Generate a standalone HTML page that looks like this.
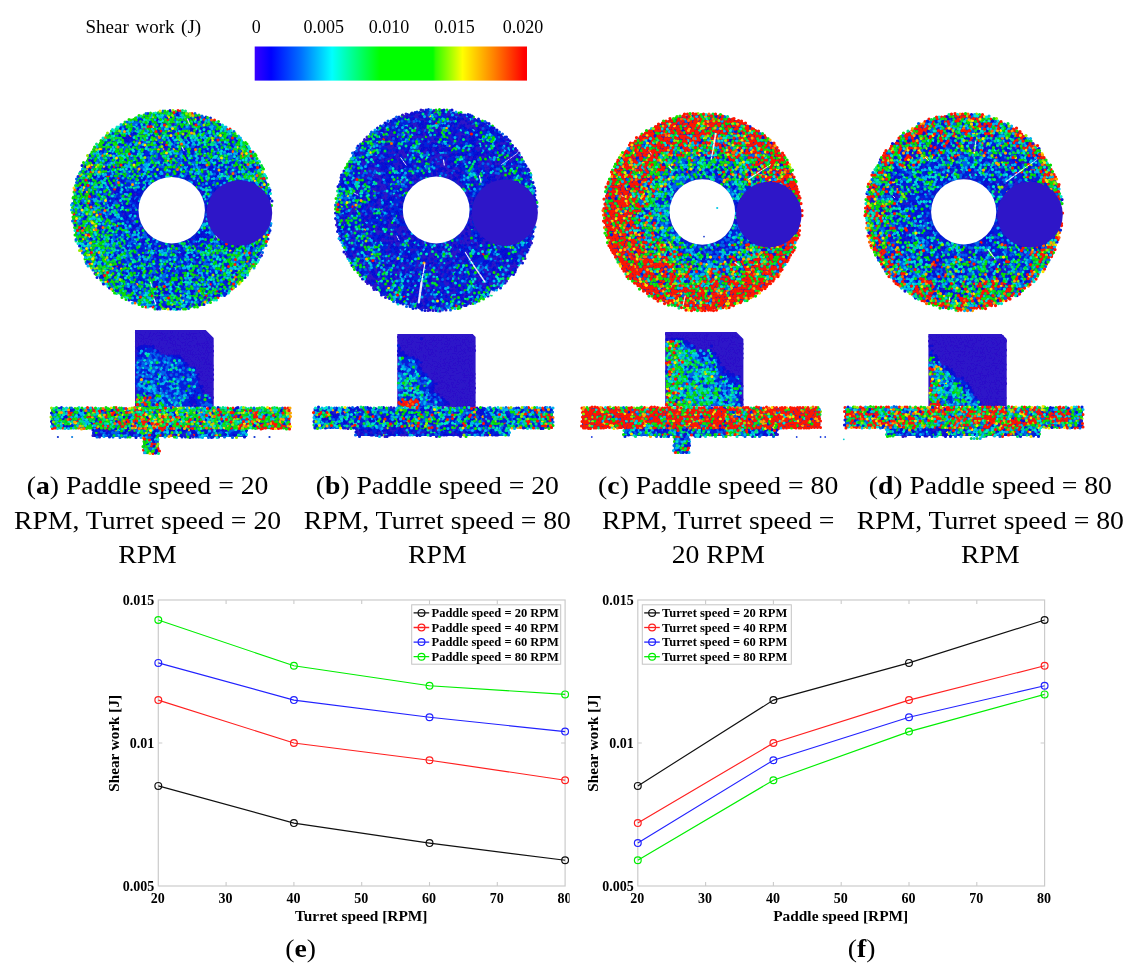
<!DOCTYPE html>
<html><head><meta charset="utf-8"><title>Shear work</title>
<style>html,body{margin:0;padding:0;background:#fff}svg{display:block}</style></head>
<body><svg width="1133" height="972" viewBox="0 0 1133 972">
<rect width="1133" height="972" fill="#fff"/>
<defs><filter id="bl" x="0" y="0" width="1133" height="480" filterUnits="userSpaceOnUse"><feGaussianBlur stdDeviation="0.55"/></filter><linearGradient id="cb" x1="0" x2="1" y1="0" y2="0">
<stop offset="0" stop-color="#3800ff"/><stop offset="0.06" stop-color="#0000ff"/><stop offset="0.17" stop-color="#0070ff"/><stop offset="0.284" stop-color="#00ffff"/>
<stop offset="0.36" stop-color="#00ff90"/><stop offset="0.46" stop-color="#00ff00"/><stop offset="0.655" stop-color="#00ff00"/><stop offset="0.665" stop-color="#30ff00"/><stop offset="0.763" stop-color="#ffff00"/>
<stop offset="0.88" stop-color="#ff8000"/><stop offset="0.99" stop-color="#ff0000"/></linearGradient></defs>
<rect x="254.7" y="46.5" width="272.3" height="34.1" fill="url(#cb)"/>
<g filter="url(#bl)"><circle cx="171.7" cy="210.2" r="99" fill="#0a28c8"/><g transform="scale(0.5)" fill="none" stroke-linecap="round" stroke-width="6"><path stroke="#ff1500" d="M356 221h0m5 1h0m23 5h0m24 12h0m-73 1h0m125 18h0m-138 4h0m-93 71h0m-47 10h0m32 8h0m3 2h0m19 4h0m286 0h0m-361 14h0m68 7h0m-52 29h0m-29 21h0m2 15h0m85 8h0m301 18h0m-356 59h0m55 4h0m-20 31h0m206 5h0m43 10h0m-29 4h0m-22 9h0m-109 1h0m-12 22h0m14 0h0"/><path stroke="#ff1c00" d="M399 235h0m-112 23h0m167 1h0m-98 8h0m-23 23h0m10 26h0m-162 19h0m342 39h0m-322 54h0m306 100h0m-65 12h0m18 24h0m-147 10h0m123 21h0"/><path stroke="#ff6600" d="M261 271h0m-50 4h0m255 28h0m-261 8h0m280 2h0m-123 16h0m-202 22h0m8 104h0m321 51h0m6 17h0m-225 83h0"/><path stroke="#fda800" d="M202 298h0m124 0h0m-9 1h0m30 0h0m-12 23h0m-162 18h0m0 44h0m-7 94h0m-3 23h0m47 18h0m15 18h0m17 0h0m32 32h0"/><path stroke="#fae500" d="M338 234h0m53 5h0m-139 9h0m55 5h0m31 10h0m87 18h0m50 14h0m-276 4h0m15 9h0m-30 21h0m-6 2h0m31 2h0m-16 1h0m317 28h0m-342 13h0m-20 1h0m40 83h0m-9 14h0m282 29h0m-283 8h0m6 18h0m12 19h0m15 17h0m270 0h0m-114 37h0"/><path stroke="#96eb00" d="M335 231h0m-29 3h0m-91 32h0m103 6h0m-5 7h0m46 0h0m-35 5h0m161 14h0m2 4h0m21 22h0m-322 19h0m-23 6h0m14 4h0m-11 28h0m23 66h0m-7 49h0m95 13h0m-73 2h0m296 18h0m-317 7h0m318 0h0m-312 1h0m133 3h0m-115 1h0m255 0h0m15 0h0m21 1h0m-276 8h0m246 9h0m-107 32h0m-32 10h0m16 8h0m-19 8h0"/><path stroke="#1ee400" d="M328 227h0m-40 3h0m60 14h0m5 10h0m27 8h0m-2 4h0m-69 11h0m119 0h0m-123 9h0m182 7h0m3 13h0m-148 19h0m-166 1h0m253 4h0m-232 4h0m15 8h0m-10 1h0m64 0h0m98 1h0m-111 3h0m-73 1h0m344 14h0m-376 22h0m-1 10h0m-2 21h0m33 5h0m68 0h0m-69 4h0m6 4h0m9 6h0m-32 1h0m59 6h0m-42 1h0m36 1h0m-60 3h0m92 14h0m-61 4h0m10 1h0m-39 12h0m59 20h0m176 0h0m-80 3h0m178 23h0m-145 9h0m-137 4h0m80 15h0m-54 12h0m182 2h0m-110 17h0m18 5h0m-8 4h0m93 0h0m-75 5h0m27 0h0m-36 17h0"/><path stroke="#15e200" d="M322 226h0m50 4h0m3 5h0m-20 4h0m-82 1h0m-8 13h0m176 0h0m-47 1h0m-161 8h0m28 0h0m178 5h0m-141 1h0m138 2h0m-150 2h0m-5 9h0m-80 5h0m2 3h0m30 0h0m42 0h0m36 0h0m166 0h0m-264 8h0m30 1h0m250 1h0m-138 4h0m119 0h0m-30 8h0m-24 4h0m-51 1h0m-192 1h0m-2 5h0m263 0h0m68 0h0m-298 2h0m296 2h0m-166 8h0m161 18h0m-40 4h0m-19 1h0m87 9h0m-339 4h0m206 4h0m-206 6h0m-12 9h0m-29 22h0m17 0h0m-14 22h0m25 4h0m-28 1h0m2 17h0m384 19h0m-332 10h0m-5 4h0m239 4h0m71 0h0m17 0h0m-8 14h0m-281 9h0m264 0h0m-323 4h0m52 1h0m-15 4h0m108 5h0m90 3h0m-57 1h0m122 12h0m-161 1h0m75 3h0m-156 2h0m101 3h0m-110 5h0m260 2h0m-241 2h0m-21 1h0m224 4h0m-22 14h0m-84 10h0m-96 3h0m161 11h0m-44 2h0m-2 7h0m8 3h0"/><path stroke="#0be000" d="M336 223h0m27 4h0m-85 4h0m7 4h0m-27 4h0m179 4h0m-101 5h0m-73 1h0m109 1h0m68 7h0m-147 1h0m123 4h0m-9 4h0m-177 1h0m168 1h0m-77 3h0m-50 1h0m-48 8h0m67 0h0m-88 1h0m245 0h0m-127 3h0m166 1h0m-269 1h0m256 3h0m-275 1h0m1 3h0m269 5h0m-278 6h0m232 3h0m88 1h0m-56 3h0m-185 1h0m97 0h0m125 0h0m-212 1h0m25 0h0m-49 3h0m72 0h0m44 4h0m95 0h0m-162 1h0m-102 4h0m37 0h0m-12 4h0m260 0h0m-319 2h0m-1 2h0m76 1h0m249 4h0m-109 1h0m-107 4h0m233 0h0m-54 4h0m-218 1h0m47 1h0m-104 8h0m82 1h0m-11 9h0m-80 21h0m-3 6h0m375 17h0m-378 22h0m17 0h0m-36 1h0m96 13h0m-87 4h0m55 4h0m44 6h0m282 0h0m-383 5h0m21 9h0m-10 7h0m354 1h0m13 4h0m-212 5h0m208 0h0m-328 1h0m-11 3h0m286 0h0m-255 1h0m123 1h0m-44 3h0m74 0h0m-163 1h0m-18 2h0m153 0h0m-172 2h0m114 0h0m-117 3h0m16 1h0m286 0h0m-47 1h0m52 0h0m-186 2h0m-82 2h0m285 0h0m-209 12h0m16 0h0m-53 1h0m-50 3h0m50 7h0m78 0h0m159 2h0m-241 1h0m137 0h0m-42 2h0m-39 3h0m25 0h0m-120 1h0m199 7h0m73 0h0m-232 5h0m233 0h0m-129 1h0m-22 5h0m80 4h0m-160 3h0m54 0h0m-80 1h0m191 3h0m-86 6h0m-76 5h0m193 0h0m-170 4h0m141 10h0m-9 8h0m-119 4h0m69 1h0"/><path stroke="#02de00" d="M293 230h0m47 0h0m38 6h0m-111 3h0m121 1h0m-7 1h0m-54 2h0m48 0h0m-64 2h0m-64 4h0m109 0h0m43 4h0m-176 9h0m141 0h0m-22 1h0m-107 5h0m10 2h0m108 0h0m-16 1h0m113 4h0m41 10h0m-185 5h0m148 3h0m-249 1h0m285 0h0m-11 3h0m-246 1h0m78 0h0m-36 1h0m99 0h0m-159 4h0m29 5h0m-34 3h0m43 0h0m228 0h0m31 0h0m-24 5h0m-104 1h0m-127 3h0m17 0h0m9 0h0m70 4h0m-98 1h0m234 0h0m-17 1h0m-210 3h0m121 0h0m91 0h0m-284 1h0m176 0h0m122 4h0m-34 4h0m-253 1h0m203 5h0m-23 3h0m105 0h0m36 0h0m-353 2h0m16 0h0m62 0h0m48 0h0m-113 3h0m48 0h0m5 0h0m15 0h0m212 0h0m-62 1h0m17 0h0m-201 3h0m199 4h0m-223 2h0m26 0h0m-54 3h0m32 1h0m340 3h0m-366 1h0m22 9h0m-13 5h0m8 4h0m-34 4h0m47 0h0m-26 1h0m-28 3h0m27 6h0m84 0h0m-108 1h0m83 7h0m2 4h0m-58 1h0m19 5h0m5 1h0m3 12h0m12 6h0m-21 9h0m16 0h0m-30 9h0m55 3h0m-39 1h0m-36 1h0m23 7h0m-23 1h0m44 0h0m14 1h0m40 3h0m-63 1h0m-23 3h0m-13 4h0m368 0h0m-325 5h0m203 0h0m-3 4h0m21 2h0m-11 2h0m-209 1h0m250 0h0m-184 4h0m200 1h0m-59 4h0m-110 6h0m-130 7h0m71 0h0m-51 2h0m131 0h0m134 0h0m-179 2h0m-58 1h0m131 0h0m79 4h0m84 0h0m-331 5h0m281 0h0m10 0h0m-74 6h0m-196 3h0m15 2h0m148 2h0m-124 1h0m105 0h0m-101 4h0m203 0h0m-53 1h0m47 0h0m-142 4h0m-91 1h0m61 3h0m74 0h0m21 0h0m-25 5h0m-122 4h0m10 1h0m135 0h0m42 8h0m-114 1h0m88 0h0m-90 4h0m120 0h0m20 0h0m-123 4h0m64 0h0m46 1h0m-116 1h0m-48 4h0m135 0h0m-97 3h0m115 2h0m-153 2h0m88 9h0m53 1h0m-13 5h0"/><path stroke="#00e138" d="M365 241h0m-115 3h0m6 5h0m106 0h0m37 9h0m-121 8h0m188 0h0m-253 5h0m120 0h0m119 0h0m-227 4h0m11 0h0m5 1h0m41 1h0m171 3h0m-40 4h0m-186 2h0m177 0h0m-3 2h0m40 0h0m-232 5h0m48 0h0m156 1h0m-173 4h0m66 1h0m73 7h0m-131 1h0m256 0h0m-322 1h0m236 4h0m59 1h0m-175 2h0m-95 1h0m125 0h0m15 1h0m4 4h0m124 0h0m-155 8h0m30 0h0m108 4h0m-209 1h0m15 0h0m-89 13h0m127 5h0m40 0h0m47 1h0m-232 3h0m99 0h0m221 0h0m14 0h0m42 0h0m-378 5h0m303 1h0m59 3h0m-348 1h0m21 0h0m236 4h0m-275 1h0m20 35h0m29 4h0m-25 1h0m33 4h0m-5 1h0m30 9h0m-56 9h0m21 7h0m-50 5h0m14 6h0m87 9h0m38 7h0m-64 2h0m12 8h0m296 0h0m-20 5h0m-261 4h0m46 0h0m91 6h0m133 3h0m-291 1h0m146 0h0m45 8h0m-3 4h0m64 2h0m-278 2h0m36 0h0m275 0h0m-265 2h0m224 0h0m-237 3h0m126 1h0m-139 4h0m-51 1h0m276 0h0m-14 3h0m11 1h0m41 1h0m-284 4h0m295 4h0m-186 6h0m175 3h0m9 0h0m-32 4h0m-12 1h0m-64 4h0m-65 6h0m-22 2h0m4 1h0m82 0h0m-118 1h0m-18 3h0m76 4h0m-24 5h0m57 0h0m93 1h0m-154 4h0m138 5h0m-55 5h0m35 4h0m7 3h0m-140 1h0m75 6h0m25 3h0m-53 8h0m-20 1h0"/><path stroke="#00e481" d="M365 221h0m6 1h0m-64 5h0m14 4h0m-3 4h0m-22 9h0m42 0h0m21 0h0m51 1h0m-102 5h0m-72 7h0m22 1h0m13 5h0m-29 3h0m70 4h0m68 1h0m-156 1h0m135 0h0m-139 4h0m140 1h0m-132 2h0m136 1h0m65 4h0m-6 1h0m-230 3h0m196 1h0m-176 1h0m125 0h0m-106 3h0m110 0h0m-62 5h0m208 0h0m-234 9h0m20 5h0m-93 5h0m266 0h0m-215 3h0m14 0h0m101 0h0m155 0h0m-58 2h0m75 2h0m-217 1h0m98 0h0m-73 1h0m-123 4h0m235 0h0m-177 8h0m260 0h0m-338 2h0m196 4h0m-138 3h0m204 4h0m58 9h0m17 1h0m-328 9h0m37 4h0m43 0h0m146 0h0m-7 1h0m-144 1h0m17 2h0m125 1h0m3 4h0m-185 4h0m-16 11h0m-56 9h0m52 0h0m207 0h0m-257 4h0m30 3h0m-17 2h0m101 3h0m-51 9h0m-26 10h0m25 17h0m199 0h0m-237 6h0m33 3h0m214 9h0m-259 1h0m70 1h0m185 3h0m-273 4h0m23 0h0m201 0h0m-167 2h0m317 2h0m-224 2h0m31 0h0m-118 4h0m151 0h0m149 3h0m-270 1h0m-44 6h0m135 0h0m-122 4h0m254 0h0m-42 8h0m49 5h0m-208 1h0m197 3h0m-263 5h0m101 4h0m56 0h0m-171 1h0m218 0h0m74 0h0m-269 4h0m-19 5h0m303 0h0m-3 3h0m-220 6h0m190 4h0m2 4h0m-167 1h0m56 12h0m-116 1h0m5 0h0m193 0h0m-154 4h0m29 13h0m-59 4h0m35 2h0m63 0h0m73 0h0m-19 4h0m-52 8h0"/><path stroke="#00e5cf" d="M311 226h0m14 5h0m29 3h0m48 5h0m-77 2h0m66 2h0m-70 1h0m-38 5h0m-49 5h0m4 0h0m31 0h0m179 0h0m-135 4h0m18 0h0m61 0h0m70 3h0m-103 1h0m83 0h0m-220 4h0m197 0h0m-191 6h0m186 3h0m-88 1h0m119 0h0m-143 3h0m-90 1h0m137 1h0m-107 3h0m120 0h0m47 0h0m41 0h0m-214 1h0m141 0h0m21 0h0m12 4h0m-34 4h0m121 0h0m-203 1h0m205 3h0m-277 1h0m230 0h0m-16 1h0m-240 3h0m24 0h0m276 0h0m-192 1h0m106 3h0m-201 1h0m233 0h0m-245 1h0m79 0h0m-13 3h0m19 1h0m151 0h0m-184 3h0m33 0h0m-54 1h0m199 0h0m-90 1h0m-137 3h0m286 0h0m32 2h0m-88 3h0m-207 1h0m202 0h0m-100 3h0m176 1h0m-241 5h0m47 0h0m-54 3h0m-7 1h0m239 0h0m33 1h0m-259 3h0m30 4h0m108 0h0m110 0h0m-312 1h0m11 0h0m238 0h0m85 1h0m-270 2h0m78 1h0m105 1h0m9 0h0m21 0h0m-299 3h0m329 0h0m-317 1h0m240 1h0m-31 3h0m104 0h0m-320 5h0m94 0h0m6 1h0m-74 7h0m85 0h0m-38 2h0m0 12h0m160 0h0m-206 5h0m206 5h0m-166 9h0m-71 12h0m69 1h0m10 0h0m-95 8h0m79 1h0m-35 12h0m-9 2h0m-20 3h0m237 5h0m-12 14h0m-121 1h0m-7 11h0m-46 2h0m175 4h0m24 0h0m-267 4h0m5 0h0m5 1h0m11 0h0m92 0h0m-94 3h0m264 0h0m-67 2h0m-174 4h0m50 0h0m42 0h0m-54 3h0m140 0h0m12 0h0m66 1h0m58 0h0m-193 1h0m93 0h0m-193 3h0m76 0h0m80 1h0m4 0h0m-54 3h0m160 0h0m11 0h0m-89 1h0m104 1h0m-330 3h0m301 0h0m-306 1h0m219 0h0m84 1h0m-217 2h0m172 0h0m-50 4h0m131 2h0m-326 4h0m194 1h0m-87 3h0m79 1h0m4 0h0m48 0h0m42 0h0m20 0h0m-227 4h0m88 0h0m97 4h0m-234 1h0m64 3h0m182 0h0m-222 2h0m-39 3h0m78 0h0m-22 1h0m7 8h0m105 4h0m99 0h0m-83 1h0m-176 1h0m170 0h0m-133 2h0m49 0h0m-76 6h0m125 1h0m16 0h0m58 4h0m-147 3h0m-21 1h0m68 1h0m-24 3h0m110 0h0m10 0h0m46 0h0m-83 1h0m-85 3h0m4 0h0m150 1h0m-188 4h0m50 4h0m-5 1h0m62 0h0m71 0h0m-148 5h0m57 0h0m-33 3h0m-14 1h0m73 1h0m-72 4h0m51 4h0m5 1h0"/><path stroke="#00b6ef" d="M362 230h0m-61 4h0m-36 9h0m-6 1h0m138 4h0m-155 1h0m31 0h0m31 9h0m32 0h0m114 0h0m-174 5h0m76 0h0m105 0h0m-164 3h0m10 1h0m99 0h0m-150 1h0m158 4h0m-7 3h0m-68 1h0m39 3h0m-89 2h0m198 0h0m-265 8h0m53 0h0m98 0h0m27 0h0m-11 1h0m-191 3h0m52 1h0m63 0h0m162 0h0m-55 4h0m40 1h0m-230 5h0m203 0h0m9 0h0m-245 3h0m40 0h0m131 0h0m105 0h0m5 0h0m-189 1h0m177 0h0m-206 3h0m-56 1h0m37 0h0m93 0h0m27 4h0m7 0h0m146 1h0m-242 3h0m125 0h0m10 1h0m-197 1h0m254 0h0m20 0h0m-221 3h0m198 0h0m-94 1h0m-148 3h0m43 0h0m19 0h0m109 0h0m78 0h0m47 1h0m7 1h0m-227 3h0m83 0h0m21 0h0m42 0h0m66 0h0m-204 4h0m73 0h0m25 0h0m12 0h0m4 0h0m15 0h0m-211 4h0m74 0h0m-115 1h0m16 0h0m230 1h0m62 0h0m36 0h0m-295 3h0m214 0h0m-120 2h0m-112 2h0m72 1h0m8 0h0m125 0h0m25 1h0m20 0h0m53 0h0m-299 4h0m72 0h0m129 1h0m58 0h0m-235 3h0m56 0h0m222 4h0m-223 4h0m-77 1h0m-24 4h0m5 0h0m64 0h0m-95 1h0m-10 1h0m65 4h0m-55 5h0m3 12h0m79 0h0m-59 1h0m6 0h0m67 0h0m19 3h0m-124 1h0m16 0h0m19 0h0m11 0h0m20 0h0m7 8h0m-11 1h0m-66 4h0m68 1h0m-75 4h0m41 1h0m28 7h0m-47 2h0m98 0h0m-50 4h0m25 0h0m-54 3h0m86 6h0m272 4h0m-133 1h0m-3 2h0m-236 1h0m54 1h0m-15 8h0m66 1h0m130 0h0m-147 3h0m155 1h0m-179 5h0m11 0h0m39 5h0m-29 2h0m151 0h0m-197 1h0m98 1h0m-34 3h0m-37 1h0m156 0h0m37 0h0m-205 4h0m284 0h0m-291 2h0m-37 2h0m76 0h0m6 0h0m151 0h0m88 0h0m-337 1h0m213 1h0m40 2h0m81 1h0m-4 1h0m-288 3h0m25 0h0m27 0h0m46 1h0m193 0h0m-73 1h0m-238 2h0m173 1h0m114 1h0m-258 4h0m213 1h0m-148 2h0m150 0h0m-237 2h0m223 0h0m51 0h0m-90 4h0m-146 1h0m188 0h0m8 2h0m-99 1h0m-137 1h0m11 0h0m267 0h0m-260 3h0m136 1h0m-94 1h0m239 0h0m-205 3h0m198 0h0m-209 1h0m48 0h0m46 0h0m2 3h0m111 0h0m-162 1h0m146 0h0m-125 1h0m149 3h0m-204 1h0m147 0h0m-11 1h0m-23 3h0m-141 1h0m213 0h0m-180 3h0m114 0h0m3 5h0m-30 1h0m27 7h0m-85 1h0m11 0h0m49 4h0m93 0h0m-56 1h0m-77 7h0m56 1h0m-122 4h0m177 1h0m-154 4h0m83 0h0m-58 4h0m102 0h0m-47 2h0m-76 4h0m-9 8h0m-15 1h0m139 0h0m-43 4h0m-69 1h0m9 4h0"/><path stroke="#0064ea" d="M390 227h0m-59 3h0m19 0h0m54 2h0m1 3h0m-125 1h0m48 0h0m-74 8h0m140 0h0m-123 1h0m6 0h0m74 3h0m-84 1h0m156 1h0m-112 3h0m17 0h0m103 0h0m-186 1h0m171 0h0m-139 3h0m153 0h0m-165 6h0m182 0h0m-22 3h0m-77 4h0m114 0h0m-147 6h0m16 0h0m103 1h0m-117 4h0m6 0h0m146 0h0m-180 4h0m-26 1h0m18 4h0m42 0h0m25 0h0m99 0h0m20 0h0m-115 3h0m35 0h0m-15 1h0m10 0h0m21 0h0m21 0h0m-146 1h0m163 2h0m-118 1h0m-24 4h0m135 0h0m46 0h0m-171 1h0m64 3h0m-67 1h0m141 0h0m-43 1h0m-215 3h0m126 0h0m73 0h0m26 0h0m46 1h0m-241 3h0m259 0h0m-275 2h0m57 0h0m6 0h0m192 0h0m-236 3h0m77 0h0m21 0h0m128 0h0m22 0h0m-115 1h0m142 0h0m-182 1h0m62 0h0m-113 2h0m120 0h0m-93 1h0m5 0h0m-78 1h0m141 0h0m-148 3h0m112 4h0m172 0h0m-178 1h0m35 0h0m-166 1h0m34 3h0m251 0h0m25 0h0m-51 2h0m-201 3h0m218 0h0m-208 1h0m195 3h0m64 0h0m-256 1h0m46 0h0m43 1h0m-91 2h0m103 2h0m125 0h0m-251 3h0m83 0h0m4 0h0m-26 1h0m104 0h0m47 0h0m-291 1h0m376 2h0m-233 2h0m83 0h0m109 0h0m5 0h0m-261 3h0m31 0h0m168 6h0m-253 3h0m48 0h0m16 1h0m-46 4h0m-42 5h0m54 3h0m4 1h0m22 0h0m301 0h0m-343 1h0m81 3h0m-43 1h0m12 0h0m-47 1h0m66 0h0m-78 3h0m87 0h0m145 0h0m-208 1h0m-42 3h0m66 1h0m-18 3h0m48 0h0m-95 1h0m16 0h0m52 0h0m-36 1h0m-9 4h0m22 1h0m60 4h0m-35 4h0m-80 4h0m46 0h0m-48 5h0m11 9h0m70 1h0m13 0h0m-68 8h0m27 5h0m6 0h0m68 0h0m-99 1h0m79 2h0m-31 1h0m44 0h0m3 1h0m261 0h0m-118 3h0m-217 1h0m221 3h0m-3 5h0m5 0h0m-271 1h0m74 0h0m7 3h0m-9 2h0m37 2h0m-112 2h0m292 3h0m-181 1h0m259 1h0m-112 3h0m-133 1h0m104 0h0m-170 3h0m11 0h0m51 0h0m-41 1h0m4 0h0m145 0h0m114 0h0m-98 1h0m-205 2h0m108 0h0m-39 2h0m36 0h0m212 0h0m-140 1h0m-179 2h0m26 0h0m25 0h0m32 1h0m67 0h0m167 0h0m-286 1h0m125 0h0m57 0h0m-149 3h0m58 0h0m213 0h0m-250 1h0m207 0h0m21 0h0m-293 3h0m47 1h0m47 0h0m130 0h0m11 1h0m63 2h0m-244 1h0m11 0h0m-46 1h0m109 0h0m10 0h0m-95 4h0m77 1h0m4 0h0m132 0h0m-284 2h0m98 1h0m130 0h0m63 1h0m-300 3h0m131 1h0m72 0h0m-84 4h0m36 0h0m172 0h0m-251 1h0m57 1h0m-120 6h0m43 0h0m172 0h0m36 1h0m-188 1h0m57 0h0m51 3h0m-53 1h0m26 0h0m20 0h0m95 0h0m-102 4h0m72 1h0m-142 3h0m52 1h0m67 0h0m36 1h0m-55 3h0m-81 1h0m36 0h0m81 3h0m35 0h0m-192 1h0m-30 4h0m64 0h0m31 1h0m32 0h0m42 3h0m-166 1h0m80 0h0m104 0h0m-143 4h0m180 0h0m-206 1h0m37 0h0m94 5h0m56 2h0m-140 1h0m-4 4h0m-4 1h0m139 0h0m-15 1h0m-81 3h0m105 0h0m-56 4h0m37 1h0m-30 4h0m17 0h0m-63 1h0m-49 4h0m72 0h0m29 3h0m-42 3h0m-22 3h0m40 0h0"/><path stroke="#0022de" d="M296 227h0m93 7h0m23 0h0m-69 1h0m-10 1h0m32 8h0m41 0h0m-48 9h0m10 0h0m-88 1h0m-13 3h0m146 0h0m-30 5h0m-34 1h0m-123 3h0m114 0h0m-68 2h0m47 0h0m-64 3h0m172 0h0m-63 1h0m-145 8h0m47 1h0m-56 3h0m46 0h0m90 0h0m26 0h0m-58 1h0m-92 4h0m23 1h0m159 0h0m48 0h0m-107 3h0m-82 1h0m20 0h0m157 0h0m-10 1h0m-62 2h0m-160 1h0m9 0h0m146 0h0m47 0h0m-24 1h0m-14 3h0m-171 1h0m92 1h0m73 0h0m53 0h0m-190 3h0m-6 1h0m65 4h0m5 0h0m26 0h0m26 1h0m7 3h0m37 0h0m-66 1h0m-30 3h0m93 0h0m13 0h0m29 0h0m-150 1h0m-66 4h0m58 0h0m197 0h0m-144 1h0m50 0h0m-43 3h0m93 0h0m-109 1h0m137 0h0m4 0h0m51 0h0m-283 3h0m219 1h0m41 0h0m-250 1h0m42 0h0m-6 3h0m107 0h0m74 0h0m9 0h0m-119 1h0m83 0h0m-251 3h0m134 0h0m130 0h0m-125 1h0m5 0h0m42 0h0m73 0h0m43 0h0m31 0h0m-275 1h0m159 0h0m-117 4h0m46 3h0m-116 1h0m-46 1h0m115 0h0m151 0h0m-222 3h0m99 1h0m93 0h0m16 1h0m-143 2h0m22 0h0m196 0h0m-244 1h0m214 0h0m-277 1h0m243 3h0m26 0h0m-189 1h0m28 0h0m140 0h0m83 0h0m-253 3h0m146 0h0m-193 1h0m41 0h0m39 0h0m-28 1h0m156 0h0m13 3h0m11 0h0m89 0h0m-93 1h0m-232 4h0m37 0h0m187 0h0m-189 9h0m-82 1h0m381 3h0m-259 1h0m-39 4h0m-41 1h0m31 0h0m191 0h0m-6 4h0m-230 1h0m86 4h0m-101 4h0m15 1h0m22 0h0m34 2h0m15 1h0m-42 1h0m46 0h0m-54 4h0m34 4h0m32 0h0m-57 1h0m50 0h0m11 0h0m-57 9h0m44 4h0m16 0h0m-35 5h0m-80 3h0m98 1h0m-111 3h0m47 2h0m-3 4h0m66 3h0m-21 1h0m162 0h0m-188 1h0m327 0h0m-330 3h0m197 0h0m-186 1h0m29 4h0m161 1h0m-159 3h0m167 1h0m14 0h0m-21 1h0m124 3h0m-344 1h0m47 0h0m152 0h0m-189 1h0m205 3h0m6 1h0m-242 3h0m245 0h0m30 1h0m-132 3h0m-26 1h0m-54 4h0m4 0h0m26 0h0m23 0h0m40 0h0m73 0h0m-5 1h0m87 0h0m-236 3h0m67 0h0m189 1h0m-16 1h0m-206 3h0m-51 1h0m118 0h0m-74 5h0m-76 2h0m293 0h0m-220 1h0m89 0h0m30 0h0m-172 2h0m116 0h0m24 2h0m-111 1h0m27 0h0m-79 1h0m318 0h0m-253 2h0m94 0h0m-178 1h0m142 0h0m183 0h0m-265 1h0m10 0h0m5 0h0m186 1h0m-231 2h0m73 0h0m94 0h0m-58 1h0m140 0h0m26 0h0m-208 1h0m60 3h0m-20 1h0m5 0h0m103 0h0m-151 4h0m124 0h0m-46 1h0m-87 3h0m165 0h0m-149 1h0m82 0h0m6 0h0m47 0h0m58 0h0m-175 4h0m124 0h0m-98 1h0m89 0h0m16 0h0m-195 2h0m83 0h0m-33 1h0m-1 4h0m15 0h0m150 0h0m-250 1h0m31 1h0m215 0h0m-108 2h0m5 1h0m-118 1h0m56 0h0m11 0h0m-12 3h0m161 0h0m-141 1h0m57 1h0m97 0h0m-214 2h0m229 0h0m-127 5h0m92 1h0m-168 4h0m-11 1h0m173 0h0m-102 3h0m35 0h0m90 0h0m-213 1h0m126 4h0m7 0h0m-37 1h0m-52 1h0m176 0h0m-54 2h0m37 0h0m-167 1h0m170 0h0m11 0h0m-178 4h0m93 1h0m-101 3h0m62 0h0m-57 1h0m5 0h0m78 0h0m32 1h0m-76 3h0m21 0h0m49 4h0m-77 4h0m37 2h0"/><path stroke="#070cd4" d="M354 225h0m-40 14h0m73 10h0m-146 8h0m12 1h0m130 1h0m49 2h0m-163 5h0m-7 2h0m-4 7h0m83 0h0m10 0h0m16 1h0m89 0h0m-209 1h0m130 0h0m30 2h0m66 0h0m-93 1h0m40 0h0m-165 1h0m206 4h0m-42 1h0m-92 4h0m91 3h0m46 0h0m-72 2h0m21 8h0m-10 1h0m-34 3h0m-71 5h0m-75 4h0m142 4h0m-178 6h0m249 0h0m48 0h0m6 3h0m-87 1h0m57 0h0m-296 1h0m234 0h0m35 0h0m-132 2h0m11 1h0m67 0h0m47 0h0m-187 1h0m264 3h0m-287 1h0m202 0h0m-178 3h0m216 2h0m-141 3h0m72 0h0m88 0h0m-177 1h0m58 0h0m-169 3h0m4 0h0m184 0h0m94 1h0m-225 1h0m136 0h0m51 0h0m-242 3h0m100 1h0m111 3h0m25 2h0m17 0h0m-216 3h0m177 0h0m6 0h0m-22 1h0m51 0h0m-273 3h0m33 0h0m198 0h0m25 1h0m-203 1h0m76 3h0m-57 2h0m-81 2h0m93 1h0m32 0h0m-46 1h0m29 0h0m-28 3h0m12 0h0m13 0h0m12 0h0m10 0h0m147 0h0m-173 1h0m10 0h0m150 0h0m122 0h0m-309 1h0m184 9h0m-8 3h0m-173 1h0m32 0h0m10 0h0m-3 3h0m147 0h0m125 1h0m-293 1h0m16 0h0m-42 2h0m-63 2h0m86 0h0m-68 3h0m73 1h0m11 0h0m-44 9h0m29 4h0m11 1h0m-34 4h0m46 0h0m-65 4h0m21 1h0m20 0h0m7 0h0m-4 4h0m-13 5h0m21 0h0m16 7h0m-4 2h0m-3 3h0m-43 1h0m40 4h0m150 0h0m-152 5h0m141 0h0m2 3h0m10 1h0m-249 1h0m231 3h0m11 1h0m-227 3h0m78 1h0m135 0h0m-93 1h0m-70 3h0m77 0h0m-32 1h0m7 0h0m118 1h0m-151 8h0m89 0h0m11 0h0m58 0h0m-78 1h0m144 0h0m28 2h0m-140 1h0m100 0h0m-181 1h0m103 0h0m22 3h0m-37 5h0m-131 1h0m78 0h0m-96 3h0m88 0h0m47 0h0m160 0h0m-248 1h0m27 0h0m145 0h0m-209 1h0m146 0h0m23 2h0m-20 1h0m-65 4h0m-32 2h0m110 0h0m-98 2h0m48 1h0m60 4h0m-110 2h0m42 0h0m-106 3h0m10 1h0m169 4h0m-90 4h0m155 0h0m-177 1h0m47 0h0m123 4h0m-213 1h0m-51 2h0m270 0h0m-166 1h0m53 0h0m-41 1h0m19 1h0m-95 2h0m62 0h0m-57 1h0m142 3h0m-109 2h0m106 0h0m-18 1h0m-60 3h0m115 0h0m-66 1h0m40 0h0m-190 3h0m146 1h0m15 0h0m-105 3h0m177 0h0m-131 1h0m-90 3h0m127 6h0m36 0h0m-104 1h0m52 0h0m2 3h0m6 0h0m-20 1h0m76 9h0m-7 3h0m-70 6h0m91 4h0m-9 1h0m-67 3h0m16 0h0m26 0h0m-59 5h0"/><path stroke="#2d12c9" d="M295 280h0m-25 1h0m175 3h0m-116 1h0m29 4h0m-26 10h0m71 13h0m-85 4h0m83 0h0m-180 33h0m5 34h0m45 6h0m-19 4h0m159 48h0m-209 12h0m68 7h0m161 18h0m-42 8h0m3 6h0m-99 9h0m62 0h0m-48 13h0m77 1h0m117 5h0m-107 3h0m-153 5h0m201 5h0m-127 4h0m33 5h0m52 9h0m-33 4h0m106 4h0m-137 5h0m-66 5h0m41 26h0m99 0h0m-24 13h0m-58 4h0"/><path stroke="#2d12c9" d="M346 248h0m-63 36h0m149 14h0m-21 18h0m93 0h0m-325 4h0m197 9h0m97 6h0m-62 8h0m57 0h0m-139 5h0m130 0h0m-75 12h0m26 2h0m-194 5h0m13 3h0m-13 13h0m188 0h0m-180 5h0m202 0h0m-242 6h0m52 8h0m4 4h0m-12 10h0m28 7h0m-9 5h0m28 5h0m-65 4h0m56 4h0m-10 9h0m27 7h0m-14 17h0m116 4h0m-103 2h0m135 3h0m54 8h0m19 0h0m-165 2h0m100 3h0m6 10h0m-70 3h0m162 2h0m-118 12h0m-174 22h0m156 1h0m-197 1h0m235 27h0m-7 25h0"/><path stroke="#070cd4" d="M340 221h0m15 9h0m41 6h0m0 3h0m-96 10h0m20 0h0m-42 1h0m124 7h0m-41 1h0m51 3h0m-16 1h0m-25 5h0m-132 4h0m59 5h0m-47 1h0m12 0h0m79 2h0m-92 1h0m-42 9h0m57 0h0m52 0h0m63 1h0m82 0h0m-173 3h0m40 1h0m69 1h0m-10 7h0m-100 1h0m167 0h0m-236 4h0m165 1h0m94 0h0m-81 3h0m-24 1h0m-97 4h0m142 4h0m-203 1h0m-30 1h0m256 4h0m-195 3h0m163 0h0m-238 4h0m349 0h0m-110 1h0m12 0h0m26 0h0m-236 1h0m297 0h0m-299 3h0m48 0h0m-79 1h0m104 0h0m36 0h0m48 0h0m76 4h0m-8 4h0m45 1h0m-157 5h0m-97 3h0m53 0h0m94 0h0m4 0h0m-172 2h0m105 0h0m-128 2h0m41 1h0m59 0h0m166 0h0m-252 1h0m17 0h0m32 0h0m60 3h0m-59 1h0m49 1h0m1 2h0m-16 1h0m109 0h0m131 0h0m-238 4h0m126 0h0m16 0h0m-177 2h0m154 3h0m29 0h0m-153 1h0m-88 3h0m-20 1h0m84 0h0m155 0h0m-226 4h0m98 0h0m-114 1h0m100 0h0m9 0h0m131 0h0m-189 3h0m51 0h0m-44 4h0m316 1h0m-323 1h0m2 8h0m56 0h0m-89 1h0m17 0h0m17 3h0m192 0h0m-170 1h0m15 0h0m-92 4h0m111 0h0m139 0h0m-1 4h0m-147 1h0m-22 3h0m6 6h0m16 0h0m-44 4h0m42 0h0m-93 1h0m105 12h0m-25 1h0m13 3h0m-18 5h0m165 0h0m-248 1h0m36 0h0m82 5h0m128 0h0m-169 3h0m43 2h0m111 3h0m-114 1h0m16 0h0m104 0h0m-201 3h0m98 0h0m105 0h0m-131 1h0m121 0h0m31 0h0m-203 1h0m69 2h0m126 1h0m-166 1h0m36 0h0m93 0h0m-159 3h0m153 1h0m67 0h0m-151 1h0m11 0h0m82 0h0m-138 3h0m42 1h0m88 0h0m20 0h0m47 0h0m8 3h0m62 0h0m-203 1h0m47 0h0m-33 4h0m-67 1h0m52 0h0m160 0h0m-1 4h0m-77 4h0m-24 2h0m16 2h0m17 0h0m-114 1h0m29 1h0m54 0h0m85 2h0m-11 1h0m-129 1h0m16 0h0m-23 3h0m92 1h0m-28 4h0m18 4h0m-21 1h0m-17 3h0m-10 1h0m-84 1h0m198 0h0m-216 4h0m57 1h0m161 0h0m-82 3h0m17 0h0m-110 1h0m48 1h0m-82 2h0m37 0h0m78 1h0m67 0h0m-64 4h0m57 0h0m-43 1h0m-173 4h0m285 0h0m-241 5h0m110 0h0m94 0h0m-138 3h0m140 0h0m-168 1h0m26 5h0m99 3h0m32 1h0m-98 1h0m56 0h0m-85 3h0m-62 1h0m71 1h0m-70 3h0m6 0h0m125 0h0m-53 1h0m104 0h0m-85 3h0m31 1h0m44 5h0m-111 3h0m67 1h0m-43 22h0m14 0h0"/><path stroke="#0022de" d="M421 236h0m-139 3h0m95 0h0m-99 1h0m23 4h0m139 5h0m-151 1h0m121 3h0m-160 1h0m67 0h0m23 3h0m48 0h0m29 0h0m-101 4h0m120 1h0m-32 1h0m-68 3h0m9 0h0m48 2h0m-128 3h0m41 0h0m109 0h0m-114 1h0m69 0h0m27 3h0m-120 1h0m193 1h0m-8 2h0m-202 1h0m171 0h0m-98 1h0m50 4h0m10 0h0m-141 1h0m186 2h0m-199 1h0m114 0h0m-55 5h0m36 1h0m-65 3h0m85 0h0m51 0h0m42 0h0m-104 1h0m77 0h0m-147 3h0m109 0h0m-120 1h0m198 0h0m-254 1h0m114 0h0m-55 2h0m27 1h0m140 0h0m-161 1h0m26 0h0m21 0h0m-139 3h0m161 2h0m17 0h0m110 2h0m-92 1h0m-124 4h0m75 0h0m-91 1h0m147 0h0m52 0h0m-66 4h0m-31 1h0m11 0h0m113 0h0m-158 4h0m-20 1h0m88 0h0m13 2h0m21 2h0m-58 3h0m160 0h0m-198 1h0m124 0h0m-108 1h0m151 0h0m-29 2h0m-161 1h0m16 0h0m40 0h0m84 0h0m-156 1h0m10 0h0m47 0h0m27 0h0m140 0h0m-128 3h0m10 0h0m37 0h0m-151 1h0m-46 1h0m125 0h0m68 0h0m-102 3h0m47 0h0m-63 1h0m36 0h0m22 0h0m46 0h0m31 0h0m-205 3h0m22 0h0m138 0h0m-15 1h0m84 0h0m-198 1h0m59 2h0m80 1h0m29 0h0m-259 1h0m89 0h0m182 0h0m5 0h0m-44 3h0m130 2h0m9 0h0m-121 4h0m26 0h0m-278 4h0m62 0h0m2 4h0m37 1h0m280 0h0m-334 4h0m72 0h0m144 0h0m107 0h0m-326 4h0m42 0h0m-56 4h0m47 1h0m-20 9h0m10 0h0m36 0h0m-15 1h0m19 3h0m145 1h0m-165 5h0m28 0h0m-24 3h0m16 0h0m-77 13h0m53 0h0m14 0h0m-50 1h0m204 4h0m-166 1h0m-76 3h0m54 1h0m35 0h0m15 0h0m-39 4h0m17 0h0m24 4h0m-43 1h0m25 1h0m-12 3h0m-5 1h0m-11 9h0m-27 3h0m35 1h0m37 0h0m265 0h0m-300 5h0m-6 4h0m154 1h0m139 2h0m-364 1h0m91 4h0m6 0h0m46 1h0m-50 4h0m67 0h0m64 0h0m14 0h0m-135 1h0m43 0h0m10 0h0m10 0h0m100 0h0m93 0h0m-252 3h0m27 0h0m160 0h0m-296 1h0m145 0h0m58 0h0m98 0h0m-176 1h0m-118 3h0m292 0h0m-187 1h0m45 0h0m17 0h0m73 0h0m42 0h0m-269 3h0m110 1h0m73 0h0m-84 1h0m4 0h0m84 0h0m-102 3h0m192 0h0m7 0h0m56 0h0m-325 4h0m256 0h0m51 0h0m-212 1h0m104 1h0m-75 3h0m24 0h0m21 0h0m59 0h0m-99 1h0m88 1h0m-189 2h0m143 0h0m64 0h0m15 0h0m-186 1h0m234 0h0m-191 4h0m38 0h0m41 0h0m42 0h0m20 0h0m-155 1h0m26 0h0m102 0h0m-147 3h0m130 0h0m-42 1h0m4 0h0m90 0h0m-215 1h0m156 0h0m-199 3h0m51 0h0m23 0h0m134 2h0m-127 2h0m25 0h0m32 0h0m161 0h0m-188 1h0m80 0h0m36 0h0m-62 1h0m12 3h0m-100 1h0m170 3h0m-104 1h0m5 0h0m53 0h0m-120 1h0m76 4h0m83 0h0m-22 1h0m55 2h0m-198 1h0m15 0h0m132 0h0m-213 1h0m140 0h0m-86 3h0m156 0h0m-15 1h0m35 1h0m-174 2h0m69 4h0m59 1h0m41 0h0m-118 1h0m15 0h0m129 0h0m-91 3h0m93 0h0m-165 1h0m79 1h0m-73 3h0m53 1h0m17 0h0m3 0h0m-131 4h0m47 0h0m170 0h0m-41 1h0m-102 4h0m38 0h0m99 0h0m-91 5h0m14 0h0m26 7h0m-139 1h0m51 1h0m61 3h0m31 0h0m-86 4h0m11 1h0m4 0h0m-12 6h0"/><path stroke="#0064ea" d="M326 222h0m34 4h0m-68 1h0m58 13h0m70 4h0m-115 4h0m97 1h0m3 3h0m-129 2h0m102 0h0m-54 3h0m31 0h0m16 0h0m5 0h0m-92 1h0m83 0h0m-77 3h0m37 1h0m141 1h0m-55 4h0m-179 5h0m224 0h0m1 3h0m-19 1h0m-70 3h0m-137 2h0m42 0h0m76 4h0m84 0h0m34 1h0m-215 2h0m-13 6h0m12 0h0m62 0h0m-10 1h0m158 2h0m-213 1h0m145 0h0m-70 4h0m146 0h0m-260 1h0m37 0h0m160 0h0m-46 1h0m144 0h0m-304 3h0m189 0h0m60 0h0m-138 1h0m26 0h0m20 0h0m68 0h0m-197 4h0m236 1h0m-169 2h0m16 0h0m150 0h0m-276 1h0m119 0h0m111 1h0m-55 3h0m-166 1h0m113 0h0m-113 3h0m193 1h0m31 0h0m58 0h0m-122 5h0m-124 1h0m113 0h0m85 2h0m38 0h0m-141 1h0m62 0h0m10 0h0m16 0h0m47 0h0m-181 1h0m5 0h0m78 0h0m-91 3h0m79 0h0m-147 2h0m307 0h0m-138 2h0m-42 1h0m-171 1h0m71 3h0m47 0h0m192 0h0m-99 1h0m30 0h0m27 0h0m-258 4h0m68 0h0m130 0h0m37 0h0m-139 4h0m167 1h0m78 0h0m-318 1h0m110 0h0m-33 3h0m-17 1h0m5 0h0m-106 3h0m113 0h0m162 0h0m-188 2h0m-57 2h0m223 0h0m-172 1h0m41 0h0m-5 1h0m-60 3h0m187 0h0m-223 2h0m-2 3h0m37 1h0m46 0h0m16 0h0m265 0h0m-115 9h0m-200 3h0m-44 6h0m103 0h0m-75 4h0m24 4h0m-84 1h0m9 4h0m113 0h0m-6 8h0m-34 1h0m-79 1h0m9 0h0m4 3h0m35 0h0m22 0h0m-49 4h0m46 1h0m198 0h0m-216 4h0m69 4h0m-39 1h0m3 1h0m-22 2h0m21 0h0m-84 1h0m16 1h0m94 1h0m13 2h0m-110 1h0m58 0h0m325 4h0m-126 1h0m-158 4h0m-10 9h0m41 1h0m-29 2h0m-71 1h0m19 0h0m322 0h0m-238 1h0m-27 4h0m24 0h0m-98 1h0m56 0h0m48 0h0m-118 2h0m53 2h0m-49 4h0m61 0h0m28 0h0m119 0h0m-219 1h0m90 2h0m-72 1h0m250 0h0m-146 1h0m20 0h0m109 0h0m11 0h0m-184 3h0m89 0h0m196 0h0m-104 1h0m89 1h0m-169 2h0m89 0h0m-126 2h0m47 0h0m73 0h0m-101 3h0m21 1h0m170 0h0m-129 1h0m-53 2h0m14 0h0m-61 1h0m-127 1h0m69 0h0m161 0h0m46 0h0m-107 4h0m-79 3h0m6 1h0m244 0h0m15 0h0m-217 1h0m50 0h0m105 0h0m-88 1h0m-170 2h0m110 0h0m36 0h0m-21 1h0m-25 1h0m86 0h0m16 0h0m11 0h0m74 0h0m-113 2h0m-83 1h0m187 0h0m-222 1h0m102 0h0m31 0h0m-132 3h0m240 0h0m-88 1h0m5 0h0m-63 1h0m67 0h0m-205 4h0m19 3h0m128 0h0m42 0h0m21 0h0m-114 1h0m-44 4h0m188 0h0m-229 1h0m15 0h0m93 0h0m22 0h0m-45 3h0m-89 1h0m29 4h0m79 0h0m-33 1h0m7 0h0m27 3h0m-66 1h0m57 0h0m35 0h0m42 0h0m-168 3h0m-22 1h0m57 0h0m54 0h0m121 4h0m31 1h0m-53 1h0m-177 2h0m41 1h0m-21 1h0m6 0h0m-14 3h0m20 0h0m106 0h0m-7 1h0m26 0h0m74 0h0m-83 1h0m-118 4h0m121 0h0m45 0h0m21 0h0m-171 1h0m7 2h0m73 2h0m27 0h0m-138 4h0m135 0h0m-131 1h0m-16 2h0m93 0h0m-5 1h0m38 6h0m7 3h0m-62 1h0m27 0h0m-30 2h0m-22 6h0m88 8h0"/><path stroke="#00b6ef" d="M305 230h0m-31 5h0m49 0h0m41 0h0m-5 1h0m-49 3h0m108 0h0m-6 2h0m-94 2h0m6 6h0m50 4h0m51 0h0m-134 1h0m52 0h0m78 0h0m31 0h0m-206 4h0m178 0h0m-128 3h0m11 0h0m-63 1h0m141 10h0m36 0h0m10 0h0m46 0h0m-69 3h0m-62 1h0m135 0h0m-6 1h0m-85 3h0m-52 1h0m46 0h0m-90 3h0m145 0h0m-72 1h0m88 0h0m-182 1h0m36 0h0m78 0h0m-44 2h0m-82 1h0m170 0h0m-57 1h0m76 3h0m-224 1h0m71 5h0m48 3h0m-67 1h0m171 1h0m-100 2h0m-162 1h0m115 0h0m52 0h0m-112 4h0m120 1h0m20 0h0m49 3h0m69 0h0m-105 1h0m10 0h0m32 1h0m37 0h0m-67 3h0m-119 1h0m135 0h0m89 0h0m-283 4h0m177 0h0m41 0h0m-275 1h0m21 0h0m218 0h0m-123 3h0m5 0h0m43 0h0m57 0h0m-53 1h0m-89 1h0m4 2h0m40 0h0m205 0h0m-48 1h0m-82 1h0m-205 3h0m223 0h0m-100 1h0m15 0h0m-79 3h0m115 0h0m60 1h0m89 0h0m-166 1h0m62 0h0m-60 3h0m67 0h0m111 0h0m-79 1h0m73 0h0m-285 1h0m151 0h0m-139 3h0m-26 1h0m49 3h0m142 1h0m40 0h0m58 1h0m-283 4h0m180 3h0m66 1h0m-150 1h0m114 0h0m102 3h0m10 0h0m-83 1h0m-165 3h0m125 2h0m136 0h0m-132 3h0m-224 1h0m239 0h0m-227 4h0m48 0h0m291 0h0m-279 5h0m164 3h0m-275 18h0m54 4h0m-5 3h0m-2 2h0m18 6h0m20 0h0m32 7h0m-25 2h0m-46 3h0m225 1h0m-258 4h0m68 0h0m-18 5h0m45 4h0m1 5h0m-61 1h0m45 0h0m183 8h0m-262 1h0m113 3h0m-4 1h0m10 0h0m-66 3h0m68 2h0m-90 3h0m213 0h0m-176 5h0m89 0h0m120 0h0m-74 3h0m-126 1h0m-22 1h0m87 4h0m-123 4h0m350 0h0m-358 4h0m156 1h0m-79 4h0m57 0h0m82 0h0m17 0h0m-80 1h0m6 0h0m5 0h0m162 0h0m-269 3h0m-25 1h0m172 0h0m120 0h0m-240 1h0m136 0h0m-166 2h0m64 0h0m89 1h0m-204 1h0m73 0h0m45 3h0m193 0h0m-188 1h0m-78 1h0m148 4h0m-168 3h0m279 2h0m-299 3h0m105 0h0m-59 1h0m48 0h0m65 3h0m32 0h0m47 0h0m15 0h0m21 0h0m11 0h0m47 0h0m-131 1h0m99 1h0m-80 3h0m-141 1h0m148 4h0m80 3h0m-26 1h0m-135 1h0m12 0h0m154 0h0m-64 3h0m-188 1h0m213 0h0m-78 1h0m11 0h0m-148 2h0m77 1h0m132 1h0m-164 4h0m149 0h0m-83 1h0m-132 3h0m125 0h0m92 0h0m7 0h0m-104 1h0m56 0h0m21 0h0m-153 4h0m10 1h0m-39 3h0m112 6h0m37 0h0m-108 4h0m75 0h0m23 4h0m-71 4h0m-31 1h0m63 0h0m25 8h0m31 0h0m-119 2h0m34 4h0m69 3h0"/><path stroke="#00e5cf" d="M315 231h0m-26 8h0m65 5h0m78 0h0m-63 1h0m76 5h0m-122 2h0m121 6h0m-219 1h0m183 0h0m-180 3h0m27 0h0m145 0h0m20 1h0m-131 3h0m-31 1h0m177 0h0m25 0h0m-163 3h0m104 0h0m-11 1h0m-62 1h0m-60 3h0m-62 1h0m88 0h0m88 0h0m11 0h0m-40 3h0m129 6h0m-196 4h0m197 0h0m-127 4h0m78 0h0m-142 4h0m-64 2h0m37 0h0m2 3h0m176 0h0m-51 1h0m-52 1h0m2 4h0m115 0h0m-230 4h0m19 0h0m146 0h0m38 1h0m39 0h0m-272 2h0m182 1h0m-167 1h0m281 0h0m-1 3h0m-175 5h0m-19 4h0m-4 9h0m-53 1h0m121 0h0m-132 1h0m104 0h0m132 0h0m-72 2h0m84 2h0m-311 8h0m145 0h0m53 0h0m166 0h0m-234 1h0m36 0h0m122 4h0m-153 5h0m160 0h0m-256 3h0m4 1h0m-26 1h0m60 3h0m-29 5h0m-54 4h0m83 0h0m281 0h0m-110 1h0m-214 4h0m340 3h0m-316 5h0m183 1h0m-167 8h0m-17 14h0m21 0h0m-90 1h0m11 8h0m14 4h0m51 2h0m39 2h0m-83 2h0m-28 3h0m84 0h0m-63 1h0m19 0h0m47 9h0m168 0h0m-215 1h0m19 4h0m42 0h0m144 3h0m-254 6h0m25 3h0m51 0h0m27 0h0m-63 1h0m344 0h0m-342 4h0m25 8h0m-24 11h0m87 0h0m-111 4h0m317 0h0m-149 5h0m138 3h0m-281 1h0m236 0h0m51 0h0m-279 5h0m104 0h0m110 0h0m36 0h0m-205 4h0m103 1h0m86 3h0m-157 5h0m61 0h0m10 0h0m90 0h0m9 0h0m57 1h0m11 0h0m-195 2h0m-56 2h0m239 0h0m-197 3h0m16 1h0m99 0h0m17 0h0m-223 3h0m42 0h0m173 1h0m6 0h0m-150 5h0m183 0h0m-273 4h0m235 4h0m21 0h0m-40 1h0m-38 1h0m-158 3h0m20 0h0m230 0h0m27 0h0m-120 1h0m-87 3h0m-37 2h0m64 0h0m140 0h0m-39 3h0m6 0h0m-51 5h0m-115 4h0m140 0h0m-94 2h0m117 4h0m-77 4h0m-33 3h0m66 13h0m-100 1h0m105 1h0m12 3h0m-103 1h0m139 0h0m-107 1h0m14 0h0m29 3h0m9 0h0m-9 8h0"/><path stroke="#00e481" d="M338 227h0m28 3h0m-84 2h0m104 2h0m-17 1h0m-70 4h0m-6 1h0m-6 4h0m96 0h0m34 0h0m-123 5h0m82 0h0m-39 4h0m-52 1h0m64 0h0m40 0h0m-115 3h0m-42 1h0m49 3h0m170 1h0m-203 5h0m82 0h0m125 1h0m-179 3h0m111 4h0m-178 5h0m187 0h0m15 0h0m-173 1h0m60 3h0m42 1h0m16 1h0m66 3h0m4 0h0m56 6h0m-57 4h0m-89 4h0m-56 4h0m219 0h0m-104 1h0m-179 3h0m234 0h0m-124 1h0m10 0h0m161 0h0m-211 4h0m168 6h0m-121 3h0m160 0h0m-181 1h0m67 0h0m-179 3h0m20 1h0m224 0h0m37 0h0m-287 8h0m-24 1h0m79 4h0m167 0h0m100 0h0m-64 1h0m-293 3h0m41 1h0m-10 1h0m335 3h0m-260 1h0m213 0h0m15 0h0m-330 3h0m254 0h0m64 1h0m-272 3h0m66 0h0m13 5h0m-85 5h0m21 1h0m-25 3h0m63 0h0m-42 10h0m-70 4h0m7 4h0m-1 6h0m93 0h0m-54 4h0m-34 13h0m54 5h0m-46 1h0m61 0h0m-6 2h0m-42 1h0m55 23h0m-7 3h0m-45 5h0m84 9h0m-101 2h0m17 7h0m19 0h0m11 1h0m29 5h0m53 0h0m-4 3h0m-97 1h0m11 5h0m236 8h0m-281 1h0m62 0h0m159 3h0m-132 1h0m267 0h0m-291 1h0m218 0h0m-268 2h0m229 1h0m42 1h0m-34 3h0m-83 1h0m11 0h0m-105 1h0m25 0h0m202 3h0m-167 1h0m74 4h0m-101 4h0m64 0h0m118 0h0m-254 1h0m311 0h0m-109 1h0m-59 2h0m43 5h0m72 8h0m-222 1h0m-23 5h0m-10 1h0m60 4h0m175 0h0m-216 3h0m90 0h0m117 5h0m-47 1h0m-22 8h0m15 1h0m-77 1h0m104 0h0m-106 2h0m25 2h0m141 0h0m-34 3h0m33 5h0m-98 1h0m-81 2h0m-47 2h0m92 3h0m20 0h0m5 2h0m40 4h0m-95 7h0m95 2h0"/><path stroke="#00e138" d="M351 223h0m-34 2h0m16 2h0m65 3h0m-57 9h0m-60 4h0m52 1h0m66 0h0m30 4h0m-89 2h0m-81 3h0m127 0h0m-60 13h0m102 2h0m-147 4h0m8 3h0m82 0h0m-98 2h0m56 2h0m-108 6h0m267 4h0m-221 6h0m-7 3h0m41 1h0m172 0h0m-189 3h0m32 1h0m12 3h0m-133 5h0m181 0h0m-66 1h0m130 1h0m-170 4h0m-29 4h0m3 4h0m150 0h0m58 0h0m48 0h0m-326 4h0m349 2h0m2 4h0m-292 9h0m265 0h0m-80 4h0m-149 1h0m223 0h0m-108 4h0m113 3h0m-331 6h0m365 18h0m-273 12h0m-49 2h0m-6 4h0m51 0h0m0 9h0m-17 4h0m-82 23h0m13 13h0m-14 9h0m65 5h0m4 0h0m63 0h0m-80 3h0m26 0h0m-78 9h0m59 6h0m62 0h0m136 0h0m-163 3h0m-19 5h0m135 0h0m5 0h0m-184 4h0m10 0h0m32 0h0m51 2h0m-70 3h0m214 1h0m11 4h0m-170 1h0m-3 4h0m60 3h0m83 0h0m57 0h0m48 0h0m-103 6h0m41 1h0m-63 3h0m-154 4h0m237 5h0m-177 1h0m100 3h0m-174 4h0m172 1h0m58 0h0m-63 10h0m99 7h0m-62 1h0m15 1h0m-133 5h0m-66 2h0m49 10h0m-53 1h0m154 3h0m-140 1h0m196 0h0m-10 1h0m-180 3h0m171 3h0m-183 1h0m155 1h0m-88 9h0m37 0h0m-20 8h0m26 1h0"/><path stroke="#02de00" d="M368 226h0m-25 1h0m-35 3h0m-16 5h0m19 0h0m-7 4h0m17 0h0m40 0h0m66 5h0m-135 1h0m74 4h0m-52 1h0m100 0h0m-50 3h0m-110 1h0m65 3h0m-57 1h0m37 0h0m11 0h0m124 0h0m-132 5h0m8 3h0m51 0h0m89 1h0m-136 1h0m-65 3h0m-30 1h0m229 0h0m19 0h0m6 0h0m-72 8h0m42 0h0m-27 1h0m50 3h0m-235 1h0m103 0h0m143 0h0m-19 3h0m-41 1h0m-228 5h0m32 0h0m99 0h0m88 0h0m-135 1h0m171 0h0m-65 3h0m-94 1h0m-49 3h0m-4 1h0m20 0h0m5 0h0m72 0h0m70 0h0m37 3h0m71 6h0m-84 1h0m-231 4h0m261 0h0m61 0h0m-302 3h0m-22 1h0m141 0h0m-68 1h0m-30 3h0m42 1h0m5 0h0m-44 5h0m-18 3h0m124 0h0m137 0h0m-290 4h0m338 0h0m-301 1h0m167 1h0m-227 3h0m182 0h0m-51 1h0m13 4h0m195 4h0m-337 4h0m235 0h0m-130 2h0m-45 3h0m177 0h0m111 0h0m-210 1h0m92 5h0m-160 3h0m-52 14h0m-24 4h0m99 0h0m-43 1h0m28 3h0m-82 1h0m-6 10h0m-7 3h0m41 1h0m4 3h0m-4 14h0m-20 1h0m16 18h0m86 0h0m-108 8h0m11 1h0m39 3h0m25 2h0m-70 3h0m9 4h0m-30 6h0m105 0h0m-90 4h0m257 6h0m-233 3h0m17 0h0m-21 1h0m54 2h0m265 1h0m10 0h0m-96 4h0m27 2h0m37 0h0m-207 2h0m104 0h0m-26 2h0m126 0h0m-295 3h0m-9 1h0m243 0h0m-148 3h0m165 2h0m43 0h0m30 0h0m-259 1h0m98 2h0m109 1h0m4 8h0m-254 1h0m217 1h0m35 3h0m-27 1h0m-216 4h0m115 0h0m131 0h0m-235 1h0m139 2h0m128 1h0m-47 1h0m-162 3h0m-27 1h0m176 0h0m5 0h0m-31 4h0m73 4h0m-218 1h0m109 0h0m-107 4h0m89 0h0m-8 6h0m6 0h0m134 0h0m-273 3h0m194 0h0m52 1h0m-210 3h0m114 2h0m80 4h0m-163 3h0m186 0h0m-231 4h0m140 1h0m27 0h0m-46 1h0m-129 3h0m126 1h0m50 0h0m17 1h0m-174 3h0m17 4h0m91 5h0m47 0h0m-63 9h0m-37 1h0m-20 1h0m-2 3h0m111 5h0m-18 4h0"/><path stroke="#0be000" d="M330 222h0m62 9h0m-45 4h0m-76 1h0m74 3h0m-39 4h0m37 1h0m36 1h0m4 3h0m51 2h0m-83 8h0m38 3h0m-20 1h0m-37 1h0m95 0h0m18 3h0m-153 5h0m104 0h0m-151 9h0m234 0h0m-211 4h0m-62 1h0m288 3h0m-243 2h0m46 0h0m70 3h0m93 2h0m-122 3h0m21 0h0m-172 1h0m67 0h0m97 3h0m139 1h0m-252 4h0m163 1h0m-216 4h0m55 3h0m242 1h0m-238 1h0m-18 3h0m187 0h0m-72 2h0m-92 2h0m-82 1h0m119 0h0m20 0h0m209 1h0m-97 3h0m-144 1h0m195 1h0m-137 4h0m26 0h0m-28 4h0m-123 4h0m161 0h0m-18 4h0m-15 2h0m129 8h0m-277 3h0m280 1h0m-268 4h0m22 1h0m-65 5h0m57 9h0m-54 3h0m372 4h0m-115 1h0m-219 1h0m-36 8h0m95 23h0m-104 5h0m52 13h0m23 10h0m182 8h0m-211 14h0m-39 3h0m56 9h0m130 10h0m-140 1h0m283 3h0m-49 5h0m-42 1h0m94 0h0m-284 3h0m-28 13h0m317 0h0m-89 2h0m-199 2h0m275 2h0m-244 1h0m-8 3h0m163 4h0m110 0h0m-89 2h0m-138 2h0m-78 1h0m288 0h0m-102 4h0m-116 5h0m-77 3h0m193 0h0m-15 2h0m77 7h0m-140 1h0m46 0h0m-127 5h0m37 0h0m212 0h0m-133 5h0m-35 9h0m-66 3h0m-12 5h0m176 1h0m-158 3h0m52 0h0m132 6h0m-76 3h0m-61 1h0m50 1h0m-8 7h0m-16 1h0"/><path stroke="#15e200" d="M301 226h0m-5 10h0m35 3h0m40 0h0m-109 1h0m156 8h0m19 6h0m-151 8h0m88 0h0m-91 4h0m187 1h0m-95 4h0m-20 4h0m101 5h0m-210 5h0m114 8h0m40 5h0m24 4h0m-240 2h0m139 3h0m94 18h0m-236 1h0m129 5h0m-108 2h0m146 1h0m132 4h0m38 9h0m-243 5h0m245 1h0m-346 12h0m-14 2h0m358 7h0m-333 1h0m348 0h0m-381 21h0m21 1h0m-21 22h0m15 24h0m53 3h0m-32 6h0m-14 4h0m-9 9h0m47 5h0m-14 8h0m-8 13h0m51 1h0m209 8h0m-23 5h0m-238 4h0m54 0h0m222 1h0m-158 13h0m-46 5h0m-52 5h0m81 9h0m12 0h0m-76 5h0m31 8h0m105 1h0m-78 9h0m99 8h0m66 1h0m-116 5h0m-68 7h0m128 6h0m-133 4h0m18 5h0m143 4h0m-26 9h0"/><path stroke="#1ee400" d="M377 230h0m-78 1h0m116 4h0m-63 33h0m53 2h0m-189 5h0m88 0h0m-72 1h0m186 1h0m-112 3h0m-77 9h0m74 0h0m-87 5h0m27 8h0m134 1h0m39 4h0m-7 4h0m-57 1h0m-82 22h0m-34 4h0m168 2h0m85 13h0m28 4h0m-82 10h0m-257 12h0m31 4h0m-64 42h0m26 18h0m4 17h0m262 19h0m28 13h0m-242 13h0m-37 18h0m323 9h0m-258 4h0m-30 1h0m194 5h0m-127 3h0m161 2h0m-236 4h0m266 0h0m-264 4h0m16 0h0m-29 5h0m197 0h0m37 1h0m-43 4h0m65 2h0m-146 11h0m10 0h0m109 9h0m-174 4h0"/><path stroke="#96eb00" d="M346 221h0m27 6h0m7 0h0m-35 4h0m36 0h0m27 19h0m-75 3h0m-94 9h0m149 5h0m-22 1h0m58 8h0m-100 17h0m-131 6h0m-18 12h0m46 0h0m69 4h0m-94 15h0m119 9h0m192 18h0m-329 45h0m-4 26h0m9 15h0m336 36h0m-360 22h0m16 9h0m12 5h0m27 0h0m7 14h0m-27 7h0m232 14h0m-186 9h0m238 9h0m-11 8h0"/><path stroke="#fae500" d="M320 222h0m25 35h0m-3 14h0m99 0h0m-151 19h0m43 16h0m160 1h0m-260 9h0m210 0h0m-175 14h0m-93 4h0m350 10h0m4 25h0m-318 32h0m-47 19h0m30 10h0m-41 7h0m32 9h0m7 6h0m336 21h0m-355 24h0m12 21h0m151 100h0"/><path stroke="#fda800" d="M386 231h0m-137 32h0m134 3h0m-104 20h0m205 21h0m-206 31h0m160 2h0m-240 4h0m67 25h0m-77 55h0m-16 46h0m9 16h0m17 19h0m25 73h0m187 26h0"/><path stroke="#ff6600" d="M423 240h0m-104 35h0m44 13h0m-127 6h0m155 5h0m105 30h0m-82 1h0m-59 9h0m111 8h0m48 4h0m-277 14h0m-87 15h0m32 34h0m28 7h0m-4 34h0m-14 4h0m-27 2h0m306 93h0m-73 28h0"/><path stroke="#ff1c00" d="M312 263h0m153 13h0m-223 54h0m-63 63h0m354 90h0m-34 23h0m-29 23h0m-13 4h0m-128 40h0"/><path stroke="#ff1500" d="M348 225h0m81 15h0m-100 10h0m63 0h0m-96 3h0m6 0h0m134 27h0m65 23h0m-242 5h0m243 4h0m13 23h0m13 22h0m-356 3h0m4 11h0m-17 84h0m-4 6h0m22 9h0m276 18h0m-270 17h0m288 14h0m-256 26h0m-6 6h0m258 17h0m-186 26h0m56 2h0"/></g><circle cx="171.7" cy="210.2" r="33.2" fill="#fff"/><circle cx="239.4" cy="213" r="32.8" fill="#2e16c8"/><circle cx="436.2" cy="210" r="99.7" fill="#0a28c8"/><g transform="scale(0.5)" fill="none" stroke-linecap="round" stroke-width="6"><path stroke="#ff1500" d="M768 278h0m-63 135h0m261 96h0m-177 77h0m20 7h0m103 18h0"/><path stroke="#ff1c00" d="M872 247h0"/><path stroke="#fda800" d="M893 256h0m-164 204h0"/><path stroke="#fae500" d="M860 232h0m-119 73h0m-46 87h0m82 184h0"/><path stroke="#96eb00" d="M899 291h0m-219 108h0m3 13h0m337 83h0m-276 13h0"/><path stroke="#1ee400" d="M887 260h0m-138 41h0m211 15h0m71 43h0m-349 33h0m74 122h0m181 34h0m-128 55h0"/><path stroke="#15e200" d="M884 265h0m-32 8h0m-34 6h0m-81 4h0m7 10h0m-40 40h0m-2 4h0m47 45h0m-69 36h0m55 58h0m82 15h0m-103 40h0m2 14h0m245 52h0m-36 10h0m21 0h0"/><path stroke="#0be000" d="M894 220h0m-24 5h0m16 16h0m79 1h0m-12 9h0m-208 17h0m22 1h0m128 6h0m-121 7h0m-42 2h0m176 12h0m-3 5h0m105 14h0m-216 41h0m243 5h0m-244 7h0m-111 4h0m18 15h0m5 0h0m-13 22h0m-20 4h0m22 1h0m17 5h0m-18 22h0m69 0h0m226 48h0m-222 41h0m151 1h0m-165 4h0m64 46h0m-40 13h0m127 1h0m6 2h0m-8 6h0m4 13h0m15 0h0"/><path stroke="#02de00" d="M879 219h0m-7 1h0m46 6h0m29 8h0m-68 5h0m106 13h0m-179 21h0m129 28h0m-104 1h0m165 3h0m7 5h0m-151 8h0m-68 1h0m177 0h0m-266 9h0m163 0h0m-167 8h0m128 6h0m-126 9h0m267 18h0m-23 9h0m-245 4h0m114 8h0m-109 45h0m1 7h0m-17 3h0m104 0h0m-98 36h0m357 0h0m-8 4h0m-280 10h0m221 5h0m15 0h0m-15 7h0m-222 1h0m23 4h0m-27 1h0m219 0h0m-268 13h0m212 9h0m-205 4h0m159 4h0m-99 2h0m-36 8h0m20 10h0m152 0h0m-117 3h0m155 1h0m-8 3h0m47 1h0m-125 1h0m-60 3h0m133 6h0m39 3h0m-172 1h0m4 13h0m166 0h0"/><path stroke="#00e138" d="M882 225h0m40 0h0m-118 7h0m7 6h0m-14 5h0m9 23h0m-62 7h0m52 0h0m-17 10h0m187 0h0m-219 5h0m274 0h0m-39 4h0m-252 5h0m114 9h0m-135 9h0m68 7h0m228 11h0m29 3h0m-190 5h0m-113 1h0m93 0h0m24 4h0m-152 1h0m265 0h0m100 0h0m-123 3h0m-136 13h0m-124 14h0m105 0h0m-79 1h0m45 13h0m-14 5h0m-19 4h0m-43 5h0m80 13h0m7 0h0m-11 9h0m45 5h0m-68 17h0m-6 9h0m99 19h0m86 4h0m-92 5h0m39 4h0m-93 1h0m252 3h0m20 9h0m-282 5h0m10 10h0m265 0h0m-18 3h0m-99 26h0m-68 1h0m-57 10h0m9 3h0m-5 10h0m206 1h0m-44 4h0m-124 9h0m-41 8h0"/><path stroke="#00e481" d="M876 225h0m-59 14h0m94 4h0m-38 12h0m-52 2h0m110 9h0m-62 4h0m113 5h0m-137 4h0m114 0h0m-65 3h0m-84 1h0m-74 3h0m201 6h0m35 0h0m-8 14h0m-107 3h0m123 5h0m-260 1h0m-18 3h0m109 0h0m22 5h0m-118 1h0m32 0h0m111 13h0m-65 4h0m-85 5h0m10 1h0m134 8h0m111 4h0m-215 5h0m292 1h0m24 3h0m-281 1h0m154 0h0m-225 3h0m3 5h0m-40 5h0m59 10h0m-19 12h0m49 14h0m180 42h0m-195 2h0m-31 20h0m225 21h0m-67 10h0m-164 3h0m93 2h0m19 5h0m-65 3h0m33 24h0m126 6h0m-71 6h0m-44 6h0m-29 13h0m201 4h0m-13 4h0m-32 9h0m-98 9h0m47 10h0"/><path stroke="#00e5cf" d="M892 224h0m-28 4h0m1 5h0m75 6h0m-127 12h0m53 1h0m-35 4h0m90 5h0m-64 3h0m-32 5h0m-16 1h0m-49 3h0m205 4h0m-201 6h0m125 0h0m88 1h0m-17 3h0m-121 1h0m92 4h0m56 0h0m-27 1h0m-219 2h0m276 0h0m9 3h0m-283 12h0m73 0h0m180 4h0m-142 1h0m70 3h0m-204 5h0m131 10h0m-97 12h0m35 0h0m152 2h0m-60 4h0m155 0h0m-329 5h0m326 0h0m29 2h0m-1 14h0m3 7h0m-362 4h0m-24 3h0m43 0h0m5 0h0m62 2h0m-51 2h0m-62 11h0m107 3h0m-67 19h0m-11 9h0m9 0h0m74 9h0m-62 18h0m58 1h0m-89 8h0m116 14h0m20 3h0m-78 1h0m295 0h0m-283 4h0m101 4h0m36 1h0m45 5h0m51 7h0m-301 10h0m39 4h0m153 6h0m149 3h0m-39 6h0m3 3h0m-152 1h0m-27 3h0m87 0h0m-135 1h0m93 9h0m76 4h0m-214 1h0m237 5h0m-135 8h0m115 1h0m-10 7h0m-67 1h0m-69 8h0m73 1h0m71 4h0m-142 1h0m13 4h0m116 9h0m-135 1h0m99 7h0m-19 7h0"/><path stroke="#00b6ef" d="M901 224h0m32 8h0m-48 5h0m11 5h0m-6 5h0m-6 1h0m-9 3h0m105 1h0m-187 1h0m95 3h0m-131 3h0m-7 1h0m197 0h0m-184 6h0m211 4h0m-161 9h0m175 3h0m-233 1h0m50 1h0m181 4h0m-114 3h0m136 1h0m-81 4h0m91 4h0m-52 1h0m44 0h0m-274 4h0m103 0h0m42 1h0m5 0h0m-148 4h0m15 0h0m73 0h0m213 0h0m-335 6h0m9 4h0m203 8h0m14 0h0m95 0h0m-161 5h0m184 0h0m-84 8h0m21 2h0m-190 2h0m173 1h0m-281 1h0m369 0h0m-356 4h0m228 1h0m-118 3h0m-106 3h0m63 1h0m161 0h0m-125 1h0m-93 8h0m94 0h0m130 0h0m-187 1h0m61 1h0m128 4h0m-141 9h0m14 4h0m-108 3h0m-24 4h0m33 1h0m-12 1h0m65 3h0m22 9h0m-36 10h0m-64 8h0m70 10h0m34 0h0m-56 9h0m-50 13h0m384 0h0m-365 6h0m38 14h0m-42 7h0m27 0h0m37 0h0m88 0h0m40 1h0m164 0h0m-217 3h0m160 0h0m27 1h0m-338 1h0m61 0h0m-6 3h0m276 0h0m-270 1h0m290 0h0m-299 4h0m62 0h0m11 0h0m36 0h0m73 1h0m62 0h0m9 3h0m-173 1h0m161 0h0m-251 3h0m73 1h0m35 1h0m-107 2h0m43 1h0m141 0h0m-115 2h0m-32 7h0m12 0h0m26 1h0m141 5h0m-235 2h0m249 3h0m-50 2h0m17 1h0m-142 1h0m192 3h0m-199 2h0m-18 3h0m171 0h0m-147 4h0m66 1h0m-48 4h0m10 0h0m30 0h0m33 1h0m32 3h0m-102 1h0m-45 5h0m25 0h0m222 4h0m-10 1h0m-190 4h0m134 0h0m-154 3h0m168 0h0m-128 5h0m167 0h0m-213 1h0m82 7h0m7 1h0m13 0h0m28 0h0m-5 1h0m-117 4h0m151 0h0m-150 4h0m155 4h0m-122 4h0m76 9h0"/><path stroke="#0064ea" d="M900 221h0m-31 9h0m-76 4h0m120 0h0m-81 3h0m30 0h0m83 1h0m-159 1h0m-10 3h0m58 0h0m6 1h0m61 0h0m6 0h0m49 4h0m-11 1h0m-178 3h0m40 0h0m55 4h0m21 1h0m-112 4h0m220 0h0m-141 1h0m-109 7h0m196 0h0m68 0h0m-229 2h0m208 1h0m15 3h0m-184 1h0m-13 3h0m33 1h0m-20 3h0m199 0h0m-157 1h0m28 4h0m23 0h0m-187 1h0m224 4h0m-207 1h0m98 0h0m-2 11h0m157 1h0m-100 1h0m-102 3h0m-82 2h0m15 0h0m41 0h0m149 2h0m-176 1h0m31 0h0m150 0h0m11 1h0m-92 3h0m36 0h0m5 6h0m-12 1h0m-131 4h0m302 2h0m-285 1h0m109 0h0m52 0h0m-130 1h0m28 5h0m42 0h0m55 2h0m-204 1h0m47 0h0m80 0h0m-81 4h0m-21 1h0m41 0h0m135 0h0m-103 1h0m243 0h0m-152 3h0m-188 1h0m41 0h0m209 1h0m-13 2h0m-224 1h0m336 3h0m-131 2h0m103 0h0m29 5h0m-361 3h0m94 0h0m-89 5h0m369 0h0m-9 4h0m-319 2h0m-53 2h0m82 0h0m183 0h0m-10 1h0m-184 4h0m-72 5h0m261 1h0m-243 3h0m89 1h0m-100 4h0m73 8h0m-48 1h0m77 0h0m-80 4h0m-28 4h0m16 2h0m99 0h0m-56 3h0m-16 1h0m37 0h0m8 4h0m11 0h0m-17 4h0m-7 1h0m-60 3h0m42 11h0m-55 4h0m64 1h0m35 7h0m-44 5h0m-57 1h0m18 3h0m25 0h0m-5 1h0m18 0h0m-43 8h0m354 0h0m-341 4h0m26 1h0m7 4h0m199 0h0m-234 1h0m98 0h0m-116 3h0m97 0h0m-16 1h0m28 0h0m83 0h0m-172 1h0m289 2h0m-151 2h0m90 4h0m-136 4h0m-53 1h0m28 4h0m105 0h0m104 0h0m-269 3h0m16 1h0m31 1h0m236 0h0m-279 4h0m5 0h0m212 0h0m36 0h0m-92 1h0m55 2h0m51 0h0m-83 1h0m-178 1h0m23 0h0m249 0h0m-227 3h0m188 0h0m-218 1h0m135 1h0m-50 3h0m10 1h0m22 0h0m113 0h0m-11 1h0m-251 4h0m26 0h0m225 2h0m52 3h0m-141 2h0m-73 1h0m103 1h0m62 0h0m-235 3h0m5 1h0m82 1h0m91 3h0m-151 1h0m99 0h0m-85 3h0m36 1h0m126 0h0m-95 1h0m-12 4h0m-71 5h0m243 2h0m-47 1h0m-133 4h0m61 0h0m-29 2h0m-56 2h0m10 0h0m88 2h0m79 0h0m15 0h0m-185 3h0m63 0h0m-14 4h0m106 2h0m-160 5h0m148 2h0m10 0h0m-50 2h0m10 8h0m-31 1h0m-13 4h0m21 0h0m-8 4h0"/><path stroke="#0022de" d="M845 225h0m44 3h0m-3 4h0m58 0h0m-120 2h0m67 0h0m11 0h0m-96 4h0m30 0h0m123 4h0m-104 1h0m60 3h0m48 0h0m10 0h0m-173 2h0m-17 2h0m192 3h0m-49 2h0m15 1h0m30 0h0m6 0h0m-70 3h0m20 0h0m7 1h0m-153 1h0m22 0h0m151 0h0m-176 3h0m137 0h0m-121 1h0m200 0h0m-232 4h0m203 1h0m4 1h0m-95 2h0m-101 1h0m95 0h0m125 0h0m17 0h0m-73 3h0m70 1h0m-255 1h0m46 0h0m9 0h0m21 0h0m22 0h0m11 0h0m30 0h0m103 0h0m-74 3h0m16 0h0m-11 1h0m26 0h0m-203 1h0m228 2h0m-167 1h0m9 0h0m172 0h0m-51 1h0m-82 3h0m-52 1h0m-17 4h0m25 0h0m152 0h0m-49 4h0m-104 1h0m97 0h0m42 0h0m-32 1h0m-21 2h0m-169 1h0m177 0h0m125 1h0m-114 1h0m21 0h0m-220 3h0m228 0h0m-115 1h0m30 3h0m42 0h0m-131 2h0m-55 3h0m20 0h0m78 0h0m193 0h0m-76 1h0m-50 3h0m103 1h0m21 0h0m-284 4h0m204 0h0m11 1h0m66 0h0m-80 3h0m56 0h0m-255 1h0m12 0h0m25 0h0m260 0h0m-151 1h0m-164 2h0m52 0h0m89 0h0m78 0h0m32 0h0m31 0h0m-261 1h0m89 1h0m16 0h0m31 0h0m-154 4h0m219 0h0m-186 3h0m146 0h0m42 0h0m-145 1h0m32 1h0m214 2h0m-343 1h0m27 0h0m6 0h0m50 0h0m152 0h0m57 0h0m-182 1h0m40 0h0m122 0h0m-270 3h0m234 0h0m-202 1h0m99 0h0m202 1h0m-64 2h0m9 1h0m-269 1h0m74 0h0m178 3h0m110 0h0m-245 1h0m125 0h0m25 0h0m-223 1h0m301 0h0m-365 4h0m57 0h0m-37 1h0m271 0h0m-185 2h0m176 0h0m-259 1h0m5 0h0m246 3h0m-243 2h0m97 0h0m126 0h0m-168 3h0m20 1h0m-42 1h0m203 0h0m10 0h0m-179 3h0m-87 1h0m19 0h0m4 3h0m229 0h0m10 1h0m-232 4h0m56 0h0m33 0h0m-78 2h0m59 2h0m-88 1h0m99 0h0m-97 5h0m94 1h0m-118 2h0m5 1h0m43 0h0m218 1h0m-257 3h0m99 0h0m3 1h0m-15 1h0m-49 4h0m71 3h0m-7 5h0m-98 5h0m95 0h0m-17 1h0m-2 2h0m-52 1h0m-46 1h0m129 0h0m-85 3h0m26 0h0m30 1h0m-5 1h0m32 0h0m3 2h0m-79 2h0m-18 4h0m81 5h0m-7 3h0m-101 1h0m16 0h0m29 3h0m-3 4h0m239 1h0m-270 1h0m58 0h0m2 4h0m69 0h0m-42 1h0m-87 3h0m64 0h0m196 0h0m-226 5h0m34 4h0m-68 1h0m135 1h0m235 0h0m-305 2h0m126 0h0m-135 1h0m98 0h0m5 0h0m77 1h0m-162 2h0m118 0h0m80 1h0m14 0h0m74 0h0m-151 1h0m73 0h0m63 0h0m-266 1h0m32 0h0m-77 3h0m115 0h0m42 0h0m45 0h0m33 0h0m68 0h0m10 0h0m-332 1h0m44 0h0m22 0h0m104 0h0m183 0h0m-213 3h0m84 0h0m111 0h0m-229 1h0m-71 4h0m31 0h0m37 0h0m72 0h0m95 0h0m-146 1h0m37 0h0m-39 3h0m56 1h0m36 0h0m99 0h0m-227 3h0m177 1h0m-258 1h0m133 0h0m38 0h0m77 0h0m-185 2h0m-16 1h0m131 1h0m62 0h0m16 0h0m-179 3h0m145 1h0m47 0h0m-180 4h0m90 0h0m20 0h0m-85 4h0m109 0h0m98 0h0m-280 2h0m25 0h0m129 0h0m-177 3h0m94 1h0m27 3h0m4 0h0m-66 1h0m97 0h0m32 0h0m89 0h0m-270 1h0m278 2h0m-109 1h0m15 0h0m-166 1h0m175 5h0m19 0h0m21 0h0m37 0h0m-81 3h0m61 5h0m9 0h0m-81 1h0m-145 4h0m32 0h0m40 0h0m49 0h0m31 0h0m41 0h0m-163 3h0m130 0h0m-64 1h0m38 0h0m-32 1h0m22 0h0m-56 3h0m155 1h0m12 0h0m-234 1h0m72 7h0m43 0h0m-38 1h0m136 0h0m-213 1h0m19 2h0m55 0h0m54 0h0m41 1h0m-82 3h0m42 2h0m-77 1h0m-24 4h0m119 0h0m-54 3h0m-63 1h0m17 0h0m139 0h0m-96 4h0m41 1h0m-33 3h0m43 0h0m-26 1h0m-62 1h0m18 2h0m-6 1h0m-6 1h0m62 0h0"/><path stroke="#070cd4" d="M815 229h0m121 0h0m-93 1h0m63 3h0m-10 1h0m4 3h0m9 0h0m16 1h0m-67 1h0m16 0h0m47 0h0m-139 3h0m11 0h0m124 0h0m15 0h0m22 1h0m-134 3h0m16 0h0m32 0h0m74 0h0m-99 1h0m135 0h0m-83 1h0m41 0h0m-138 2h0m89 1h0m41 0h0m32 1h0m-156 1h0m8 2h0m36 0h0m71 0h0m28 0h0m-121 1h0m83 0h0m22 0h0m-135 1h0m4 0h0m15 0h0m85 0h0m56 0h0m-17 3h0m-177 1h0m58 0h0m123 1h0m42 0h0m-132 3h0m129 0h0m-162 1h0m59 0h0m-44 2h0m29 1h0m132 0h0m-155 1h0m3 0h0m11 0h0m26 0h0m10 0h0m16 0h0m-144 3h0m177 0h0m21 2h0m-221 2h0m53 1h0m151 0h0m58 0h0m-131 1h0m4 0h0m10 0h0m22 0h0m16 0h0m26 0h0m67 0h0m-164 3h0m89 0h0m63 0h0m16 0h0m-226 1h0m213 0h0m-34 1h0m-77 2h0m-118 2h0m46 0h0m52 0h0m73 0h0m-227 3h0m160 0h0m69 0h0m6 0h0m-241 1h0m281 0h0m17 0h0m-193 1h0m147 0h0m-93 2h0m47 0h0m-52 1h0m152 0h0m-286 1h0m66 0h0m48 0h0m4 0h0m38 0h0m57 0h0m-64 1h0m-69 2h0m47 0h0m17 0h0m19 0h0m-134 1h0m108 0h0m10 0h0m63 0h0m26 0h0m27 0h0m-156 1h0m3 0h0m116 0h0m-169 2h0m140 0h0m-120 1h0m10 0h0m52 1h0m84 0h0m11 0h0m30 0h0m11 0h0m15 0h0m-70 3h0m5 0h0m5 0h0m-196 1h0m4 0h0m46 0h0m48 0h0m42 0h0m78 0h0m46 0h0m-321 1h0m238 0h0m68 0h0m-180 2h0m-61 1h0m56 0h0m104 0h0m11 0h0m-218 1h0m155 0h0m6 0h0m-139 3h0m-30 1h0m47 0h0m29 0h0m32 0h0m11 0h0m15 0h0m89 0h0m-10 1h0m31 0h0m-216 3h0m73 0h0m77 0h0m94 0h0m-181 1h0m139 0h0m-99 1h0m173 0h0m-257 2h0m172 0h0m-136 1h0m5 0h0m223 0h0m-250 1h0m31 0h0m136 0h0m6 0h0m93 0h0m-310 3h0m47 0h0m121 0h0m9 0h0m79 0h0m-197 1h0m21 0h0m109 0h0m61 0h0m-216 3h0m31 0h0m101 0h0m-16 1h0m10 0h0m20 0h0m15 0h0m68 0h0m10 0h0m6 0h0m-220 1h0m79 0h0m84 0h0m77 0h0m17 0h0m-15 2h0m-321 1h0m147 0h0m24 0h0m78 0h0m12 0h0m-293 1h0m182 0h0m7 0h0m4 0h0m41 0h0m72 0h0m43 0h0m-60 3h0m47 0h0m-219 1h0m36 0h0m74 0h0m-15 1h0m140 0h0m-357 3h0m84 0h0m11 0h0m9 0h0m15 0h0m-71 1h0m52 0h0m9 0h0m31 0h0m27 0h0m5 0h0m52 0h0m84 0h0m25 1h0m-253 2h0m54 0h0m140 0h0m26 0h0m63 0h0m-349 1h0m141 0h0m60 0h0m11 1h0m-127 2h0m47 0h0m-135 1h0m58 0h0m4 0h0m67 0h0m111 0h0m45 0h0m-243 1h0m98 0h0m214 0h0m-320 3h0m47 0h0m-74 1h0m22 0h0m197 1h0m146 0h0m-341 3h0m-42 1h0m5 0h0m17 0h0m36 0h0m306 0h0m-293 3h0m-69 1h0m246 0h0m-187 1h0m14 0h0m16 0h0m176 0h0m-162 3h0m30 1h0m-39 3h0m-66 1h0m80 3h0m144 0h0m5 1h0m-144 1h0m-90 3h0m20 0h0m27 1h0m-13 4h0m14 0h0m6 0h0m186 2h0m-169 2h0m-25 1h0m14 0h0m17 0h0m157 0h0m4 0h0m-212 1h0m71 0h0m-54 2h0m-10 1h0m30 0h0m5 0h0m163 1h0m-166 3h0m-19 2h0m12 4h0m37 0h0m-66 3h0m48 1h0m-62 1h0m70 3h0m-87 4h0m6 0h0m30 0h0m53 0h0m-99 1h0m245 1h0m-216 3h0m26 0h0m6 0h0m24 1h0m-89 3h0m-12 1h0m5 0h0m59 0h0m35 0h0m2 4h0m21 2h0m-75 3h0m-52 1h0m17 0h0m97 0h0m17 0h0m-76 3h0m209 1h0m-194 1h0m-17 2h0m46 0h0m-98 1h0m46 0h0m74 0h0m-115 1h0m14 0h0m8 0h0m53 3h0m177 0h0m-171 1h0m-87 4h0m391 0h0m-328 1h0m36 0h0m41 0h0m133 3h0m-181 1h0m-83 1h0m66 0h0m49 3h0m27 0h0m110 0h0m-178 1h0m-54 3h0m41 0h0m38 0h0m15 0h0m155 0h0m6 0h0m6 0h0m-203 1h0m14 0h0m11 0h0m43 0h0m139 0h0m-239 1h0m27 0h0m180 2h0m26 0h0m-136 1h0m15 0h0m115 0h0m99 0h0m-308 1h0m47 0h0m-8 2h0m-93 2h0m73 0h0m5 0h0m129 0h0m73 0h0m-43 4h0m10 0h0m51 0h0m-296 1h0m38 0h0m249 0h0m-197 3h0m73 0h0m59 0h0m45 0h0m-264 1h0m26 0h0m58 0h0m51 0h0m10 0h0m43 0h0m-159 3h0m167 0h0m77 0h0m37 0h0m-313 1h0m59 0h0m196 1h0m89 0h0m-269 3h0m80 0h0m24 0h0m49 0h0m45 1h0m27 0h0m4 0h0m-269 1h0m61 0h0m254 0h0m-313 2h0m83 1h0m104 0h0m31 0h0m-156 1h0m51 0h0m69 0h0m10 0h0m85 0h0m-26 2h0m-281 1h0m13 0h0m221 0h0m12 0h0m9 0h0m69 1h0m-245 1h0m208 0h0m42 0h0m-211 3h0m72 0h0m36 0h0m18 0h0m87 0h0m-182 1h0m64 0h0m93 0h0m5 0h0m-295 3h0m78 0h0m22 0h0m21 0h0m88 0h0m5 0h0m-146 1h0m58 0h0m52 0h0m73 1h0m5 0h0m34 2h0m-262 1h0m110 0h0m6 0h0m73 0h0m58 0h0m4 0h0m47 0h0m-218 1h0m155 0h0m53 0h0m-262 3h0m171 0h0m5 0h0m51 0h0m-269 1h0m118 0h0m6 0h0m-92 1h0m37 2h0m135 0h0m-88 1h0m104 0h0m-183 1h0m105 0h0m17 3h0m38 0h0m58 0h0m3 0h0m-201 1h0m6 0h0m9 0h0m41 0h0m152 0h0m35 0h0m-168 3h0m27 0h0m-168 1h0m21 0h0m157 0h0m41 0h0m6 1h0m9 0h0m62 0h0m-136 3h0m29 0h0m110 0h0m-297 1h0m63 0h0m140 0h0m27 0h0m11 0h0m-200 3h0m40 0h0m173 0h0m-182 1h0m66 0h0m-84 1h0m47 0h0m54 0h0m119 0h0m15 0h0m-189 3h0m36 0h0m41 0h0m88 0h0m-264 1h0m52 0h0m42 0h0m150 0h0m16 0h0m-241 3h0m36 0h0m51 0h0m64 0h0m4 0h0m78 0h0m-165 1h0m50 0h0m100 0h0m-193 1h0m105 0h0m41 0h0m-39 3h0m25 0h0m74 0h0m-131 1h0m-19 1h0m26 0h0m-26 2h0m11 1h0m141 0h0m-62 1h0m-2 2h0m-100 1h0m53 0h0m52 0h0m9 0h0m37 0h0m21 2h0m-112 2h0m16 0h0m-68 1h0m42 0h0m15 0h0m26 0h0m15 0h0m37 0h0m-119 1h0m114 0h0m-81 3h0m-108 1h0m20 0h0m104 0h0m46 0h0m21 0h0m-1 3h0m-116 1h0m43 0h0m94 0h0m-53 1h0m-81 3h0m36 0h0m85 0h0m-125 1h0m-25 3h0m12 1h0m45 0h0m-61 1h0m48 3h0m57 0h0m-108 1h0m27 0h0m19 0h0m48 0h0m35 1h0m-79 3h0m16 0h0m9 1h0m42 0h0m-61 3h0m-16 1h0m7 1h0m2 2h0m8 5h0"/><path stroke="#2d12c9" d="M868 221h0m-13 2h0m55 5h0m-27 1h0m31 0h0m-109 1h0m4 3h0m45 0h0m64 0h0m-88 1h0m5 0h0m96 3h0m-28 2h0m-78 3h0m26 1h0m14 0h0m58 0h0m5 0h0m-115 1h0m113 2h0m-95 1h0m101 0h0m-12 1h0m48 2h0m-181 2h0m42 0h0m78 0h0m36 0h0m5 0h0m-113 1h0m1 2h0m32 1h0m93 0h0m-82 1h0m35 0h0m36 0h0m-104 2h0m118 1h0m5 0h0m-114 1h0m-97 3h0m12 0h0m103 0h0m47 1h0m-108 1h0m129 0h0m-40 3h0m-120 1h0m6 0h0m126 0h0m47 0h0m-122 3h0m4 0h0m93 0h0m-136 1h0m152 0h0m-87 1h0m-87 3h0m79 0h0m9 0h0m68 1h0m-18 3h0m41 0h0m5 1h0m-39 3h0m74 0h0m-241 1h0m199 0h0m-100 1h0m59 1h0m-34 2h0m114 0h0m-214 1h0m-5 1h0m11 0h0m-39 3h0m-27 1h0m58 0h0m5 0h0m57 0h0m28 0h0m13 0h0m132 0h0m-55 3h0m30 1h0m47 0h0m-249 1h0m20 0h0m125 0h0m10 0h0m36 0h0m28 0h0m-216 3h0m15 0h0m219 0h0m-302 1h0m47 0h0m146 0h0m125 0h0m-313 1h0m58 0h0m95 2h0m93 0h0m-175 1h0m92 0h0m-16 1h0m-80 2h0m141 0h0m-188 1h0m64 0h0m3 0h0m63 0h0m21 0h0m69 0h0m56 0h0m-269 1h0m31 0h0m82 0h0m78 0h0m27 0h0m56 0h0m17 0h0m-295 3h0m16 0h0m15 0h0m68 0h0m156 0h0m-208 1h0m83 0h0m114 1h0m22 0h0m-289 3h0m82 0h0m168 0h0m15 0h0m-260 1h0m30 0h0m111 0h0m93 0h0m-175 3h0m6 0h0m83 0h0m83 0h0m-249 1h0m37 0h0m83 0h0m42 0h0m16 0h0m4 0h0m98 0h0m-293 4h0m316 0h0m11 0h0m-191 1h0m-32 1h0m208 0h0m-267 2h0m5 0h0m227 0h0m-67 1h0m5 0h0m-40 1h0m-129 2h0m246 0h0m-182 1h0m89 0h0m20 0h0m57 2h0m-50 2h0m-187 2h0m84 0h0m-65 3h0m72 0h0m56 0h0m26 0h0m75 0h0m9 0h0m-259 1h0m6 0h0m155 0h0m110 0h0m13 0h0m-145 1h0m-120 2h0m75 0h0m-145 1h0m63 0h0m147 0h0m76 0h0m42 0h0m-109 1h0m11 0h0m84 0h0m-191 3h0m110 0h0m25 0h0m-234 1h0m89 0h0m20 0h0m239 0h0m-271 3h0m129 0h0m-182 1h0m72 0h0m179 0h0m-223 5h0m6 0h0m51 0h0m136 0h0m-231 4h0m47 0h0m21 0h0m31 0h0m-76 4h0m15 0h0m10 1h0m42 0h0m-2 3h0m-39 5h0m-58 1h0m32 0h0m38 3h0m-11 1h0m22 0h0m-25 1h0m-4 3h0m31 1h0m-52 1h0m27 0h0m172 0h0m-215 2h0m30 1h0m43 5h0m-54 3h0m42 1h0m-93 1h0m40 0h0m23 0h0m182 0h0m-202 3h0m33 0h0m-38 1h0m21 0h0m-47 1h0m25 2h0m-27 1h0m61 1h0m-45 9h0m54 2h0m-93 1h0m14 0h0m32 0h0m214 0h0m-204 2h0m202 7h0m-212 1h0m47 0h0m162 0h0m2 3h0m-8 5h0m-260 1h0m121 0h0m-56 3h0m15 1h0m52 1h0m5 0h0m126 0h0m-137 3h0m-90 1h0m33 0h0m10 0h0m60 0h0m116 0h0m11 0h0m10 0h0m-195 4h0m4 0h0m5 1h0m47 0h0m115 0h0m6 0h0m-232 3h0m57 1h0m165 0h0m17 0h0m124 0h0m-290 1h0m43 0h0m130 2h0m-203 1h0m64 0h0m136 0h0m-153 1h0m131 0h0m-113 3h0m5 0h0m116 0h0m-162 1h0m25 0h0m143 0h0m-109 1h0m-119 2h0m236 0h0m-240 1h0m62 0h0m10 0h0m157 0h0m-151 1h0m4 0h0m140 0h0m21 0h0m116 0h0m-127 3h0m5 0h0m9 0h0m-130 1h0m28 0h0m61 0h0m15 0h0m32 0h0m109 0h0m-266 1h0m182 0h0m-91 2h0m17 1h0m52 0h0m-161 1h0m77 0h0m42 0h0m-195 4h0m112 4h0m-53 1h0m84 0h0m26 0h0m27 0h0m45 0h0m-257 3h0m9 0h0m85 0h0m120 0h0m-95 1h0m37 0h0m12 0h0m20 0h0m40 0h0m111 0h0m-82 3h0m-269 1h0m212 0h0m130 0h0m11 0h0m-137 3h0m-213 2h0m118 0h0m52 0h0m116 0h0m-188 1h0m136 0h0m-176 2h0m157 0h0m11 0h0m-73 1h0m10 0h0m10 0h0m124 0h0m58 0h0m-276 1h0m152 0h0m-92 3h0m32 0h0m77 0h0m68 0h0m-15 1h0m-112 3h0m16 0h0m87 0h0m-269 1h0m97 0h0m110 0h0m90 0h0m-293 1h0m10 0h0m137 0h0m41 0h0m42 0h0m-107 3h0m35 0h0m110 0h0m-172 1h0m47 0h0m146 0h0m20 0h0m-228 1h0m5 0h0m214 0h0m5 0h0m-44 2h0m51 0h0m-244 1h0m69 1h0m161 0h0m-285 3h0m120 0h0m41 0h0m6 0h0m120 0h0m-209 1h0m46 0h0m12 0h0m-42 1h0m78 0h0m-168 2h0m25 1h0m32 0h0m41 0h0m177 0h0m-37 1h0m5 0h0m-185 3h0m68 1h0m-125 1h0m235 0h0m25 0h0m-230 2h0m133 0h0m58 0h0m-224 1h0m7 0h0m46 0h0m218 0h0m-109 1h0m36 0h0m53 0h0m-247 3h0m5 0h0m46 0h0m101 0h0m20 1h0m67 0h0m-21 1h0m-227 4h0m109 0h0m27 0h0m11 0h0m-98 3h0m37 0h0m89 0h0m-172 1h0m94 0h0m62 0h0m5 0h0m67 0h0m27 1h0m-237 2h0m157 0h0m-161 1h0m27 0h0m118 0h0m73 0h0m-44 4h0m-176 1h0m83 1h0m72 0h0m-154 2h0m161 0h0m16 0h0m-72 2h0m-19 3h0m21 0h0m129 0h0m-72 1h0m-90 3h0m68 0h0m8 1h0m-37 5h0m4 1h0m-17 4h0m15 0h0m26 0h0m-44 3h0m103 0h0m-7 5h0m-12 4h0m-44 1h0m-39 3h0m12 1h0m-17 1h0m25 4h0"/><path stroke="#2d12c9" d="M842 220h0m4 1h0m52 3h0m-74 2h0m-12 2h0m40 0h0m20 0h0m26 0h0m-66 1h0m6 0h0m56 1h0m32 0h0m-108 2h0m111 2h0m-87 5h0m6 0h0m102 0h0m-12 3h0m6 1h0m-117 4h0m71 0h0m-118 1h0m39 3h0m119 0h0m-20 1h0m15 0h0m-81 3h0m84 0h0m-166 2h0m65 2h0m36 2h0m9 0h0m-96 3h0m122 0h0m-73 1h0m-6 1h0m20 0h0m-33 3h0m35 0h0m69 0h0m5 0h0m5 0h0m-194 5h0m98 0h0m15 0h0m11 0h0m19 0h0m22 0h0m21 0h0m83 0h0m-233 1h0m9 0h0m48 0h0m76 3h0m13 0h0m-187 1h0m6 0h0m26 0h0m21 0h0m230 0h0m-170 3h0m63 0h0m-37 1h0m6 0h0m-147 1h0m136 0h0m148 2h0m-150 1h0m141 0h0m3 0h0m-36 1h0m-169 4h0m219 0h0m-254 1h0m4 0h0m23 3h0m109 0h0m58 0h0m-6 1h0m16 0h0m27 0h0m-279 3h0m136 0h0m14 0h0m26 0h0m-92 1h0m229 0h0m-231 3h0m50 0h0m-30 1h0m52 0h0m-93 1h0m29 0h0m96 0h0m76 0h0m-173 3h0m30 0h0m173 0h0m-198 1h0m73 0h0m144 0h0m-270 1h0m135 0h0m101 0h0m38 2h0m-161 1h0m115 0h0m-187 1h0m108 0h0m48 0h0m61 0h0m-75 3h0m82 0h0m-160 1h0m31 0h0m125 0h0m-246 1h0m112 0h0m93 0h0m62 0h0m-274 2h0m255 0h0m-177 1h0m-45 1h0m61 0h0m27 0h0m35 0h0m11 0h0m27 0h0m20 0h0m20 0h0m-109 1h0m-148 2h0m162 0h0m-178 1h0m74 0h0m171 0h0m11 0h0m15 0h0m-172 1h0m58 0h0m148 2h0m-240 1h0m90 0h0m76 0h0m16 0h0m-89 1h0m6 0h0m78 0h0m-230 4h0m156 0h0m-141 1h0m40 0h0m32 0h0m145 0h0m-209 2h0m-27 1h0m42 0h0m6 0h0m119 0h0m145 0h0m11 0h0m-333 1h0m32 0h0m10 0h0m87 0h0m32 0h0m73 0h0m-65 3h0m-171 1h0m149 0h0m137 0h0m-147 1h0m47 0h0m78 0h0m27 0h0m-262 3h0m9 0h0m53 0h0m51 0h0m37 1h0m15 0h0m57 0h0m26 0h0m42 0h0m-309 3h0m260 0h0m-281 1h0m57 0h0m281 0h0m-323 1h0m32 0h0m67 0h0m22 0h0m-9 3h0m110 0h0m-187 1h0m234 0h0m26 0h0m-191 3h0m-72 1h0m-5 1h0m2 3h0m20 0h0m141 0h0m6 0h0m52 0h0m-180 4h0m-31 1h0m162 0h0m15 0h0m-215 5h0m41 0h0m-17 1h0m8 2h0m177 0h0m-217 1h0m36 0h0m316 0h0m-138 4h0m-165 1h0m23 4h0m148 4h0m5 8h0m-187 2h0m5 0h0m-15 9h0m-54 4h0m5 1h0m83 0h0m-77 3h0m7 0h0m50 0h0m-19 1h0m-40 3h0m102 7h0m-65 2h0m68 0h0m-42 1h0m176 0h0m-156 1h0m-96 3h0m-14 1h0m11 3h0m93 1h0m-2 4h0m167 0h0m-207 1h0m45 0h0m7 0h0m-19 4h0m9 0h0m22 0h0m2 3h0m-11 1h0m17 0h0m-7 4h0m-93 1h0m4 0h0m4 0h0m12 0h0m52 0h0m160 0h0m-248 1h0m93 0h0m10 0h0m140 0h0m-149 3h0m12 0h0m130 0h0m-124 1h0m-98 3h0m32 0h0m41 0h0m5 1h0m147 0h0m-251 1h0m142 0h0m140 0h0m97 0h0m-224 3h0m104 0h0m-26 2h0m-144 2h0m204 0h0m-182 1h0m177 0h0m-214 1h0m167 0h0m-138 3h0m71 0h0m44 0h0m15 0h0m15 1h0m40 0h0m-175 1h0m172 0h0m-259 2h0m126 0h0m-130 1h0m24 0h0m54 0h0m-41 1h0m197 0h0m30 0h0m-97 3h0m75 0h0m9 0h0m43 0h0m-220 1h0m132 0h0m21 0h0m-124 3h0m16 0h0m21 0h0m157 0h0m52 0h0m-167 1h0m20 0h0m63 0h0m-194 1h0m52 0h0m220 0h0m-139 3h0m6 0h0m109 0h0m-261 1h0m137 0h0m62 0h0m-224 1h0m40 2h0m-63 1h0m146 0h0m9 0h0m43 0h0m25 0h0m-228 1h0m78 0h0m256 0h0m-195 2h0m-106 1h0m21 0h0m46 0h0m52 0h0m37 0h0m98 0h0m-285 1h0m140 1h0m-149 3h0m79 0h0m93 0h0m117 0h0m-100 1h0m114 0h0m-209 3h0m248 0h0m-141 1h0m17 0h0m-176 1h0m118 0h0m-70 2h0m47 0h0m-83 1h0m15 0h0m11 0h0m115 0h0m-89 1h0m47 0h0m19 0h0m156 0h0m-194 3h0m58 0h0m93 1h0m-250 1h0m81 2h0m146 0h0m-229 1h0m77 0h0m33 0h0m35 0h0m-46 1h0m5 0h0m52 0h0m89 0h0m15 0h0m32 0h0m-273 3h0m10 0h0m115 0h0m9 0h0m56 0h0m12 0h0m-182 1h0m27 0h0m171 0h0m22 3h0m16 0h0m-83 1h0m48 0h0m-220 1h0m36 0h0m22 0h0m68 0h0m16 0h0m-71 3h0m100 0h0m67 0h0m-120 1h0m15 0h0m-58 1h0m-107 2h0m94 0h0m69 0h0m73 0h0m-120 1h0m115 0h0m19 0h0m-51 1h0m-184 3h0m15 0h0m10 0h0m37 1h0m68 0h0m144 0h0m-253 1h0m114 0h0m85 2h0m-5 1h0m52 0h0m10 0h0m-124 1h0m-138 3h0m10 0h0m171 0h0m68 0h0m10 0h0m-149 1h0m67 0h0m20 0h0m36 0h0m-15 1h0m11 0h0m-237 2h0m36 1h0m63 0h0m36 0h0m-114 1h0m-12 3h0m20 0h0m72 0h0m10 0h0m125 0h0m15 0h0m-134 1h0m10 0h0m37 0h0m61 0h0m-159 1h0m75 4h0m-70 3h0m93 1h0m-5 1h0m41 0h0m-169 2h0m155 0h0m-83 1h0m95 0h0m-128 4h0m100 0h0m14 0h0m-98 1h0m78 0h0m-136 1h0m79 0h0m-9 2h0m32 1h0m-47 1h0m6 0h0m26 0h0m35 0h0m29 4h0m16 0h0m-114 1h0m-7 2h0m31 1h0m40 0h0m-55 5h0m59 8h0m-36 1h0m24 1h0"/><path stroke="#070cd4" d="M888 220h0m16 0h0m-20 1h0m-34 3h0m-20 1h0m9 0h0m25 0h0m22 0h0m-64 3h0m5 0h0m94 1h0m-81 4h0m99 0h0m-94 1h0m-31 1h0m13 2h0m89 0h0m-127 1h0m11 0h0m22 0h0m30 0h0m-7 5h0m-75 3h0m76 0h0m59 0h0m-53 1h0m6 0h0m110 0h0m-57 1h0m-139 3h0m67 0h0m7 0h0m55 0h0m64 0h0m-142 1h0m99 0h0m-72 1h0m133 2h0m-228 1h0m87 0h0m146 0h0m-208 1h0m14 3h0m82 0h0m83 0h0m22 0h0m13 0h0m-228 1h0m21 0h0m115 0h0m72 0h0m-62 1h0m-48 2h0m62 0h0m31 0h0m-114 1h0m51 0h0m15 0h0m-134 1h0m176 0h0m35 0h0m-193 2h0m208 2h0m-125 1h0m-127 2h0m63 0h0m113 0h0m22 0h0m-157 1h0m165 0h0m-170 1h0m145 0h0m-17 3h0m-90 1h0m-50 1h0m75 2h0m83 1h0m14 0h0m47 1h0m-11 2h0m-220 1h0m32 0h0m36 0h0m36 0h0m100 0h0m-94 1h0m72 0h0m73 0h0m-244 1h0m73 0h0m-54 2h0m51 0h0m20 0h0m27 0h0m21 0h0m10 0h0m4 0h0m101 0h0m-22 1h0m-188 1h0m31 0h0m59 0h0m-44 2h0m-53 1h0m126 0h0m-179 1h0m64 0h0m123 0h0m48 0h0m41 0h0m-186 1h0m51 0h0m-122 2h0m116 0h0m-156 1h0m60 0h0m63 0h0m166 0h0m-314 4h0m5 0h0m147 0h0m125 0h0m-224 1h0m162 0h0m24 0h0m5 0h0m22 0h0m-223 1h0m153 2h0m11 0h0m15 0h0m-67 1h0m56 0h0m5 0h0m-124 1h0m99 0h0m82 0h0m18 2h0m-258 1h0m107 0h0m156 0h0m32 0h0m-249 1h0m187 0h0m-67 3h0m122 0h0m-271 1h0m-30 1h0m62 0h0m77 0h0m84 0h0m18 2h0m-63 1h0m36 0h0m72 0h0m16 0h0m-249 1h0m20 0h0m49 0h0m45 0h0m-139 1h0m-57 2h0m7 0h0m30 0h0m21 0h0m6 0h0m10 0h0m6 0h0m118 0h0m89 0h0m32 0h0m-265 1h0m67 0h0m15 0h0m84 0h0m-51 1h0m40 0h0m105 0h0m-298 3h0m30 0h0m68 0h0m-48 1h0m5 0h0m37 0h0m37 0h0m103 0h0m-124 1h0m77 0h0m-189 2h0m21 1h0m35 0h0m116 0h0m99 0h0m47 0h0m-266 1h0m25 0h0m-75 3h0m84 0h0m156 0h0m-41 2h0m103 0h0m-242 2h0m83 0h0m100 0h0m46 0h0m-291 1h0m126 0h0m31 0h0m-17 1h0m68 0h0m138 2h0m-189 1h0m65 0h0m36 0h0m56 0h0m22 0h0m-338 1h0m108 0h0m26 0h0m-9 1h0m217 0h0m-133 2h0m42 0h0m26 0h0m74 0h0m-281 1h0m21 0h0m218 0h0m-42 1h0m26 0h0m-90 2h0m-230 1h0m63 0h0m30 0h0m131 0h0m-177 1h0m256 0h0m4 0h0m10 0h0m-221 3h0m178 0h0m-272 1h0m241 0h0m10 0h0m9 0h0m28 0h0m-208 1h0m213 0h0m57 0h0m-210 3h0m233 1h0m-246 1h0m137 0h0m-132 2h0m-141 1h0m16 0h0m55 0h0m199 0h0m21 0h0m-165 1h0m-25 2h0m292 0h0m-333 1h0m208 0h0m-250 1h0m62 0h0m43 0h0m-66 3h0m67 1h0m6 1h0m-65 3h0m63 0h0m-42 1h0m192 1h0m116 2h0m-352 2h0m41 0h0m177 0h0m-148 2h0m15 1h0m-89 1h0m10 0h0m57 0h0m288 0h0m-325 4h0m5 1h0m27 0h0m296 0h0m-353 4h0m-9 1h0m70 2h0m-10 1h0m-37 1h0m67 0h0m-75 3h0m74 0h0m143 0h0m-190 1h0m-34 4h0m56 0h0m-38 3h0m-47 1h0m31 0h0m222 0h0m-259 1h0m69 0h0m19 0h0m6 0h0m26 0h0m-132 3h0m20 0h0m37 0h0m10 0h0m-63 1h0m104 0h0m-14 1h0m32 3h0m-62 1h0m11 0h0m13 3h0m37 0h0m-69 1h0m5 0h0m17 0h0m25 0h0m-49 4h0m10 1h0m13 3h0m-31 1h0m36 0h0m11 0h0m11 0h0m35 0h0m-125 5h0m76 0h0m12 0h0m-6 1h0m30 0h0m-105 2h0m67 0h0m-53 1h0m28 1h0m208 0h0m3 0h0m-256 3h0m16 0h0m40 0h0m-64 4h0m125 1h0m-108 1h0m92 0h0m30 0h0m-105 3h0m63 0h0m41 0h0m114 0h0m21 1h0m-242 3h0m98 1h0m115 0h0m-161 1h0m4 0h0m27 0h0m162 0h0m-237 2h0m-35 1h0m118 1h0m256 0h0m-301 3h0m48 0h0m26 0h0m-136 1h0m104 0h0m110 0h0m-89 1h0m-90 3h0m-16 1h0m6 0h0m19 0h0m38 0h0m181 0h0m-224 1h0m105 0h0m-14 2h0m31 0h0m94 0h0m105 0h0m-235 1h0m-37 1h0m125 0h0m10 0h0m27 0h0m82 0h0m-325 3h0m120 0h0m54 0h0m47 0h0m62 0h0m56 0h0m16 0h0m-344 1h0m79 0h0m118 0h0m69 0h0m-141 1h0m-121 2h0m73 0h0m62 0h0m77 0h0m5 0h0m-223 1h0m103 0h0m52 0h0m146 0h0m-250 1h0m33 0h0m192 0h0m16 0h0m-102 2h0m-208 1h0m4 0h0m83 0h0m31 0h0m69 0h0m58 0h0m68 0h0m5 0h0m4 0h0m-328 1h0m21 0h0m33 0h0m36 0h0m50 0h0m11 0h0m215 0h0m-357 3h0m125 0h0m-58 1h0m48 0h0m118 0h0m74 0h0m-21 1h0m30 0h0m10 0h0m7 0h0m-175 2h0m-157 1h0m26 0h0m95 0h0m102 0h0m43 0h0m85 0h0m-178 1h0m83 0h0m52 0h0m6 0h0m-76 3h0m-172 1h0m46 0h0m7 0h0m135 0h0m76 0h0m-164 1h0m133 0h0m-272 3h0m57 0h0m27 0h0m21 0h0m20 0h0m63 0h0m71 0h0m42 0h0m-149 1h0m156 0h0m-239 3h0m127 0h0m99 0h0m-210 1h0m95 0h0m66 0h0m53 0h0m-56 1h0m-243 3h0m145 0h0m31 0h0m79 0h0m-276 1h0m73 0h0m4 0h0m11 0h0m176 0h0m-72 1h0m26 0h0m-206 3h0m42 0h0m135 0h0m-67 1h0m163 0h0m16 3h0m-290 1h0m30 0h0m12 0h0m51 0h0m15 0h0m59 0h0m30 0h0m6 0h0m21 1h0m-123 3h0m15 0h0m166 0h0m33 0h0m-282 1h0m59 0h0m155 0h0m-129 3h0m11 0h0m54 0h0m72 0h0m15 0h0m32 0h0m-270 1h0m29 0h0m31 0h0m68 0h0m152 0h0m-67 1h0m-211 2h0m36 0h0m129 0h0m27 0h0m-48 1h0m-140 1h0m94 0h0m7 3h0m27 0h0m-93 1h0m25 0h0m114 0h0m12 0h0m15 0h0m10 1h0m-28 2h0m-79 1h0m27 0h0m-147 1h0m12 0h0m72 0h0m133 2h0m-214 1h0m68 0h0m4 0h0m23 0h0m103 0h0m-160 1h0m178 4h0m-134 1h0m82 0h0m-64 3h0m46 1h0m-133 3h0m37 0h0m177 0h0m-202 1h0m3 0h0m63 1h0m16 0h0m51 0h0m-80 3h0m42 0h0m-83 1h0m31 0h0m155 0h0m-135 1h0m21 0h0m-43 3h0m109 0h0m9 0h0m23 0h0m-184 1h0m63 0h0m150 2h0m-84 1h0m41 0h0m17 0h0m-126 1h0m98 0h0m3 4h0m-89 1h0m16 0h0m26 0h0m64 0h0m-51 3h0m38 0h0m-111 2h0m22 0h0m40 0h0m-79 2h0m61 0h0m-21 1h0m32 0h0m-37 1h0m96 3h0m-57 1h0m-36 1h0m11 8h0m22 0h0"/><path stroke="#0022de" d="M857 219h0m-5 1h0m-18 4h0m73 2h0m23 4h0m10 0h0m-65 3h0m-77 1h0m83 0h0m42 0h0m-127 4h0m161 0h0m-20 1h0m-65 3h0m77 0h0m-162 1h0m22 0h0m-3 3h0m9 0h0m-41 1h0m11 0h0m26 0h0m52 1h0m19 2h0m10 1h0m-131 1h0m150 0h0m-148 3h0m26 2h0m115 0h0m-65 3h0m78 1h0m-117 3h0m171 0h0m-103 1h0m77 0h0m21 0h0m-137 4h0m105 0h0m15 0h0m-193 1h0m140 0h0m95 0h0m-77 3h0m-9 1h0m108 0h0m-257 5h0m83 0h0m115 0h0m-58 1h0m-96 2h0m22 0h0m61 0h0m115 0h0m-98 1h0m-110 1h0m-2 2h0m-57 1h0m120 0h0m29 0h0m21 1h0m17 0h0m-105 1h0m115 0h0m-196 2h0m121 0h0m-125 2h0m250 0h0m-227 3h0m16 0h0m208 0h0m25 0h0m-239 1h0m11 1h0m17 2h0m203 0h0m-211 1h0m201 1h0m33 0h0m-243 4h0m57 0h0m99 0h0m16 0h0m-7 3h0m40 0h0m-250 1h0m21 0h0m37 0h0m240 0h0m-245 1h0m-24 2h0m47 2h0m15 0h0m9 3h0m71 0h0m7 0h0m-99 2h0m82 0h0m-116 3h0m16 0h0m4 0h0m38 1h0m-88 1h0m174 0h0m-69 2h0m181 0h0m12 1h0m-199 1h0m21 0h0m184 0h0m-208 3h0m115 0h0m48 0h0m51 0h0m-275 1h0m99 0h0m61 0h0m28 0h0m-36 3h0m115 0h0m-77 1h0m83 0h0m-98 1h0m-102 3h0m100 0h0m-179 1h0m41 0h0m194 0h0m47 0h0m-214 1h0m134 2h0m-270 1h0m128 1h0m48 0h0m155 0h0m-175 2h0m-68 5h0m-109 1h0m60 0h0m34 0h0m169 0h0m109 0h0m-353 1h0m267 0h0m41 0h0m-217 3h0m181 1h0m-292 3h0m369 0h0m-259 1h0m140 0h0m-212 4h0m54 0h0m154 0h0m-149 6h0m178 0h0m-237 4h0m73 0h0m-112 4h0m49 4h0m36 4h0m14 1h0m31 0h0m-67 1h0m-57 7h0m110 0h0m-100 1h0m-17 4h0m108 0h0m6 0h0m-47 1h0m-2 4h0m-43 1h0m-22 4h0m21 0h0m30 1h0m32 0h0m34 3h0m-5 1h0m-8 3h0m3 1h0m15 4h0m-123 4h0m11 1h0m21 0h0m14 4h0m-14 3h0m41 1h0m5 0h0m-10 1h0m14 3h0m187 0h0m-246 1h0m5 0h0m33 0h0m197 0h0m-227 4h0m93 0h0m6 0h0m-113 1h0m19 0h0m26 0h0m17 0h0m6 3h0m-19 2h0m45 0h0m156 7h0m-212 2h0m219 0h0m-190 4h0m31 0h0m152 0h0m111 3h0m-302 1h0m-53 1h0m365 0h0m-357 3h0m63 0h0m145 0h0m7 1h0m-243 3h0m10 0h0m358 0h0m-321 2h0m108 0h0m-32 3h0m30 0h0m83 1h0m-17 3h0m-130 1h0m201 0h0m79 0h0m10 0h0m-343 1h0m323 0h0m-330 3h0m98 0h0m6 0h0m42 0h0m76 0h0m119 0h0m-278 1h0m30 0h0m17 0h0m10 0h0m118 0h0m58 1h0m-221 3h0m125 0h0m108 0h0m-161 1h0m-70 3h0m69 0h0m97 0h0m32 0h0m-219 1h0m-45 1h0m-19 3h0m20 0h0m69 1h0m41 0h0m-3 3h0m4 0h0m101 0h0m-131 1h0m219 0h0m-253 4h0m58 0h0m134 0h0m58 0h0m-120 1h0m5 0h0m-199 3h0m186 0h0m62 0h0m27 0h0m-125 1h0m16 0h0m151 0h0m-63 1h0m-43 2h0m41 0h0m-193 1h0m67 0h0m173 0h0m-205 1h0m-48 3h0m124 0h0m78 0h0m42 0h0m10 0h0m-259 1h0m69 0h0m9 0h0m115 0h0m74 3h0m-162 1h0m11 1h0m59 0h0m-86 3h0m113 0h0m32 0h0m47 0h0m-188 1h0m-60 3h0m79 1h0m-131 1h0m217 3h0m-182 1h0m130 0h0m42 0h0m-44 3h0m41 1h0m-156 1h0m57 0h0m151 0h0m-154 3h0m5 1h0m86 4h0m2 4h0m-176 1h0m46 0h0m89 1h0m-66 3h0m116 0h0m-172 1h0m11 0h0m41 0h0m74 0h0m88 0h0m-180 3h0m139 0h0m-171 1h0m63 0h0m51 1h0m72 2h0m36 0h0m-173 1h0m33 0h0m71 1h0m-23 3h0m-120 1h0m146 0h0m-149 4h0m43 0h0m21 1h0m26 0h0m29 4h0m-6 1h0m-102 2h0m121 1h0m19 0h0m-84 4h0m-41 2h0m115 2h0m-103 2h0m129 0h0m-13 5h0m-78 7h0"/><path stroke="#0064ea" d="M860 225h0m-2 5h0m14 2h0m-68 10h0m77 0h0m10 0h0m-73 1h0m10 0h0m142 0h0m-179 3h0m88 1h0m-103 6h0m10 2h0m180 2h0m-168 3h0m11 1h0m87 0h0m-153 3h0m6 0h0m140 0h0m88 0h0m22 0h0m-161 1h0m-84 1h0m43 3h0m7 0h0m14 0h0m66 5h0m-97 3h0m181 0h0m13 1h0m-155 4h0m11 0h0m-52 2h0m148 3h0m-183 1h0m16 1h0m30 2h0m72 0h0m27 0h0m-135 2h0m246 2h0m-292 1h0m120 0h0m-90 4h0m15 0h0m-32 1h0m94 0h0m-108 1h0m142 3h0m-150 1h0m312 0h0m-151 1h0m74 2h0m-87 1h0m-5 1h0m-133 3h0m108 1h0m59 0h0m-122 1h0m222 2h0m-25 1h0m-29 4h0m84 0h0m35 0h0m-227 1h0m217 0h0m-71 3h0m10 1h0m-146 4h0m155 0h0m-264 1h0m133 0h0m43 0h0m144 0h0m-333 1h0m72 3h0m41 1h0m20 0h0m105 0h0m48 0h0m4 0h0m-258 4h0m193 0h0m10 0h0m-7 3h0m-203 1h0m31 0h0m228 0h0m-109 1h0m67 0h0m47 0h0m-189 3h0m-82 1h0m303 4h0m10 0h0m-302 1h0m105 0h0m90 0h0m-190 2h0m195 2h0m-127 4h0m151 0h0m-255 1h0m32 0h0m31 0h0m56 0h0m-28 3h0m168 1h0m-160 3h0m7 1h0m148 5h0m-233 3h0m62 1h0m-55 4h0m16 0h0m317 0h0m-285 1h0m166 0h0m-256 3h0m108 1h0m-49 4h0m-62 1h0m4 0h0m42 8h0m-47 1h0m20 4h0m13 0h0m-50 1h0m111 2h0m292 1h0m-332 4h0m199 1h0m-215 4h0m-33 1h0m-12 5h0m51 0h0m-58 3h0m45 0h0m74 9h0m-115 1h0m92 4h0m26 0h0m-76 5h0m350 4h0m-391 13h0m129 1h0m144 3h0m-220 1h0m-45 1h0m377 4h0m-150 3h0m37 1h0m-89 9h0m173 0h0m-341 4h0m245 1h0m-184 8h0m80 1h0m139 0h0m76 3h0m-12 5h0m-292 1h0m43 0h0m102 0h0m150 0h0m-202 1h0m-55 3h0m15 0h0m240 1h0m-224 3h0m-54 1h0m160 0h0m119 4h0m-312 1h0m93 0h0m92 4h0m-118 3h0m88 1h0m59 0h0m24 0h0m-186 1h0m120 0h0m109 0h0m-278 3h0m9 0h0m194 0h0m-214 1h0m239 1h0m-118 3h0m-14 1h0m122 3h0m30 0h0m-165 1h0m204 3h0m-122 5h0m79 0h0m-126 1h0m36 1h0m-86 2h0m131 2h0m42 0h0m36 0h0m-154 4h0m-53 3h0m45 1h0m115 1h0m-178 3h0m176 1h0m-16 1h0m-1 3h0m20 0h0m-105 1h0m70 3h0m-137 5h0m80 5h0m-83 9h0m83 1h0m-14 6h0m-43 3h0m11 0h0m72 0h0m-22 4h0m11 3h0m16 0h0"/><path stroke="#00b6ef" d="M862 220h0m50 4h0m-7 6h0m-56 3h0m11 10h0m37 9h0m-92 3h0m130 10h0m-74 5h0m92 0h0m18 4h0m-61 1h0m-19 12h0m-137 4h0m77 1h0m-83 1h0m166 0h0m-91 2h0m95 1h0m20 2h0m-216 2h0m104 2h0m180 4h0m-17 9h0m-283 3h0m115 1h0m167 0h0m-279 5h0m333 0h0m-33 4h0m-253 3h0m-25 2h0m-8 3h0m145 0h0m-172 2h0m315 3h0m-313 1h0m137 0h0m-24 4h0m136 1h0m115 3h0m-119 1h0m-158 3h0m11 9h0m-84 1h0m-21 1h0m26 0h0m10 7h0m222 6h0m-19 3h0m137 1h0m-384 13h0m24 6h0m58 4h0m-67 16h0m59 1h0m13 4h0m-94 9h0m59 23h0m89 9h0m-128 4h0m27 2h0m-45 4h0m65 4h0m72 0h0m-131 4h0m359 0h0m2 5h0m-235 1h0m82 3h0m98 0h0m-284 4h0m-14 1h0m338 0h0m-82 4h0m-201 1h0m140 0h0m6 3h0m53 0h0m-230 1h0m278 1h0m-246 7h0m83 2h0m151 0h0m-272 2h0m-11 1h0m338 0h0m-95 4h0m-99 1h0m-136 1h0m35 3h0m275 2h0m-274 3h0m20 0h0m209 0h0m-166 1h0m62 0h0m-100 3h0m155 0h0m89 1h0m-92 5h0m-60 3h0m-58 1h0m204 0h0m-185 3h0m24 6h0m-7 3h0m-44 1h0m22 0h0m109 0h0m63 0h0m-92 13h0m-5 2h0m47 7h0m-16 1h0m54 4h0m-6 4h0m-126 1h0m111 0h0m-72 5h0m-71 7h0m138 0h0m-123 2h0m75 3h0m-35 4h0m43 2h0"/><path stroke="#00e5cf" d="M871 251h0m-97 5h0m39 5h0m167 8h0m9 9h0m-160 17h0m-30 1h0m180 2h0m-245 12h0m108 1h0m2 3h0m-101 5h0m177 0h0m-184 5h0m203 1h0m-222 3h0m69 9h0m237 1h0m-330 3h0m111 0h0m55 2h0m168 0h0m-45 2h0m-223 2h0m190 3h0m-144 5h0m131 0h0m18 3h0m-140 2h0m238 8h0m-335 4h0m-17 5h0m-12 1h0m373 3h0m-287 1h0m-52 10h0m-43 57h0m19 9h0m16 0h0m53 0h0m3 5h0m-53 9h0m-23 6h0m175 13h0m93 0h0m-204 8h0m207 4h0m-241 2h0m233 2h0m-104 1h0m-110 8h0m272 5h0m-276 5h0m17 5h0m171 0h0m29 5h0m37 17h0m-265 1h0m124 0h0m144 3h0m-46 1h0m-187 4h0m42 0h0m193 0h0m-52 1h0m-35 3h0m-121 5h0m198 0h0m15 0h0m-199 4h0m134 0h0m-42 9h0m-104 1h0m24 4h0m151 0h0m-175 4h0m74 9h0m52 2h0m-24 3h0m10 1h0"/><path stroke="#00e481" d="M846 228h0m42 11h0m64 7h0m-91 6h0m-36 9h0m40 0h0m-114 9h0m-4 8h0m180 1h0m48 1h0m-233 3h0m26 1h0m110 0h0m-75 4h0m138 3h0m-129 1h0m-58 8h0m-16 1h0m18 4h0m-23 15h0m216 3h0m-3 5h0m-13 5h0m-146 9h0m39 4h0m224 0h0m-361 12h0m63 9h0m-38 1h0m24 6h0m313 0h0m-368 4h0m48 0h0m-8 4h0m341 5h0m-365 17h0m55 22h0m-55 24h0m13 4h0m71 14h0m-79 18h0m19 4h0m175 9h0m-33 4h0m161 1h0m-184 3h0m57 0h0m42 0h0m-54 5h0m15 0h0m-20 9h0m-171 5h0m76 5h0m-14 17h0m-16 1h0m249 8h0m-5 1h0m-245 17h0m28 5h0m199 10h0m-77 12h0"/><path stroke="#00e138" d="M879 229h0m-11 9h0m-73 10h0m61 4h0m0 3h0m-96 1h0m100 4h0m-44 4h0m83 2h0m-126 2h0m114 1h0m-132 4h0m155 9h0m-112 5h0m36 0h0m-7 4h0m-102 4h0m259 1h0m-72 2h0m-142 4h0m67 0h0m162 9h0m16 0h0m-93 3h0m-7 5h0m119 0h0m10 0h0m-345 4h0m4 1h0m208 0h0m-58 3h0m91 6h0m-108 3h0m105 1h0m68 0h0m-71 4h0m64 1h0m27 4h0m-66 5h0m-12 3h0m92 4h0m-222 7h0m123 5h0m-210 3h0m322 0h0m-129 5h0m-125 1h0m-119 8h0m10 0h0m-17 4h0m54 13h0m-47 1h0m391 0h0m-315 21h0m-51 10h0m4 0h0m8 4h0m-17 1h0m9 4h0m60 14h0m-62 7h0m24 1h0m-20 9h0m10 1h0m82 12h0m89 1h0m-158 4h0m6 6h0m17 8h0m112 1h0m100 7h0m74 1h0m-331 5h0m6 12h0m7 0h0m275 0h0m-221 6h0m154 4h0m89 1h0m-259 3h0m88 1h0m21 9h0m-23 4h0m88 1h0m-75 3h0m5 1h0m108 12h0m-219 1h0m118 4h0m72 2h0m-169 3h0m183 5h0m-28 4h0m-49 5h0m-56 9h0m88 1h0"/><path stroke="#02de00" d="M877 244h0m-101 15h0m53 2h0m-40 4h0m173 0h0m5 8h0m11 2h0m9 0h0m-106 4h0m105 0h0m-261 8h0m201 14h0m45 17h0m-277 15h0m338 9h0m-252 3h0m239 2h0m-300 13h0m-23 5h0m34 4h0m7 13h0m-40 1h0m116 3h0m-101 15h0m13 2h0m-6 10h0m-48 5h0m3 5h0m44 4h0m0 26h0m30 0h0m-63 1h0m7 18h0m251 4h0m35 15h0m-246 8h0m286 8h0m-130 1h0m86 4h0m-253 18h0m225 6h0m50 13h0m-276 1h0m47 7h0m4 11h0m83 3h0m65 0h0m-2 24h0m-133 4h0m168 0h0m-36 18h0"/><path stroke="#0be000" d="M895 238h0m-3 23h0m-3 12h0m-56 10h0m-87 21h0m82 12h0m169 3h0m-280 17h0m304 5h0m-10 9h0m-286 10h0m-53 37h0m11 44h0m44 31h0m3 22h0m212 18h0m-205 5h0m128 23h0m151 17h0m-143 13h0m102 5h0m-175 5h0m158 5h0m0 17h0m-96 13h0"/><path stroke="#15e200" d="M821 273h0m-95 41h0m113 9h0m-148 23h0m-13 78h0m18 22h0m55 48h0m-62 1h0m28 23h0m216 13h0m18 14h0m37 0h0"/><path stroke="#1ee400" d="M738 273h0m245 10h0m-224 1h0m-17 3h0m46 72h0m-80 23h0m30 17h0m288 96h0m-189 22h0m-130 17h0m68 28h0"/><path stroke="#96eb00" d="M732 482h0m64 35h0"/><path stroke="#fae500" d="M694 405h0m181 197h0"/><path stroke="#fda800" d="M722 401h0m-10 9h0m21 108h0m115 8h0"/><path stroke="#ff6600" d="M783 287h0"/><path stroke="#ff1500" d="M943 268h0m-229 91h0m-38 50h0m-1 10h0m71 102h0m49 69h0"/></g><circle cx="436.2" cy="210" r="33.4" fill="#fff"/><circle cx="504.8" cy="212.6" r="33.1" fill="#2e16c8"/><circle cx="702.3" cy="212" r="98" fill="#0a28c8"/><g transform="scale(0.5)" fill="none" stroke-linecap="round" stroke-width="6.5"><path stroke="#ff1500" d="M1375 228h0m62 4h0m-48 1h0m11 0h0m16 1h0m-76 3h0m128 0h0m-93 1h0m27 0h0m33 0h0m23 0h0m7 0h0m-133 4h0m12 0h0m12 0h0m26 0h0m68 0h0m33 0h0m-145 1h0m21 0h0m35 0h0m7 0h0m32 0h0m33 0h0m6 0h0m-142 3h0m22 0h0m77 0h0m-56 1h0m8 0h0m10 0h0m57 0h0m32 0h0m6 0h0m-120 4h0m32 0h0m28 0h0m12 0h0m29 0h0m11 0h0m-101 1h0m45 0h0m27 0h0m7 1h0m17 0h0m-143 3h0m45 0h0m37 0h0m-99 1h0m162 0h0m32 1h0m-196 3h0m44 0h0m17 0h0m55 0h0m29 0h0m55 0h0m-213 1h0m18 0h0m77 0h0m52 0h0m72 0h0m-157 1h0m21 2h0m-46 1h0m40 0h0m67 0h0m4 0h0m23 0h0m-129 1h0m63 0h0m11 0h0m62 0h0m-175 1h0m193 2h0m-100 1h0m5 0h0m30 0h0m88 0h0m12 0h0m-247 1h0m16 0h0m7 0h0m10 0h0m46 0h0m5 0h0m22 0h0m117 0h0m17 0h0m-249 3h0m7 0h0m206 0h0m45 0h0m-241 1h0m89 0h0m141 0h0m-235 1h0m56 0h0m167 0h0m-170 3h0m56 0h0m61 0h0m-174 1h0m23 0h0m18 0h0m66 0h0m118 0h0m-179 1h0m162 0h0m-155 3h0m-73 1h0m6 0h0m84 0h0m22 0h0m103 0h0m38 0h0m6 0h0m-219 1h0m38 0h0m25 0h0m82 0h0m-187 3h0m18 0h0m28 0h0m15 0h0m186 0h0m40 0h0m-265 1h0m84 0h0m86 0h0m83 0h0m-107 1h0m95 0h0m9 3h0m11 0h0m12 0h0m-282 1h0m142 0h0m83 0h0m-212 1h0m7 2h0m40 1h0m91 0h0m127 0h0m-245 1h0m22 0h0m44 0h0m141 0h0m-238 3h0m11 0h0m34 0h0m-69 1h0m112 0h0m123 0h0m-206 1h0m173 0h0m62 0h0m5 0h0m46 0h0m-299 4h0m22 0h0m123 0h0m-163 1h0m111 0h0m209 0h0m-299 3h0m-17 1h0m10 0h0m17 0h0m23 0h0m4 0h0m130 0h0m67 0h0m7 0h0m-254 1h0m308 0h0m-315 3h0m15 0h0m298 0h0m-35 1h0m-257 1h0m62 0h0m52 0h0m176 2h0m-325 1h0m34 0h0m21 0h0m223 0h0m11 0h0m-3 1h0m-285 3h0m12 1h0m270 0h0m55 0h0m-291 1h0m39 0h0m29 0h0m144 0h0m12 0h0m23 0h0m-289 4h0m88 0h0m-48 1h0m44 0h0m-87 3h0m18 0h0m290 0h0m6 0h0m17 0h0m-68 1h0m22 0h0m-279 1h0m84 0h0m135 0h0m99 0h0m-328 4h0m142 0h0m72 0h0m-208 1h0m23 0h0m291 0h0m-91 3h0m-23 1h0m39 0h0m94 0h0m-323 1h0m43 0h0m259 0h0m26 0h0m-321 3h0m45 0h0m241 0h0m11 0h0m22 1h0m-299 4h0m5 0h0m45 0h0m164 0h0m84 0h0m-348 1h0m22 0h0m-16 1h0m30 2h0m291 1h0m-336 1h0m23 0h0m61 0h0m236 0h0m10 0h0m-274 1h0m-30 2h0m17 0h0m308 1h0m4 0h0m-324 1h0m34 0h0m298 0h0m5 0h0m-362 4h0m6 0h0m38 0h0m315 0h0m11 0h0m-381 1h0m21 0h0m11 3h0m345 0h0m-352 1h0m348 0h0m-359 1h0m352 0h0m-360 3h0m6 1h0m26 0h0m342 0h0m-367 4h0m11 1h0m6 0h0m-26 1h0m37 0h0m337 0h0m-373 3h0m381 0h0m-374 1h0m22 0h0m28 0h0m326 3h0m-384 1h0m39 0h0m-47 1h0m18 0h0m18 0h0m4 0h0m17 0h0m330 0h0m-355 4h0m16 0h0m12 0h0m-48 4h0m49 0h0m333 1h0m-346 4h0m-16 1h0m-14 4h0m-18 1h0m25 0h0m27 1h0m7 3h0m12 0h0m325 0h0m-387 1h0m11 0h0m29 1h0m-47 2h0m39 0h0m-17 1h0m33 0h0m-44 1h0m17 0h0m-15 4h0m6 0h0m10 1h0m30 0h0m-33 4h0m-16 1h0m20 3h0m39 0h0m-62 1h0m10 0h0m-20 1h0m26 0h0m12 0h0m7 0h0m10 0h0m-19 3h0m-11 1h0m21 0h0m9 4h0m44 1h0m293 0h0m-323 4h0m-56 1h0m12 0h0m28 1h0m-2 2h0m-6 2h0m347 0h0m-383 4h0m11 1h0m59 0h0m-69 4h0m381 0h0m-369 1h0m3 3h0m17 1h0m32 0h0m24 0h0m-69 1h0m40 0h0m319 0h0m-361 3h0m24 0h0m5 1h0m329 0h0m-10 1h0m5 0h0m-333 4h0m-17 1h0m42 2h0m-27 1h0m15 0h0m198 2h0m-234 2h0m40 1h0m4 0h0m243 0h0m-269 1h0m15 0h0m263 0h0m25 0h0m-261 3h0m-45 1h0m83 0h0m213 0h0m-309 1h0m41 0h0m314 0h0m-358 3h0m12 0h0m41 0h0m268 0h0m-264 1h0m242 0h0m32 0h0m24 0h0m-26 4h0m5 0h0m-263 1h0m57 0h0m178 0h0m19 0h0m-174 1h0m122 0h0m27 0h0m41 0h0m-333 3h0m88 0h0m-84 1h0m30 0h0m269 0h0m-287 1h0m185 0h0m123 0h0m16 0h0m-316 3h0m281 0h0m15 0h0m-318 1h0m5 0h0m45 0h0m219 0h0m-208 1h0m24 0h0m-50 2h0m-22 1h0m231 0h0m32 0h0m41 0h0m-314 1h0m229 0h0m72 0h0m24 0h0m-121 3h0m111 0h0m-301 1h0m17 0h0m88 0h0m125 0h0m77 0h0m-297 1h0m107 0h0m145 0h0m-221 3h0m-50 1h0m5 0h0m40 0h0m224 0h0m-257 1h0m245 0h0m-260 3h0m12 0h0m11 0h0m251 0h0m34 0h0m-269 1h0m7 0h0m133 0h0m107 0h0m12 0h0m-113 1h0m134 0h0m-266 3h0m263 0h0m-296 1h0m16 0h0m12 0h0m84 0h0m96 0h0m-219 1h0m21 0h0m254 0h0m-260 3h0m27 0h0m77 0h0m153 0h0m11 0h0m-275 1h0m27 0h0m17 0h0m35 0h0m84 0h0m71 0h0m-232 4h0m6 0h0m19 0h0m132 0h0m22 0h0m6 0h0m57 0h0m-181 1h0m85 0h0m86 0h0m49 0h0m-90 1h0m-42 3h0m46 0h0m-18 1h0m107 0h0m-272 3h0m45 0h0m190 0h0m-150 1h0m27 0h0m67 0h0m40 0h0m28 0h0m-72 1h0m11 0h0m35 3h0m5 0h0m-101 1h0m131 0h0m9 0h0m-246 1h0m24 0h0m5 0h0m212 0h0m-136 3h0m73 0h0m-192 1h0m7 0h0m139 0h0m57 0h0m22 0h0m5 0h0m-89 1h0m111 0h0m-242 3h0m16 0h0m135 0h0m4 0h0m-145 1h0m39 0h0m6 0h0m23 0h0m4 0h0m131 0h0m26 0h0m-69 3h0m-96 1h0m63 0h0m-134 1h0m5 0h0m191 0h0m-40 1h0m-99 3h0m97 0h0m15 0h0m-123 1h0m85 0h0m72 0h0m7 0h0m-187 1h0m27 2h0m39 0h0m-56 1h0m112 0h0m32 0h0m6 0h0m-167 1h0m11 0h0m33 0h0m17 0h0m46 0h0m45 0h0m33 0h0m11 0h0m-183 3h0m8 0h0m150 0h0m-173 1h0m67 0h0m9 0h0m23 0h0m19 0h0m38 0h0m22 0h0m-174 1h0m117 0h0m7 0h0m11 0h0m23 0h0m27 0h0m-114 3h0m-67 2h0m56 0h0m34 0h0m60 0h0m-120 3h0m22 0h0m61 1h0m-5 1h0m-69 3h0m50 0h0m38 0h0m24 1h0m-16 1h0m-37 3h0m5 0h0m10 0h0m29 0h0m-62 1h0m5 0h0m6 0h0m10 4h0m5 0h0m11 0h0m-50 1h0m21 0h0m6 0h0"/><path stroke="#ff1c00" d="M1411 242h0m72 19h0m-48 5h0m-140 11h0m135 8h0m6 1h0m21 20h0m57 9h0m41 5h0m13 9h0m-71 6h0m-175 5h0m20 3h0m-117 6h0m44 15h0m61 8h0m-26 7h0m-15 14h0m-18 5h0m-41 4h0m91 25h0m-106 29h0m3 4h0m24 4h0m330 21h0m-212 9h0m201 0h0m9 6h0m-333 4h0m31 4h0m10 0h0m-29 16h0m173 19h0m65 4h0m-111 5h0m101 0h0m-174 1h0m38 5h0m149 3h0m-54 6h0m-123 19h0m123 19h0"/><path stroke="#ff6600" d="M1330 266h0m2 5h0m78 1h0m-122 8h0m259 16h0m-248 5h0m166 4h0m-36 11h0m150 24h0m-265 3h0m204 5h0m-246 11h0m223 0h0m66 0h0m-276 5h0m31 15h0m-103 33h0m-7 9h0m3 34h0m98 16h0m-28 8h0m-17 10h0m-7 6h0m37 18h0m-7 7h0m240 7h0m-160 6h0m171 4h0m-2 7h0m-115 3h0m120 6h0m-246 9h0m111 1h0m-39 8h0m160 6h0m-70 4h0m-20 6h0m-86 5h0m38 8h0m40 1h0m-94 1h0m41 4h0"/><path stroke="#fda800" d="M1411 233h0m5 10h0m0 8h0m-90 1h0m51 9h0m-39 10h0m166 5h0m-68 1h0m-55 9h0m111 0h0m5 0h0m-80 4h0m-80 10h0m91 0h0m78 0h0m6 10h0m-249 14h0m-3 6h0m4 0h0m73 0h0m138 4h0m66 6h0m-19 10h0m-272 3h0m47 0h0m284 0h0m-25 5h0m-108 5h0m-211 5h0m48 24h0m-48 26h0m14 4h0m-3 33h0m236 29h0m104 5h0m-267 5h0m157 11h0m45 0h0m-7 8h0m-209 6h0m75 14h0m-14 15h0m190 1h0m-86 14h0m62 0h0m-26 3h0m-166 6h0m121 4h0m39 19h0m-84 2h0m35 19h0"/><path stroke="#fae500" d="M1397 247h0m103 15h0m-11 10h0m-81 4h0m19 6h0m-132 4h0m180 9h0m-21 5h0m-69 4h0m-118 1h0m107 1h0m-47 4h0m72 0h0m-113 16h0m58 3h0m212 0h0m23 0h0m-24 9h0m-277 7h0m262 15h0m-253 27h0m-25 6h0m21 3h0m-40 30h0m16 50h0m81 13h0m215 5h0m-287 4h0m-27 2h0m-6 8h0m39 10h0m57 6h0m119 0h0m63 4h0m-100 1h0m-66 9h0m69 5h0m51 0h0m-143 4h0m33 1h0m110 6h0m64 2h0m-251 1h0m1 6h0m81 24h0m-6 10h0m-16 8h0"/><path stroke="#96eb00" d="M1438 241h0m50 12h0m-25 15h0m-47 3h0m-67 10h0m72 1h0m-60 19h0m120 5h0m-236 18h0m78 0h0m257 11h0m-76 8h0m-275 2h0m335 0h0m-3 3h0m-308 2h0m-20 3h0m86 1h0m-29 9h0m-35 14h0m8 5h0m33 11h0m-30 14h0m11 20h0m-44 33h0m-15 20h0m9 4h0m111 1h0m-19 4h0m186 6h0m14 13h0m-271 5h0m279 1h0m-178 9h0m9 4h0m83 0h0m-178 2h0m100 19h0m-48 5h0m71 13h0m10 1h0m-70 5h0m9 4h0m119 10h0m-73 11h0m-14 15h0m70 4h0"/><path stroke="#1ee400" d="M1354 233h0m73 0h0m-80 4h0m33 1h0m72 0h0m55 24h0m-58 9h0m-136 6h0m-37 4h0m4 5h0m106 9h0m106 1h0m-229 10h0m104 0h0m80 0h0m-194 5h0m281 0h0m11 0h0m-306 4h0m242 0h0m-71 5h0m-9 1h0m-56 3h0m32 5h0m45 1h0m22 0h0m-137 4h0m278 6h0m-301 4h0m18 1h0m9 3h0m-21 5h0m269 2h0m-210 2h0m170 7h0m11 0h0m-169 3h0m-107 2h0m64 4h0m-15 16h0m0 17h0m-20 10h0m2 7h0m-42 32h0m-31 4h0m89 2h0m-91 5h0m37 0h0m99 14h0m79 18h0m66 2h0m-137 4h0m-72 10h0m61 9h0m119 1h0m78 0h0m3 4h0m-63 1h0m-112 9h0m-108 5h0m84 0h0m9 4h0m51 4h0m99 6h0m-101 1h0m-70 3h0m184 1h0m-117 1h0m-30 3h0m2 5h0m118 2h0m2 14h0m-115 4h0m17 0h0m-89 1h0m152 18h0"/><path stroke="#15e200" d="M1441 229h0m-79 28h0m59 5h0m-11 1h0m-58 3h0m184 11h0m-9 3h0m-131 16h0m71 3h0m-201 1h0m-21 5h0m14 5h0m73 1h0m-14 4h0m46 0h0m137 4h0m-112 2h0m-32 3h0m22 0h0m68 1h0m61 0h0m-269 1h0m274 7h0m-253 6h0m-15 5h0m30 1h0m52 3h0m213 1h0m-298 10h0m82 5h0m-14 13h0m175 10h0m-224 26h0m-28 17h0m39 11h0m29 1h0m-65 3h0m56 11h0m-38 19h0m68 9h0m64 6h0m-88 4h0m34 0h0m169 1h0m32 9h0m-282 14h0m102 1h0m-16 5h0m140 0h0m-91 4h0m14 5h0m75 4h0m70 6h0m-228 6h0m167 4h0m-227 4h0m94 0h0m62 9h0m-111 1h0m212 0h0m-140 1h0m-18 5h0m54 19h0m84 9h0"/><path stroke="#0be000" d="M1361 252h0m-40 1h0m69 3h0m-77 10h0m200 1h0m-164 4h0m-64 14h0m38 0h0m160 5h0m46 10h0m-140 1h0m-38 3h0m26 5h0m10 2h0m108 9h0m74 4h0m-268 1h0m233 4h0m-216 5h0m192 0h0m-131 1h0m149 3h0m53 5h0m-313 1h0m258 0h0m-40 1h0m-215 4h0m297 1h0m-189 4h0m120 4h0m93 5h0m-371 25h0m50 0h0m-24 29h0m61 43h0m8 4h0m-103 7h0m272 8h0m-212 1h0m71 4h0m-129 1h0m17 0h0m128 1h0m22 7h0m-66 1h0m244 4h0m-242 1h0m238 5h0m23 0h0m-288 5h0m-7 1h0m204 4h0m60 5h0m-84 1h0m31 3h0m-125 6h0m40 4h0m-59 4h0m21 7h0m-74 8h0m202 0h0m-170 5h0m-65 5h0m86 14h0m40 0h0m-112 2h0m144 3h0m21 1h0m-49 18h0m38 10h0m-65 5h0"/><path stroke="#02de00" d="M1352 236h0m96 1h0m-99 5h0m109 4h0m-5 1h0m-43 4h0m36 6h0m-3 13h0m22 15h0m64 5h0m-181 1h0m124 1h0m-53 3h0m-61 20h0m-16 1h0m35 4h0m187 5h0m-333 3h0m169 0h0m-11 1h0m-54 4h0m123 2h0m6 0h0m91 0h0m-177 4h0m-12 1h0m-35 4h0m65 1h0m9 3h0m-146 10h0m52 1h0m278 1h0m-332 2h0m217 1h0m11 0h0m-250 1h0m38 18h0m51 1h0m-6 1h0m274 8h0m-290 10h0m32 1h0m-63 13h0m-1 9h0m-22 21h0m70 14h0m-97 6h0m111 0h0m33 20h0m116 3h0m-132 6h0m149 13h0m-95 1h0m148 5h0m-170 1h0m-12 5h0m8 4h0m-17 1h0m191 0h0m-273 3h0m119 0h0m-45 1h0m107 0h0m40 3h0m36 2h0m-21 3h0m-3 6h0m-95 20h0m-35 4h0m58 4h0m-46 10h0m-61 10h0m179 1h0m-109 4h0m75 4h0m-39 1h0m-31 4h0m-57 6h0"/><path stroke="#00e138" d="M1469 247h0m-24 4h0m18 7h0m26 3h0m-30 5h0m-35 1h0m-21 8h0m-34 12h0m120 3h0m-118 21h0m118 0h0m-2 5h0m-127 3h0m63 0h0m27 0h0m-25 5h0m28 0h0m-196 1h0m162 0h0m-86 3h0m83 2h0m22 0h0m-213 10h0m129 10h0m22 0h0m-25 4h0m51 0h0m107 0h0m13 5h0m56 0h0m-231 4h0m18 6h0m94 4h0m24 5h0m-272 5h0m271 10h0m-175 9h0m-93 4h0m17 1h0m80 0h0m1 4h0m1 10h0m21 0h0m-94 1h0m62 1h0m4 8h0m-31 4h0m-5 2h0m58 5h0m-100 9h0m75 3h0m56 20h0m118 1h0m-142 4h0m147 1h0m-135 9h0m-74 1h0m39 0h0m15 3h0m44 1h0m193 4h0m-268 10h0m51 1h0m6 5h0m-70 9h0m-47 1h0m79 0h0m183 5h0m-149 4h0m-36 6h0m72 0h0m163 10h0m-149 3h0m-79 1h0m19 10h0m100 0h0m-76 4h0m86 6h0m52 0h0m-3 3h0m-83 5h0m-24 7h0m97 4h0m-127 8h0m-17 10h0m51 11h0"/><path stroke="#00e481" d="M1335 248h0m149 4h0m-85 9h0m32 6h0m53 4h0m-16 1h0m-5 4h0m-147 4h0m179 0h0m28 0h0m-99 5h0m-71 5h0m30 1h0m78 0h0m54 4h0m-167 5h0m8 0h0m34 5h0m40 0h0m-101 1h0m21 4h0m101 0h0m-44 5h0m-69 5h0m202 0h0m-4 5h0m-200 1h0m-94 2h0m240 1h0m-28 1h0m-93 1h0m25 4h0m172 0h0m-269 3h0m138 0h0m63 0h0m-37 5h0m56 2h0m-226 4h0m-18 1h0m205 3h0m-99 5h0m107 0h0m29 0h0m-80 1h0m45 0h0m43 5h0m-153 1h0m-142 3h0m231 1h0m39 0h0m13 3h0m-16 1h0m-205 5h0m19 5h0m-3 4h0m180 1h0m-135 1h0m123 8h0m-161 1h0m-92 3h0m4 11h0m37 4h0m56 1h0m162 18h0m-150 1h0m11 0h0m-76 5h0m59 5h0m-15 5h0m42 4h0m-77 1h0m13 5h0m218 19h0m-199 4h0m204 7h0m-91 4h0m74 5h0m62 0h0m-41 3h0m39 0h0m-74 1h0m-138 1h0m116 0h0m36 0h0m-113 8h0m140 0h0m-175 2h0m65 2h0m91 2h0m-197 9h0m171 4h0m57 0h0m-223 6h0m16 0h0m20 4h0m-85 6h0m284 9h0m-240 1h0m54 5h0m116 8h0m-86 6h0m16 0h0m41 0h0m-105 6h0m59 33h0"/><path stroke="#00e5cf" d="M1414 237h0m-10 14h0m-80 7h0m11 0h0m126 3h0m43 4h0m-180 2h0m-32 14h0m84 0h0m68 1h0m-115 4h0m2 4h0m91 0h0m-129 1h0m78 0h0m-80 4h0m44 11h0m97 3h0m41 0h0m-45 1h0m-119 9h0m96 1h0m-162 1h0m87 3h0m32 0h0m135 1h0m-95 1h0m-36 3h0m40 1h0m-171 4h0m62 0h0m16 0h0m101 0h0m21 0h0m31 5h0m-112 1h0m57 9h0m60 0h0m-114 6h0m-35 3h0m33 0h0m68 0h0m-116 5h0m164 1h0m-161 3h0m16 1h0m140 0h0m7 1h0m-222 3h0m56 2h0m151 8h0m-113 2h0m-79 3h0m12 6h0m197 0h0m-182 4h0m-7 11h0m15 3h0m36 14h0m-54 11h0m13 5h0m16 9h0m157 0h0m-185 1h0m41 9h0m-64 1h0m93 14h0m4 4h0m-56 1h0m-5 1h0m72 8h0m90 0h0m123 1h0m-102 8h0m-138 7h0m57 0h0m68 0h0m-8 3h0m-129 1h0m170 5h0m23 0h0m-177 4h0m177 5h0m-47 5h0m-86 1h0m43 4h0m50 1h0m-47 4h0m-63 1h0m40 0h0m-137 13h0m236 1h0m-143 5h0m-4 4h0m-8 5h0m19 5h0m-57 5h0m115 5h0m-21 24h0m29 10h0"/><path stroke="#00b6ef" d="M1393 233h0m51 9h0m-105 21h0m37 9h0m30 0h0m49 0h0m-35 4h0m-35 9h0m101 1h0m-98 4h0m124 1h0m-76 4h0m-95 1h0m10 0h0m-95 1h0m228 13h0m-161 6h0m49 13h0m55 0h0m54 5h0m10 0h0m-117 1h0m72 0h0m8 5h0m-30 5h0m12 0h0m-37 4h0m-37 4h0m6 0h0m-44 2h0m19 2h0m208 2h0m-306 4h0m281 0h0m-196 1h0m9 0h0m-2 5h0m168 0h0m-184 9h0m168 1h0m-159 3h0m-20 5h0m162 1h0m-132 3h0m-27 2h0m12 0h0m-11 14h0m-49 10h0m62 0h0m-5 1h0m-16 4h0m10 6h0m8 22h0m8 5h0m151 10h0m-10 1h0m-117 5h0m127 5h0m-132 4h0m-20 4h0m24 0h0m235 1h0m-160 3h0m78 2h0m29 9h0m-155 5h0m58 0h0m21 0h0m55 0h0m-165 4h0m34 0h0m61 1h0m7 0h0m38 0h0m-148 4h0m141 0h0m77 10h0m-142 5h0m83 0h0m-59 6h0m113 0h0m-87 4h0m-128 1h0m87 3h0m5 0h0m117 0h0m-164 6h0m21 0h0m-26 1h0m98 0h0m56 4h0m-143 4h0m4 0h0m22 1h0m-11 9h0m49 5h0m23 0h0m-144 24h0m6 1h0"/><path stroke="#0064ea" d="M1372 243h0m-14 3h0m77 11h0m32 4h0m-124 19h0m-54 5h0m154 1h0m-47 1h0m-110 5h0m178 4h0m73 0h0m-278 5h0m180 0h0m-56 1h0m-36 2h0m10 1h0m169 0h0m-26 5h0m6 1h0m32 0h0m-163 4h0m68 4h0m45 0h0m-72 1h0m-73 1h0m41 5h0m116 4h0m34 9h0m-56 1h0m-187 3h0m78 0h0m17 1h0m5 0h0m79 1h0m-109 3h0m23 0h0m-107 2h0m153 3h0m67 0h0m-12 1h0m-119 4h0m73 0h0m-78 1h0m167 0h0m17 0h0m-209 4h0m16 0h0m5 0h0m-69 6h0m61 0h0m13 3h0m112 2h0m-176 5h0m37 3h0m-22 1h0m168 0h0m11 0h0m-257 9h0m94 9h0m147 1h0m-138 6h0m0 8h0m-92 7h0m-32 4h0m95 9h0m-40 6h0m69 4h0m-17 1h0m-41 4h0m51 0h0m-40 9h0m7 6h0m188 4h0m-187 5h0m10 0h0m141 1h0m12 0h0m-178 3h0m186 0h0m-147 1h0m139 4h0m4 1h0m105 3h0m-197 1h0m-18 1h0m8 0h0m122 1h0m-4 3h0m-50 1h0m-130 4h0m174 0h0m-216 4h0m281 0h0m-170 1h0m39 0h0m-21 1h0m-137 3h0m184 0h0m38 0h0m-97 7h0m69 2h0m-15 2h0m-19 1h0m-13 4h0m23 0h0m131 5h0m-194 3h0m91 1h0m-114 6h0m60 8h0m46 0h0m-160 5h0m180 1h0m-173 4h0m155 5h0m-89 1h0m86 3h0m82 5h0m-70 6h0m4 9h0m-134 1h0m43 4h0m31 16h0"/><path stroke="#0022de" d="M1367 261h0m113 5h0m-170 5h0m94 9h0m-106 1h0m158 9h0m-94 5h0m75 9h0m-34 1h0m1 6h0m-129 4h0m180 4h0m-22 11h0m-75 4h0m110 1h0m-131 3h0m94 7h0m90 0h0m-99 3h0m23 1h0m-10 4h0m18 1h0m23 0h0m-100 4h0m108 0h0m-26 4h0m-179 1h0m95 0h0m-61 1h0m123 0h0m-100 10h0m128 0h0m35 0h0m-206 13h0m-74 9h0m114 2h0m-14 4h0m21 0h0m-27 1h0m11 0h0m3 3h0m-7 2h0m-16 9h0m168 0h0m-176 5h0m-3 4h0m33 11h0m-37 3h0m18 0h0m6 1h0m5 9h0m-61 1h0m91 14h0m120 0h0m-130 1h0m-115 3h0m114 6h0m126 4h0m-21 2h0m-4 3h0m-58 4h0m13 6h0m56 0h0m-5 1h0m21 0h0m12 0h0m90 0h0m-260 3h0m83 0h0m68 0h0m-163 1h0m72 0h0m63 0h0m-33 1h0m58 5h0m-15 3h0m23 1h0m23 0h0m61 0h0m-123 1h0m47 3h0m-83 1h0m-13 4h0m50 0h0m-7 1h0m57 0h0m-67 18h0m72 1h0m-27 9h0m-169 1h0m50 1h0m92 2h0m-110 12h0m103 25h0"/><path stroke="#070cd4" d="M1526 275h0m-124 10h0m141 1h0m-65 14h0m-65 14h0m-86 15h0m236 1h0m-44 4h0m-66 1h0m-37 4h0m-28 1h0m44 0h0m75 0h0m-155 4h0m68 0h0m-18 1h0m96 0h0m-82 4h0m-20 4h0m44 0h0m1 10h0m68 0h0m32 2h0m-284 9h0m210 5h0m-234 19h0m240 8h0m1 7h0m-183 8h0m-6 10h0m187 15h0m-159 23h0m-28 1h0m205 5h0m-160 5h0m34 0h0m110 0h0m26 5h0m-72 10h0m26 0h0m-142 4h0m108 0h0m15 0h0m96 0h0m-194 5h0m56 0h0m-122 1h0m64 4h0m237 4h0m-114 5h0m-67 1h0m76 5h0m-38 4h0m-75 5h0m40 0h0m78 19h0"/><path stroke="#2d12c9" d="M1445 310h0m-20 180h0m18 8h0m-36 10h0m42 36h0m-124 34h0"/><path stroke="#2d12c9" d="M1556 349h0m-257 9h0m218 2h0m-239 14h0m4 82h0m170 33h0m-72 38h0m8 5h0"/><path stroke="#070cd4" d="M1462 280h0m-18 11h0m-25 24h0m5 19h0m-53 4h0m73 1h0m68 0h0m-133 4h0m54 5h0m23 1h0m44 0h0m33 1h0m-199 4h0m54 4h0m-93 14h0m175 1h0m-133 4h0m-11 2h0m10 14h0m2 4h0m0 40h0m131 4h0m-129 9h0m125 9h0m-188 6h0m178 9h0m-106 11h0m85 0h0m16 0h0m26 3h0m-37 5h0m50 2h0m36 4h0m-121 6h0m97 0h0m-71 3h0m-19 5h0m40 0h0m-44 5h0m46 0h0m3 6h0m-51 1h0m-34 38h0"/><path stroke="#0022de" d="M1432 232h0m68 21h0m-29 10h0m19 37h0m-143 14h0m49 1h0m29 0h0m22 0h0m-74 10h0m39 0h0m24 0h0m31 4h0m-121 5h0m45 1h0m50 0h0m-31 3h0m-153 5h0m219 0h0m-114 1h0m95 1h0m-85 3h0m-24 1h0m60 4h0m55 0h0m-70 4h0m119 0h0m-78 2h0m-90 8h0m116 1h0m-8 4h0m40 1h0m-138 4h0m141 1h0m-20 6h0m-6 7h0m-148 7h0m149 5h0m-184 13h0m-8 15h0m26 14h0m171 14h0m-7 1h0m-183 1h0m36 3h0m-10 1h0m33 0h0m134 0h0m-221 4h0m213 0h0m-151 1h0m135 0h0m9 0h0m-193 5h0m177 6h0m44 0h0m-3 3h0m-117 1h0m84 0h0m17 0h0m-120 4h0m-16 1h0m-29 1h0m232 3h0m-163 1h0m30 1h0m-50 2h0m107 1h0m5 0h0m-55 1h0m-47 3h0m60 1h0m-65 1h0m57 5h0m-56 8h0m73 0h0m46 0h0m-223 1h0m122 0h0m31 4h0m24 6h0m56 0h0m-159 5h0m108 3h0m-114 5h0m57 0h0m17 0h0m44 1h0m34 1h0m-164 3h0m63 15h0m-48 5h0"/><path stroke="#0064ea" d="M1449 233h0m71 34h0m-59 5h0m14 4h0m-41 6h0m-95 10h0m71 7h0m90 0h0m-117 12h0m108 3h0m-201 1h0m101 0h0m129 0h0m-168 1h0m13 3h0m6 0h0m23 0h0m83 1h0m-200 1h0m77 0h0m-2 3h0m38 0h0m-72 1h0m49 0h0m96 0h0m-109 4h0m41 0h0m65 1h0m-101 8h0m34 1h0m-35 4h0m-24 1h0m-10 1h0m90 0h0m-94 3h0m19 0h0m143 1h0m-88 1h0m-87 3h0m23 1h0m54 1h0m-129 4h0m190 0h0m-77 4h0m96 1h0m-118 9h0m6 0h0m6 0h0m-9 4h0m-128 1h0m252 0h0m-11 1h0m-121 4h0m122 1h0m23 0h0m-25 3h0m3 5h0m-185 10h0m6 0h0m-4 5h0m51 10h0m-7 4h0m-21 6h0m22 1h0m-40 12h0m40 6h0m-27 1h0m35 4h0m141 0h0m-4 5h0m8 0h0m-139 4h0m13 9h0m122 1h0m-148 5h0m5 1h0m8 3h0m117 0h0m-4 1h0m-176 4h0m168 0h0m49 0h0m-199 4h0m147 2h0m5 1h0m67 0h0m-125 3h0m10 0h0m17 0h0m45 1h0m-7 3h0m-91 1h0m44 0h0m-30 4h0m134 0h0m-78 1h0m-16 1h0m5 0h0m-98 4h0m104 4h0m4 0h0m-134 2h0m100 3h0m44 1h0m-87 4h0m89 0h0m-73 1h0m67 0h0m17 9h0m-50 1h0m80 4h0m-80 4h0m-50 2h0m200 0h0m-164 5h0m-4 4h0m-12 4h0m13 35h0m33 8h0"/><path stroke="#00b6ef" d="M1449 262h0m-10 10h0m-48 5h0m25 4h0m57 1h0m-21 3h0m80 0h0m-137 5h0m8 5h0m27 0h0m-50 1h0m-15 4h0m110 5h0m-61 1h0m7 4h0m-99 1h0m195 0h0m-85 9h0m8 1h0m-100 4h0m29 9h0m-84 1h0m121 4h0m16 1h0m-77 3h0m136 1h0m67 1h0m-205 3h0m32 6h0m50 0h0m78 0h0m-119 4h0m-87 5h0m183 1h0m91 1h0m-279 3h0m11 1h0m153 10h0m-179 8h0m60 0h0m-11 1h0m140 0h0m-123 9h0m129 0h0m-161 1h0m6 13h0m23 1h0m-47 5h0m26 4h0m-10 5h0m-28 1h0m50 0h0m141 0h0m-137 3h0m-61 3h0m43 8h0m16 5h0m-18 10h0m15 5h0m15 0h0m-19 3h0m135 1h0m-114 6h0m112 0h0m-167 3h0m24 0h0m155 0h0m-180 5h0m186 6h0m-86 5h0m32 5h0m50 0h0m-215 4h0m94 0h0m33 0h0m-11 1h0m6 0h0m-71 3h0m185 0h0m-49 1h0m-1 9h0m52 0h0m-192 1h0m91 0h0m-29 1h0m27 8h0m24 0h0m-52 1h0m43 4h0m16 0h0m146 1h0m-30 3h0m-124 1h0m5 0h0m7 0h0m29 4h0m-147 6h0m145 0h0m-167 1h0m101 0h0m14 5h0m-65 3h0m102 0h0m-36 19h0m-47 5h0m6 0h0m-17 20h0m74 11h0m-38 3h0"/><path stroke="#00e5cf" d="M1412 229h0m-73 23h0m-36 5h0m178 1h0m-127 13h0m28 1h0m90 0h0m-25 4h0m5 0h0m-151 1h0m137 5h0m-131 3h0m-7 7h0m187 4h0m15 0h0m-85 15h0m-33 4h0m148 1h0m-59 4h0m20 4h0m-96 1h0m78 0h0m-195 1h0m-10 3h0m218 0h0m35 2h0m-126 4h0m86 5h0m12 0h0m-255 13h0m29 0h0m279 0h0m-207 1h0m242 5h0m-81 5h0m-182 4h0m163 0h0m79 0h0m-107 1h0m-165 4h0m50 0h0m-9 5h0m12 1h0m127 3h0m-156 5h0m6 1h0m-52 4h0m209 5h0m-182 5h0m34 10h0m-31 5h0m32 5h0m-42 4h0m30 5h0m-30 4h0m12 1h0m16 1h0m-33 10h0m-9 4h0m-5 10h0m5 0h0m-20 3h0m39 1h0m31 4h0m6 2h0m137 4h0m-49 15h0m-113 3h0m-13 1h0m55 4h0m161 1h0m11 1h0m-11 9h0m-117 1h0m86 4h0m-121 4h0m31 1h0m15 19h0m52 0h0m63 5h0m-46 6h0m-78 3h0m23 1h0m48 3h0m-78 1h0m45 0h0m-69 1h0m113 0h0m5 0h0m-182 3h0m96 2h0m30 3h0m-9 6h0m-28 1h0m24 0h0m32 0h0m-137 13h0m94 15h0"/><path stroke="#00e481" d="M1455 233h0m-70 4h0m-16 1h0m1 13h0m128 15h0m-155 5h0m174 10h0m-63 14h0m15 1h0m-53 4h0m100 0h0m-67 1h0m-41 4h0m-15 4h0m72 5h0m-135 1h0m175 5h0m-96 6h0m-133 3h0m132 6h0m156 0h0m-265 3h0m49 2h0m60 5h0m33 0h0m87 3h0m-70 5h0m-38 1h0m-141 1h0m40 7h0m-97 1h0m269 1h0m-14 5h0m-260 3h0m262 5h0m-178 15h0m18 0h0m12 14h0m4 5h0m-19 6h0m-4 13h0m-17 1h0m34 1h0m6 8h0m-121 6h0m82 4h0m170 6h0m-171 5h0m18 0h0m167 8h0m-178 1h0m40 0h0m-76 5h0m78 1h0m-35 7h0m-20 8h0m48 4h0m245 4h0m-242 1h0m106 0h0m-130 5h0m260 4h0m-260 5h0m99 0h0m92 0h0m-5 3h0m-184 1h0m213 1h0m-6 1h0m-92 4h0m100 0h0m-25 3h0m-56 1h0m-80 4h0m26 5h0m13 5h0m-46 1h0m49 5h0m105 0h0m-5 9h0m29 0h0m-160 5h0m35 5h0m41 11h0m-103 7h0m14 1h0m-4 15h0m124 0h0m-139 4h0m10 5h0m-3 6h0"/><path stroke="#00e138" d="M1426 228h0m-22 5h0m-10 18h0m131 16h0m-178 8h0m111 0h0m57 2h0m-105 14h0m-143 5h0m47 0h0m110 1h0m-109 3h0m-44 10h0m99 4h0m33 2h0m108 3h0m21 5h0m-245 5h0m29 0h0m94 1h0m-67 9h0m-10 1h0m-26 4h0m182 4h0m-124 1h0m62 0h0m-130 1h0m117 3h0m105 0h0m-187 7h0m178 8h0m-30 4h0m-204 26h0m50 1h0m-20 12h0m18 1h0m-1 20h0m1 8h0m-78 20h0m44 9h0m7 1h0m-54 24h0m271 6h0m54 5h0m-255 3h0m83 0h0m19 1h0m-11 4h0m52 1h0m-222 4h0m107 0h0m-31 4h0m79 0h0m160 5h0m-19 1h0m36 4h0m-285 1h0m158 0h0m34 0h0m4 0h0m-115 5h0m69 9h0m28 1h0m69 6h0m-220 14h0m27 0h0m129 0h0m48 13h0m-138 6h0m81 4h0m-157 1h0m115 5h0"/><path stroke="#02de00" d="M1293 261h0m124 1h0m-69 1h0m38 3h0m-69 1h0m93 13h0m-49 2h0m-54 13h0m102 0h0m117 0h0m-94 5h0m-149 1h0m111 0h0m48 5h0m106 0h0m-237 3h0m131 5h0m95 0h0m-241 1h0m173 1h0m85 0h0m-266 3h0m39 0h0m-15 5h0m157 1h0m-171 4h0m12 0h0m161 1h0m105 3h0m-146 1h0m57 0h0m-147 1h0m12 0h0m-41 4h0m153 5h0m-131 4h0m211 0h0m-312 2h0m-13 8h0m18 0h0m217 5h0m122 0h0m-133 6h0m52 0h0m-229 9h0m23 4h0m-7 5h0m48 6h0m-31 5h0m-76 3h0m375 0h0m-380 1h0m59 14h0m-6 29h0m17 1h0m-2 10h0m49 14h0m-13 6h0m-10 3h0m-66 1h0m73 0h0m-15 5h0m22 0h0m110 5h0m154 5h0m-188 3h0m151 0h0m-64 6h0m84 0h0m-204 6h0m100 0h0m57 0h0m8 3h0m-134 1h0m-40 1h0m193 4h0m-294 4h0m7 0h0m162 0h0m84 1h0m-22 1h0m-205 3h0m23 9h0m167 10h0m-66 10h0m28 0h0m-129 1h0m198 4h0m-193 6h0m77 0h0m-51 5h0m69 4h0m-28 9h0m95 0h0m-159 5h0"/><path stroke="#0be000" d="M1402 229h0m16 7h0m13 2h0m-26 5h0m52 14h0m30 1h0m-9 4h0m-146 1h0m-23 19h0m169 8h0m-200 5h0m168 2h0m93 4h0m-101 9h0m132 5h0m-142 4h0m56 1h0m40 0h0m50 0h0m-225 1h0m-42 4h0m246 0h0m-150 8h0m35 5h0m13 0h0m-135 11h0m73 0h0m123 1h0m-66 3h0m-54 1h0m100 0h0m-261 13h0m83 1h0m-2 5h0m-80 6h0m41 24h0m25 5h0m-29 3h0m-58 11h0m54 15h0m11 8h0m-32 6h0m54 5h0m-38 37h0m273 1h0m-199 5h0m41 10h0m181 5h0m-244 4h0m16 4h0m63 15h0m132 5h0m-169 10h0m164 2h0m-199 3h0m17 1h0m116 1h0m-142 2h0m218 0h0m-82 5h0m-26 10h0m-35 1h0m-47 4h0"/><path stroke="#15e200" d="M1380 227h0m-53 15h0m164 35h0m42 4h0m-67 1h0m-109 3h0m0 11h0m-56 1h0m245 4h0m-167 5h0m115 4h0m-42 4h0m95 2h0m-117 8h0m12 0h0m60 0h0m-45 1h0m82 4h0m31 4h0m-152 1h0m85 0h0m-236 1h0m280 0h0m-230 10h0m-14 3h0m164 10h0m-112 10h0m-81 4h0m-60 6h0m373 5h0m-255 4h0m-94 10h0m76 0h0m-52 6h0m28 9h0m5 0h0m-34 9h0m40 11h0m-92 4h0m44 1h0m-26 10h0m109 13h0m-96 21h0m-1 8h0m19 0h0m24 6h0m72 0h0m11 0h0m-80 5h0m14 3h0m6 0h0m-65 6h0m68 1h0m69 24h0m-20 4h0m105 4h0m27 10h0m-124 1h0m17 0h0m-59 4h0m161 6h0m-32 4h0m-143 4h0m208 11h0m-105 5h0m-50 10h0m108 10h0"/><path stroke="#1ee400" d="M1360 232h0m47 6h0m-4 9h0m29 5h0m-6 5h0m-58 8h0m123 2h0m-207 1h0m137 4h0m58 9h0m-207 5h0m132 4h0m130 9h0m-130 2h0m-80 5h0m234 0h0m-97 4h0m61 0h0m-187 4h0m144 16h0m-250 3h0m308 0h0m-174 2h0m-114 3h0m200 11h0m-135 9h0m146 1h0m-200 39h0m-25 14h0m-16 5h0m-2 15h0m122 24h0m-101 8h0m30 7h0m325 0h0m-311 14h0m-24 1h0m212 3h0m42 5h0m11 0h0m-203 9h0m-56 1h0m217 5h0m-97 15h0m99 19h0m6 1h0m-42 4h0m-11 1h0m87 4h0m-55 3h0m-164 5h0m-33 2h0m16 0h0m190 0h0m5 3h0m-166 6h0m16 0h0m148 13h0m-150 2h0m46 14h0m-39 9h0m44 6h0"/><path stroke="#96eb00" d="M1396 227h0m-15 6h0m46 9h0m38 5h0m-58 9h0m-100 1h0m95 0h0m39 0h0m36 14h0m-65 4h0m-57 6h0m96 0h0m-137 4h0m144 2h0m-115 4h0m35 0h0m141 6h0m9 14h0m31 3h0m-299 5h0m34 1h0m187 6h0m-99 3h0m168 0h0m-25 4h0m-53 5h0m45 0h0m-213 1h0m96 0h0m92 4h0m45 1h0m-57 9h0m-149 15h0m-29 5h0m-18 1h0m-50 8h0m62 1h0m-64 4h0m58 16h0m-29 28h0m29 1h0m35 23h0m-3 1h0m-60 14h0m325 1h0m-239 4h0m196 19h0m-50 1h0m-168 9h0m-53 5h0m2 4h0m292 1h0m-238 6h0m200 3h0m-188 6h0m121 4h0m-43 5h0m-116 5h0m12 0h0m44 0h0m136 1h0m-67 18h0m59 4h0m-135 1h0m-5 1h0m115 3h0m-62 11h0m11 0h0m-74 9h0m85 1h0m-101 9h0m80 10h0m22 0h0"/><path stroke="#fae500" d="M1340 248h0m9 4h0m-55 18h0m190 10h0m-220 10h0m202 0h0m-67 11h0m85 0h0m19 3h0m28 0h0m-75 5h0m-214 1h0m56 1h0m22 9h0m167 4h0m-105 14h0m-132 7h0m22 8h0m260 0h0m32 0h0m-226 5h0m161 5h0m-176 9h0m-71 21h0m0 9h0m-4 34h0m-16 1h0m-8 5h0m47 24h0m8 3h0m50 21h0m173 10h0m-184 8h0m103 6h0m-180 18h0m254 2h0m-239 13h0m259 1h0m-83 6h0m-143 14h0m4 3h0m33 11h0m116 4h0m77 0h0m-60 10h0m-111 5h0m7 0h0m35 4h0m12 0h0m73 1h0m-22 1h0m5 0h0m-83 8h0m2 5h0"/><path stroke="#fda800" d="M1408 247h0m67 1h0m-45 8h0m-51 2h0m161 22h0m10 11h0m-207 19h0m108 20h0m-205 3h0m26 0h0m-6 5h0m304 6h0m-104 5h0m-242 4h0m122 1h0m103 6h0m-156 17h0m-39 30h0m-21 14h0m25 11h0m45 4h0m-13 14h0m-50 1h0m-14 4h0m83 1h0m-78 9h0m10 4h0m43 21h0m59 4h0m-93 5h0m42 4h0m28 10h0m167 5h0m10 0h0m-257 10h0m30 5h0m25 6h0m209 0h0m-5 5h0m-34 4h0m-151 10h0m194 19h0m-70 4h0m38 15h0m16 0h0m-36 6h0m-98 4h0"/><path stroke="#ff6600" d="M1418 228h0m-55 10h0m33 0h0m30 0h0m-49 3h0m65 35h0m-55 1h0m153 13h0m-277 6h0m12 4h0m197 1h0m-4 4h0m-130 4h0m129 2h0m-220 3h0m132 2h0m-63 4h0m-16 13h0m-28 7h0m300 0h0m-334 9h0m267 0h0m-50 9h0m-191 1h0m5 23h0m-29 11h0m-33 37h0m86 15h0m-43 5h0m23 19h0m37 27h0m186 2h0m-236 15h0m28 0h0m-8 5h0m40 6h0m-17 3h0m99 0h0m-71 11h0m-57 1h0m233 0h0m2 9h0m42 5h0m-229 20h0m109 5h0m-30 42h0"/><path stroke="#ff1c00" d="M1407 228h0m15 14h0m-90 9h0m14 6h0m18 9h0m94 29h0m94 9h0m-134 2h0m-52 5h0m132 4h0m-246 10h0m41 5h0m-42 4h0m243 15h0m90 0h0m-355 4h0m65 55h0m-21 3h0m-32 50h0m66 18h0m-15 6h0m205 4h0m79 0h0m-253 10h0m26 4h0m115 26h0m-149 4h0m214 0h0m-91 11h0m-164 3h0m87 5h0m19 5h0m46 2h0m-16 4h0m-124 5h0m96 5h0m-70 4h0m203 0h0m-48 5h0m-164 5h0m180 4h0m-67 10h0m25 5h0m-3 6h0m-75 3h0"/><path stroke="#ff1500" d="M1386 227h0m-17 1h0m23 0h0m39 0h0m-65 4h0m57 0h0m22 0h0m-67 1h0m-8 1h0m-13 4h0m34 0h0m52 0h0m34 3h0m-111 1h0m23 1h0m67 0h0m6 0h0m-137 3h0m37 0h0m129 0h0m-66 1h0m15 0h0m-123 1h0m30 0h0m22 0h0m16 0h0m27 0h0m7 0h0m17 0h0m-93 3h0m40 0h0m-27 1h0m33 0h0m106 0h0m-184 1h0m5 0h0m144 0h0m-141 3h0m21 0h0m12 0h0m34 0h0m10 0h0m96 0h0m4 0h0m-126 1h0m134 0h0m-146 1h0m62 0h0m33 0h0m17 0h0m-150 3h0m63 0h0m4 0h0m108 0h0m-192 1h0m25 0h0m15 0h0m63 0h0m32 0h0m-6 1h0m-86 2h0m50 0h0m-105 1h0m6 0h0m95 0h0m26 0h0m69 0h0m-181 1h0m51 0h0m51 0h0m44 0h0m57 0h0m-222 3h0m39 0h0m175 0h0m-181 1h0m50 1h0m63 0h0m79 0h0m-161 3h0m12 0h0m12 0h0m-56 1h0m77 0h0m28 0h0m44 0h0m12 0h0m-173 1h0m16 0h0m7 0h0m5 0h0m21 0h0m12 0h0m62 0h0m68 0h0m-167 3h0m68 0h0m-17 1h0m-111 1h0m96 0h0m5 0h0m129 0h0m10 0h0m-97 3h0m89 0h0m-185 1h0m73 0h0m16 0h0m12 0h0m51 0h0m67 0h0m11 0h0m-202 1h0m134 0h0m30 0h0m16 0h0m-211 3h0m11 0h0m34 0h0m73 0h0m7 0h0m55 0h0m23 0h0m-118 1h0m101 0h0m-230 1h0m38 0h0m15 2h0m-7 1h0m19 0h0m10 0h0m45 0h0m50 0h0m-146 1h0m35 0h0m38 0h0m6 0h0m106 0h0m29 0h0m14 3h0m-252 1h0m50 0h0m57 0h0m-90 1h0m21 0h0m34 0h0m118 0h0m33 0h0m63 0h0m-304 1h0m191 0h0m-143 2h0m207 0h0m27 0h0m-278 1h0m33 0h0m5 0h0m18 0h0m-7 1h0m36 0h0m53 0h0m31 0h0m66 0h0m6 0h0m45 0h0m-268 4h0m6 0h0m23 0h0m10 0h0m41 0h0m123 0h0m74 0h0m-260 1h0m265 0h0m5 0h0m-104 3h0m16 0h0m-162 1h0m213 0h0m18 0h0m-260 1h0m-1 3h0m16 0h0m163 0h0m57 0h0m-282 1h0m17 0h0m50 0h0m164 0h0m66 0h0m12 0h0m21 0h0m-17 1h0m-6 3h0m-270 1h0m22 0h0m252 0h0m28 0h0m-321 4h0m50 0h0m209 0h0m31 1h0m-254 4h0m-34 1h0m5 0h0m269 0h0m12 0h0m-225 4h0m-86 1h0m44 0h0m7 0h0m10 0h0m284 3h0m-353 1h0m72 0h0m220 1h0m15 0h0m12 0h0m17 0h0m-317 4h0m47 0h0m-30 1h0m4 3h0m22 0h0m241 0h0m44 0h0m-325 1h0m270 0h0m73 0h0m-275 1h0m224 0h0m-4 3h0m33 0h0m-274 1h0m11 0h0m-15 1h0m270 2h0m-330 2h0m23 0h0m314 0h0m17 0h0m5 0h0m-371 3h0m10 0h0m72 0h0m219 0h0m-252 1h0m6 0h0m228 0h0m91 0h0m-314 1h0m-37 3h0m24 0h0m312 0h0m11 0h0m-340 1h0m26 4h0m16 0h0m-41 1h0m11 0h0m18 0h0m318 0h0m-349 4h0m62 0h0m-78 1h0m10 0h0m16 1h0m25 0h0m5 0h0m312 0h0m-348 3h0m346 0h0m-335 2h0m-47 3h0m15 0h0m78 0h0m-50 2h0m31 4h0m-52 4h0m10 1h0m13 3h0m-33 1h0m13 0h0m5 0h0m6 0h0m-39 1h0m66 0h0m-25 3h0m-22 1h0m17 0h0m39 0h0m-61 1h0m54 0h0m-64 3h0m28 2h0m-19 4h0m50 0h0m-48 4h0m35 1h0m40 0h0m-47 1h0m-42 2h0m39 1h0m354 0h0m-360 1h0m50 3h0m-80 1h0m12 0h0m16 0h0m17 1h0m-48 4h0m-1 4h0m10 0h0m40 0h0m5 0h0m44 1h0m-96 4h0m4 0h0m18 0h0m-13 2h0m46 0h0m2 3h0m-34 1h0m18 1h0m-30 2h0m5 1h0m35 5h0m-4 1h0m22 0h0m23 0h0m291 0h0m-350 3h0m4 0h0m-16 1h0m-7 4h0m-12 1h0m6 0h0m67 0h0m-45 1h0m341 0h0m6 0h0m-362 3h0m22 0h0m-26 1h0m43 0h0m-20 4h0m18 0h0m6 0h0m16 0h0m291 0h0m-358 1h0m365 0h0m-343 1h0m74 0h0m-87 3h0m6 0h0m10 0h0m56 0h0m264 0h0m-241 1h0m169 0h0m66 0h0m-341 1h0m4 0h0m65 2h0m-61 1h0m12 0h0m346 0h0m-363 1h0m352 0h0m5 0h0m-3 3h0m-313 1h0m-39 1h0m6 0h0m50 0h0m-24 3h0m22 0h0m-51 2h0m22 0h0m-19 3h0m29 0h0m4 0h0m79 0h0m21 0h0m152 0h0m-270 1h0m298 1h0m39 0h0m-270 3h0m38 0h0m111 0h0m84 0h0m-313 1h0m33 0h0m202 0h0m-134 1h0m-64 3h0m201 0h0m50 0h0m17 0h0m28 0h0m-269 1h0m39 0h0m180 0h0m55 0h0m7 1h0m-305 3h0m17 0h0m12 0h0m4 0h0m270 0h0m-281 1h0m207 0h0m5 1h0m-259 2h0m44 1h0m23 0h0m6 0h0m4 0h0m7 0h0m206 0h0m-285 1h0m57 0h0m27 0h0m11 0h0m124 0h0m-167 3h0m23 0h0m185 0h0m50 0h0m-241 1h0m23 0h0m201 0h0m-278 1h0m9 0h0m13 0h0m22 0h0m28 0h0m152 0h0m60 0h0m10 3h0m-180 1h0m117 0h0m28 0h0m23 0h0m-298 1h0m13 0h0m17 0h0m44 0h0m124 0h0m15 0h0m30 0h0m-245 3h0m22 0h0m51 0h0m28 0h0m190 0h0m-146 1h0m113 0h0m-174 1h0m-30 3h0m191 0h0m39 0h0m9 0h0m-196 1h0m209 0h0m-276 1h0m51 0h0m174 0h0m-243 3h0m33 0h0m38 0h0m-77 1h0m56 0h0m32 0h0m7 0h0m24 0h0m183 0h0m-64 3h0m-231 1h0m8 0h0m17 0h0m71 0h0m152 0h0m-237 1h0m30 0h0m44 0h0m101 0h0m51 0h0m21 0h0m6 0h0m-39 1h0m14 2h0m-156 1h0m196 0h0m6 0h0m-219 1h0m95 0h0m11 0h0m33 0h0m-197 3h0m206 0h0m50 0h0m-251 1h0m67 0h0m128 0h0m-190 1h0m151 0h0m29 0h0m32 0h0m28 0h0m-243 3h0m84 0h0m-12 1h0m86 0h0m62 0h0m-197 1h0m5 0h0m89 0h0m123 0h0m11 0h0m-242 3h0m10 0h0m118 0h0m12 0h0m55 0h0m6 0h0m6 0h0m-90 1h0m74 0h0m43 0h0m-190 1h0m141 0h0m53 2h0m-219 1h0m18 0h0m55 0h0m6 0h0m22 0h0m-118 1h0m28 0h0m30 0h0m5 0h0m10 0h0m28 0h0m84 0h0m5 0h0m6 0h0m12 0h0m6 0h0m5 0h0m-196 1h0m44 0h0m17 0h0m32 3h0m4 0h0m63 0h0m44 0h0m-219 1h0m39 0h0m12 0h0m41 0h0m10 0h0m34 0h0m77 0h0m-21 1h0m-128 2h0m91 0h0m-51 1h0m7 0h0m27 0h0m68 0h0m-73 1h0m17 0h0m23 0h0m-77 3h0m-38 1h0m100 0h0m-135 1h0m50 0h0m29 0h0m45 0h0m-115 3h0m106 0h0m-94 1h0m5 0h0m117 0h0m11 0h0m-60 1h0m31 0h0m7 0h0m33 0h0m-119 3h0m17 0h0m100 0h0m-145 1h0m51 0h0m59 0h0m-117 1h0m134 0h0m-75 3h0m22 0h0m16 0h0m36 0h0m-91 1h0m5 0h0m19 0h0m21 0h0m8 4h0m22 0h0m-60 1h0m3 3h0m-17 1h0m55 1h0"/></g><circle cx="702.3" cy="212" r="32.8" fill="#fff"/><circle cx="768.8" cy="214.6" r="32.8" fill="#2e16c8"/><circle cx="963.7" cy="211.8" r="97.6" fill="#0a28c8"/><g transform="scale(0.5)" fill="none" stroke-linecap="round" stroke-width="6.5"><path stroke="#ff1500" d="M1910 227h0m6 5h0m-26 1h0m39 0h0m33 0h0m-79 1h0m-8 3h0m79 0h0m-96 1h0m123 0h0m-38 1h0m-27 3h0m40 0h0m-106 1h0m16 0h0m23 1h0m109 3h0m-134 1h0m95 0h0m24 0h0m-128 4h0m112 0h0m-99 1h0m90 0h0m5 0h0m16 0h0m10 0h0m7 0h0m-160 3h0m-5 1h0m62 0h0m-52 1h0m7 0h0m54 0h0m125 0h0m-183 4h0m7 0h0m178 0h0m-175 5h0m54 0h0m-94 1h0m225 0h0m4 0h0m-221 3h0m85 0h0m-97 1h0m6 0h0m231 1h0m-201 3h0m13 0h0m84 0h0m15 5h0m-17 1h0m88 0h0m-215 3h0m22 0h0m192 0h0m-232 1h0m118 0h0m102 0h0m-197 1h0m-18 4h0m-18 1h0m275 0h0m-3 3h0m-230 1h0m-44 1h0m19 3h0m79 0h0m84 0h0m-103 1h0m-62 4h0m173 0h0m94 0h0m-198 5h0m-100 1h0m5 0h0m6 0h0m125 4h0m-123 1h0m-16 8h0m269 0h0m-253 1h0m5 0h0m228 4h0m79 1h0m10 9h0m-336 1h0m324 0h0m-27 1h0m-31 4h0m66 0h0m10 4h0m-53 5h0m56 0h0m-25 4h0m31 15h0m-369 6h0m5 4h0m358 0h0m-370 10h0m376 0h0m2 6h0m-384 13h0m29 0h0m-33 4h0m8 0h0m8 5h0m22 2h0m-37 5h0m10 4h0m21 0h0m55 0h0m-69 5h0m-15 9h0m389 5h0m-370 1h0m-12 8h0m17 10h0m-16 1h0m-6 1h0m22 7h0m358 0h0m-154 6h0m-211 5h0m260 1h0m-195 3h0m258 1h0m-326 4h0m341 0h0m-336 1h0m16 0h0m-5 1h0m7 3h0m303 0h0m-314 1h0m39 0h0m305 3h0m-340 2h0m39 0h0m284 0h0m16 3h0m-342 1h0m325 0h0m11 1h0m-311 4h0m33 0h0m120 4h0m78 0h0m-149 1h0m-71 4h0m296 0h0m-313 1h0m5 0h0m30 0h0m-19 9h0m-5 10h0m285 1h0m-13 3h0m-274 1h0m19 4h0m185 0h0m-146 1h0m225 0h0m-8 4h0m-259 1h0m123 1h0m82 2h0m40 0h0m-192 1h0m91 0h0m-84 1h0m59 4h0m38 0h0m23 1h0m21 0h0m-143 3h0m41 0h0m66 1h0m18 0h0m-153 1h0m11 0h0m170 0h0m-165 3h0m168 1h0m-152 1h0m-25 4h0m186 0h0m-204 1h0m122 4h0m67 0h0m-152 1h0m59 3h0m5 0h0m6 0h0m28 0h0m-89 1h0m10 0h0m118 0h0m-99 3h0m-55 1h0m79 0h0m61 0h0m28 0h0m-163 1h0m15 4h0m111 0h0m-96 4h0m11 0h0m88 0h0m5 1h0m-25 1h0m-16 3h0m6 1h0m13 0h0m10 1h0"/><path stroke="#ff1c00" d="M1948 256h0m128 60h0m2 19h0m-34 10h0m53 24h0m-358 29h0m42 15h0m336 47h0m-278 45h0m222 3h0m-285 6h0m109 20h0m109 4h0m-104 14h0m144 2h0m-61 9h0m0 19h0m40 0h0m-46 19h0m-14 15h0"/><path stroke="#ff6600" d="M1936 228h0m-15 10h0m24 15h0m-113 13h0m173 10h0m-40 11h0m103 3h0m-66 2h0m-192 8h0m107 10h0m75 4h0m93 15h0m-187 6h0m169 5h0m41 18h0m-1 10h0m-356 35h0m18 9h0m7 34h0m343 19h0m-360 25h0m84 1h0m-71 3h0m12 20h0m128 10h0m-50 9h0m-81 14h0m110 1h0m80 1h0m-121 13h0m193 16h0m-171 3h0m-19 16h0m19 4h0m44 20h0"/><path stroke="#fda800" d="M1920 228h0m-79 20h0m183 14h0m-209 33h0m26 10h0m6 11h0m-46 5h0m93 29h0m-119 23h0m19 5h0m308 0h0m-323 25h0m-21 28h0m-19 25h0m367 33h0m-314 10h0m301 11h0m-20 4h0m-149 29h0m-135 1h0m268 28h0m-115 16h0m-62 18h0m65 15h0"/><path stroke="#fae500" d="M1969 233h0m-10 25h0m43 3h0m-55 6h0m94 4h0m11 29h0m-103 5h0m-85 9h0m167 1h0m-255 6h0m-35 42h0m46 1h0m-43 16h0m271 2h0m-265 25h0m-11 69h0m356 14h0m16 0h0m-46 9h0m20 5h0m-85 25h0m69 15h0m-256 4h0m245 6h0m-68 8h0m12 10h0m-54 15h0m-60 5h0m118 9h0m-94 1h0m3 5h0m16 0h0"/><path stroke="#96eb00" d="M1953 228h0m-18 4h0m58 5h0m-52 5h0m-12 11h0m-70 4h0m123 9h0m-28 2h0m-69 3h0m167 0h0m-140 2h0m42 3h0m-168 21h0m66 0h0m72 3h0m-100 6h0m2 10h0m14 4h0m66 1h0m99 4h0m58 4h0m-305 7h0m340 24h0m-332 47h0m7 1h0m-37 23h0m1 16h0m58 37h0m313 1h0m-8 5h0m-357 5h0m196 20h0m-136 23h0m98 5h0m29 15h0m-88 8h0m34 20h0m125 6h0m-9 5h0m-63 13h0m6 0h0"/><path stroke="#1ee400" d="M1892 238h0m-22 9h0m41 6h0m44 4h0m-127 5h0m-21 4h0m44 6h0m180 0h0m-106 23h0m107 10h0m-243 4h0m173 2h0m-176 3h0m31 17h0m75 22h0m156 1h0m-203 5h0m261 4h0m-248 2h0m251 15h0m-112 4h0m-258 53h0m14 4h0m17 10h0m-15 5h0m-7 4h0m48 19h0m22 5h0m-55 6h0m69 0h0m202 4h0m-268 20h0m323 4h0m-310 2h0m22 15h0m264 2h0m-254 7h0m180 28h0m-46 1h0m18 9h0m-10 5h0m-2 5h0m-54 15h0m12 8h0"/><path stroke="#15e200" d="M1886 237h0m86 7h0m-41 4h0m103 14h0m-35 4h0m-65 15h0m-75 5h0m152 1h0m33 19h0m12 0h0m36 14h0m-38 14h0m-88 12h0m-203 8h0m16 1h0m320 8h0m-363 10h0m22 1h0m6 9h0m12 35h0m26 14h0m-50 28h0m96 1h0m-104 5h0m184 28h0m123 1h0m-225 5h0m-75 10h0m325 10h0m12 8h0m-265 14h0m144 0h0m-106 1h0m33 0h0m-120 4h0m78 10h0m175 0h0m-118 10h0m-106 1h0m131 5h0m-36 4h0m137 5h0m-76 5h0m30 4h0m-103 6h0m-10 10h0m73 0h0"/><path stroke="#0be000" d="M1977 238h0m-60 13h0m-48 6h0m-35 6h0m184 9h0m-119 5h0m-88 5h0m-9 4h0m30 4h0m16 7h0m27 8h0m68 1h0m-94 5h0m196 8h0m-36 6h0m6 0h0m22 10h0m68 8h0m-20 5h0m-203 5h0m-135 1h0m12 0h0m227 4h0m-217 6h0m-6 1h0m340 2h0m-17 3h0m-318 3h0m51 10h0m-66 10h0m2 13h0m-11 1h0m16 1h0m72 3h0m-79 2h0m-22 10h0m30 23h0m-17 10h0m368 14h0m-311 5h0m-31 5h0m1 4h0m-23 2h0m359 19h0m-310 3h0m243 5h0m-69 15h0m106 0h0m-5 2h0m-215 3h0m-1 9h0m-62 2h0m215 3h0m6 0h0m-39 30h0m-114 6h0m79 0h0m-44 15h0m69 9h0m-99 3h0m98 6h0"/><path stroke="#02de00" d="M1900 233h0m-6 18h0m57 2h0m58 3h0m-2 5h0m-27 1h0m-64 4h0m82 11h0m-133 1h0m56 9h0m0 8h0m16 1h0m12 0h0m55 0h0m39 1h0m-155 4h0m40 0h0m72 5h0m-14 8h0m-86 5h0m51 2h0m-130 4h0m153 5h0m127 0h0m-55 9h0m-292 2h0m110 3h0m-51 11h0m-36 4h0m300 4h0m-256 1h0m261 0h0m-297 8h0m85 2h0m-35 10h0m-50 19h0m-19 15h0m5 27h0m73 20h0m-97 6h0m128 8h0m115 6h0m-162 1h0m-81 3h0m135 1h0m114 4h0m-79 1h0m108 0h0m-211 4h0m242 1h0m-228 4h0m262 0h0m-207 9h0m209 1h0m-243 1h0m137 0h0m80 3h0m-208 1h0m-61 1h0m16 0h0m-52 3h0m8 5h0m139 0h0m101 1h0m6 1h0m49 4h0m-200 3h0m28 0h0m140 1h0m-69 4h0m41 5h0m-153 5h0m45 1h0m129 1h0m-135 8h0m52 5h0m113 1h0m-154 5h0m-10 4h0m28 1h0m70 4h0m18 0h0m-82 5h0m80 0h0m-110 4h0m40 1h0m52 6h0m4 4h0m-94 15h0"/><path stroke="#00e138" d="M1959 229h0m13 8h0m-90 2h0m42 3h0m-42 4h0m24 6h0m100 0h0m-20 1h0m-97 9h0m126 4h0m-95 2h0m30 3h0m23 0h0m-129 2h0m32 3h0m44 0h0m50 0h0m86 5h0m-55 1h0m-38 8h0m-157 1h0m190 9h0m-203 1h0m168 3h0m31 2h0m-53 4h0m112 1h0m-176 5h0m-42 5h0m96 0h0m-131 3h0m200 2h0m-109 3h0m-106 2h0m-21 3h0m79 11h0m161 4h0m-209 14h0m312 10h0m-292 1h0m-28 8h0m334 5h0m-353 1h0m37 6h0m-46 27h0m17 1h0m7 9h0m0 20h0m43 1h0m-50 9h0m6 0h0m10 0h0m209 30h0m12 4h0m-54 1h0m-198 2h0m317 1h0m-298 6h0m185 10h0m51 5h0m-80 4h0m-117 9h0m264 2h0m-111 2h0m75 15h0m30 0h0m-189 6h0m71 4h0m21 0h0m-66 1h0m112 1h0m-60 2h0m12 2h0m-136 3h0m145 11h0m12 1h0m-150 4h0m139 0h0m-76 9h0m-27 6h0m109 4h0m-74 5h0m56 0h0"/><path stroke="#00e481" d="M1906 243h0m-31 5h0m8 4h0m122 5h0m-134 5h0m47 1h0m41 3h0m-134 1h0m79 0h0m107 0h0m-134 4h0m23 0h0m92 6h0m-40 5h0m-64 5h0m63 4h0m22 0h0m98 4h0m-50 2h0m-192 3h0m54 20h0m-94 1h0m73 0h0m60 0h0m129 0h0m-98 4h0m33 1h0m-101 4h0m100 0h0m15 4h0m21 1h0m51 0h0m-322 4h0m41 7h0m14 3h0m164 0h0m-133 6h0m245 5h0m-328 4h0m20 6h0m227 8h0m-231 4h0m352 21h0m-328 14h0m-8 15h0m-31 4h0m40 11h0m42 5h0m-47 24h0m47 5h0m195 9h0m-203 5h0m6 0h0m168 0h0m-84 11h0m115 3h0m-218 1h0m235 8h0m37 5h0m-42 1h0m29 0h0m-300 5h0m85 1h0m106 8h0m-38 1h0m83 0h0m-70 3h0m7 6h0m-146 6h0m174 3h0m-71 1h0m-26 5h0m6 0h0m-47 4h0m32 1h0m8 4h0m136 0h0m-101 10h0m-95 1h0m38 0h0m151 9h0m-117 9h0m31 5h0m-11 1h0m88 0h0"/><path stroke="#00e5cf" d="M1973 234h0m-5 8h0m-109 6h0m95 0h0m-34 10h0m-57 10h0m83 3h0m-54 6h0m129 1h0m-164 3h0m10 0h0m141 1h0m31 3h0m-198 1h0m139 4h0m-14 6h0m51 0h0m-134 4h0m107 0h0m57 1h0m-169 9h0m123 0h0m-202 1h0m3 4h0m248 0h0m-102 1h0m-154 5h0m29 0h0m239 0h0m9 4h0m-134 1h0m157 0h0m-149 3h0m62 0h0m-64 5h0m4 0h0m101 0h0m-262 1h0m16 0h0m9 4h0m50 0h0m73 0h0m-11 1h0m-97 3h0m235 0h0m-192 1h0m-38 1h0m77 0h0m32 4h0m12 0h0m-87 5h0m21 0h0m-78 1h0m223 0h0m-176 12h0m-77 1h0m17 1h0m33 1h0m48 4h0m234 1h0m-293 4h0m10 10h0m157 0h0m3 3h0m16 2h0m-169 3h0m-58 1h0m66 5h0m-34 19h0m37 4h0m-99 5h0m67 0h0m-80 5h0m77 0h0m-76 4h0m122 6h0m-110 5h0m92 14h0m-51 5h0m44 0h0m142 6h0m33 19h0m13 0h0m18 4h0m-215 4h0m40 2h0m22 0h0m68 0h0m-159 4h0m284 0h0m-168 10h0m119 0h0m-110 4h0m43 0h0m-54 2h0m11 8h0m78 0h0m-203 1h0m107 0h0m155 3h0m-241 2h0m101 0h0m75 3h0m56 2h0m33 0h0m-232 5h0m127 4h0m14 5h0m28 0h0m49 0h0m-160 6h0m-92 4h0m238 3h0m-234 2h0m-8 4h0m16 0h0m84 1h0m72 8h0m-89 10h0m-29 1h0m113 0h0m-3 4h0m-10 2h0m-19 2h0m59 2h0"/><path stroke="#00b6ef" d="M1949 229h0m-46 18h0m90 0h0m-115 5h0m44 0h0m-72 1h0m23 0h0m28 0h0m35 3h0m46 2h0m-16 8h0m-68 1h0m109 5h0m-49 3h0m18 2h0m79 0h0m-250 3h0m237 1h0m-118 1h0m-78 4h0m30 0h0m62 0h0m44 0h0m67 0h0m-147 1h0m58 0h0m-76 3h0m167 1h0m-257 1h0m266 3h0m-144 10h0m-101 1h0m115 0h0m6 0h0m40 0h0m-81 5h0m25 3h0m56 0h0m46 0h0m-91 2h0m50 0h0m-99 1h0m-37 4h0m88 0h0m15 3h0m-29 1h0m147 1h0m-97 3h0m56 0h0m-264 1h0m70 4h0m152 0h0m-20 5h0m-118 1h0m111 0h0m71 3h0m22 2h0m-87 5h0m90 0h0m-110 4h0m30 0h0m28 0h0m83 0h0m17 0h0m-301 4h0m74 1h0m94 0h0m-120 5h0m-100 1h0m13 3h0m73 0h0m162 0h0m-194 1h0m317 9h0m-327 5h0m67 0h0m-120 5h0m84 0h0m29 0h0m-87 4h0m-10 6h0m46 0h0m-4 4h0m18 0h0m21 1h0m18 0h0m-14 4h0m-45 1h0m18 10h0m-60 4h0m-10 1h0m42 3h0m-10 5h0m43 6h0m-28 9h0m52 5h0m-27 1h0m34 0h0m-84 9h0m66 0h0m37 4h0m-102 1h0m41 0h0m65 4h0m-96 1h0m88 4h0m116 0h0m-237 5h0m97 5h0m38 0h0m-41 6h0m27 0h0m98 4h0m-177 1h0m46 2h0m-45 1h0m120 0h0m102 6h0m-92 4h0m96 0h0m-20 5h0m-216 5h0m77 0h0m97 1h0m22 0h0m84 0h0m-215 3h0m-40 1h0m45 0h0m139 0h0m24 0h0m-178 4h0m62 1h0m129 0h0m33 0h0m-157 1h0m18 0h0m-27 3h0m91 0h0m89 1h0m-131 4h0m90 0h0m55 0h0m-230 1h0m172 3h0m-175 2h0m97 0h0m-110 4h0m61 0h0m174 0h0m-232 5h0m112 0h0m-159 4h0m22 0h0m-12 1h0m241 0h0m-224 1h0m132 3h0m-152 1h0m248 0h0m-107 1h0m-48 3h0m140 1h0m-146 1h0m-76 3h0m168 0h0m-6 1h0m62 0h0m-231 3h0m73 0h0m-57 1h0m105 5h0m14 5h0m-110 5h0m129 0h0m-17 19h0"/><path stroke="#0064ea" d="M1989 242h0m-152 5h0m16 0h0m112 9h0m55 0h0m-89 1h0m-66 1h0m-3 3h0m84 2h0m-20 4h0m15 0h0m55 5h0m-177 3h0m208 2h0m-42 3h0m-145 2h0m108 4h0m10 4h0m-66 5h0m139 0h0m-134 2h0m161 3h0m-213 1h0m197 0h0m-266 4h0m4 1h0m224 0h0m37 5h0m21 0h0m-139 1h0m87 2h0m-123 1h0m74 0h0m-124 1h0m13 4h0m145 0h0m74 1h0m-310 4h0m99 0h0m69 0h0m32 0h0m13 0h0m106 0h0m-202 1h0m53 4h0m61 0h0m56 0h0m-249 4h0m106 0h0m6 0h0m20 5h0m-124 1h0m50 0h0m125 1h0m-210 2h0m16 0h0m27 1h0m62 0h0m23 0h0m77 0h0m-95 1h0m130 0h0m77 0h0m-243 5h0m-58 4h0m228 0h0m-172 1h0m91 0h0m-27 4h0m100 0h0m-114 4h0m146 0h0m-14 5h0m-47 5h0m-196 1h0m67 0h0m4 0h0m139 4h0m-230 1h0m47 3h0m5 2h0m188 5h0m112 0h0m-260 5h0m148 3h0m-178 10h0m27 1h0m9 4h0m-35 1h0m-18 13h0m6 1h0m41 5h0m-62 1h0m55 7h0m-31 1h0m9 0h0m168 0h0m-246 2h0m55 3h0m50 1h0m13 3h0m-89 1h0m78 0h0m-14 4h0m162 0h0m-156 1h0m-84 1h0m7 3h0m10 5h0m94 0h0m-59 5h0m169 0h0m-187 6h0m57 5h0m-68 3h0m189 0h0m-17 1h0m-36 4h0m-16 1h0m-50 1h0m-100 3h0m220 1h0m118 0h0m-242 1h0m45 0h0m-121 4h0m237 0h0m93 0h0m-214 4h0m122 0h0m11 0h0m-128 1h0m10 0h0m137 0h0m16 0h0m-285 3h0m103 0h0m-51 1h0m201 1h0m-220 4h0m246 0h0m-59 5h0m-236 1h0m129 0h0m69 0h0m20 0h0m123 0h0m-40 3h0m-158 1h0m29 0h0m23 1h0m-71 3h0m79 0h0m-158 1h0m225 0h0m2 4h0m-224 1h0m4 4h0m144 0h0m-161 1h0m90 0h0m-111 3h0m101 2h0m11 0h0m73 0h0m-92 3h0m18 2h0m26 0h0m57 0h0m67 0h0m-147 5h0m100 0h0m-38 3h0m24 1h0m90 0h0m-140 1h0m-94 5h0m173 3h0m46 5h0m-94 1h0m-45 8h0m-15 6h0m48 4h0m-92 5h0m163 0h0m-96 1h0m-29 18h0m50 2h0m5 3h0"/><path stroke="#0022de" d="M1904 239h0m-31 5h0m92 4h0m-75 4h0m6 9h0m98 7h0m-121 3h0m-36 6h0m100 0h0m41 3h0m-60 1h0m100 0h0m36 5h0m-246 1h0m104 3h0m-16 2h0m58 3h0m46 0h0m-136 1h0m23 0h0m23 0h0m23 0h0m10 1h0m-94 3h0m153 0h0m-138 5h0m26 5h0m11 0h0m133 0h0m-100 1h0m-123 1h0m-21 3h0m163 0h0m102 0h0m-50 1h0m55 0h0m-43 3h0m-77 1h0m67 0h0m17 1h0m33 0h0m-176 3h0m63 0h0m-35 2h0m-58 3h0m61 0h0m156 0h0m-280 1h0m129 0h0m158 1h0m-60 3h0m27 0h0m-121 1h0m33 0h0m-137 4h0m21 1h0m79 0h0m134 0h0m-248 4h0m169 0h0m-196 2h0m80 2h0m79 1h0m-100 1h0m14 0h0m141 0h0m46 0h0m-59 3h0m60 0h0m-161 1h0m84 0h0m6 0h0m43 0h0m58 0h0m-298 1h0m93 3h0m84 0h0m9 0h0m91 1h0m16 0h0m-67 1h0m-113 3h0m15 0h0m101 0h0m-111 1h0m180 0h0m-19 1h0m-237 3h0m10 0h0m18 0h0m39 0h0m123 0h0m-212 1h0m247 0h0m-20 4h0m-186 1h0m25 3h0m119 0h0m-175 2h0m73 0h0m-101 1h0m92 3h0m141 0h0m3 4h0m-219 1h0m45 1h0m-8 3h0m168 0h0m-245 10h0m83 0h0m-22 2h0m52 3h0m134 1h0m-210 4h0m58 0h0m-24 1h0m-58 4h0m88 0h0m-9 1h0m-10 3h0m-14 6h0m13 0h0m20 4h0m11 2h0m-54 3h0m54 0h0m-40 5h0m-28 1h0m46 4h0m-88 1h0m58 4h0m-10 1h0m25 4h0m168 0h0m-219 1h0m349 3h0m-118 1h0m-244 1h0m39 0h0m193 3h0m5 0h0m-148 6h0m27 0h0m-114 4h0m112 0h0m6 0h0m-102 1h0m331 0h0m-316 3h0m49 1h0m46 0h0m-106 1h0m333 3h0m-264 1h0m-95 1h0m229 0h0m-192 3h0m67 0h0m-62 1h0m5 0h0m67 0h0m6 0h0m101 0h0m51 0h0m-57 1h0m-114 3h0m78 1h0m138 4h0m-270 1h0m41 0h0m16 0h0m174 0h0m-183 3h0m52 0h0m-30 1h0m146 0h0m-89 2h0m-150 3h0m29 0h0m102 0h0m-9 5h0m129 0h0m27 0h0m-254 4h0m22 0h0m45 0h0m89 0h0m61 0h0m-172 1h0m31 4h0m11 1h0m34 0h0m78 0h0m62 1h0m-216 3h0m195 0h0m-217 2h0m151 0h0m-37 3h0m-157 2h0m232 3h0m-168 1h0m72 0h0m58 0h0m-71 3h0m102 1h0m-23 1h0m-32 3h0m-127 1h0m43 0h0m57 0h0m123 1h0m-147 4h0m60 0h0m16 0h0m62 0h0m-185 1h0m38 3h0m-18 2h0m127 3h0m-209 1h0m18 0h0m123 0h0m-59 4h0m-12 5h0m10 0h0m132 4h0m-135 2h0m162 0h0m-162 9h0m38 0h0m-33 9h0m42 5h0m34 0h0m12 10h0"/><path stroke="#070cd4" d="M1943 229h0m-49 4h0m3 6h0m88 3h0m-59 5h0m47 15h0m-125 4h0m114 5h0m5 0h0m23 0h0m-157 1h0m23 1h0m46 3h0m29 0h0m-136 6h0m22 0h0m54 0h0m-6 4h0m5 0h0m38 0h0m25 0h0m-54 4h0m111 1h0m-123 1h0m15 3h0m88 1h0m12 0h0m56 0h0m-163 1h0m118 0h0m85 0h0m-109 3h0m43 0h0m5 1h0m-150 1h0m39 0h0m-85 3h0m153 5h0m40 0h0m-25 1h0m28 0h0m57 0h0m-245 4h0m170 1h0m-87 3h0m-107 1h0m174 0h0m-109 5h0m-16 1h0m-43 3h0m63 0h0m162 0h0m4 0h0m-134 2h0m-114 3h0m61 1h0m62 0h0m72 0h0m-96 1h0m46 0h0m-36 3h0m44 0h0m29 0h0m83 0h0m-268 1h0m5 0h0m84 0h0m113 0h0m93 1h0m-305 4h0m74 0h0m163 0h0m-232 4h0m83 0h0m18 0h0m190 0h0m-236 1h0m-37 3h0m224 1h0m-128 1h0m95 0h0m-210 5h0m4 0h0m92 0h0m11 0h0m-54 3h0m41 0h0m94 0h0m6 1h0m50 0h0m-219 1h0m179 0h0m28 0h0m55 0h0m-303 4h0m201 0h0m23 1h0m16 0h0m-260 2h0m224 0h0m-175 1h0m197 1h0m2 4h0m-117 1h0m-52 5h0m22 0h0m5 0h0m-58 4h0m-24 1h0m68 0h0m285 10h0m-259 3h0m-74 10h0m-16 2h0m81 3h0m-51 1h0m23 0h0m-64 3h0m72 0h0m11 0h0m-50 1h0m45 0h0m-81 5h0m232 4h0m-195 2h0m41 4h0m17 0h0m-33 1h0m13 3h0m22 0h0m-56 1h0m-26 14h0m41 0h0m168 1h0m-131 3h0m145 0h0m-191 2h0m175 0h0m-245 3h0m62 1h0m2 4h0m33 0h0m18 0h0m141 0h0m-211 5h0m40 0h0m184 0h0m6 0h0m-162 1h0m118 0h0m-111 4h0m118 0h0m-83 1h0m93 0h0m-125 3h0m-56 1h0m18 0h0m146 0h0m32 0h0m-101 1h0m43 4h0m38 0h0m12 0h0m48 4h0m-151 1h0m178 0h0m-185 1h0m196 0h0m-271 3h0m129 1h0m-102 1h0m-1 3h0m167 1h0m-143 4h0m-10 1h0m96 0h0m43 0h0m12 1h0m-154 2h0m190 0h0m-241 1h0m66 0h0m158 0h0m-139 1h0m66 0h0m42 3h0m18 2h0m5 0h0m-222 3h0m72 2h0m135 0h0m-155 8h0m88 0h0m56 0h0m-110 1h0m5 0h0m108 4h0m-73 9h0m7 1h0m-62 1h0m27 0h0m91 0h0m-106 3h0m124 0h0m57 1h0m-258 1h0m74 0h0m174 8h0m-225 1h0m234 1h0m-152 3h0m22 1h0m4 9h0m-115 5h0m79 0h0m-6 1h0m13 0h0m36 3h0m-46 1h0m33 1h0m115 3h0m-127 1h0m-4 4h0m-47 5h0"/><path stroke="#2d12c9" d="M1946 281h0m120 6h0m-221 3h0m100 0h0m-45 2h0m127 4h0m-81 4h0m-2 16h0m-50 3h0m87 5h0m40 1h0m-137 15h0m70 5h0m-17 10h0m67 0h0m-71 3h0m135 1h0m-38 1h0m30 3h0m-17 1h0m-251 9h0m27 0h0m192 0h0m-155 14h0m134 1h0m-145 10h0m-103 4h0m103 6h0m5 28h0m-87 16h0m28 0h0m203 0h0m-212 13h0m34 0h0m48 5h0m-95 1h0m43 6h0m69 3h0m-96 1h0m215 0h0m6 5h0m11 12h0m-136 1h0m61 1h0m-155 3h0m258 1h0m5 4h0m-122 7h0m115 4h0m-61 1h0m16 0h0m-124 9h0m100 4h0m17 0h0m-121 4h0m-29 2h0m91 0h0m69 4h0m-111 1h0m109 3h0m-1 10h0m-118 10h0m35 19h0"/><path stroke="#2d12c9" d="M1972 251h0m15 26h0m-18 14h0m-96 1h0m67 0h0m11 9h0m23 0h0m-49 6h0m-98 4h0m65 4h0m-83 1h0m-48 3h0m252 2h0m30 3h0m6 2h0m44 9h0m-245 1h0m153 3h0m-97 4h0m17 0h0m137 6h0m-113 1h0m49 14h0m39 1h0m-53 4h0m50 0h0m-16 1h0m-8 7h0m-184 1h0m171 6h0m-234 8h0m32 0h0m6 1h0m-53 4h0m72 9h0m-6 2h0m-33 19h0m55 19h0m19 10h0m-56 1h0m30 4h0m163 10h0m-115 13h0m143 7h0m-106 9h0m72 0h0m-36 4h0m-23 1h0m45 0h0m6 0h0m-156 5h0m75 0h0m-62 10h0m52 5h0m129 7h0m-66 1h0m-80 2h0m154 2h0m-15 2h0m-26 3h0m34 2h0m13 3h0m-209 5h0m129 11h0m69 5h0m-128 8h0"/><path stroke="#070cd4" d="M1885 248h0m17 15h0m76 8h0m-69 7h0m141 0h0m-77 5h0m-19 2h0m-169 2h0m113 0h0m30 3h0m-69 7h0m-24 3h0m-13 1h0m134 1h0m-124 3h0m7 6h0m34 0h0m123 0h0m-190 1h0m108 3h0m153 0h0m-39 5h0m-138 1h0m78 0h0m67 0h0m3 3h0m18 0h0m-242 1h0m150 1h0m-187 3h0m224 0h0m-167 2h0m123 0h0m-115 3h0m134 0h0m83 0h0m-245 1h0m218 0h0m-26 5h0m-24 3h0m-185 1h0m144 0h0m64 0h0m16 0h0m16 0h0m-107 2h0m27 2h0m61 0h0m-118 1h0m145 0h0m-233 1h0m4 0h0m109 3h0m57 0h0m-192 1h0m114 0h0m84 0h0m-190 1h0m245 0h0m-69 3h0m-118 1h0m83 0h0m118 0h0m-105 1h0m72 0h0m-21 5h0m-158 3h0m28 0h0m100 1h0m11 0h0m-200 1h0m100 0h0m-75 4h0m36 4h0m173 0h0m-280 1h0m72 0h0m175 0h0m-115 5h0m-136 3h0m132 0h0m-88 1h0m39 0h0m28 1h0m-26 3h0m-32 1h0m27 0h0m-24 4h0m199 1h0m-195 1h0m68 0h0m-36 2h0m-6 1h0m180 2h0m-201 3h0m28 0h0m5 0h0m25 0h0m-10 4h0m-46 1h0m7 0h0m11 10h0m39 0h0m-73 1h0m7 0h0m58 3h0m-78 1h0m61 0h0m-3 5h0m-42 4h0m7 1h0m49 8h0m152 0h0m-177 5h0m40 0h0m7 5h0m-39 1h0m32 4h0m12 1h0m-8 1h0m122 3h0m-230 1h0m55 0h0m52 0h0m117 0h0m-189 4h0m19 0h0m33 0h0m16 0h0m118 0h0m-95 1h0m-64 4h0m184 2h0m-193 2h0m185 0h0m-27 1h0m-163 1h0m28 0h0m140 0h0m40 0h0m-33 3h0m36 1h0m-238 4h0m184 0h0m61 0h0m16 1h0m-71 1h0m-43 3h0m-55 1h0m117 1h0m-110 3h0m151 0h0m-79 1h0m51 0h0m-68 1h0m54 2h0m-105 1h0m56 0h0m27 0h0m72 0h0m-37 1h0m-115 3h0m56 2h0m15 0h0m12 0h0m27 0h0m-87 3h0m-132 1h0m39 0h0m83 0h0m72 0h0m-211 1h0m132 0h0m145 3h0m-241 2h0m89 0h0m-47 4h0m15 0h0m24 0h0m-18 1h0m237 0h0m-88 3h0m44 0h0m-47 4h0m-89 1h0m-84 2h0m50 7h0m-62 1h0m241 0h0m-190 1h0m185 0h0m-121 3h0m51 0h0m12 2h0m-37 3h0m62 0h0m-78 2h0m27 0h0m-87 3h0m-47 5h0m127 0h0m-43 1h0m101 0h0m-138 13h0m73 2h0m12 0h0m-64 5h0m139 0h0m-45 18h0"/><path stroke="#0022de" d="M1855 242h0m30 1h0m63 6h0m65 2h0m-136 6h0m80 5h0m-101 1h0m62 8h0m106 2h0m-154 3h0m79 0h0m-120 1h0m182 0h0m21 0h0m-209 5h0m66 0h0m17 0h0m106 0h0m-131 4h0m89 0h0m17 1h0m-3 4h0m35 1h0m-43 3h0m34 1h0m-107 1h0m-97 4h0m111 0h0m-62 1h0m175 0h0m-227 4h0m50 0h0m162 0h0m-193 4h0m185 0h0m-152 1h0m30 0h0m44 0h0m117 0h0m-9 3h0m-168 1h0m102 0h0m-62 1h0m-30 3h0m65 0h0m29 0h0m12 1h0m89 0h0m-74 1h0m27 4h0m-162 1h0m-42 3h0m22 1h0m15 1h0m6 0h0m99 4h0m-100 1h0m-43 3h0m52 0h0m-73 1h0m32 0h0m73 0h0m90 0h0m39 0h0m-87 3h0m118 0h0m-151 1h0m73 0h0m-180 1h0m84 0h0m45 0h0m-90 1h0m83 2h0m101 1h0m-236 1h0m95 0h0m133 0h0m18 0h0m-217 4h0m131 1h0m121 0h0m-248 3h0m206 0h0m-71 1h0m38 0h0m73 0h0m-207 1h0m27 0h0m-68 4h0m16 0h0m-44 1h0m166 0h0m-159 3h0m12 1h0m274 1h0m-108 3h0m-220 1h0m79 0h0m252 0h0m-304 4h0m48 0h0m-61 1h0m236 0h0m-179 1h0m175 3h0m-28 1h0m15 5h0m-166 3h0m28 0h0m-16 1h0m5 0h0m-32 5h0m8 0h0m5 0h0m22 0h0m6 0h0m-18 1h0m-32 9h0m187 3h0m-180 1h0m24 0h0m157 9h0m-142 2h0m-29 3h0m17 1h0m-14 5h0m19 4h0m-11 1h0m19 3h0m-74 2h0m32 3h0m-46 1h0m40 0h0m186 0h0m-158 10h0m-13 4h0m16 0h0m150 0h0m7 1h0m-151 1h0m-19 3h0m28 1h0m4 0h0m-49 8h0m78 1h0m-70 5h0m6 0h0m50 1h0m-2 5h0m21 0h0m-81 5h0m128 0h0m11 0h0m-187 3h0m28 0h0m22 0h0m12 0h0m-22 1h0m190 1h0m4 3h0m10 0h0m56 0h0m-173 1h0m103 3h0m-207 1h0m175 0h0m-140 1h0m93 1h0m-59 2h0m107 0h0m45 0h0m-173 1h0m39 0h0m34 0h0m65 0h0m-199 1h0m245 0h0m9 3h0m-101 1h0m10 0h0m23 0h0m-89 1h0m178 0h0m-114 3h0m-67 1h0m74 0h0m16 10h0m38 0h0m41 0h0m-213 1h0m220 3h0m7 0h0m-281 1h0m167 1h0m-45 2h0m172 0h0m-158 1h0m135 0h0m-179 1h0m76 5h0m18 0h0m-39 8h0m100 0h0m-191 1h0m-12 1h0m194 4h0m34 0h0m-202 1h0m184 0h0m38 4h0m-145 4h0m19 0h0m89 0h0m-126 5h0m46 0h0m4 9h0m-21 10h0m-93 5h0m123 10h0"/><path stroke="#0064ea" d="M1945 233h0m-45 9h0m-39 2h0m48 4h0m100 0h0m-134 19h0m11 1h0m-81 3h0m152 1h0m-56 9h0m103 4h0m29 1h0m-39 1h0m52 3h0m-22 11h0m39 0h0m-190 1h0m47 3h0m61 0h0m80 0h0m-191 1h0m22 0h0m72 1h0m16 4h0m45 0h0m-99 3h0m11 2h0m-19 4h0m-90 1h0m129 0h0m-165 3h0m100 1h0m5 0h0m34 0h0m45 1h0m-35 3h0m138 0h0m-223 1h0m78 0h0m83 1h0m-135 3h0m6 0h0m116 0h0m-12 2h0m74 0h0m-48 3h0m-150 1h0m22 0h0m61 0h0m-24 4h0m-181 1h0m73 0h0m-31 3h0m12 1h0m22 0h0m100 1h0m74 0h0m83 0h0m-9 3h0m-251 1h0m102 0h0m28 1h0m-143 3h0m-62 1h0m66 0h0m208 0h0m23 1h0m-59 3h0m28 1h0m-51 1h0m60 3h0m-130 1h0m-26 3h0m18 1h0m141 1h0m-217 4h0m173 1h0m-135 4h0m-44 4h0m61 0h0m-92 5h0m7 0h0m5 1h0m85 0h0m-104 5h0m11 1h0m19 4h0m7 9h0m-49 4h0m112 0h0m135 1h0m-140 9h0m6 19h0m-79 2h0m44 0h0m-40 5h0m15 0h0m-52 4h0m16 0h0m95 1h0m140 9h0m-175 4h0m164 4h0m-163 1h0m169 0h0m-157 1h0m5 1h0m-81 2h0m242 1h0m-231 1h0m51 0h0m30 4h0m163 0h0m-230 1h0m164 0h0m36 3h0m-96 1h0m63 0h0m-24 1h0m-154 3h0m281 0h0m27 0h0m-212 1h0m66 0h0m5 1h0m84 0h0m-248 3h0m113 0h0m155 0h0m-89 1h0m7 0h0m-110 3h0m-45 2h0m109 4h0m124 0h0m-118 1h0m6 0h0m89 0h0m34 0h0m-254 3h0m22 0h0m10 2h0m145 0h0m82 4h0m-161 1h0m195 0h0m-148 3h0m95 0h0m-236 1h0m139 5h0m74 4h0m73 0h0m-84 1h0m50 0h0m-238 3h0m223 0h0m-166 1h0m21 0h0m-71 1h0m157 0h0m95 0h0m-235 3h0m191 1h0m7 0h0m-212 1h0m13 3h0m-56 1h0m44 0h0m107 0h0m5 0h0m-108 5h0m84 0h0m83 0h0m68 0h0m-207 1h0m-75 3h0m71 0h0m7 0h0m45 0h0m16 0h0m56 1h0m-88 5h0m149 4h0m-127 5h0m-33 1h0m117 3h0m-8 1h0m38 5h0m-79 1h0m-3 13h0m-71 6h0"/><path stroke="#00b6ef" d="M1978 232h0m-45 7h0m-55 3h0m14 5h0m95 1h0m-54 3h0m90 1h0m-30 4h0m-85 1h0m68 0h0m-94 1h0m135 0h0m-28 3h0m-52 6h0m90 0h0m-26 5h0m60 5h0m-135 8h0m16 0h0m79 1h0m-22 1h0m-177 3h0m207 1h0m-69 4h0m-65 6h0m4 4h0m138 0h0m39 1h0m-130 4h0m18 5h0m80 0h0m27 0h0m-199 5h0m-70 4h0m259 0h0m-285 2h0m19 3h0m107 0h0m76 0h0m52 0h0m-151 1h0m83 0h0m-137 4h0m11 0h0m35 0h0m4 1h0m50 0h0m7 0h0m-82 4h0m225 1h0m-188 4h0m105 0h0m6 0h0m73 0h0m6 0h0m-104 4h0m-68 2h0m75 0h0m28 0h0m-155 3h0m168 0h0m84 0h0m-258 2h0m4 3h0m48 0h0m12 0h0m101 1h0m-209 4h0m67 1h0m-116 4h0m114 1h0m-111 14h0m-22 1h0m15 4h0m86 6h0m-20 23h0m16 0h0m-9 1h0m-21 5h0m39 9h0m-41 6h0m-43 4h0m74 0h0m-95 9h0m94 0h0m-31 5h0m197 0h0m-191 1h0m-54 9h0m38 1h0m-26 3h0m84 10h0m169 0h0m-35 1h0m-135 3h0m178 2h0m73 0h0m-199 3h0m-51 2h0m67 0h0m195 3h0m-130 1h0m-66 1h0m-59 3h0m123 0h0m-56 1h0m32 1h0m34 0h0m64 3h0m18 0h0m32 6h0m-313 4h0m39 0h0m47 0h0m76 0h0m-134 1h0m158 0h0m-31 3h0m-39 1h0m21 0h0m-141 4h0m10 0h0m174 0h0m-151 1h0m77 0h0m84 0h0m-170 4h0m175 2h0m-21 4h0m-152 1h0m-35 4h0m61 0h0m-54 4h0m145 0h0m91 1h0m-221 3h0m23 0h0m56 1h0m185 0h0m-233 5h0m94 0h0m-52 5h0m27 0h0m39 0h0m-64 4h0m-33 1h0m-20 4h0m219 0h0m-207 1h0m16 0h0m64 3h0m-97 7h0m184 8h0m-144 1h0m179 1h0m-36 3h0m-123 1h0m94 0h0m-101 1h0m37 14h0m41 4h0m7 0h0m-49 5h0m26 5h0"/><path stroke="#00e5cf" d="M1915 229h0m35 3h0m5 0h0m-77 2h0m100 8h0m18 0h0m-67 1h0m73 8h0m-134 11h0m95 0h0m50 0h0m-26 4h0m17 0h0m-146 2h0m37 4h0m35 0h0m-5 6h0m71 3h0m-28 1h0m-128 9h0m95 1h0m-20 3h0m-107 2h0m171 4h0m-70 4h0m139 1h0m-265 5h0m60 5h0m16 0h0m38 0h0m64 4h0m-93 1h0m122 0h0m-160 3h0m-4 2h0m13 3h0m250 5h0m-129 1h0m-101 1h0m126 3h0m112 1h0m-201 1h0m135 0h0m-280 4h0m209 0h0m-100 3h0m153 1h0m-258 1h0m117 0h0m222 3h0m-235 1h0m11 0h0m39 0h0m-88 5h0m13 0h0m49 0h0m96 0h0m73 0h0m-297 1h0m63 0h0m-3 3h0m16 1h0m156 9h0m-206 11h0m341 9h0m-124 1h0m-215 4h0m-17 1h0m82 4h0m12 0h0m-128 4h0m56 9h0m11 1h0m-54 9h0m92 7h0m-93 3h0m21 0h0m8 0h0m-4 6h0m72 1h0m-86 3h0m40 19h0m25 5h0m183 1h0m-170 5h0m-80 4h0m351 0h0m7 0h0m-247 1h0m132 4h0m-113 1h0m22 0h0m-85 4h0m4 1h0m-18 3h0m34 1h0m127 0h0m-66 1h0m14 5h0m183 2h0m-293 1h0m62 0h0m163 0h0m-53 6h0m19 4h0m-78 1h0m144 0h0m-253 4h0m33 1h0m-13 3h0m-6 1h0m211 0h0m18 1h0m-65 3h0m-134 1h0m70 4h0m-79 1h0m106 1h0m-40 3h0m32 0h0m-143 4h0m118 1h0m71 4h0m-206 7h0m15 3h0m28 1h0m90 1h0m-93 3h0m100 1h0m146 0h0m-132 4h0m-110 1h0m202 0h0m12 4h0m-213 1h0m116 4h0m66 1h0"/><path stroke="#00e481" d="M1898 229h0m18 28h0m26 1h0m27 3h0m-153 1h0m-15 14h0m181 0h0m43 4h0m-114 1h0m79 1h0m54 4h0m-137 5h0m88 0h0m-146 1h0m187 9h0m-258 1h0m10 0h0m116 5h0m116 0h0m-64 2h0m-51 1h0m-71 1h0m7 13h0m46 0h0m27 0h0m-148 5h0m245 5h0m-258 1h0m159 5h0m-135 1h0m-17 7h0m7 0h0m61 1h0m-78 10h0m239 0h0m-231 5h0m264 0h0m33 1h0m-205 3h0m-14 5h0m-32 1h0m25 3h0m32 0h0m-11 1h0m16 0h0m-82 1h0m202 4h0m-203 4h0m21 11h0m-30 4h0m219 1h0m-139 9h0m-82 4h0m11 2h0m-2 4h0m-43 4h0m12 1h0m43 0h0m-11 10h0m41 10h0m33 9h0m-120 4h0m61 10h0m-45 1h0m104 4h0m129 0h0m-117 1h0m232 5h0m-205 5h0m12 8h0m-63 1h0m107 0h0m-80 4h0m-52 1h0m152 0h0m-128 4h0m-8 4h0m7 1h0m55 0h0m-10 1h0m179 0h0m-174 10h0m132 3h0m-67 1h0m-145 1h0m29 3h0m125 0h0m118 1h0m-292 1h0m40 3h0m192 1h0m25 3h0m-75 5h0m54 2h0m-125 4h0m26 5h0m14 5h0m66 0h0m-56 1h0m-53 3h0m112 1h0m-59 5h0m28 0h0m-93 5h0m19 0h0m31 5h0m-115 5h0m134 0h0m-59 4h0m-66 1h0m199 3h0m-199 2h0m105 4h0m-100 1h0m69 3h0m31 6h0m-30 4h0"/><path stroke="#00e138" d="M1869 237h0m-6 2h0m45 0h0m55 3h0m53 5h0m-130 9h0m65 5h0m-38 2h0m100 9h0m-97 4h0m-109 1h0m79 0h0m152 1h0m-188 4h0m212 0h0m-246 8h0m40 1h0m167 0h0m-196 1h0m180 0h0m-216 5h0m194 4h0m22 1h0m-54 3h0m74 0h0m-168 1h0m-64 4h0m156 0h0m65 6h0m-113 10h0m20 4h0m48 6h0m128 0h0m-338 3h0m66 0h0m186 0h0m12 1h0m55 0h0m-39 1h0m-163 8h0m38 1h0m145 5h0m-288 10h0m327 7h0m-276 3h0m34 0h0m-27 8h0m-30 1h0m195 14h0m-239 4h0m7 0h0m4 2h0m28 37h0m12 0h0m-68 1h0m78 3h0m9 21h0m171 3h0m-251 12h0m64 4h0m-32 4h0m131 1h0m-95 1h0m-18 8h0m302 0h0m-159 5h0m40 1h0m22 9h0m66 1h0m-298 5h0m3 4h0m296 0h0m-233 5h0m230 1h0m-110 3h0m95 2h0m-218 9h0m210 4h0m-83 9h0m-93 5h0m-10 9h0m71 2h0m40 0h0m33 10h0m15 5h0m-104 3h0m17 2h0m49 0h0m-111 8h0m93 5h0m-29 11h0m-19 3h0"/><path stroke="#02de00" d="M1925 237h0m63 0h0m-22 2h0m-29 7h0m-103 7h0m154 3h0m-187 24h0m251 1h0m-191 1h0m-7 5h0m81 15h0m53 3h0m-196 1h0m56 18h0m103 5h0m100 0h0m-155 1h0m-140 1h0m19 3h0m8 6h0m75 6h0m-80 3h0m291 1h0m-295 4h0m142 0h0m-62 10h0m-100 15h0m-14 5h0m72 3h0m-51 1h0m17 20h0m-21 5h0m-3 4h0m90 1h0m-18 4h0m-57 9h0m39 2h0m-32 2h0m9 7h0m18 18h0m-16 1h0m-15 5h0m1 9h0m60 10h0m-63 5h0m108 5h0m47 4h0m-61 1h0m216 5h0m-132 4h0m-84 1h0m149 4h0m-158 1h0m60 3h0m5 10h0m7 0h0m-154 5h0m133 1h0m41 3h0m52 2h0m30 32h0m16 10h0m-168 2h0m52 0h0m50 0h0m15 3h0m-143 6h0m32 0h0m56 8h0m-66 10h0m7 6h0"/><path stroke="#0be000" d="M1931 227h0m20 16h0m-11 10h0m-16 20h0m-78 9h0m-16 3h0m-6 1h0m189 4h0m-224 2h0m8 3h0m115 5h0m-10 1h0m177 0h0m-8 4h0m-223 1h0m182 6h0m-267 3h0m35 0h0m242 5h0m56 10h0m-276 5h0m262 0h0m-313 1h0m67 7h0m227 6h0m-270 11h0m319 19h0m-368 9h0m68 9h0m-28 9h0m340 1h0m-323 78h0m98 14h0m138 10h0m-201 9h0m236 1h0m-136 11h0m-148 3h0m34 0h0m146 0h0m67 0h0m-76 5h0m-121 5h0m236 0h0m-268 1h0m39 8h0m162 0h0m-61 1h0m83 0h0m-198 4h0m177 5h0m-203 9h0m221 6h0m-78 1h0m11 0h0m12 9h0m-131 5h0m39 1h0m95 0h0m-132 4h0m162 1h0m-146 9h0"/><path stroke="#15e200" d="M1906 233h0m15 14h0m82 0h0m-111 20h0m43 4h0m4 1h0m-138 1h0m274 28h0m-189 4h0m-111 11h0m80 3h0m227 5h0m-321 34h0m79 1h0m24 4h0m-3 6h0m-129 30h0m4 4h0m10 9h0m53 16h0m30 8h0m-54 7h0m-31 4h0m0 28h0m23 20h0m255 5h0m-273 4h0m7 2h0m226 3h0m-18 9h0m73 2h0m-65 3h0m-69 5h0m27 0h0m-43 1h0m185 10h0m-79 28h0m-151 10h0m18 0h0m57 5h0m-14 6h0m-2 4h0m81 4h0m-17 1h0m5 0h0"/><path stroke="#1ee400" d="M1935 242h0m-19 5h0m-54 5h0m158 15h0m-180 5h0m13 5h0m108 3h0m-84 2h0m-65 10h0m230 0h0m-55 3h0m-146 1h0m21 16h0m218 9h0m-272 5h0m-35 13h0m281 5h0m-143 4h0m74 2h0m-232 3h0m77 0h0m283 15h0m-369 2h0m1 46h0m69 5h0m-56 31h0m306 43h0m17 18h0m-243 2h0m152 8h0m40 0h0m66 1h0m-58 5h0m47 4h0m-235 1h0m172 13h0m-62 2h0m-27 5h0m56 0h0m60 4h0m-123 9h0m-76 5h0m174 9h0m-180 1h0m176 6h0m-3 3h0m-126 16h0m11 4h0"/><path stroke="#96eb00" d="M2018 252h0m-112 9h0m108 15h0m-172 1h0m86 4h0m48 6h0m-52 5h0m16 9h0m-96 10h0m140 0h0m-217 9h0m16 0h0m303 1h0m-277 13h0m-29 1h0m313 9h0m17 21h0m-112 9h0m6 0h0m-257 9h0m58 5h0m3 5h0m-6 10h0m-61 8h0m24 15h0m-23 25h0m19 15h0m6 20h0m118 3h0m209 11h0m-336 10h0m27 28h0m-5 1h0m132 3h0m83 1h0m-31 16h0m72 3h0m-12 10h0m-204 15h0m42 14h0m49 11h0"/><path stroke="#fae500" d="M1960 238h0m-15 3h0m-2 7h0m-45 8h0m-32 15h0m100 6h0m-150 23h0m22 1h0m-54 1h0m300 5h0m-267 12h0m272 6h0m-318 25h0m321 10h0m2 3h0m-344 35h0m-13 9h0m378 58h0m-283 1h0m284 5h0m-350 5h0m-21 10h0m262 28h0m-240 11h0m319 18h0m-242 30h0m70 3h0m68 2h0"/><path stroke="#fda800" d="M1938 239h0m-91 8h0m-22 10h0m170 4h0m-167 10h0m6 10h0m-3 15h0m235 0h0m-259 10h0m204 0h0m74 4h0m-117 1h0m-115 4h0m140 11h0m4 3h0m-30 11h0m136 9h0m-337 9h0m347 0h0m-380 98h0m369 29h0m-307 10h0m126 24h0m-25 15h0m-44 14h0m185 0h0m-131 5h0m61 9h0m28 0h0m34 0h0m-176 5h0m82 16h0m-54 4h0m62 10h0m15 4h0m30 5h0m-62 11h0"/><path stroke="#ff6600" d="M1927 257h0m-104 5h0m161 0h0m48 6h0m57 87h0m14 4h0m15 116h0m-379 9h0m265 5h0m83 2h0m-23 13h0m-199 24h0m200 19h0m-260 6h0m4 15h0m-9 4h0m40 11h0m169 4h0m-80 14h0m-76 6h0m117 0h0m-74 3h0m39 11h0"/><path stroke="#ff1c00" d="M1916 238h0m-33 24h0m180 30h0m-227 4h0m-20 15h0m21 13h0m-32 7h0m-24 34h0m-45 29h0m-6 37h0m81 26h0m-32 14h0m-25 5h0m349 28h0m-336 2h0m9 27h0m228 34h0m-168 19h0m23 0h0m68 19h0m-56 2h0m110 0h0"/><path stroke="#ff1500" d="M1903 228h0m22 0h0m40 1h0m-53 3h0m27 1h0m-66 1h0m50 0h0m24 3h0m-35 5h0m-16 1h0m106 0h0m-25 4h0m-79 1h0m72 0h0m-131 4h0m7 0h0m187 4h0m-180 1h0m144 0h0m-28 1h0m-130 3h0m38 0h0m47 0h0m5 0h0m10 0h0m79 1h0m-84 1h0m106 0h0m-198 3h0m40 0h0m-63 1h0m18 0h0m134 0h0m6 0h0m-108 1h0m63 0h0m-42 3h0m94 0h0m51 0h0m-174 2h0m-63 3h0m27 0h0m56 0h0m162 0h0m-230 1h0m221 3h0m-151 1h0m-56 1h0m69 0h0m150 0h0m-253 4h0m100 0h0m167 1h0m15 4h0m-213 1h0m27 0h0m29 0h0m117 0h0m-165 3h0m-51 1h0m229 0h0m-247 1h0m267 3h0m-296 1h0m14 3h0m50 1h0m46 0h0m-113 1h0m310 3h0m-21 2h0m10 0h0m-157 1h0m-91 2h0m-6 1h0m212 0h0m57 0h0m5 0h0m-320 1h0m43 3h0m-39 1h0m-2 4h0m2 5h0m28 0h0m257 0h0m-230 1h0m198 6h0m-86 4h0m143 3h0m-323 2h0m5 0h0m326 4h0m-346 1h0m6 0h0m346 0h0m-323 8h0m314 5h0m-350 5h0m381 1h0m-370 1h0m4 3h0m-11 1h0m26 4h0m6 5h0m344 0h0m-321 1h0m-40 4h0m-10 5h0m43 14h0m-54 15h0m19 4h0m371 0h0m-336 1h0m-36 4h0m8 5h0m2 6h0m360 5h0m-341 9h0m6 0h0m25 4h0m300 15h0m-364 1h0m11 8h0m17 2h0m9 4h0m-44 1h0m120 3h0m235 0h0m6 1h0m-353 1h0m296 0h0m64 3h0m-26 1h0m-237 1h0m196 0h0m-249 3h0m289 4h0m-298 1h0m286 1h0m-160 4h0m172 4h0m-319 1h0m111 1h0m-97 3h0m235 0h0m67 0h0m-317 5h0m185 0h0m113 1h0m-191 1h0m205 3h0m-305 5h0m319 0h0m-259 1h0m233 3h0m-285 2h0m26 3h0m4 0h0m247 2h0m-277 4h0m100 0h0m-37 4h0m215 0h0m-23 1h0m-245 4h0m197 0h0m-140 1h0m10 0h0m6 0h0m-69 4h0m111 0h0m57 0h0m10 0h0m17 0h0m-191 2h0m264 0h0m-237 3h0m133 0h0m63 0h0m-186 1h0m33 0h0m131 0h0m52 3h0m-217 1h0m22 0h0m77 1h0m90 0h0m17 0h0m-204 4h0m133 0h0m-139 1h0m35 3h0m102 0h0m11 0h0m63 2h0m-195 3h0m73 0h0m69 0h0m38 0h0m-169 1h0m108 0h0m-8 4h0m62 0h0m-158 1h0m161 1h0m-86 3h0m67 0h0m-107 1h0m51 0h0m33 0h0m-92 5h0m-3 4h0m41 0h0m67 0h0m-23 1h0m-76 3h0m22 1h0m5 1h0m3 3h0"/></g><circle cx="963.7" cy="211.8" r="32.6" fill="#fff"/><circle cx="1030" cy="214.6" r="32.8" fill="#2e16c8"/><path d="M135 330H205.7L213.7 338V406.7H135Z" fill="#2e16c8"/><rect x="51.3" y="408.4" width="239" height="20.7" fill="#0a3ccc"/><rect x="92.6" y="427.8" width="154.5" height="9.1" fill="#0a30cc"/><rect x="143.4" y="435.6" width="15.4" height="18.5" fill="#0a3ccc"/><g transform="scale(0.5)" fill="none" stroke-linecap="round" stroke-width="6.5"><path stroke="#ff1500" d="M300 814h0"/><path stroke="#ff1c00" d="M289 806h0"/><path stroke="#ff6600" d="M275 799h0m22 1h0m-14 4h0"/><path stroke="#fda800" d="M287 800h0"/><path stroke="#15e200" d="M273 804h0"/><path stroke="#0be000" d="M316 767h0m-24 25h0"/><path stroke="#02de00" d="M315 749h0m57 33h0m-91 28h0"/><path stroke="#00e138" d="M367 755h0m-22 8h0m-35 33h0m-16 8h0m27 10h0"/><path stroke="#00e481" d="M340 762h0m-51 5h0m65 1h0m-52 5h0m47 4h0m-60 10h0m59 8h0m21 1h0m-7 5h0"/><path stroke="#00e5cf" d="M297 708h0m-8 12h0m-13 5h0m75 1h0m-65 9h0m38 1h0m14 3h0m-23 19h0m19 5h0m-12 15h0m21 27h0m-32 1h0m23 3h0m28 1h0"/><path stroke="#00b6ef" d="M281 707h0m18 14h0m20 3h0m17 1h0m-60 10h0m46 3h0m31 1h0m-78 5h0m11 0h0m35 4h0m-27 1h0m93 0h0m-85 4h0m30 6h0m-2 5h0m18 3h0m-26 1h0m-25 4h0m-8 4h0m6 1h0m11 0h0m4 0h0m23 8h0m-12 1h0m28 1h0m32 0h0m-9 3h0m-4 1h0m-9 4h0m60 1h0m-94 5h0m2 4h0m-7 4h0"/><path stroke="#0064ea" d="M291 696h0m12 10h0m8 5h0m22 0h0m-11 1h0m-35 4h0m11 0h0m16 0h0m-11 1h0m-20 3h0m54 0h0m-59 1h0m17 0h0m21 0h0m-18 5h0m10 0h0m32 0h0m-12 4h0m-43 1h0m4 0h0m65 0h0m-35 3h0m60 1h0m-99 1h0m26 4h0m40 3h0m-55 1h0m27 0h0m11 0h0m38 0h0m16 0h0m-22 1h0m-78 4h0m50 0h0m58 0h0m-113 1h0m21 0h0m-1 3h0m79 0h0m7 0h0m6 1h0m-103 8h0m95 0h0m-63 1h0m75 0h0m-17 1h0m-83 4h0m50 0h0m48 0h0m-80 3h0m24 2h0m47 0h0m-24 3h0m28 0h0m-11 1h0m-63 4h0m54 0h0m2 4h0m17 0h0m-47 5h0m12 1h0m11 0h0m-19 4h0m10 1h0m-51 4h0m44 0h0m3 4h0m53 0h0m-96 2h0m105 3h0m-109 1h0m30 3h0m17 0h0m74 1h0"/><path stroke="#0022de" d="M297 698h0m-3 5h0m25 3h0m-6 2h0m-8 3h0m-14 4h0m16 0h0m11 1h0m32 0h0m-25 1h0m32 0h0m-4 3h0m-6 5h0m-65 1h0m-4 3h0m16 1h0m21 0h0m6 0h0m10 0h0m29 1h0m-20 4h0m16 0h0m18 0h0m16 3h0m-100 2h0m5 0h0m75 1h0m-58 3h0m67 0h0m10 0h0m-54 1h0m-23 3h0m25 1h0m11 0h0m11 0h0m-50 4h0m5 0h0m37 0h0m-51 5h0m22 1h0m48 0h0m22 0h0m-117 3h0m77 0h0m10 0h0m6 0h0m-8 4h0m-27 1h0m53 0h0m-75 1h0m64 0h0m21 0h0m-103 3h0m102 0h0m-77 1h0m55 0h0m-49 1h0m22 0h0m19 3h0m-39 1h0m43 1h0m28 0h0m-67 3h0m-49 1h0m-3 4h0m86 0h0m38 0h0m-119 1h0m16 0h0m92 0h0m-35 3h0m49 0h0m-97 1h0m-21 1h0m58 0h0m-39 3h0m102 0h0m-115 1h0m37 3h0m5 1h0m86 0h0m-102 1h0m38 0h0m37 0h0m11 0h0m12 0h0m-10 3h0m-31 1h0m-36 4h0m59 0h0m-53 1h0m21 0h0m28 1h0"/><path stroke="#070cd4" d="M277 692h0m23 0h0m8 4h0m-27 1h0m6 0h0m-8 4h0m7 6h0m-8 4h0m5 0h0m54 0h0m24 5h0m12 10h0m-4 4h0m7 0h0m13 6h0m-26 12h0m34 1h0m-3 4h0m-70 1h0m16 0h0m60 17h0m3 5h0m-85 5h0m-24 6h0m103 0h0m17 9h0m-31 4h0m-3 4h0m6 1h0m6 0h0m-9 4h0m-3 5h0m16 0h0"/><path stroke="#2d12c9" d="M278 664h0m60 0h0m10 0h0m48 0h0m6 0h0m-129 1h0m27 0h0m15 0h0m44 0h0m5 0h0m5 0h0m12 0h0m5 0h0m5 0h0m17 0h0m-85 3h0m-15 1h0m28 0h0m20 0h0m17 0h0m42 0h0m-134 1h0m32 0h0m5 0h0m23 0h0m4 0h0m16 0h0m18 0h0m31 0h0m-126 3h0m25 0h0m22 0h0m6 0h0m10 0h0m12 0h0m5 0h0m-85 1h0m21 0h0m5 0h0m87 0h0m22 0h0m-38 1h0m9 0h0m33 0h0m-133 3h0m12 0h0m6 0h0m11 0h0m9 0h0m18 0h0m31 0h0m-80 1h0m17 0h0m21 0h0m27 0h0m11 0h0m54 0h0m-36 3h0m37 0h0m-150 1h0m11 0h0m64 0h0m17 0h0m5 0h0m-76 1h0m43 0h0m43 0h0m34 0h0m-128 3h0m64 0h0m-58 1h0m27 0h0m16 0h0m12 0h0m25 0h0m6 0h0m17 0h0m11 0h0m3 0h0m-133 1h0m27 0h0m38 0h0m58 0h0m-84 3h0m23 0h0m76 0h0m-141 1h0m69 0h0m12 0h0m6 0h0m21 0h0m10 0h0m16 0h0m11 0h0m-85 1h0m39 2h0m-37 1h0m22 0h0m64 0h0m-96 1h0m5 0h0m32 0h0m13 3h0m7 0h0m-34 1h0m5 0h0m11 0h0m6 0h0m28 0h0m15 0h0m12 0h0m-98 1h0m58 0h0m-24 3h0m22 0h0m11 0h0m11 0h0m11 0h0m-92 1h0m22 0h0m20 0h0m34 0h0m10 0h0m-76 1h0m52 3h0m-15 1h0m42 0h0m-38 1h0m2 3h0m17 0h0m11 0h0m6 0h0m-29 4h0m15 0h0m-26 1h0m4 0h0m38 0h0m-36 4h0m7 0h0m6 1h0m10 0h0m10 0h0m3 3h0m-22 1h0m27 0h0m-38 1h0m21 0h0m6 0h0m17 0h0m-18 3h0m10 0h0m-16 1h0m22 0h0m-28 1h0m18 3h0m-4 1h0m-8 3h0m16 0h0m-7 1h0m-16 1h0m12 0h0m9 3h0m-7 1h0m4 4h0m-6 1h0m17 0h0m-19 4h0m5 1h0m6 0h0m11 0h0m-16 4h0m14 4h0m-16 1h0m11 0h0m-8 4h0m6 0h0m4 1h0m-7 4h0m1 8h0m5 0h0m-11 1h0m15 0h0m-2 5h0m-32 18h0"/><path stroke="#2d12c9" d="M288 664h0m6 0h0m27 0h0m11 0h0m11 0h0m-39 1h0m7 0h0m16 0h0m27 0h0m-70 1h0m92 0h0m-90 2h0m-11 1h0m17 0h0m11 0h0m81 0h0m15 0h0m-102 1h0m32 0h0m23 0h0m14 0h0m24 0h0m4 0h0m12 0h0m-112 3h0m23 0h0m3 0h0m87 0h0m-118 1h0m38 0h0m17 0h0m10 0h0m28 0h0m19 0h0m-31 1h0m26 0h0m-60 3h0m59 0h0m21 0h0m-141 1h0m6 0h0m38 0h0m26 0h0m7 0h0m9 0h0m17 0h0m4 0h0m7 0h0m11 0h0m5 0h0m5 1h0m-131 3h0m11 0h0m10 0h0m26 0h0m6 0h0m43 0h0m17 0h0m-86 1h0m6 0h0m4 0h0m6 0h0m21 0h0m11 0h0m5 0h0m39 0h0m4 0h0m5 0h0m11 0h0m-120 3h0m15 0h0m55 0h0m21 0h0m32 0h0m-141 1h0m29 0h0m14 0h0m34 0h0m5 0h0m-34 1h0m56 0h0m31 0h0m-95 3h0m29 0h0m48 0h0m27 0h0m-98 1h0m38 0h0m6 0h0m5 0h0m11 0h0m16 0h0m-91 1h0m2 3h0m6 0h0m22 0h0m42 0h0m5 0h0m13 0h0m3 0h0m12 0h0m-71 1h0m6 0h0m16 0h0m11 0h0m17 0h0m15 0h0m-19 3h0m-69 1h0m37 0h0m59 0h0m-145 1h0m60 0h0m5 0h0m4 0h0m61 0h0m5 0h0m-78 3h0m9 0h0m12 0h0m22 0h0m6 0h0m9 0h0m33 1h0m-64 1h0m62 2h0m-54 1h0m16 0h0m11 0h0m5 0h0m10 0h0m17 0h0m-21 1h0m-30 3h0m-6 1h0m21 0h0m11 0h0m18 0h0m-33 1h0m37 0h0m-35 3h0m16 0h0m17 0h0m-28 1h0m32 0h0m-15 1h0m-13 3h0m11 1h0m9 0h0m6 0h0m-34 4h0m9 0h0m15 5h0m-13 4h0m21 0h0m6 0h0m-23 1h0m19 3h0m-19 5h0m17 1h0m6 0h0m-26 4h0m18 1h0m1 5h0m4 3h0m-23 1h0m6 0h0m10 0h0m-13 4h0m11 1h0m-6 10h0m11 0h0m6 0h0m-14 3h0m5 0h0m5 1h0m5 13h0"/><path stroke="#070cd4" d="M289 692h0m-6 1h0m10 0h0m13 0h0m-30 4h0m39 5h0m33 10h0m6 0h0m4 0h0m7 8h0m-4 15h0m-64 10h0m83 4h0m-99 6h0m116 3h0m7 15h0m-14 9h0m16 0h0m-18 10h0m-7 3h0m5 1h0m3 4h0m34 5h0m-32 8h0"/><path stroke="#0022de" d="M302 698h0m-13 4h0m10 0h0m7 1h0m-30 4h0m50 4h0m-38 1h0m55 0h0m-68 4h0m6 0h0m64 0h0m-25 4h0m23 0h0m-11 1h0m-8 4h0m43 1h0m-19 4h0m-44 1h0m6 0h0m55 0h0m-37 4h0m55 1h0m-19 3h0m-91 1h0m11 0h0m43 0h0m22 0h0m-33 1h0m25 2h0m-60 1h0m69 0h0m5 0h0m18 1h0m-3 3h0m-82 1h0m69 4h0m15 0h0m-26 1h0m-73 4h0m6 0h0m57 0h0m7 0h0m42 0h0m-96 1h0m5 0h0m11 0h0m8 3h0m10 0h0m67 0h0m-18 1h0m-99 4h0m10 0h0m16 0h0m65 0h0m16 0h0m-41 1h0m29 3h0m-39 1h0m23 0h0m9 0h0m-44 4h0m-34 1h0m50 0h0m4 0h0m44 0h0m9 0h0m-104 4h0m64 0h0m12 0h0m22 0h0m10 0h0m5 1h0m-124 1h0m71 0h0m-42 3h0m34 0h0m37 0h0m-31 1h0m33 3h0m6 1h0m12 0h0m-68 4h0m5 0h0m60 1h0m10 0h0m-25 4h0m23 0h0m-28 1h0m-56 4h0m16 0h0m32 0h0m5 0h0m27 0h0m-58 1h0m81 0h0m-112 3h0m72 0h0m-6 1h0m-84 4h0m6 0h0m31 0h0m83 0h0"/><path stroke="#0064ea" d="M310 701h0m-2 6h0m8 3h0m-16 2h0m36 4h0m4 0h0m-11 1h0m-2 4h0m-23 1h0m-18 4h0m71 0h0m6 0h0m-90 4h0m64 0h0m-29 4h0m26 0h0m-43 1h0m5 1h0m71 0h0m-34 3h0m43 0h0m-98 1h0m32 0h0m-7 3h0m22 1h0m-19 4h0m20 0h0m27 1h0m-11 1h0m34 0h0m-83 3h0m-19 1h0m88 0h0m-28 1h0m-24 2h0m43 1h0m-25 1h0m31 0h0m-52 4h0m63 3h0m-66 2h0m-29 4h0m81 0h0m-78 6h0m45 3h0m18 0h0m38 0h0m-88 1h0m43 0h0m-32 1h0m14 2h0m43 1h0m-33 1h0m73 3h0m-117 1h0m16 0h0m4 0h0m28 0h0m85 0h0m-40 4h0m-38 1h0m27 1h0m-73 3h0m16 0h0m45 0h0m61 6h0m-128 3h0m45 0h0m87 0h0m-60 1h0m48 0h0m17 0h0m-3 4h0"/><path stroke="#00b6ef" d="M283 702h0m27 18h0m49 1h0m-29 3h0m-38 3h0m9 4h0m12 4h0m33 0h0m-47 5h0m61 0h0m-53 3h0m-21 9h0m43 3h0m36 3h0m-73 4h0m-10 1h0m21 0h0m53 0h0m-30 4h0m-48 1h0m30 3h0m-27 1h0m5 0h0m55 1h0m3 4h0m-46 4h0m10 0h0m48 1h0m-46 4h0m44 1h0m-29 4h0m9 1h0m-13 4h0m-5 1h0m-2 3h0m52 0h0m-13 5h0m-3 4h0m-40 5h0m32 0h0"/><path stroke="#00e5cf" d="M292 707h0m11 18h0m41 5h0m43 10h0m-68 13h0m29 5h0m28 1h0m5 0h0m8 14h0m-89 3h0m55 0h0m-16 24h0m-61 4h0"/><path stroke="#00e481" d="M295 711h0m54 10h0m-47 15h0m50 0h0m-10 3h0m38 0h0m31 52h0m-51 15h0"/><path stroke="#00e138" d="M314 725h0m-38 65h0m8 5h0m-2 6h0"/><path stroke="#02de00" d="M378 772h0m-53 38h0"/><path stroke="#0be000" d="M297 764h0m17 27h0m84 4h0"/><path stroke="#15e200" d="M321 806h0"/><path stroke="#1ee400" d="M319 792h0m-41 3h0m132 4h0m-111 6h0m-1 5h0"/><path stroke="#fda800" d="M283 759h0"/><path stroke="#ff1c00" d="M291 809h0"/><path stroke="#ff1500" d="M300 795h0m-10 1h0m-15 13h0m39 0h0"/></g><g transform="scale(0.5)" fill="none" stroke-linecap="round" stroke-width="6.2"><path stroke="#ff1500" d="M232 815h0m-48 1h0m271 0h0m11 0h0m110 0h0m-37 1h0m-256 2h0m-12 1h0m-62 1h0m110 0h0m170 0h0m26 0h0m-238 1h0m-134 4h0m146 0h0m-74 3h0m72 0h0m161 0h0m-307 2h0m133 2h0m6 0h0m186 0h0m48 0h0m-333 1h0m172 1h0m225 2h0m-420 1h0m114 0h0m25 0h0m224 1h0m-246 3h0m66 0h0m-45 1h0m81 0h0m28 0h0m140 0h0m-391 1h0m131 0h0m40 0h0m74 0h0m113 0h0m-324 3h0m308 0h0m-178 1h0m188 0h0m-23 1h0m42 0h0m40 2h0m-359 1h0m43 0h0m81 0h0m32 0h0m151 0h0m-108 1h0m164 0h0m-443 3h0m68 0h0m321 0h0m27 0h0m-437 1h0m182 0h0m134 0h0m42 0h0m83 0h0m11 0h0m-344 1h0m169 0h0m7 11h0m42 0h0m-110 1h0m-12 18h0m-6 4h0m13 5h0m-29 3h0m32 2h0m-13 5h0"/><path stroke="#ff1c00" d="M200 825h0m310 4h0m-275 1h0m163 4h0m-223 1h0m76 12h0m328 1h0m-363 4h0m309 5h0m-3 1h0"/><path stroke="#ff6600" d="M269 815h0m77 0h0m-156 9h0m115 0h0m202 1h0m-284 1h0m-87 3h0m95 10h0m52 0h0m279 7h0m-255 1h0m-150 9h0m185 15h0"/><path stroke="#fda800" d="M404 824h0m17 5h0m157 2h0m-393 4h0m127 3h0m11 1h0m146 0h0m-80 4h0m171 0h0m-187 1h0m-248 3h0m302 0h0m-1 4h0m31 1h0m31 0h0m88 0h0m-270 1h0m10 0h0m56 0h0m105 0h0m-196 3h0m158 0h0m-276 2h0m214 2h0m57 11h0"/><path stroke="#fae500" d="M535 815h0m-313 1h0m156 0h0m-128 3h0m148 6h0m90 0h0m-115 1h0m-128 3h0m84 0h0m245 1h0m-266 8h0m211 4h0m-156 1h0m46 0h0m-268 4h0m348 0h0m-195 4h0m203 1h0m-226 3h0m177 1h0m103 1h0m-194 13h0"/><path stroke="#96eb00" d="M103 816h0m255 1h0m-4 3h0m-26 1h0m61 4h0m109 0h0m47 0h0m-359 1h0m297 0h0m-128 3h0m162 0h0m-284 4h0m-131 1h0m182 1h0m191 3h0m-261 2h0m86 3h0m167 0h0m30 0h0m11 0h0m-74 1h0m-112 4h0m194 1h0m-116 2h0m102 0h0m-337 1h0m126 1h0m-40 3h0m176 0h0m-195 4h0m60 6h0m181 9h0"/><path stroke="#1ee400" d="M309 816h0m236 0h0m-440 5h0m262 4h0m22 8h0m66 1h0m-179 3h0m-31 1h0m235 0h0m-244 1h0m275 0h0m-392 3h0m43 5h0m214 1h0m-78 9h0m-39 4h0m36 19h0m-1 18h0m3 4h0"/><path stroke="#15e200" d="M297 820h0m-129 1h0m295 0h0m-132 4h0m131 8h0m-235 1h0m76 4h0m202 1h0m49 4h0m-207 8h0m-61 1h0m186 0h0m73 0h0m14 1h0m-219 3h0m-167 1h0m62 0h0m239 0h0m-17 3h0m-264 5h0m89 0h0m119 0h0m-88 10h0"/><path stroke="#0be000" d="M212 815h0m103 0h0m-124 1h0m52 0h0m-93 1h0m364 0h0m-332 3h0m235 1h0m141 0h0m-325 4h0m292 0h0m-269 4h0m212 0h0m53 0h0m-348 1h0m317 0h0m-373 4h0m152 0h0m21 0h0m266 0h0m-378 4h0m285 0h0m-196 1h0m-23 4h0m306 1h0m-439 4h0m210 4h0m-171 1h0m25 0h0m362 2h0m-395 1h0m425 0h0m-264 9h0m-48 9h0"/><path stroke="#02de00" d="M228 815h0m-88 1h0m24 0h0m390 0h0m-107 5h0m58 0h0m-325 3h0m353 1h0m21 0h0m-192 1h0m196 3h0m-419 5h0m83 0h0m335 3h0m-395 1h0m43 0h0m169 0h0m-244 1h0m199 0h0m41 0h0m32 0h0m138 3h0m-146 1h0m135 0h0m-396 1h0m79 0h0m8 4h0m172 0h0m139 0h0m3 3h0m-351 5h0m322 0h0m-106 4h0m-68 11h0m-43 12h0m1 5h0m6 17h0"/><path stroke="#00e138" d="M239 816h0m128 0h0m135 0h0m26 0h0m-124 1h0m156 0h0m-85 3h0m-246 1h0m96 0h0m88 4h0m-145 1h0m274 2h0m-339 1h0m-19 1h0m-76 3h0m285 0h0m16 0h0m161 0h0m-136 1h0m5 4h0m-335 1h0m78 0h0m-1 3h0m47 0h0m240 5h0m12 0h0m-219 1h0m22 0h0m81 0h0m94 0h0m43 0h0m-89 1h0m-52 7h0m15 1h0m-106 4h0m53 0h0m-38 1h0m122 3h0m-34 4h0m-62 27h0"/><path stroke="#00e481" d="M524 815h0m-126 1h0m42 0h0m51 0h0m-225 3h0m-114 1h0m209 0h0m29 0h0m136 0h0m-333 1h0m115 0h0m98 0h0m16 0h0m90 0h0m-238 3h0m218 2h0m-210 3h0m144 1h0m-52 3h0m-224 1h0m384 0h0m32 0h0m-305 4h0m-52 1h0m129 0h0m12 0h0m108 0h0m-31 1h0m-267 2h0m265 0h0m109 0h0m-390 1h0m21 0h0m-9 4h0m297 0h0m-161 1h0m-179 4h0m146 0h0m154 0h0m-161 1h0m51 3h0m179 4h0m6 0h0m-56 6h0m-135 17h0"/><path stroke="#00e5cf" d="M158 815h0m293 1h0m-254 1h0m186 0h0m170 3h0m-395 1h0m37 5h0m-27 3h0m196 0h0m136 1h0m76 3h0m-267 2h0m187 0h0m-272 2h0m323 1h0m-99 1h0m-325 3h0m244 0h0m115 0h0m-67 1h0m24 0h0m-55 1h0m92 0h0m35 3h0m-389 1h0m63 3h0m114 1h0m37 0h0m93 0h0m11 0h0m-337 1h0m12 4h0m356 3h0m-234 1h0m41 0h0m151 0h0m-153 4h0m177 1h0m-155 1h0m126 2h0m58 0h0m11 0h0m-209 2h0m26 7h0m6 1h0m-13 3h0"/><path stroke="#00b6ef" d="M181 816h0m207 1h0m21 0h0m-153 2h0m109 2h0m186 3h0m-386 1h0m74 0h0m-105 1h0m160 0h0m47 0h0m20 3h0m40 0h0m16 0h0m108 0h0m-394 1h0m320 3h0m68 0h0m-363 1h0m-40 4h0m51 0h0m334 0h0m-143 4h0m135 1h0m-323 1h0m400 0h0m-424 3h0m26 0h0m271 0h0m96 6h0m-225 2h0m-167 1h0m42 2h0m163 3h0m137 4h0m-170 1h0m62 0h0m104 0h0m-70 3h0m-208 1h0m30 0h0m16 0h0m-4 1h0m206 0h0m-247 2h0m85 1h0m112 1h0m-99 23h0"/><path stroke="#0064ea" d="M143 816h0m422 0h0m-163 4h0m-292 1h0m67 1h0m325 3h0m-181 1h0m240 0h0m-301 3h0m47 0h0m158 2h0m10 0h0m-317 2h0m82 5h0m332 0h0m-87 1h0m-289 5h0m188 9h0m5 0h0m-148 4h0m7 4h0m26 0h0m15 0h0m-80 4h0m167 0h0m62 0h0m-207 1h0m24 0h0m162 0h0m42 0h0m-31 1h0m-210 2h0m50 1h0m219 0h0m-276 1h0m22 0h0m165 0h0m-153 2h0m-19 1h0m25 0h0m53 0h0m88 0h0m5 0h0m52 0h0m-151 1h0m119 0h0m48 0h0m-153 8h0m-11 14h0"/><path stroke="#0022de" d="M118 817h0m29 3h0m163 4h0m37 2h0m43 13h0m22 1h0m33 2h0m-255 1h0m248 4h0m-236 13h0m24 0h0m138 0h0m51 0h0m-223 1h0m30 1h0m256 0h0m-239 3h0m125 0h0m5 0h0m-182 1h0m137 0h0m97 0h0m24 3h0m-156 1h0m-31 1h0m106 3h0m62 0h0m-130 15h0"/><path stroke="#070cd4" d="M419 816h0m54 0h0m-332 5h0m21 0h0m42 0h0m190 4h0m-152 1h0m-12 3h0m118 0h0m23 0h0m-239 4h0m116 1h0m-54 4h0m167 0h0m-128 5h0m-50 4h0m339 0h0m-251 2h0m-144 2h0m7 1h0m130 0h0m93 8h0m16 0h0m10 0h0m62 0h0m7 0h0m-235 1h0m93 0h0m21 0h0m-71 4h0m47 0h0m78 0h0m-171 1h0m32 0h0m4 0h0m217 3h0m-270 1h0m222 0h0m-229 1h0m118 3h0m-3 5h0m6 27h0"/><path stroke="#2d12c9" d="M213 861h0m-15 5h0m-12 5h0m198 0h0"/><path stroke="#2d12c9" d="M424 860h0m-160 2h0m7 4h0m77 4h0m21 0h0m-170 4h0m187 0h0"/><path stroke="#070cd4" d="M436 815h0m40 0h0m-252 6h0m339 0h0m-451 4h0m-9 1h0m68 0h0m255 0h0m-269 3h0m323 1h0m52 0h0m-403 4h0m420 0h0m-254 1h0m124 0h0m-293 3h0m-23 5h0m151 0h0m-149 3h0m193 0h0m102 1h0m109 4h0m-168 2h0m25 3h0m-166 1h0m57 0h0m-26 1h0m-45 2h0m156 0h0m67 0h0m-201 1h0m45 0h0m114 0h0m-20 1h0m41 0h0m47 0h0m-96 2h0m73 1h0m-146 1h0m125 0h0m-189 3h0m249 0h0m-188 1h0m41 0h0m7 0h0m41 0h0m119 0h0m-109 1h0m31 0h0m44 3h0m52 0h0m-217 1h0m108 0h0m-73 9h0m1 8h0m5 9h0"/><path stroke="#0022de" d="M123 815h0m219 0h0m127 5h0m-133 5h0m-125 1h0m231 3h0m35 4h0m-219 2h0m310 12h0m-424 4h0m-6 2h0m58 8h0m119 0h0m89 0h0m36 0h0m53 0h0m-274 4h0m228 0h0m23 0h0m4 0h0m-10 1h0m-242 4h0m58 0h0m181 0h0m-135 1h0m-107 3h0m152 0h0m52 1h0"/><path stroke="#0064ea" d="M508 816h0m-260 1h0m-42 8h0m200 4h0m-300 1h0m85 4h0m300 5h0m-147 8h0m-112 5h0m-123 1h0m284 7h0m73 0h0m-5 2h0m-258 2h0m33 0h0m-11 1h0m124 0h0m93 0h0m39 2h0m-104 2h0m-103 1h0m20 0h0m41 0h0m-141 4h0m46 1h0"/><path stroke="#00b6ef" d="M133 816h0m241 0h0m2 5h0m144 0h0m-360 5h0m248 0h0m-297 3h0m52 0h0m32 0h0m150 0h0m193 1h0m23 0h0m-322 4h0m165 0h0m156 0h0m-417 1h0m22 0h0m100 0h0m149 0h0m-303 3h0m296 0h0m135 0h0m-125 1h0m-138 3h0m-104 2h0m-59 4h0m119 0h0m182 0h0m-227 3h0m-67 1h0m32 0h0m56 1h0m198 0h0m12 0h0m-284 4h0m196 0h0m2 5h0m84 0h0m-90 2h0m68 1h0m-84 2h0m97 4h0m-80 3h0m71 0h0m-119 1h0m19 13h0m-11 17h0"/><path stroke="#00e5cf" d="M321 815h0m162 0h0m-312 2h0m326 0h0m-365 2h0m160 1h0m120 0h0m67 0h0m68 0h0m-420 1h0m174 0h0m33 0h0m125 0h0m-180 3h0m48 2h0m-200 3h0m327 0h0m-301 2h0m-29 3h0m83 0h0m176 0h0m140 0h0m-176 1h0m100 0h0m-274 4h0m133 3h0m-42 1h0m-126 1h0m84 0h0m-7 3h0m125 0h0m56 0h0m-217 1h0m47 1h0m-55 2h0m102 0h0m228 4h0m-147 1h0m88 0h0m-312 1h0m272 0h0m-98 3h0m31 5h0m19 0h0m51 6h0m-52 4h0m81 0h0"/><path stroke="#00e481" d="M429 815h0m17 0h0m103 0h0m-441 2h0m19 0h0m210 0h0m-221 3h0m336 0h0m-332 1h0m312 0h0m105 0h0m-140 1h0m-112 3h0m-157 1h0m250 0h0m-258 3h0m69 0h0m78 0h0m36 0h0m37 0h0m56 1h0m-153 4h0m124 0h0m72 0h0m107 0h0m-432 1h0m374 0h0m4 0h0m-272 3h0m114 0h0m31 0h0m57 0h0m49 4h0m-358 1h0m74 0h0m159 1h0m-178 3h0m42 0h0m151 0h0m112 0h0m-144 2h0m-107 4h0m58 0h0m-159 3h0m105 0h0m35 0h0m-16 2h0m232 12h0m-180 22h0m-7 5h0m2 4h0m25 6h0"/><path stroke="#00e138" d="M113 815h0m176 1h0m-73 1h0m46 3h0m125 0h0m-142 1h0m42 0h0m58 0h0m98 0h0m-73 1h0m66 4h0m10 0h0m72 0h0m11 0h0m-253 3h0m184 0h0m-163 1h0m90 0h0m-82 3h0m199 2h0m-298 7h0m250 0h0m-329 1h0m204 0h0m-15 1h0m-117 3h0m4 0h0m167 0h0m62 0h0m142 0h0m-443 1h0m195 3h0m120 0h0m21 0h0m-110 1h0m94 0h0m-54 5h0m114 0h0m-150 8h0m-133 6h0m15 0h0m17 3h0"/><path stroke="#02de00" d="M327 816h0m-125 1h0m259 0h0m-113 2h0m183 0h0m-46 2h0m-335 3h0m421 1h0m-395 1h0m297 0h0m-92 2h0m-265 1h0m103 0h0m275 0h0m-182 1h0m80 1h0m-196 2h0m-26 1h0m193 0h0m-110 1h0m-65 3h0m349 0h0m-339 1h0m52 0h0m42 0h0m26 0h0m205 4h0m42 1h0m-287 2h0m-141 2h0m270 0h0m150 0h0m-376 3h0m213 0h0m-193 1h0m27 1h0m10 0h0m222 0h0m-53 3h0m-17 1h0m101 0h0m-272 1h0m24 4h0m197 8h0m-124 1h0m-23 14h0m-7 8h0m18 10h0"/><path stroke="#0be000" d="M394 816h0m32 0h0m-131 1h0m57 0h0m-133 2h0m-4 1h0m125 1h0m228 0h0m-254 1h0m-206 2h0m46 1h0m229 0h0m-167 1h0m-70 3h0m94 0h0m10 0h0m302 0h0m-14 5h0m-202 1h0m49 2h0m-238 1h0m-26 2h0m135 7h0m273 4h0m-162 1h0m50 4h0m40 0h0m12 0h0m104 2h0m-224 16h0"/><path stroke="#15e200" d="M301 815h0m56 9h0m-57 1h0m151 1h0m88 0h0m-35 4h0m-287 3h0m160 1h0m-61 1h0m116 3h0m-77 1h0m75 3h0m18 5h0m-98 1h0m31 0h0m-136 1h0m106 3h0m203 0h0m-375 4h0m254 0h0m63 0h0m-43 1h0m-166 10h0m89 7h0"/><path stroke="#1ee400" d="M275 815h0m10 1h0m19 0h0m215 0h0m-364 1h0m341 2h0m-256 2h0m141 0h0m-134 3h0m69 0h0m113 0h0m-105 4h0m108 1h0m135 0h0m-82 2h0m-333 7h0m243 0h0m157 0h0m-20 1h0m-81 3h0m-234 1h0m134 0h0m226 1h0m-384 3h0m-76 4h0m319 0h0m84 2h0m-368 3h0m51 0h0m7 0h0m84 5h0m50 4h0m-52 28h0m15 9h0"/><path stroke="#96eb00" d="M487 815h0m-223 1h0m98 0h0m-98 8h0m193 0h0m-338 1h0m359 1h0m97 0h0m-397 3h0m156 0h0m91 4h0m-223 1h0m118 8h0m16 1h0m-229 1h0m312 0h0m-34 4h0m38 1h0m42 0h0m-269 4h0m289 3h0m-169 32h0m-2 4h0"/><path stroke="#fae500" d="M259 817h0m20 0h0m74 8h0m-61 4h0m27 0h0m-120 2h0m101 2h0m11 11h0m-160 2h0m430 7h0m-280 8h0m-1 46h0"/><path stroke="#fda800" d="M580 816h0m-443 4h0m405 0h0m-114 1h0m146 0h0m-451 4h0m297 1h0m161 0h0m-372 4h0m165 1h0m-54 2h0m261 0h0m-250 1h0m231 4h0m-217 1h0m170 0h0m52 0h0m-418 5h0m393 3h0m-276 1h0m-106 4h0m151 1h0m-46 3h0m104 1h0m-31 16h0"/><path stroke="#ff6600" d="M206 817h0m-34 4h0m87 4h0m170 8h0m-71 2h0m-71 3h0m-151 1h0m112 3h0m256 1h0m-274 4h0m306 1h0m-44 5h0m-79 3h0m-245 1h0m110 0h0m13 0h0m57 0h0m-61 19h0"/><path stroke="#ff1c00" d="M381 839h0m-113 3h0m19 6h0m90 5h0m-58 3h0m10 0h0"/><path stroke="#ff1500" d="M175 815h0m156 1h0m239 0h0m-318 1h0m163 0h0m22 2h0m-201 1h0m-48 1h0m313 0h0m77 0h0m-379 1h0m242 2h0m-303 1h0m90 0h0m25 0h0m209 0h0m4 0h0m47 0h0m53 1h0m-341 3h0m47 1h0m166 0h0m-25 1h0m134 0h0m-221 2h0m146 0h0m56 0h0m-316 1h0m129 0h0m141 0h0m27 0h0m18 3h0m-387 1h0m303 0h0m51 0h0m-41 1h0m-198 1h0m232 3h0m-286 1h0m37 0h0m19 0h0m33 0h0m172 0h0m-222 3h0m64 0h0m243 0h0m-233 1h0m41 0h0m-21 1h0m218 0h0m-71 2h0m42 0h0m-253 1h0m281 0h0m-307 1h0m-134 3h0m198 0h0m223 0h0m31 0h0m-239 1h0m20 0h0m42 0h0m94 0h0m100 1h0m-254 2h0m-26 10h0m-10 8h0m10 2h0m5 8h0"/></g><path d="M397.3 334.1H472.6L475.6 337.1V406.5H397.3Z" fill="#2e16c8"/><rect x="313.6" y="408.2" width="239.4" height="20.2" fill="#0a3ccc"/><rect x="355.6" y="427.1" width="153.8" height="8.9" fill="#0a30cc"/><g transform="scale(0.5)" fill="none" stroke-linecap="round" stroke-width="6.5"><path stroke="#ff1500" d="M825 803h0m-12 1h0m24 5h0m-18 3h0m16 0h0"/><path stroke="#ff1c00" d="M822 799h0m-22 9h0m22 0h0m-13 4h0m6 0h0m9 2h0"/><path stroke="#ff6600" d="M820 803h0"/><path stroke="#fda800" d="M824 777h0"/><path stroke="#1ee400" d="M838 771h0"/><path stroke="#0be000" d="M803 813h0"/><path stroke="#02de00" d="M809 777h0"/><path stroke="#00e138" d="M838 752h0m-6 9h0m-35 5h0m53 6h0m-33 17h0m36 10h0"/><path stroke="#00e481" d="M802 719h0m11 29h0m10 13h0m5 1h0m9 17h0m-5 2h0m-22 17h0"/><path stroke="#00e5cf" d="M798 728h0m5 10h0m28 5h0m-7 13h0m5 0h0m-27 1h0m20 24h0m-13 4h0m4 1h0m28 8h0m32 19h0"/><path stroke="#00b6ef" d="M818 721h0m15 31h0m-34 9h0m0 10h0m18 10h0m41 4h0m-4 5h0m5 8h0m-19 6h0m9 4h0"/><path stroke="#0064ea" d="M802 729h0m7 0h0m20 0h0m-18 4h0m20 4h0m-12 11h0m7 4h0m8 4h0m12 10h0m8 5h0m-38 1h0m-11 7h0m37 2h0m17 8h0m-21 1h0m25 5h0m14 0h0m-79 18h0"/><path stroke="#0022de" d="M812 716h0m-5 3h0m22 0h0m-17 5h0m1 5h0m22 0h0m-37 9h0m13 4h0m10 2h0m17 0h0m3 3h0m-17 2h0m20 13h0m4 1h0m-24 4h0m2 4h0m34 0h0m-9 5h0m5 0h0m-15 1h0m18 4h0m-56 5h0m17 0h0m13 4h0m-20 3h0m60 1h0m-9 5h0m-25 1h0m29 3h0m16 0h0m-28 2h0m25 4h0m5 0h0m-40 4h0"/><path stroke="#070cd4" d="M797 710h0m16 1h0m14 3h0m8 5h0m8 6h0m-5 9h0m-38 9h0m49 8h0m6 1h0m19 15h0m-6 1h0m0 8h0m-3 4h0m2 6h0m1 8h0m17 1h0m9 8h0m3 5h0m-6 1h0"/><path stroke="#2d12c9" d="M830 672h0m80 0h0m28 0h0m-131 1h0m12 0h0m22 0h0m11 0h0m25 0h0m12 0h0m37 0h0m-129 1h0m5 0h0m12 0h0m21 0h0m11 0h0m11 0h0m11 0h0m25 2h0m-56 1h0m23 0h0m26 0h0m16 0h0m12 0h0m5 0h0m11 0h0m4 0h0m-129 1h0m12 0h0m37 0h0m10 0h0m11 0h0m33 0h0m16 0h0m22 0h0m-145 1h0m-3 2h0m16 0h0m70 0h0m5 0h0m16 0h0m16 0h0m-96 1h0m27 0h0m15 0h0m7 0h0m25 0h0m43 0h0m-140 1h0m77 0h0m16 0h0m52 0h0m-130 3h0m21 0h0m43 0h0m16 0h0m27 0h0m16 0h0m-139 1h0m32 0h0m11 0h0m16 0h0m4 0h0m66 0h0m-109 1h0m56 0h0m10 0h0m-51 3h0m37 0h0m6 0h0m5 0h0m10 0h0m33 0h0m5 0h0m-130 1h0m6 0h0m43 0h0m17 0h0m21 0h0m27 0h0m5 0h0m27 0h0m-105 3h0m32 0h0m-64 1h0m26 0h0m45 0h0m21 0h0m27 0h0m5 0h0m5 0h0m-124 1h0m6 0h0m64 0h0m22 0h0m6 0h0m5 0h0m-111 3h0m48 0h0m7 0h0m58 0h0m23 0h0m-141 1h0m10 0h0m11 0h0m48 0h0m28 0h0m6 0h0m22 0h0m-38 1h0m26 0h0m-84 3h0m6 0h0m17 0h0m26 0h0m16 0h0m6 0h0m5 0h0m21 0h0m12 0h0m-131 1h0m5 0h0m35 0h0m15 0h0m48 0h0m23 0h0m-93 1h0m103 0h0m-121 2h0m15 0h0m12 0h0m5 0h0m5 0h0m60 0h0m4 1h0m5 0h0m7 0h0m5 0h0m-109 1h0m13 0h0m21 0h0m48 0h0m-13 3h0m-65 1h0m16 0h0m92 0h0m-64 1h0m37 0h0m-63 3h0m23 0h0m27 0h0m-55 1h0m12 0h0m26 0h0m44 0h0m4 0h0m-36 1h0m16 0h0m26 0h0m-83 3h0m5 0h0m5 0h0m22 0h0m26 0h0m-42 1h0m22 0h0m31 0h0m7 0h0m-46 3h0m20 0h0m16 0h0m17 0h0m-86 1h0m60 0h0m5 0h0m-81 1h0m22 0h0m16 0h0m-8 3h0m10 0h0m17 0h0m-55 1h0m12 0h0m5 0h0m15 0h0m49 0h0m17 0h0m-78 3h0m37 0h0m-44 1h0m17 0h0m32 0h0m38 0h0m-98 1h0m7 0h0m32 0h0m4 0h0m24 0h0m16 0h0m-21 3h0m28 0h0m-80 1h0m3 0h0m24 0h0m5 0h0m-38 1h0m20 0h0m24 0h0m-26 3h0m5 0h0m23 0h0m25 0h0m23 0h0m-82 1h0m66 0h0m-71 1h0m60 0h0m3 2h0m-54 1h0m80 0h0m-85 1h0m21 0h0m6 0h0m15 0h0m5 0h0m6 0h0m17 0h0m4 0h0m-60 3h0m30 0h0m-41 1h0m37 1h0m10 0h0m6 0h0m-2 3h0m9 0h0m6 1h0m10 0h0m6 0h0m-61 4h0m10 0h0m44 0h0m-60 1h0m10 0h0m17 0h0m11 0h0m32 0h0m-79 4h0m28 0h0m-10 1h0m53 0h0m6 0h0m-62 3h0m21 0h0m6 0h0m28 0h0m-44 1h0m-17 1h0m38 0h0m11 0h0m-56 3h0m32 1h0m11 0h0m22 0h0m-37 3h0m22 0h0m22 0h0m-69 1h0m22 0h0m10 0h0m10 0h0m22 0h0m-49 1h0m21 0h0m17 0h0m-24 3h0m10 0h0m-31 1h0m5 0h0m6 0h0m5 0h0m43 0h0m4 0h0m-9 1h0m-31 3h0m16 1h0m18 0h0m-40 1h0m-2 3h0m26 0h0m8 0h0m3 0h0m7 0h0m6 0h0m-54 1h0m9 0h0m12 0h0m-3 3h0m10 0h0m-20 1h0m4 0h0m22 0h0m6 0h0m9 0h0m-34 4h0m5 0h0m-9 1h0m15 0h0m11 0h0m-24 3h0m4 0h0m28 0h0m-11 1h0m4 0h0m17 0h0m-48 1h0"/><path stroke="#2d12c9" d="M885 672h0m20 0h0m39 0h0m-119 1h0m38 0h0m10 0h0m27 0h0m15 0h0m6 0h0m12 0h0m-38 1h0m-74 3h0m-11 1h0m18 0h0m5 0h0m15 0h0m22 0h0m10 0h0m17 0h0m43 0h0m-111 3h0m33 0h0m48 0h0m23 0h0m-125 1h0m10 0h0m18 0h0m4 0h0m5 0h0m71 0h0m11 0h0m12 0h0m-82 1h0m35 3h0m54 0h0m-136 1h0m16 0h0m22 0h0m23 0h0m43 0h0m-108 1h0m48 0h0m48 0h0m6 0h0m11 0h0m15 0h0m-115 3h0m5 0h0m22 0h0m11 0h0m5 0h0m38 0h0m5 0h0m-92 1h0m16 0h0m12 0h0m70 0h0m27 0h0m4 0h0m-71 3h0m21 0h0m-64 1h0m20 0h0m6 0h0m6 0h0m4 0h0m34 0h0m49 0h0m-141 1h0m25 0h0m94 0h0m-84 3h0m43 0h0m27 0h0m28 0h0m-119 1h0m16 0h0m11 0h0m4 0h0m26 0h0m17 0h0m38 0h0m17 0h0m-120 1h0m39 0h0m3 3h0m15 0h0m6 0h0m28 0h0m5 0h0m-104 1h0m39 0h0m16 0h0m-49 1h0m79 2h0m-87 1h0m10 0h0m44 0h0m37 0h0m-32 1h0m5 0h0m7 0h0m5 0h0m4 0h0m-67 3h0m17 0h0m11 0h0m31 0h0m17 0h0m32 0h0m-97 1h0m22 0h0m4 0h0m6 0h0m49 0h0m-38 1h0m12 0h0m15 0h0m17 0h0m5 0h0m-89 3h0m26 0h0m23 0h0m-28 1h0m17 0h0m36 0h0m7 0h0m-86 1h0m69 0h0m-62 2h0m60 0h0m-55 1h0m33 0h0m59 0h0m-64 1h0m21 0h0m12 0h0m11 0h0m15 0h0m-94 3h0m48 0h0m11 0h0m-55 1h0m82 0h0m-64 1h0m5 0h0m11 0h0m17 0h0m36 0h0m-88 3h0m16 0h0m21 0h0m26 0h0m8 0h0m11 0h0m15 0h0m-54 1h0m12 0h0m5 0h0m27 0h0m-59 3h0m18 1h0m21 0h0m5 0h0m17 0h0m-71 1h0m65 0h0m-13 3h0m5 0h0m15 0h0m-42 1h0m6 0h0m-37 1h0m10 0h0m38 0h0m16 0h0m16 0h0m-62 3h0m6 0h0m10 0h0m10 0h0m-5 1h0m27 0h0m7 0h0m9 0h0m-70 1h0m-7 2h0m4 1h0m16 1h0m7 0h0m27 0h0m16 0h0m-63 3h0m17 0h0m27 0h0m26 0h0m-81 1h0m17 0h0m42 0h0m-36 1h0m41 0h0m6 0h0m6 0h0m-45 3h0m38 0h0m-65 1h0m4 0h0m6 0h0m6 0h0m15 0h0m5 0h0m11 0h0m-25 1h0m40 2h0m-23 1h0m32 0h0m-20 1h0m4 0h0m-26 1h0m-20 2h0m56 0h0m-34 1h0m12 0h0m5 0h0m6 0h0m5 0h0m-54 1h0m16 0h0m16 0h0m-7 3h0m21 0h0m22 0h0m-72 1h0m18 0h0m43 0h0m16 0h0m-67 3h0m-7 1h0m11 0h0m12 0h0m10 0h0m33 0h0m5 0h0m-54 1h0m27 0h0m5 0h0m5 0h0m-50 4h0m69 0h0m-65 1h0m49 0h0m-7 3h0m4 0h0m-20 1h0m9 1h0m-1 3h0m9 0h0m6 0h0m11 0h0m-54 1h0m6 0h0m15 0h0m37 0h0m-40 4h0m11 0h0m-2 4h0m21 1h0m11 0h0m-7 4h0m5 0h0m-22 1h0m10 0h0m-39 3h0m20 1h0m6 0h0m22 1h0"/><path stroke="#070cd4" d="M843 677h0m-44 19h0m-2 6h0m9 3h0m-5 1h0m1 4h0m6 0h0m25 13h0m8 14h0m-35 6h0m40 4h0m-30 5h0m28 1h0m20 9h0m2 9h0m-4 5h0m-35 5h0m34 3h0m-36 1h0m24 4h0m27 0h0m11 10h0m-25 4h0m16 0h0m12 0h0m-7 11h0"/><path stroke="#0022de" d="M797 691h0m19 24h0m6 1h0m-9 5h0m-8 2h0m10 0h0m23 1h0m-15 1h0m-23 8h0m17 1h0m7 4h0m12 1h0m-9 3h0m15 1h0m10 6h0m-11 7h0m12 6h0m-23 4h0m6 1h0m26 0h0m-57 3h0m37 2h0m3 4h0m4 4h0m-39 1h0m55 9h0m-56 4h0m16 0h0m-6 1h0m38 0h0m-59 1h0m18 2h0m60 1h0m-74 4h0m74 6h0m-35 4h0m38 1h0"/><path stroke="#0064ea" d="M823 720h0m-23 4h0m20 5h0m5 0h0m-2 4h0m9 0h0m-17 4h0m-17 10h0m4 1h0m28 1h0m-25 3h0m5 1h0m35 4h0m-37 1h0m48 0h0m-51 4h0m32 0h0m13 3h0m-10 2h0m-8 4h0m-33 9h0m56 0h0m-3 5h0m18 4h0m-35 5h0m11 0h0m-44 1h0m-1 3h0m48 1h0m21 0h0m11 1h0m-35 3h0m8 5h0m6 0h0m11 0h0m-27 1h0m20 0h0m-12 4h0"/><path stroke="#00b6ef" d="M827 723h0m-21 10h0m3 5h0m10 1h0m-3 3h0m-17 10h0m52 4h0m-32 1h0m-16 10h0m19 3h0m-25 5h0m6 0h0m26 1h0m16 9h0m-46 5h0m23 0h0m7 4h0m23 1h0m-25 3h0m23 6h0m-17 5h0m30 4h0"/><path stroke="#00e5cf" d="M800 716h0m9 32h0m26 0h0m-14 4h0m-6 10h0m45 0h0m-4 4h0m-43 10h0m16 8h0m12 1h0m-6 1h0m-30 4h0m38 8h0m29 6h0"/><path stroke="#00e481" d="M811 761h0m2 5h0m-3 4h0m16 20h0m31 23h0"/><path stroke="#00e138" d="M827 734h0m-12 23h0m5 10h0m0 9h0m24 14h0"/><path stroke="#02de00" d="M835 775h0"/><path stroke="#0be000" d="M805 716h0m5 74h0"/><path stroke="#15e200" d="M807 766h0"/><path stroke="#ff6600" d="M826 808h0m-11 1h0"/><path stroke="#ff1c00" d="M805 799h0m3 5h0"/><path stroke="#ff1500" d="M832 800h0m3 3h0m-6 1h0m-31 1h0m14 3h0m-7 1h0"/></g><g transform="scale(0.5)" fill="none" stroke-linecap="round" stroke-width="6.2"><path stroke="#ff1500" d="M1057 815h0m-108 1h0m136 0h0m2 4h0m-50 4h0m21 0h0m17 1h0m-232 4h0m-189 4h0m67 0h0m369 0h0m-82 1h0m-289 3h0m335 5h0m-127 5h0m83 0h0m47 0h0m-183 10h0"/><path stroke="#ff1c00" d="M820 814h0m-178 11h0m440 4h0m2 5h0m-134 1h0m135 17h0"/><path stroke="#ff6600" d="M1017 816h0m-328 8h0m346 5h0m71 6h0m-401 17h0"/><path stroke="#fda800" d="M665 820h0m10 5h0m202 1h0m89 7h0m70 22h0m-12 1h0m-44 13h0"/><path stroke="#fae500" d="M1085 843h0"/><path stroke="#96eb00" d="M634 830h0m318 9h0m40 3h0m-224 1h0m47 1h0m246 4h0m-243 3h0m-43 5h0m-8 13h0"/><path stroke="#1ee400" d="M908 817h0m131 3h0m-187 4h0m-157 1h0m80 4h0m29 5h0m13 4h0m-26 1h0m102 3h0m-38 1h0m166 0h0m-228 1h0m205 2h0m-237 1h0m113 0h0"/><path stroke="#15e200" d="M1055 821h0m-221 3h0m5 0h0m-123 2h0m-68 8h0m180 4h0m255 1h0m-419 5h0m204 3h0m64 1h0m-186 4h0m102 4h0m163 14h0"/><path stroke="#0be000" d="M729 819h0m172 2h0m126 3h0m-42 10h0m87 4h0m-143 4h0m158 5h0m-94 1h0m-257 4h0m177 0h0m114 0h0m-184 3h0m40 6h0m95 5h0m-46 7h0"/><path stroke="#02de00" d="M727 815h0m174 1h0m-106 5h0m34 4h0m-20 1h0m144 2h0m114 0h0m-405 1h0m-16 1h0m12 3h0m73 0h0m-22 1h0m157 0h0m123 13h0m-50 5h0m-295 3h0m292 0h0m155 0h0m-124 1h0"/><path stroke="#00e138" d="M774 821h0m211 3h0m-129 1h0m-122 3h0m296 0h0m-378 1h0m89 5h0m193 1h0m77 0h0m-74 3h0m66 0h0m-4 1h0m-371 11h0m281 5h0m167 1h0m-222 1h0m-38 7h0m63 9h0"/><path stroke="#00e481" d="M722 814h0m-38 1h0m74 0h0m124 0h0m36 1h0m-51 1h0m-155 2h0m309 1h0m-96 1h0m63 0h0m-235 3h0m255 0h0m-361 1h0m11 0h0m-21 1h0m245 0h0m159 3h0m-126 1h0m-127 4h0m32 0h0m-91 3h0m-28 1h0m230 0h0m105 0h0m15 0h0m-57 1h0m21 0h0m-347 3h0m183 1h0m92 0h0m105 0h0m21 0h0m-334 1h0m-80 3h0m161 0h0m-165 1h0m115 0h0m76 0h0m181 3h0m-22 1h0m36 0h0m-238 1h0m121 2h0m76 6h0m-133 3h0m5 1h0m71 4h0"/><path stroke="#00e5cf" d="M976 816h0m-161 1h0m40 0h0m-178 2h0m300 0h0m53 0h0m-374 2h0m392 4h0m-338 1h0m380 0h0m-362 3h0m180 4h0m-213 1h0m383 0h0m-448 4h0m203 0h0m45 0h0m208 0h0m-442 4h0m275 1h0m-211 3h0m40 0h0m146 0h0m132 1h0m9 0h0m48 0h0m-371 1h0m198 0h0m-240 3h0m273 0h0m11 0h0m-161 1h0m207 3h0m62 1h0m-49 1h0m42 0h0m-64 3h0m-23 5h0m-143 5h0"/><path stroke="#00b6ef" d="M871 815h0m177 0h0m26 0h0m-396 1h0m17 0h0m210 3h0m119 0h0m-363 1h0m87 0h0m6 0h0m37 0h0m94 0h0m119 0h0m-284 4h0m250 0h0m63 0h0m-52 2h0m-299 2h0m68 1h0m222 1h0m17 0h0m-206 3h0m213 0h0m-316 1h0m347 0h0m51 3h0m-335 1h0m178 0h0m52 0h0m-87 1h0m-201 3h0m358 0h0m-368 1h0m76 0h0m147 0h0m48 3h0m15 0h0m-325 1h0m159 0h0m146 0h0m17 0h0m56 0h0m-384 1h0m104 0h0m311 0h0m-356 3h0m168 0h0m192 1h0m-220 1h0m242 3h0m-194 4h0m139 2h0m-11 2h0m-212 5h0m-21 1h0"/><path stroke="#0064ea" d="M705 815h0m307 0h0m41 0h0m-276 1h0m62 0h0m75 0h0m76 0h0m38 1h0m-264 2h0m286 0h0m17 0h0m-297 1h0m229 0h0m-238 1h0m76 0h0m54 3h0m162 0h0m32 0h0m-146 1h0m-11 1h0m-214 3h0m146 0h0m197 0h0m-303 1h0m62 0h0m-18 3h0m225 0h0m47 0h0m-366 1h0m356 1h0m-353 2h0m43 0h0m31 0h0m-105 1h0m223 0h0m-50 1h0m113 0h0m63 0h0m-90 3h0m-205 1h0m117 0h0m216 0h0m15 0h0m-424 1h0m186 0h0m76 3h0m125 0h0m-342 4h0m26 0h0m32 0h0m5 0h0m311 0h0m-191 1h0m103 0h0m21 0h0m-166 1h0m-185 2h0m11 0h0m281 0h0m-67 1h0m103 0h0m-265 1h0m213 0h0m-170 3h0m179 0h0m-33 1h0m11 0h0m31 0h0m-61 1h0m46 0h0m-168 3h0m63 4h0m48 0h0m140 1h0m-265 1h0"/><path stroke="#0022de" d="M637 814h0m209 1h0m245 0h0m-350 1h0m224 0h0m-279 3h0m96 0h0m211 0h0m99 0h0m-354 1h0m141 0h0m62 0h0m-310 1h0m156 0h0m41 0h0m155 0h0m79 0h0m-336 3h0m30 0h0m152 0h0m94 0h0m66 0h0m-289 1h0m315 0h0m-313 3h0m187 0h0m47 0h0m-204 1h0m-20 1h0m281 0h0m-169 3h0m67 0h0m5 0h0m6 0h0m-350 1h0m131 0h0m110 0h0m192 0h0m-366 4h0m144 0h0m-171 1h0m349 0h0m-326 3h0m27 0h0m181 0h0m94 0h0m15 0h0m-383 1h0m177 0h0m202 0h0m26 0h0m-184 3h0m-162 1h0m333 0h0m-337 1h0m395 0h0m-211 2h0m201 1h0m27 1h0m-411 1h0m312 0h0m-335 2h0m63 1h0m219 0h0m-231 1h0m16 0h0m77 0h0m65 0h0m-40 4h0m156 0h0m-239 1h0m47 0h0m-56 2h0m95 0h0m114 0h0m-217 1h0m92 0h0m172 0h0m16 0h0m-209 1h0m143 2h0m-145 1h0m108 1h0m54 0h0m24 0h0m-145 1h0m21 0h0m-142 2h0"/><path stroke="#070cd4" d="M715 815h0m-16 1h0m255 0h0m-20 1h0m13 2h0m16 2h0m119 0h0m-278 3h0m-141 1h0m137 0h0m154 0h0m-289 3h0m137 0h0m-126 1h0m31 0h0m255 0h0m-291 1h0m67 0h0m26 0h0m93 2h0m-189 1h0m110 0h0m-104 1h0m41 0h0m95 0h0m104 0h0m45 1h0m-303 2h0m391 0h0m-283 1h0m12 0h0m98 0h0m69 0h0m-298 1h0m110 0h0m338 0h0m11 0h0m-363 3h0m36 0h0m5 0h0m89 0h0m-182 1h0m74 0h0m124 0h0m22 0h0m-136 1h0m39 2h0m16 0h0m31 0h0m-105 1h0m147 0h0m-226 1h0m114 3h0m130 0h0m-198 1h0m176 0h0m-149 3h0m135 0h0m-176 1h0m105 0h0m-22 1h0m47 0h0m245 0h0m-356 3h0m15 0h0m31 0h0m27 0h0m-21 1h0m203 0h0m-177 1h0m110 0h0m-4 2h0m10 0h0m52 0h0m-218 1h0m22 0h0m30 0h0m151 0h0m-234 1h0m152 0h0m-91 2h0m82 0h0m31 0h0m-176 1h0m16 0h0m166 0h0m-158 1h0m18 0h0m16 0h0m10 0h0m99 0h0m5 0h0m82 0h0m16 0h0m4 0h0m-161 1h0m-60 2h0"/><path stroke="#2d12c9" d="M788 816h0m43 3h0m-109 1h0m132 0h0m-185 5h0m223 8h0m-2 4h0m87 0h0m-10 2h0m3 3h0m-253 5h0m68 0h0m130 8h0m-219 2h0m74 0h0m-39 4h0m171 0h0m63 1h0m-206 2h0m-26 1h0m124 0h0m-88 1h0m34 4h0m6 0h0m160 0h0m-213 1h0m117 2h0m48 0h0"/><path stroke="#2d12c9" d="M782 815h0m104 0h0m10 2h0m-251 2h0m291 0h0m-23 5h0m103 1h0m-255 3h0m195 0h0m-270 1h0m245 1h0m-235 17h0m28 0h0m90 4h0m56 0h0m18 1h0m20 0h0m170 0h0m-298 3h0m-89 1h0m106 0h0m250 0h0m-229 1h0m17 3h0m-120 1h0m67 0h0m7 0h0m20 0h0m62 0h0m-153 3h0m95 0h0m-70 1h0m182 0h0m18 0h0m-158 1h0m42 0h0m15 0h0m5 0h0m59 0h0m-190 3h0m9 0h0m188 0h0m-143 4h0"/><path stroke="#070cd4" d="M735 815h0m32 0h0m95 0h0m175 1h0m-286 1h0m-79 2h0m30 0h0m141 0h0m5 0h0m109 0h0m146 0h0m-395 1h0m9 0h0m142 0h0m108 0h0m-226 4h0m125 0h0m177 0h0m-156 1h0m30 0h0m43 0h0m5 0h0m26 0h0m-306 1h0m137 2h0m12 1h0m-90 1h0m185 3h0m88 0h0m37 0h0m-416 1h0m186 0h0m251 0h0m-308 1h0m7 0h0m37 2h0m11 0h0m-172 1h0m38 0h0m51 0h0m58 0h0m232 0h0m-118 1h0m37 0h0m-289 3h0m88 0h0m42 0h0m10 1h0m203 0h0m-311 3h0m115 0h0m166 0h0m-109 1h0m74 0h0m-234 1h0m221 3h0m40 0h0m12 0h0m-83 1h0m56 0h0m11 0h0m-115 1h0m-44 2h0m27 0h0m180 1h0m-270 1h0m48 0h0m65 2h0m-130 1h0m170 0h0m6 0h0m-160 1h0m20 0h0m10 0h0m57 0h0m42 0h0m88 0h0m52 0h0m-294 3h0m172 0h0m-30 1h0m78 0h0m6 0h0m44 0h0m-201 1h0m16 0h0m93 0h0m61 0h0m63 0h0m-164 3h0m72 0h0m-180 1h0m73 0h0m102 0h0"/><path stroke="#0022de" d="M673 816h0m360 0h0m-322 1h0m258 0h0m-152 3h0m228 0h0m-410 1h0m15 0h0m172 0h0m-123 3h0m115 0h0m47 0h0m240 0h0m-396 1h0m82 0h0m58 0h0m129 0h0m39 0h0m-294 3h0m5 1h0m45 0h0m99 0h0m6 0h0m104 0h0m15 0h0m-167 1h0m110 0h0m11 0h0m73 0h0m-319 3h0m50 0h0m126 0h0m156 0h0m5 0h0m-203 1h0m62 0h0m-233 1h0m60 2h0m259 1h0m-271 1h0m213 0h0m33 0h0m50 0h0m87 2h0m-368 1h0m139 0h0m73 0h0m-292 1h0m63 0h0m270 0h0m-99 1h0m97 4h0m89 0h0m-56 2h0m-379 1h0m11 0h0m260 0h0m130 0h0m-261 1h0m198 0h0m90 0h0m-69 1h0m-91 2h0m150 0h0m-420 1h0m21 0h0m36 0h0m47 1h0m352 0h0m-267 3h0m25 0h0m84 0h0m-177 1h0m-3 3h0m167 0h0m48 0h0m-171 1h0m103 0h0m93 1h0m-105 4h0"/><path stroke="#0064ea" d="M658 815h0m73 0h0m249 0h0m120 0h0m-431 1h0m254 0h0m-190 4h0m131 0h0m68 0h0m-16 1h0m57 0h0m132 3h0m-202 1h0m-210 4h0m155 0h0m47 0h0m32 0h0m97 0h0m-101 4h0m-73 1h0m105 0h0m-11 1h0m-210 2h0m-67 2h0m142 3h0m103 1h0m43 0h0m9 0h0m142 1h0m-185 2h0m-98 1h0m207 1h0m-168 4h0m-203 1h0m13 2h0m4 0h0m69 0h0m227 0h0m-212 1h0m203 0h0m40 0h0m-163 4h0m21 0h0m115 0h0m-98 4h0m-41 1h0m-105 4h0m114 0h0m26 0h0m61 0h0m22 0h0m47 0h0m-291 1h0"/><path stroke="#00b6ef" d="M810 815h0m284 0h0m-450 1h0m150 0h0m9 0h0m203 0h0m74 0h0m26 0h0m-425 3h0m214 0h0m119 0h0m-269 1h0m265 0h0m26 0h0m-344 1h0m75 3h0m6 0h0m306 0h0m-448 1h0m434 0h0m-131 1h0m62 0h0m-366 2h0m156 0h0m103 1h0m10 0h0m85 0h0m-299 4h0m145 0h0m32 0h0m-136 1h0m32 0h0m35 0h0m20 0h0m105 0h0m130 0h0m-420 1h0m7 3h0m166 0h0m-16 1h0m232 4h0m-372 3h0m27 0h0m99 1h0m181 1h0m-19 3h0m-203 1h0m24 3h0m-113 1h0m182 0h0m-59 1h0m132 0h0m133 0h0m-69 2h0m-146 1h0m131 1h0m26 0h0m29 0h0m19 4h0m-199 5h0m130 0h0m15 0h0m-206 3h0"/><path stroke="#00e5cf" d="M653 815h0m285 0h0m58 0h0m-365 1h0m32 0h0m168 0h0m20 0h0m42 0h0m-244 1h0m224 2h0m37 2h0m-230 2h0m116 5h0m-100 1h0m7 0h0m176 0h0m124 0h0m58 0h0m-52 1h0m-366 3h0m359 0h0m-115 2h0m-247 3h0m43 0h0m10 0h0m170 1h0m-28 3h0m-198 1h0m80 0h0m311 0h0m-123 3h0m-103 1h0m82 0h0m6 0h0m-251 1h0m106 0h0m22 3h0m-15 1h0m124 0h0m-202 1h0m320 3h0m-36 1h0m-35 3h0m85 9h0"/><path stroke="#00e481" d="M763 815h0m62 0h0m-77 1h0m51 0h0m-158 3h0m249 0h0m-193 1h0m49 4h0m36 1h0m42 0h0m121 0h0m-74 1h0m49 2h0m158 1h0m10 0h0m-206 4h0m109 1h0m-331 3h0m329 1h0m-73 1h0m-211 3h0m272 0h0m-298 1h0m152 0h0m-131 1h0m38 3h0m313 0h0m51 0h0m-437 1h0m215 0h0m192 0h0m-378 4h0m21 0h0m26 0h0m-93 1h0m339 2h0m-8 1h0m39 0h0m-162 4h0m156 1h0m-12 4h0m-144 5h0"/><path stroke="#00e138" d="M877 816h0m110 1h0m-35 2h0m-133 6h0m18 4h0m266 0h0m-249 1h0m30 0h0m211 4h0m-405 1h0m163 4h0m96 3h0m141 0h0m-168 1h0m-147 3h0m-47 1h0m256 0h0m113 0h0m-93 1h0m-220 3h0m233 0h0m46 1h0m-361 5h0m198 7h0"/><path stroke="#02de00" d="M961 815h0m108 0h0m-148 6h0m-115 7h0m-70 5h0m105 0h0m28 5h0m193 0h0m-76 5h0m-325 5h0m445 3h0m-296 1h0m232 0h0m-153 5h0"/><path stroke="#0be000" d="M929 815h0m-156 1h0m38 5h0m212 3h0m-124 1h0m168 14h0m-242 3h0m7 4h0m-153 5h0m373 1h0m-219 5h0"/><path stroke="#15e200" d="M807 820h0m-75 4h0m191 0h0m-161 2h0m-2 12h0m337 0h0m-221 3h0m-15 2h0m-84 8h0"/><path stroke="#1ee400" d="M793 826h0m300 2h0m-183 2h0m-65 4h0m195 5h0m-283 3h0m203 1h0m77 1h0m-246 3h0m114 8h0m-270 2h0m316 0h0m147 0h0"/><path stroke="#96eb00" d="M1022 815h0m22 0h0m-42 1h0m-200 4h0m243 8h0m-2 5h0m13 5h0m-424 5h0m221 4h0m-2 5h0m77 18h0"/><path stroke="#fae500" d="M690 815h0m374 1h0m-195 3h0m-230 32h0m42 5h0m245 0h0"/><path stroke="#fda800" d="M1097 819h0m-20 1h0m-128 4h0m-292 5h0m435 19h0m-438 4h0"/><path stroke="#ff6600" d="M838 837h0m21 1h0m-34 13h0m276 0h0m-60 4h0"/><path stroke="#ff1c00" d="M999 829h0m-94 1h0m193 0h0m-328 8h0m125 1h0m-59 13h0"/><path stroke="#ff1500" d="M834 816h0m109 1h0m128 3h0m-335 4h0m-109 1h0m27 0h0m-15 3h0m412 0h0m-187 2h0m77 0h0m-195 3h0m193 0h0m162 2h0m-294 2h0m98 0h0m195 4h0m-282 1h0m257 0h0m-17 1h0m-221 3h0m130 1h0m-186 1h0m-71 2h0m-47 1h0m267 0h0m51 1h0m110 0h0m-287 1h0m60 2h0m239 0h0m-245 1h0m209 0h0"/></g><path d="M665.2 332H736.4L743.4 339V406.3H665.2Z" fill="#2e16c8"/><rect x="582" y="408" width="238.3" height="20" fill="#0a3ccc"/><rect x="624" y="426.7" width="153.1" height="9.3" fill="#0a30cc"/><rect x="673.8" y="434.7" width="15.4" height="18.5" fill="#0a3ccc"/><g transform="scale(0.5)" fill="none" stroke-linecap="round" stroke-width="6.5"><path stroke="#ff1500" d="M1340 710h0m18 11h0m-1 28h0m-10 18h0m27 1h0m-16 9h0m-19 4h0m18 6h0m-21 8h0m69 1h0m-39 4h0m-24 5h0"/><path stroke="#ff1c00" d="M1346 683h0"/><path stroke="#ff6600" d="M1355 687h0m-6 11h0m40 78h0"/><path stroke="#fda800" d="M1344 743h0"/><path stroke="#fae500" d="M1336 683h0m25 23h0m50 41h0m-76 30h0"/><path stroke="#96eb00" d="M1363 721h0m47 23h0m-69 13h0m52 16h0m-59 16h0m1 16h0"/><path stroke="#1ee400" d="M1335 719h0m20 16h0m-6 18h0m-14 15h0m1 19h0m39 23h0m3 3h0"/><path stroke="#15e200" d="M1342 700h0m5 21h0m34 4h0m-1 5h0m-17 36h0m-22 21h0m9 4h0m24 3h0"/><path stroke="#0be000" d="M1343 705h0m-2 14h0m0 11h0m11 37h0m-8 6h0m72 12h0"/><path stroke="#02de00" d="M1346 710h0m9 5h0m76 19h0m-1 9h0m-5 1h0m-51 13h0m45 4h0m-85 1h0m21 1h0m-14 3h0m14 6h0m73 13h0m7 5h0m-26 1h0m30 5h0m13 3h0m-65 1h0m28 8h0m-21 2h0m-52 3h0"/><path stroke="#00e138" d="M1357 701h0m-10 1h0m15 0h0m20 3h0m8 16h0m-13 13h0m15 10h0m-29 5h0m35 3h0m11 10h0m38 1h0m-109 8h0m127 4h0m-112 1h0m20 0h0m3 4h0m59 0h0m-37 1h0m15 0h0m17 10h0m-18 12h0m-6 1h0m-32 1h0m69 0h0m-104 4h0m31 1h0"/><path stroke="#00e481" d="M1364 683h0m2 4h0m18 14h0m-31 1h0m12 4h0m-29 5h0m7 4h0m-10 1h0m43 9h0m-9 4h0m6 0h0m-23 5h0m51 4h0m11 1h0m-68 13h0m76 2h0m-49 8h0m52 4h0m6 0h0m-79 6h0m37 0h0m8 4h0m21 1h0m22 0h0m-7 4h0m-51 4h0m31 0h0m-46 5h0m37 1h0m7 17h0m53 1h0m-4 1h0m-85 3h0"/><path stroke="#00e5cf" d="M1344 697h0m77 9h0m-34 1h0m5 0h0m36 13h0m-75 1h0m78 3h0m-61 1h0m34 19h0m15 0h0m8 3h0m19 6h0m-59 1h0m89 3h0m-79 4h0m-27 11h0m71 0h0m-61 4h0m29 5h0m-50 1h0m33 0h0m-29 4h0m61 5h0m27 0h0m-19 4h0m-83 5h0m27 0h0m28 0h0m21 0h0m-41 5h0m-41 4h0m25 4h0"/><path stroke="#00b6ef" d="M1335 692h0m32 0h0m2 10h0m20 9h0m26 4h0m-28 1h0m22 0h0m8 3h0m-5 1h0m-67 4h0m16 1h0m73 4h0m-95 4h0m49 2h0m-51 4h0m31 0h0m-15 9h0m69 0h0m30 4h0m-116 5h0m40 5h0m34 4h0m33 0h0m7 0h0m-70 1h0m85 1h0m-84 4h0m70 0h0m-52 1h0m12 3h0m-30 5h0m66 0h0m-82 1h0m86 0h0m-57 3h0m27 1h0m-22 3h0m42 2h0m-51 4h0m5 0h0m49 0h0m-103 1h0m124 0h0m-19 3h0m-112 1h0m64 0h0m-35 4h0m64 1h0"/><path stroke="#0064ea" d="M1354 696h0m22 11h0m3 4h0m38 0h0m-24 5h0m9 0h0m31 5h0m-24 3h0m7 5h0m-59 1h0m64 0h0m-13 4h0m-22 9h0m-7 4h0m5 1h0m-15 1h0m66 3h0m-35 5h0m32 0h0m-50 5h0m59 1h0m-2 4h0m-73 4h0m53 0h0m5 0h0m-40 6h0m43 0h0m-1 3h0m-39 1h0m87 0h0m-105 4h0m-15 5h0m104 0h0m22 1h0m-112 4h0m99 4h0m-2 5h0m-32 1h0m38 0h0m-45 3h0m10 1h0m-7 1h0m-18 3h0m33 0h0"/><path stroke="#0022de" d="M1371 687h0m2 4h0m33 11h0m8 4h0m-10 1h0m-3 5h0m22 7h0m-35 7h0m39 4h0m10 0h0m-18 3h0m-20 1h0m-21 4h0m49 0h0m11 0h0m6 1h0m-3 5h0m-3 4h0m7 1h0m5 0h0m-111 3h0m123 2h0m-83 3h0m27 0h0m64 0h0m-86 1h0m55 0h0m10 0h0m-14 3h0m45 0h0m-25 7h0m-46 4h0m26 0h0m-64 8h0m68 5h0m16 0h0m-11 2h0m3 3h0m27 0h0m-51 5h0m-60 1h0m115 3h0m-127 5h0"/><path stroke="#070cd4" d="M1360 677h0m6 1h0m-32 1h0m26 8h0m29 6h0m17 17h0m5 0h0m25 5h0m-16 1h0m-15 3h0m31 5h0m4 2h0m9 13h0m-2 5h0m10 8h0m17 9h0m-11 1h0m18 32h0m-126 5h0m95 6h0m5 0h0"/><path stroke="#2d12c9" d="M1344 668h0m11 0h0m32 0h0m-21 1h0m26 0h0m10 0h0m12 0h0m32 0h0m16 0h0m10 3h0m-110 1h0m11 0h0m28 0h0m37 0h0m6 0h0m-98 1h0m65 0h0m55 0h0m9 0h0m-66 3h0m-71 1h0m33 0h0m10 0h0m12 0h0m9 0h0m40 0h0m10 0h0m-64 1h0m69 0h0m-57 3h0m11 0h0m16 0h0m10 0h0m7 0h0m-48 1h0m20 0h0m6 0h0m27 0h0m12 0h0m-83 1h0m77 0h0m15 0h0m-2 2h0m-81 1h0m11 0h0m10 0h0m6 0h0m28 0h0m10 0h0m11 0h0m15 0h0m-97 1h0m11 0h0m12 0h0m22 0h0m20 0h0m11 0h0m17 0h0m10 0h0m-66 3h0m14 0h0m5 0h0m12 0h0m27 0h0m-82 1h0m33 0h0m28 0h0m27 0h0m-38 1h0m-42 3h0m12 0h0m12 0h0m26 0h0m-59 1h0m26 0h0m23 0h0m21 0h0m11 0h0m-37 1h0m32 0h0m-30 2h0m5 0h0m26 0h0m-59 1h0m16 1h0m32 0h0m22 0h0m-13 3h0m-16 1h0m22 0h0m10 1h0m-45 3h0m25 0h0m-31 1h0m17 0h0m9 0h0m-15 1h0m-3 3h0m16 1h0m6 0h0m10 0h0m-24 3h0m22 0h0m6 1h0m-24 4h0m-6 1h0m26 0h0m-10 1h0m-13 3h0m5 0h0m11 0h0m-4 5h0m11 0h0m10 0h0m-4 1h0m-3 3h0m-6 2h0m-19 3h0m27 0h0m-15 1h0m18 3h0m-5 2h0m6 8h0m2 15h0m0 27h0m0 10h0"/><path stroke="#2d12c9" d="M1333 668h0m7 0h0m35 0h0m35 0h0m10 0h0m16 0h0m-87 1h0m21 0h0m12 0h0m15 0h0m28 0h0m5 0h0m10 0h0m13 0h0m5 0h0m-99 1h0m109 0h0m-51 2h0m4 0h0m-85 1h0m21 0h0m11 0h0m59 0h0m-87 1h0m12 0h0m28 0h0m5 0h0m5 0h0m6 0h0m11 0h0m26 0h0m17 0h0m4 0h0m6 0h0m-85 3h0m56 0h0m49 0h0m-82 1h0m17 0h0m3 0h0m8 0h0m11 0h0m26 0h0m10 0h0m-27 1h0m23 0h0m-62 3h0m59 0h0m-82 1h0m5 0h0m45 0h0m43 0h0m5 1h0m-63 4h0m12 0h0m4 0h0m-35 3h0m70 0h0m-59 1h0m49 0h0m5 0h0m-59 1h0m3 3h0m71 0h0m-81 1h0m31 0h0m16 0h0m38 0h0m-28 1h0m-60 3h0m53 0h0m5 0h0m22 0h0m-42 1h0m32 0h0m-20 3h0m17 0h0m-27 1h0m6 1h0m15 0h0m22 0h0m-7 3h0m-18 1h0m22 0h0m6 0h0m-3 3h0m-32 2h0m5 0h0m16 0h0m16 0h0m-41 3h0m22 0h0m16 1h0m-27 1h0m6 0h0m-4 3h0m13 0h0m10 2h0m-36 3h0m18 0h0m9 1h0m6 0h0m7 0h0m-27 3h0m-3 1h0m16 1h0m-14 4h0m5 0h0m5 0h0m17 0h0m-14 4h0m6 0h0m-3 4h0m12 44h0"/><path stroke="#070cd4" d="M1344 678h0m10 0h0m-4 1h0m23 4h0m-5 1h0m9 3h0m46 5h0m-37 4h0m35 5h0m-23 5h0m27 1h0m5 0h0m7 14h0m10 14h0m9 8h0m-83 5h0m82 0h0m5 1h0m6 0h0m1 4h0m11 0h0m-8 14h0m12 0h0m-3 13h0m-3 5h0m6 20h0"/><path stroke="#0022de" d="M1379 692h0m3 5h0m46 14h0m2 4h0m-31 1h0m26 0h0m-44 17h0m21 1h0m-31 1h0m64 0h0m7 0h0m-109 8h0m110 14h0m18 0h0m5 0h0m-35 5h0m27 0h0m10 1h0m-67 4h0m60 1h0m15 0h0m-3 4h0m-60 1h0m56 0h0m-15 2h0m7 0h0m-17 1h0m33 18h0m-19 5h0m-23 1h0m41 4h0m-2 5h0m-4 4h0m12 0h0"/><path stroke="#0064ea" d="M1384 691h0m-20 1h0m7 4h0m6 2h0m-38 17h0m32 0h0m13 4h0m16 1h0m3 6h0m8 3h0m-16 1h0m-51 3h0m80 0h0m-35 6h0m-18 5h0m65 0h0m-35 5h0m30 3h0m-49 1h0m92 1h0m-19 4h0m-60 8h0m-27 1h0m37 0h0m41 5h0m3 4h0m34 1h0m-26 3h0m10 2h0m-8 3h0m-9 11h0m-89 3h0m48 1h0m-17 1h0m3 3h0m-8 5h0"/><path stroke="#00b6ef" d="M1350 687h0m-17 1h0m26 9h0m19 4h0m23 0h0m7 6h0m-46 3h0m6 1h0m17 0h0m10 0h0m-34 5h0m15 0h0m20 5h0m23 3h0m-71 6h0m15 1h0m52 3h0m-41 4h0m48 0h0m11 1h0m-78 4h0m44 0h0m-9 4h0m44 0h0m-39 1h0m-19 4h0m-17 1h0m55 0h0m-68 4h0m44 0h0m-40 5h0m83 5h0m25 4h0m-27 1h0m-8 3h0m-74 5h0m5 1h0m30 5h0m65 1h0m18 3h0m-123 1h0m37 0h0m34 0h0m4 0h0m51 3h0m-89 5h0m49 1h0m-10 1h0m39 3h0m-21 1h0m9 3h0m-49 1h0m80 0h0m-25 1h0m23 3h0"/><path stroke="#00e5cf" d="M1353 682h0m11 14h0m7 10h0m-32 1h0m19 4h0m21 8h0m27 11h0m-40 5h0m28 4h0m12 0h0m9 5h0m-68 5h0m45 3h0m10 0h0m7 1h0m-15 4h0m34 0h0m-59 1h0m43 0h0m-73 4h0m74 0h0m40 0h0m-109 1h0m49 0h0m-33 9h0m103 0h0m-116 4h0m-5 1h0m77 3h0m44 0h0m9 5h0m-10 5h0m-102 1h0m10 0h0m85 3h0m-44 2h0m4 3h0m26 1h0m0 8h0m26 0h0m-6 5h0"/><path stroke="#00e481" d="M1417 701h0m-61 6h0m10 8h0m2 6h0m-13 4h0m42 0h0m-12 4h0m-27 9h0m26 2h0m22 8h0m-73 4h0m25 5h0m5 0h0m58 1h0m-62 3h0m44 10h0m-27 2h0m26 4h0m3 0h0m35 3h0m-37 1h0m-3 4h0m65 0h0m16 1h0m-65 8h0m12 1h0m32 0h0m-89 4h0m103 0h0m-130 1h0m118 0h0m-45 4h0m-36 5h0m38 0h0m-62 4h0"/><path stroke="#00e138" d="M1358 683h0m31 18h0m34 11h0m-50 9h0m19 3h0m33 1h0m-23 4h0m-13 1h0m-37 8h0m64 0h0m-68 5h0m12 0h0m21 0h0m-5 1h0m41 4h0m-52 6h0m51 3h0m-50 4h0m59 0h0m-38 2h0m2 3h0m90 6h0m-112 5h0m-23 5h0m33 7h0m9 2h0m-34 3h0m32 1h0m17 10h0"/><path stroke="#02de00" d="M1345 687h0m-10 14h0m38 1h0m-21 9h0m22 0h0m8 5h0m-19 22h0m-26 11h0m33 4h0m32 10h0m-45 3h0m59 0h0m-32 2h0m91 9h0m-70 9h0m-13 4h0m-12 4h0m-41 5h0m51 5h0m-43 1h0m76 0h0m-58 4h0m38 0h0"/><path stroke="#0be000" d="M1347 692h0m10 0h0m56 34h0m-60 4h0m40 4h0m49 20h0m28 23h0m-81 8h0m-32 11h0m11 7h0"/><path stroke="#15e200" d="M1359 734h0m6 10h0m-31 29h0m99 13h0m-32 9h0m-46 14h0m6 0h0m87 4h0"/><path stroke="#1ee400" d="M1339 687h0m-6 10h0m9 42h0m13 13h0m77 25h0m-57 9h0m-27 10h0"/><path stroke="#96eb00" d="M1350 715h0m-14 14h0m22 75h0"/><path stroke="#fae500" d="M1341 692h0m9 33h0m74 28h0m-61 24h0m-24 14h0"/><path stroke="#fda800" d="M1351 785h0m28 19h0"/><path stroke="#ff6600" d="M1347 738h0m-7 11h0"/><path stroke="#ff1c00" d="M1342 683h0m23 41h0m-15 84h0m-17 1h0"/><path stroke="#ff1500" d="M1352 691h0m-13 5h0m9 9h0m-9 19h0m-6 2h0m6 17h0m12 15h0m-4 28h0"/></g><g transform="scale(0.5)" fill="none" stroke-linecap="round" stroke-width="6.2"><path stroke="#ff1500" d="M1309 814h0m204 0h0m20 0h0m-302 1h0m58 0h0m46 0h0m5 0h0m48 0h0m52 0h0m4 0h0m15 0h0m28 0h0m31 0h0m29 0h0m6 0h0m28 0h0m-417 1h0m16 0h0m145 0h0m73 0h0m191 0h0m-417 3h0m37 0h0m140 0h0m62 0h0m40 0h0m7 0h0m78 0h0m62 0h0m32 0h0m-443 1h0m47 0h0m41 0h0m27 0h0m83 0h0m36 0h0m120 0h0m4 0h0m74 0h0m-389 1h0m159 0h0m5 0h0m96 0h0m14 0h0m6 0h0m10 0h0m-336 2h0m94 0h0m-109 1h0m5 0h0m93 0h0m57 0h0m36 0h0m11 0h0m38 0h0m30 0h0m73 0h0m69 0h0m10 0h0m-426 1h0m35 0h0m26 0h0m110 0h0m10 0h0m30 0h0m7 0h0m20 0h0m22 0h0m10 0h0m102 0h0m47 0h0m12 0h0m30 0h0m-453 3h0m24 0h0m16 0h0m17 0h0m92 0h0m36 0h0m16 0h0m10 0h0m37 0h0m20 0h0m44 0h0m57 0h0m-241 1h0m33 0h0m73 0h0m30 0h0m110 0h0m10 0h0m62 0h0m-410 1h0m139 0h0m48 0h0m62 0h0m119 0h0m10 0h0m-313 2h0m30 0h0m105 0h0m72 0h0m131 0h0m-328 1h0m16 0h0m35 0h0m57 0h0m6 0h0m35 0h0m7 0h0m56 0h0m58 0h0m63 0h0m-411 1h0m26 0h0m47 0h0m35 0h0m12 0h0m40 0h0m15 0h0m47 0h0m31 0h0m74 0h0m56 0h0m43 0h0m-444 3h0m83 0h0m4 0h0m21 0h0m47 0h0m120 0h0m114 0h0m6 0h0m15 0h0m-431 1h0m26 0h0m52 0h0m19 0h0m16 0h0m27 0h0m31 0h0m21 0h0m52 0h0m11 0h0m9 0h0m7 0h0m10 0h0m45 0h0m18 0h0m25 0h0m20 0h0m15 0h0m48 0h0m-407 1h0m105 0h0m15 0h0m23 0h0m171 0h0m-270 3h0m22 0h0m42 0h0m32 0h0m8 0h0m12 0h0m42 0h0m20 0h0m25 0h0m11 0h0m16 0h0m11 0h0m15 0h0m36 0h0m21 0h0m15 0h0m28 0h0m4 0h0m17 0h0m8 0h0m-477 1h0m6 0h0m61 0h0m11 0h0m166 0h0m82 0h0m43 0h0m-362 3h0m21 0h0m31 0h0m109 0h0m5 0h0m91 0h0m14 0h0m53 0h0m66 0h0m36 0h0m32 0h0m-411 1h0m16 0h0m67 0h0m16 0h0m6 0h0m63 0h0m8 0h0m38 0h0m6 0h0m20 0h0m156 0h0m-411 1h0m217 0h0m136 0h0m16 0h0m-233 2h0m231 0h0m30 0h0m32 0h0m-431 1h0m14 0h0m33 0h0m25 0h0m5 0h0m52 0h0m37 0h0m77 0h0m38 0h0m8 0h0m22 0h0m52 0h0m62 0h0m-415 1h0m50 0h0m85 0h0m4 0h0m12 0h0m35 0h0m27 0h0m37 0h0m4 0h0m73 0h0m36 0h0m49 0h0m-411 3h0m48 0h0m62 0h0m33 0h0m31 0h0m56 0h0m136 0h0m63 0h0m-474 1h0m4 0h0m17 0h0m19 0h0m43 0h0m61 0h0m23 0h0m39 0h0m64 0h0m46 0h0m11 0h0m16 0h0m88 0h0m10 0h0m5 0h0m5 0h0m-441 1h0m89 0h0m20 0h0m110 0h0m67 0h0m5 0h0m89 0h0m-62 8h0m-56 3h0m-113 2h0m9 0h0m23 3h0m-5 1h0m13 23h0"/><path stroke="#ff1c00" d="M1492 815h0m-288 1h0m233 5h0m71 3h0m-151 1h0m275 0h0m-253 13h0m-4 62h0"/><path stroke="#ff6600" d="M1626 814h0m-161 2h0m73 0h0m-256 4h0m228 8h0m9 1h0m-68 4h0m-166 5h0m-17 3h0m68 1h0"/><path stroke="#fda800" d="M1201 815h0m280 1h0m-315 3h0m124 10h0m161 0h0m54 9h0m129 0h0m2 4h0m-138 4h0m107 5h0m-214 4h0m-110 1h0m200 5h0m-6 7h0m-174 5h0"/><path stroke="#fae500" d="M1294 816h0m-56 7h0m26 5h0m203 0h0m-76 1h0m195 4h0m-45 5h0m-194 4h0m249 0h0m-305 4h0m88 1h0m-158 4h0m329 1h0m-3 4h0"/><path stroke="#96eb00" d="M1220 814h0m391 1h0m-343 1h0m51 0h0m26 0h0m277 0h0m-420 4h0m314 3h0m125 0h0m-474 5h0m370 0h0m15 0h0m-368 6h0m-6 8h0m276 0h0m-66 1h0m163 4h0m-20 1h0m-155 2h0m-5 1h0"/><path stroke="#1ee400" d="M1253 815h0m203 0h0m180 0h0m-357 1h0m192 0h0m106 3h0m58 0h0m-121 1h0m-300 1h0m264 0h0m-198 9h0m12 7h0m-68 1h0m87 9h0m33 1h0m164 4h0m-18 3h0m93 1h0m-56 3h0m-229 10h0m51 14h0m22 4h0m-2 13h0"/><path stroke="#15e200" d="M1255 819h0m-39 4h0m150 1h0m54 8h0m99 5h0m-311 1h0m167 0h0m-34 4h0m173 4h0m-58 6h0"/><path stroke="#0be000" d="M1303 825h0m182 0h0m127 3h0m-232 2h0m-151 8h0m177 1h0m-192 8h0m155 0h0m-55 5h0m46 3h0m191 0h0m-187 1h0m104 9h0m-122 3h0m115 2h0"/><path stroke="#02de00" d="M1609 820h0m-147 8h0m-149 1h0m203 0h0m-99 1h0m74 3h0m52 0h0m-222 1h0m103 9h0m115 0h0m42 0h0m-284 4h0m150 0h0m73 0h0m104 1h0m-71 2h0m-131 6h0m74 13h0m-121 13h0"/><path stroke="#00e138" d="M1283 814h0m94 0h0m-200 5h0m68 0h0m73 1h0m-30 4h0m181 1h0m-112 9h0m57 17h0m65 5h0m-161 1h0m32 4h0m189 0h0m-82 3h0m-88 1h0m119 0h0m59 4h0m-144 1h0m-36 16h0"/><path stroke="#00e481" d="M1383 815h0m10 1h0m-102 4h0m267 4h0m-364 10h0m318 0h0m-23 3h0m-226 5h0m131 0h0m10 10h0m122 3h0m-263 5h0m-15 1h0m52 3h0m107 0h0m67 0h0m5 0h0m-136 1h0m198 0h0m-166 1h0m-122 2h0m180 0h0m47 0h0m-49 5h0m79 0h0m-146 2h0m0 27h0"/><path stroke="#00e5cf" d="M1211 815h0m161 0h0m41 0h0m-11 14h0m136 4h0m31 0h0m-352 4h0m236 0h0m-200 5h0m315 4h0m-82 5h0m-187 1h0m-74 3h0m72 2h0m188 2h0m-217 1h0m192 1h0m4 0h0m-168 4h0m249 0h0m-195 3h0m115 1h0m43 0h0m-241 1h0m110 0h0m97 3h0m-105 9h0m-11 9h0"/><path stroke="#00b6ef" d="M1333 819h0m306 1h0m-365 4h0m293 6h0m-238 4h0m-96 4h0m241 9h0m-180 4h0m-24 5h0m292 0h0m-185 4h0m125 0h0m-225 1h0m64 0h0m43 3h0m151 0h0m-223 1h0m132 3h0m-141 1h0m234 0h0m-204 4h0m46 10h0m-23 13h0m22 9h0"/><path stroke="#0064ea" d="M1419 814h0m103 2h0m-257 4h0m196 4h0m93 1h0m-37 27h0m-103 7h0m-69 1h0m47 0h0m130 0h0m-197 1h0m109 0h0m-164 3h0m89 0h0m125 2h0m-195 2h0m-16 1h0m41 0h0m27 0h0m-58 1h0m125 0h0m-95 3h0m78 0h0m99 0h0m57 0h0m-195 5h0m0 8h0m-4 5h0"/><path stroke="#0022de" d="M1449 816h0m53 7h0m-243 2h0m144 8h0m97 6h0m-60 13h0m-58 7h0m-62 1h0m16 0h0m109 0h0m-172 1h0m25 0h0m208 0h0m-174 3h0m80 0h0m107 0h0m-211 1h0m46 1h0m96 3h0m-193 1h0m167 0h0m-102 3h0m15 0h0m168 0h0m-143 5h0m-1 10h0m9 3h0m-16 11h0m19 3h0"/><path stroke="#070cd4" d="M1449 843h0m-161 16h0m85 0h0m-63 1h0m4 0h0m15 0h0m101 0h0m124 0h0m-226 4h0m92 0h0m79 0h0m52 2h0m-180 2h0m158 1h0m4 1h0m-133 3h0m-26 19h0m-8 13h0"/><path stroke="#2d12c9" d="M1282 861h0"/><path stroke="#2d12c9" d="M1391 864h0m56 1h0m96 4h0m12 0h0m-189 1h0"/><path stroke="#070cd4" d="M1366 859h0m74 0h0m104 0h0m-12 1h0m-215 4h0m213 0h0m-102 1h0m85 4h0m5 0h0m-130 1h0m-18 3h0m-4 5h0m12 9h0m-20 13h0"/><path stroke="#0022de" d="M1424 816h0m43 9h0m-242 8h0m252 0h0m123 1h0m23 4h0m-86 10h0m-87 3h0m-114 1h0m181 7h0m-20 1h0m-95 1h0m22 0h0m-102 3h0m57 0h0m52 0h0m94 0h0m-270 1h0m10 1h0m11 0h0m81 4h0m-107 3h0m129 18h0"/><path stroke="#0064ea" d="M1247 815h0m28 13h0m196 5h0m-168 4h0m97 0h0m-161 2h0m92 3h0m76 9h0m-38 4h0m-112 4h0m194 1h0m-198 1h0m165 0h0m-131 3h0m150 0h0m6 0h0m-192 1h0m43 5h0m192 0h0m36 0h0m-148 3h0m145 0h0m-148 5h0m7 1h0m-19 3h0m-3 6h0m6 17h0"/><path stroke="#00b6ef" d="M1296 819h0m194 5h0m-194 4h0m192 0h0m-3 6h0m-117 3h0m110 2h0m-272 3h0m67 0h0m92 4h0m-61 4h0m-12 7h0m13 3h0m44 4h0m156 1h0m-15 4h0m-43 4h0m-91 5h0m8 6h0m-12 12h0m-5 5h0"/><path stroke="#00e5cf" d="M1350 816h0m-157 3h0m130 18h0m286 0h0m-50 5h0m32 0h0m-320 4h0m10 0h0m47 9h0m71 4h0m-3 5h0m21 0h0m97 0h0m-254 1h0m21 0h0m81 5h0m30 0h0m5 0h0m105 0h0m-106 3h0m15 0h0m-57 10h0"/><path stroke="#00e481" d="M1502 816h0m-18 4h0m-163 3h0m-75 2h0m336 4h0m-358 1h0m232 8h0m62 4h0m-198 9h0m-136 1h0m13 4h0m215 0h0m-119 5h0m162 0h0m58 0h0m-149 3h0m35 0h0m112 0h0m-240 9h0m57 0h0m26 18h0m11 0h0"/><path stroke="#00e138" d="M1242 816h0m163 4h0m26 0h0m-61 1h0m45 0h0m-75 3h0m52 1h0m-49 3h0m150 0h0m147 1h0m-430 4h0m67 14h0m51 0h0m182 0h0m-149 13h0m109 0h0m-62 1h0m-69 4h0m-61 3h0m52 0h0m-11 1h0m95 0h0m-43 28h0"/><path stroke="#02de00" d="M1508 816h0m-181 3h0m199 1h0m-244 3h0m-82 11h0m147 0h0m241 5h0m-398 3h0m37 0h0m190 4h0m201 0h0m-375 1h0m67 4h0m38 23h0m8 31h0"/><path stroke="#0be000" d="M1227 816h0m80 3h0m57 0h0m-154 5h0m424 5h0m-103 1h0m-7 4h0m-98 3h0m49 4h0m-192 1h0m257 4h0m-302 5h0m356 0h0m-207 9h0m75 5h0m-215 4h0m183 0h0m-120 1h0"/><path stroke="#15e200" d="M1368 814h0m-194 1h0m100 1h0m-84 9h0m325 12h0m-149 5h0m103 6h0m-237 3h0m93 1h0m95 18h0m-58 26h0"/><path stroke="#1ee400" d="M1571 820h0m-329 4h0m213 0h0m-45 4h0m-45 1h0m-97 3h0m187 1h0m150 1h0m-276 4h0m-5 3h0m-18 6h0m101 0h0m3 0h0m-53 4h0m-90 1h0m232 3h0m-156 1h0m-51 9h0m160 8h0"/><path stroke="#96eb00" d="M1379 820h0m115 0h0m109 1h0m-233 8h0m-107 5h0m-91 4h0m212 0h0m97 4h0m-296 1h0m435 0h0m-131 3h0m-310 5h0m123 5h0m151 1h0"/><path stroke="#fae500" d="M1544 815h0m-185 4h0m172 0h0m-102 4h0m-224 1h0m45 4h0m177 0h0m47 0h0m89 1h0m-59 1h0m76 4h0m-14 3h0m-125 1h0m-233 9h0m17 4h0m64 0h0m-61 6h0m303 0h0m-268 11h0m193 0h0"/><path stroke="#fda800" d="M1168 815h0m406 1h0m-288 12h0m52 1h0m140 0h0m-260 1h0m306 0h0m-236 2h0m287 0h0m55 5h0m-231 4h0m129 1h0m-6 1h0m4 4h0m-98 4h0"/><path stroke="#ff6600" d="M1237 815h0m238 0h0m-75 5h0m206 3h0m-78 1h0m21 0h0m-195 4h0m110 5h0m-49 5h0m53 0h0m-179 4h0m114 0h0m161 0h0m-86 5h0m-46 8h0m-197 1h0m104 0h0m41 0h0"/><path stroke="#ff1c00" d="M1560 816h0m-31 16h0m-63 10h0m160 0h0m-365 5h0m243 0h0m-265 1h0m304 3h0m94 0h0m-463 1h0m385 0h0m-43 3h0m-165 50h0"/><path stroke="#ff1500" d="M1184 814h0m6 0h0m113 0h0m52 0h0m-160 1h0m21 0h0m47 0h0m52 0h0m93 0h0m22 0h0m4 0h0m62 0h0m68 0h0m6 0h0m25 0h0m5 0h0m6 0h0m10 0h0m16 0h0m-374 1h0m42 0h0m30 0h0m32 0h0m41 0h0m124 0h0m58 0h0m-387 3h0m20 0h0m42 0h0m25 0h0m53 0h0m105 0h0m4 0h0m15 0h0m6 0h0m6 0h0m26 0h0m66 0h0m22 0h0m25 0h0m-432 1h0m89 0h0m43 0h0m8 0h0m23 0h0m10 0h0m22 0h0m50 0h0m124 0h0m12 0h0m21 0h0m42 0h0m-401 1h0m15 0h0m12 0h0m305 0h0m36 0h0m-361 2h0m22 0h0m42 0h0m35 0h0m120 0h0m30 0h0m-300 1h0m15 0h0m26 0h0m42 0h0m35 0h0m11 0h0m79 0h0m31 0h0m78 0h0m36 0h0m10 0h0m57 0h0m12 0h0m26 0h0m-325 1h0m38 0h0m46 0h0m18 0h0m31 0h0m29 0h0m48 0h0m41 0h0m4 0h0m8 0h0m39 0h0m7 0h0m-446 3h0m6 0h0m6 0h0m51 0h0m5 0h0m62 0h0m287 0h0m-400 1h0m11 0h0m30 0h0m21 0h0m5 0h0m10 0h0m47 0h0m11 0h0m103 0h0m141 0h0m25 0h0m10 0h0m16 0h0m7 0h0m-183 1h0m52 0h0m104 0h0m-428 2h0m72 0h0m5 0h0m88 0h0m-170 1h0m10 0h0m10 0h0m31 0h0m22 0h0m51 0h0m57 0h0m20 0h0m6 0h0m47 0h0m136 0h0m61 0h0m17 0h0m-473 1h0m50 0h0m22 0h0m20 0h0m52 0h0m52 0h0m25 0h0m28 0h0m31 0h0m56 0h0m7 0h0m11 0h0m30 0h0m15 0h0m31 0h0m32 0h0m-449 3h0m21 0h0m4 0h0m47 0h0m99 0h0m15 0h0m32 0h0m78 0h0m87 0h0m52 0h0m26 0h0m-458 1h0m74 0h0m6 0h0m50 0h0m173 0h0m47 0h0m14 0h0m6 0h0m41 0h0m10 0h0m-212 1h0m118 2h0m47 0h0m19 0h0m27 0h0m-427 1h0m26 0h0m36 0h0m68 0h0m6 0h0m4 0h0m41 0h0m26 0h0m37 0h0m27 0h0m-250 1h0m16 0h0m4 0h0m7 0h0m25 0h0m46 0h0m6 0h0m78 0h0m52 0h0m10 0h0m62 0h0m42 0h0m64 0h0m-439 3h0m8 0h0m22 0h0m50 0h0m107 0h0m46 0h0m51 0h0m130 0h0m5 0h0m5 0h0m17 0h0m-426 1h0m3 0h0m42 0h0m37 0h0m21 0h0m63 0h0m41 0h0m73 0h0m20 0h0m63 0h0m31 0h0m26 0h0m-348 1h0m103 0h0m16 0h0m260 0h0m4 0h0m-443 2h0m11 0h0m177 0h0m234 0h0m-448 1h0m82 0h0m7 0h0m130 0h0m5 0h0m26 0h0m16 0h0m36 0h0m25 0h0m36 0h0m58 0h0m-427 1h0m27 0h0m51 0h0m42 0h0m193 0h0m25 0h0m21 0h0m7 0h0m51 0h0m5 0h0m26 0h0m-392 3h0m20 0h0m4 0h0m13 0h0m19 0h0m72 0h0m52 0h0m49 0h0m24 0h0m63 0h0m53 0h0m35 0h0m6 0h0m6 0h0m-443 1h0m10 0h0m106 0h0m107 0h0m12 0h0m30 0h0m62 0h0m48 0h0m6 0h0m19 0h0m10 0h0m-421 1h0m226 0h0m97 0h0m36 0h0m-184 4h0m120 0h0m17 0h0m56 0h0m-95 5h0m16 3h0m-87 1h0m-6 26h0"/></g><path d="M928.4 334.1H1001.7L1006.7 339.1V406H928.4Z" fill="#2e16c8"/><rect x="845" y="407.7" width="238" height="20.3" fill="#0a3ccc"/><rect x="886.3" y="426.7" width="153.6" height="9.3" fill="#0a30cc"/><g transform="scale(0.5)" fill="none" stroke-linecap="round" stroke-width="6.5"><path stroke="#ff1500" d="M1864 749h0m-1 14h0m5 45h0m-6 1h0m11 0h0"/><path stroke="#ff1c00" d="M1879 770h0"/><path stroke="#fda800" d="M1878 734h0"/><path stroke="#fae500" d="M1892 765h0m-32 21h0"/><path stroke="#96eb00" d="M1878 781h0"/><path stroke="#1ee400" d="M1862 744h0m24 4h0m-25 28h0m52 10h0m-42 9h0m59 8h0"/><path stroke="#15e200" d="M1867 715h0m3 33h0m16 10h0m37 17h0"/><path stroke="#0be000" d="M1875 765h0"/><path stroke="#02de00" d="M1920 766h0m-7 1h0m-27 8h0m28 2h0m-3 22h0m7 5h0m18 8h0"/><path stroke="#00e138" d="M1900 753h0m11 28h0m-20 22h0"/><path stroke="#00e481" d="M1869 724h0m9 29h0m12 0h0m-25 13h0m46 6h0m-2 4h0m-8 4h0m5 10h0m-35 13h0m65 1h0"/><path stroke="#00e5cf" d="M1893 757h0m2 6h0m-8 4h0m2 5h0m-8 4h0m-8 4h0m10 0h0m0 9h0m27 0h0m22 1h0m-25 3h0m12 1h0m-12 9h0m-13 6h0m4 4h0"/><path stroke="#00b6ef" d="M1878 725h0m-19 5h0m5 0h0m4 4h0m15 9h0m12 0h0m-2 4h0m1 4h0m-23 5h0m38 0h0m-5 6h0m-23 5h0m23 9h0m-15 5h0m49 0h0m-72 4h0m31 0h0m5 1h0m-36 9h0m11 0h0m37 8h0m26 0h0m-12 5h0m-28 1h0m5 0h0m46 4h0"/><path stroke="#0064ea" d="M1862 724h0m27 9h0m-21 9h0m22 1h0m-17 10h0m10 0h0m22 0h0m-16 10h0m33 0h0m-25 4h0m3 4h0m-36 5h0m6 0h0m21 0h0m42 5h0m-54 9h0m10 0h0m24 5h0m-7 4h0m-21 1h0m2 4h0m34 4h0m-11 1h0m-7 4h0"/><path stroke="#0022de" d="M1865 719h0m11 10h0m10 10h0m27 18h0m5 0h0m-8 4h0m16 0h0m-11 1h0m-14 1h0m16 8h0m13 4h0m-32 1h0m-4 4h0m46 4h0m-42 9h0m51 6h0m-69 5h0m23 0h0m29 4h0"/><path stroke="#070cd4" d="M1860 692h0m4 0h0m1 10h0m-1 9h0m6 8h0m6 0h0m8 14h0m9 5h0m11 1h0m2 3h0m-3 5h0m8 5h0m25 14h0m1 5h0m9 15h0m6 9h0"/><path stroke="#2d12c9" d="M1885 672h0m33 0h0m22 0h0m23 0h0m-103 1h0m38 0h0m16 0h0m32 0h0m22 0h0m4 0h0m12 0h0m4 0h0m6 0h0m6 0h0m5 0h0m-74 1h0m-25 3h0m16 0h0m10 0h0m21 0h0m27 0h0m-117 1h0m25 0h0m28 0h0m48 0h0m7 0h0m5 0h0m15 0h0m18 0h0m-66 1h0m-41 2h0m-43 1h0m49 0h0m27 0h0m39 0h0m37 0h0m-146 1h0m6 0h0m48 0h0m6 0h0m27 0h0m10 0h0m5 0h0m27 0h0m6 0h0m-138 3h0m26 0h0m49 0h0m50 0h0m-119 1h0m128 0h0m13 0h0m-130 1h0m42 0h0m27 0h0m16 0h0m-62 3h0m44 0h0m49 0h0m-87 1h0m23 0h0m-39 1h0m21 0h0m22 0h0m38 0h0m-84 2h0m27 1h0m28 0h0m10 0h0m28 0h0m4 0h0m-102 1h0m22 0h0m21 0h0m43 0h0m28 0h0m-116 3h0m6 0h0m4 0h0m82 0h0m-98 1h0m32 0h0m17 0h0m21 0h0m21 0h0m17 0h0m6 0h0m5 0h0m-82 1h0m6 0h0m10 0h0m27 0h0m-84 3h0m23 0h0m42 0h0m23 0h0m20 0h0m12 0h0m11 0h0m-113 1h0m10 0h0m53 0h0m12 0h0m6 0h0m5 0h0m32 0h0m-21 1h0m19 3h0m-119 1h0m31 0h0m12 0h0m22 0h0m4 0h0m12 0h0m26 0h0m16 0h0m-133 3h0m13 0h0m54 1h0m26 0h0m-87 1h0m55 0h0m21 0h0m22 0h0m-83 3h0m43 0h0m47 0h0m18 0h0m-124 1h0m10 0h0m11 0h0m11 0h0m42 0h0m5 0h0m6 0h0m-84 3h0m17 0h0m23 1h0m48 0h0m37 0h0m-120 1h0m29 0h0m10 0h0m39 0h0m36 0h0m-116 3h0m60 0h0m16 0h0m23 0h0m-93 1h0m21 0h0m6 0h0m33 0h0m14 0h0m23 0h0m5 0h0m7 0h0m9 0h0m-113 1h0m61 0h0m-42 3h0m5 0h0m50 0h0m4 0h0m-75 1h0m37 0h0m44 0h0m12 0h0m-28 1h0m38 0h0m-89 2h0m38 0h0m26 0h0m-58 1h0m4 0h0m17 0h0m58 0h0m-91 1h0m27 0h0m10 0h0m28 0h0m22 0h0m11 0h0m-63 3h0m-27 1h0m82 0h0m-86 1h0m9 0h0m33 0h0m27 0h0m-56 3h0m11 0h0m16 0h0m4 0h0m21 0h0m7 0h0m5 0h0m6 0h0m5 0h0m-38 1h0m-47 4h0m11 0h0m18 0h0m53 0h0m5 0h0m7 0h0m-76 1h0m37 0h0m22 0h0m-46 3h0m11 1h0m11 0h0m37 0h0m-42 1h0m-31 3h0m5 0h0m29 0h0m32 0h0m-18 1h0m11 0h0m-42 1h0m21 0h0m-8 3h0m22 0h0m5 0h0m11 0h0m-54 1h0m4 0h0m61 0h0m-62 3h0m16 1h0m16 0h0m5 0h0m6 0h0m5 1h0m-41 4h0m10 0h0m6 0h0m11 0h0m11 0h0m-42 1h0m-3 3h0m60 0h0m-55 1h0m12 0h0m4 0h0m12 0h0m15 0h0m7 0h0m-53 3h0m33 0h0m-22 1h0m5 0h0m5 0h0m23 1h0m-41 3h0m11 0h0m10 0h0m11 0h0m-16 1h0m-13 4h0m6 1h0m5 0h0m5 0h0m10 0h0m7 0h0m10 0h0m10 1h0m-13 3h0m6 0h0m5 0h0m-48 1h0m15 0h0m-13 4h0m11 0h0m17 0h0m4 1h0m-29 3h0m38 0h0m-34 1h0m7 0h0m21 0h0m-11 1h0m-3 2h0m-10 1h0m16 0h0"/><path stroke="#2d12c9" d="M1875 672h0m61 0h0m22 0h0m20 0h0m-113 1h0m5 0h0m22 0h0m11 0h0m6 0h0m43 0h0m-71 1h0m42 0h0m-12 2h0m-34 1h0m6 0h0m55 0h0m49 0h0m10 0h0m6 0h0m-135 1h0m5 0h0m22 0h0m4 0h0m61 0h0m-34 1h0m23 0h0m-35 2h0m90 0h0m-128 1h0m22 0h0m31 0h0m56 0h0m-103 1h0m3 0h0m7 0h0m48 0h0m5 0h0m12 0h0m22 0h0m10 0h0m-84 3h0m70 0h0m-102 1h0m21 0h0m16 0h0m33 0h0m10 0h0m17 0h0m11 0h0m11 0h0m11 0h0m-119 1h0m16 0h0m16 0h0m10 0h0m6 0h0m26 0h0m-82 3h0m11 0h0m36 0h0m28 0h0m6 0h0m5 0h0m6 0h0m11 0h0m9 0h0m11 0h0m6 0h0m-134 1h0m10 0h0m15 0h0m22 0h0m22 0h0m43 1h0m-73 2h0m-47 1h0m5 0h0m26 0h0m6 0h0m33 0h0m15 0h0m11 0h0m6 0h0m11 0h0m16 0h0m-118 1h0m3 0h0m44 0h0m16 0h0m66 0h0m5 0h0m-111 3h0m43 0h0m71 0h0m-140 1h0m65 0h0m42 0h0m22 0h0m5 0h0m-103 1h0m50 0h0m11 0h0m-96 3h0m11 0h0m5 0h0m50 0h0m63 0h0m-91 1h0m7 0h0m4 0h0m5 0h0m6 0h0m15 0h0m6 0h0m-55 3h0m10 0h0m-27 1h0m6 0h0m15 0h0m17 0h0m9 0h0m17 0h0m7 0h0m15 0h0m22 0h0m5 0h0m12 0h0m-93 1h0m28 0h0m38 0h0m4 0h0m-84 3h0m17 0h0m81 0h0m10 0h0m-102 1h0m5 0h0m17 0h0m6 0h0m5 0h0m15 0h0m7 0h0m10 0h0m10 0h0m21 0h0m11 0h0m-91 1h0m70 0h0m-99 3h0m65 0h0m20 0h0m11 0h0m-64 1h0m5 0h0m6 0h0m16 0h0m32 0h0m17 0h0m6 0h0m-93 1h0m27 0h0m-2 2h0m25 0h0m17 0h0m-81 1h0m16 0h0m34 0h0m37 0h0m4 0h0m7 0h0m-87 1h0m32 0h0m12 0h0m4 0h0m44 0h0m-95 3h0m7 1h0m14 0h0m7 0h0m6 0h0m4 0h0m33 0h0m32 0h0m-28 1h0m-72 3h0m6 0h0m22 0h0m26 0h0m37 0h0m-70 1h0m23 0h0m6 0h0m32 0h0m-43 1h0m65 0h0m-51 2h0m26 0h0m-22 1h0m6 0h0m21 0h0m-58 1h0m79 0h0m-61 3h0m26 0h0m-48 1h0m11 0h0m28 0h0m4 0h0m17 0h0m4 0h0m17 0h0m-77 1h0m29 0h0m42 0h0m-84 3h0m12 0h0m42 0h0m34 0h0m-94 1h0m28 0h0m5 0h0m23 0h0m-18 3h0m-29 1h0m33 0h0m5 0h0m16 0h0m10 0h0m-47 1h0m27 0h0m16 0h0m-45 4h0m38 0h0m5 0h0m4 0h0m5 0h0m12 0h0m10 0h0m-80 1h0m11 0h0m10 0h0m44 0h0m-35 3h0m15 0h0m27 0h0m-59 1h0m43 0h0m23 0h0m-54 1h0m-15 3h0m16 0h0m11 0h0m6 0h0m21 0h0m11 0h0m-27 1h0m-20 3h0m-15 1h0m11 0h0m22 0h0m27 0h0m-32 1h0m38 0h0m-48 3h0m16 0h0m23 0h0m-55 1h0m45 0h0m15 0h0m-46 4h0m17 1h0m10 0h0m7 0h0m-16 3h0m11 1h0m11 0h0m-43 1h0m48 0h0m-44 3h0m31 0h0m-43 1h0m32 0h0m17 0h0m5 0h0m6 0h0m-30 3h0m16 1h0m11 0h0m-24 5h0m-17 1h0m7 0h0m15 0h0m5 0h0m15 3h0m-27 1h0m5 0h0m-16 1h0m31 0h0m-7 3h0m-11 1h0m26 0h0"/><path stroke="#070cd4" d="M1861 709h0m10 2h0m2 3h0m0 11h0m21 9h0m3 5h0m3 3h0m8 6h0m17 8h0m3 16h0m7 3h0m5 0h0m2 5h0m-13 6h0m1 8h0m30 13h0"/><path stroke="#0022de" d="M1862 705h0m1 30h0m5 27h0m57 4h0m4 0h0m-44 4h0m36 1h0m6 9h0m-25 14h0m20 4h0m-28 1h0m43 0h0m-36 1h0m53 0h0m-8 4h0"/><path stroke="#0064ea" d="M1880 729h0m-18 23h0m5 1h0m31 4h0m6 0h0m-23 1h0m52 14h0m-33 17h0m43 0h0m-21 1h0m24 4h0m-50 9h0m55 1h0m-67 3h0m59 2h0m-1 3h0"/><path stroke="#00b6ef" d="M1871 730h0m2 12h0m6 1h0m-4 6h0m8 12h0m19 6h0m18 9h0m-39 8h0m11 1h0m43 0h0m2 4h0m-13 6h0m16 0h0m-8 3h0m10 0h0m-75 1h0m5 1h0m76 8h0m-10 1h0m15 1h0"/><path stroke="#00e5cf" d="M1897 748h0m-21 9h0m18 14h0m-26 1h0m38 0h0m-30 4h0m28 4h0m20 4h0m-54 1h0m7 0h0m5 8h0m54 2h0m-47 3h0m27 10h0"/><path stroke="#00e481" d="M1876 737h0m-8 43h0m49 1h0m-30 3h0m7 6h0m-34 4h0m65 9h0m32 1h0"/><path stroke="#00e138" d="M1881 747h0m-8 15h0m36 5h0m13 13h0m-4 6h0m9 4h0m-11 1h0m-24 4h0m-23 18h0"/><path stroke="#02de00" d="M1869 767h0m4 3h0m34 15h0m-45 14h0m28 11h0m-9 3h0"/><path stroke="#0be000" d="M1862 716h0m-2 4h0m8 70h0m48 10h0"/><path stroke="#15e200" d="M1926 800h0m-60 3h0m-1 9h0"/><path stroke="#1ee400" d="M1862 789h0m24 5h0m-8 6h0"/><path stroke="#96eb00" d="M1860 748h0"/><path stroke="#fae500" d="M1882 738h0m-17 20h0m13 3h0"/><path stroke="#fda800" d="M1873 733h0m-4 5h0"/><path stroke="#ff1c00" d="M1876 803h0"/><path stroke="#ff1500" d="M1860 737h0m5 2h0m-2 32h0m-1 9h0m10 10h0m6 19h0"/></g><g transform="scale(0.5)" fill="none" stroke-linecap="round" stroke-width="6.2"><path stroke="#ff1500" d="M1752 814h0m10 0h0m11 0h0m26 0h0m11 0h0m99 0h0m16 0h0m99 0h0m133 0h0m-467 1h0m188 0h0m129 0h0m110 0h0m-229 1h0m-158 3h0m14 0h0m95 0h0m41 0h0m42 0h0m14 0h0m26 0h0m157 0h0m21 0h0m-271 1h0m108 0h0m63 0h0m11 0h0m85 0h0m-383 3h0m82 0h0m32 0h0m83 0h0m123 0h0m38 0h0m10 0h0m-152 1h0m17 0h0m-21 1h0m172 0h0m-200 2h0m51 0h0m95 0h0m26 0h0m-412 1h0m21 0h0m78 0h0m202 0h0m101 0h0m19 0h0m-368 1h0m93 0h0m120 0h0m203 0h0m-102 2h0m-291 1h0m286 0h0m-368 1h0m20 0h0m89 0h0m190 0h0m111 0h0m-234 1h0m-175 2h0m20 0h0m91 1h0m15 0h0m151 0h0m10 0h0m67 0h0m47 0h0m22 0h0m8 0h0m18 0h0m-422 1h0m9 0h0m203 0h0m53 0h0m73 0h0m102 0h0m-423 3h0m192 0h0m26 0h0m132 0h0m-323 1h0m46 0h0m135 0h0m90 0h0m87 0h0m-120 1h0m63 0h0m62 0h0m-79 2h0m-250 1h0m149 0h0m11 0h0m-187 1h0m47 0h0m10 0h0m73 0h0m12 0h0m88 0h0m26 0h0m-274 3h0m5 0h0m26 0h0m126 0h0m113 0h0m73 0h0m-265 1h0m88 0h0m90 0h0m40 0h0m58 0h0m26 0h0m-424 3h0m5 1h0m37 0h0m120 0h0m249 0h0m37 0h0m-277 1h0m38 0h0m84 3h0m12 1h0m44 3h0m-70 7h0m18 3h0"/><path stroke="#ff1c00" d="M1995 818h0m82 1h0m-171 1h0m184 3h0m-346 6h0m63 0h0m65 4h0m285 1h0m-211 2h0m153 2h0m-216 13h0m252 5h0m15 0h0m-120 8h0"/><path stroke="#ff6600" d="M1886 818h0m-28 1h0m-133 1h0m303 4h0m-321 5h0m114 13h0m66 0h0m-96 3h0m59 6h0m-116 4h0"/><path stroke="#fda800" d="M1826 816h0m97 7h0m-104 1h0m-119 8h0m115 0h0m261 1h0m-326 3h0m172 10h0m-121 8h0m291 1h0m-321 1h0m77 0h0m72 0h0m87 12h0m-79 1h0"/><path stroke="#fae500" d="M1861 814h0m78 0h0m-157 4h0m240 5h0m-311 1h0m120 0h0m-104 1h0m251 3h0m-233 9h0m275 1h0m-44 4h0m-203 8h0m20 0h0m-31 1h0m240 1h0m-112 3h0m239 0h0m-203 1h0m151 0h0m21 0h0m-204 8h0m166 0h0"/><path stroke="#96eb00" d="M1882 815h0m278 3h0m-171 1h0m76 5h0m-232 4h0m5 0h0m-21 1h0m125 7h0m222 1h0m-408 1h0m125 3h0m70 1h0m202 0h0m-143 3h0m10 0h0m114 0h0m-290 1h0m223 0h0m-252 5h0m212 1h0m-299 3h0m167 0h0m130 9h0m-42 1h0m-86 3h0m132 0h0"/><path stroke="#1ee400" d="M1747 814h0m342 0h0m-115 6h0m-215 4h0m394 8h0m-117 6h0m-342 4h0m73 0h0m272 0h0m48 3h0m-274 1h0m202 1h0m-90 3h0m-63 1h0m4 0h0m-32 3h0m145 10h0m-98 5h0"/><path stroke="#15e200" d="M1831 814h0m72 1h0m125 0h0m84 0h0m43 4h0m-257 4h0m-118 4h0m349 1h0m-94 1h0m-149 3h0m276 2h0m-277 2h0m-187 1h0m342 0h0m78 0h0m39 6h0m-18 3h0m-85 4h0m-260 11h0"/><path stroke="#0be000" d="M2059 814h0m-292 1h0m159 3h0m22 1h0m-197 1h0m16 3h0m350 0h0m-187 9h0m-106 1h0m271 0h0m52 0h0m-448 8h0m396 0h0m-103 1h0m-266 1h0m418 3h0m-305 1h0m9 0h0m23 3h0m68 0h0m125 0h0m44 4h0m-312 1h0m231 4h0m-55 2h0m-15 3h0m3 6h0"/><path stroke="#02de00" d="M1757 815h0m161 0h0m135 0h0m106 9h0m-59 1h0m-299 3h0m192 0h0m-257 5h0m120 0h0m177 0h0m-166 9h0m67 1h0m79 0h0m-82 3h0m199 0h0m-171 4h0m109 1h0m-248 1h0m132 3h0m-33 4h0m101 5h0m-231 5h0"/><path stroke="#00e138" d="M1820 814h0m136 0h0m46 0h0m-266 1h0m249 0h0m-220 3h0m26 0h0m-36 1h0m157 0h0m-116 1h0m162 0h0m-107 3h0m-92 4h0m115 1h0m21 1h0m149 2h0m-182 1h0m-22 1h0m182 0h0m-104 1h0m7 2h0m-218 1h0m-5 1h0m206 3h0m-10 1h0m205 3h0m-356 5h0m202 1h0m-62 1h0m185 3h0m42 0h0m-255 1h0m-37 8h0m78 0h0m103 4h0m76 0h0m-213 1h0"/><path stroke="#00e481" d="M1929 815h0m87 4h0m56 0h0m-325 4h0m15 1h0m298 1h0m-332 2h0m122 0h0m154 2h0m-221 3h0m271 0h0m35 0h0m-347 1h0m139 0h0m199 1h0m-76 3h0m-114 9h0m37 0h0m42 0h0m156 0h0m-403 4h0m88 1h0m154 0h0m47 3h0m-23 1h0m59 0h0m-229 1h0m217 0h0m23 0h0m-14 3h0m21 0h0m-257 1h0m161 4h0m-140 4h0m-56 1h0m281 1h0m-180 2h0m161 1h0"/><path stroke="#00e5cf" d="M2148 814h0m-110 2h0m-86 2h0m-130 1h0m-113 1h0m51 0h0m87 0h0m-73 5h0m-10 2h0m12 1h0m152 0h0m-133 4h0m243 0h0m83 0h0m-390 1h0m32 0h0m-68 1h0m413 3h0m-206 1h0m93 0h0m-29 3h0m109 1h0m-221 3h0m254 0h0m-26 2h0m12 0h0m19 0h0m-414 4h0m-2 3h0m58 0h0m88 0h0m107 5h0m-143 4h0m198 0h0m-229 1h0m77 0h0m100 1h0m-49 3h0"/><path stroke="#00b6ef" d="M2075 814h0m78 0h0m-370 1h0m-82 1h0m-8 2h0m436 0h0m-353 1h0m-62 1h0m103 0h0m-74 3h0m62 0h0m308 5h0m48 0h0m-5 1h0m-399 3h0m136 2h0m-45 2h0m-5 1h0m209 0h0m97 0h0m-254 1h0m43 0h0m-60 4h0m45 0h0m-142 4h0m94 0h0m68 0h0m212 0h0m-178 4h0m-174 1h0m240 0h0m-319 5h0m113 0h0m303 0h0m-367 3h0m5 0h0m176 0h0m69 0h0m-182 1h0m207 1h0m-138 3h0m99 0h0m-9 1h0m-175 3h0m250 0h0m-276 1h0m155 1h0m35 2h0m-119 1h0m52 0h0m42 0h0"/><path stroke="#0064ea" d="M1788 813h0m5 1h0m-75 5h0m337 0h0m49 0h0m-66 4h0m-155 1h0m-95 1h0m132 0h0m-97 2h0m77 0h0m-186 2h0m342 0h0m-28 3h0m-215 6h0m324 3h0m-420 1h0m-24 5h0m453 3h0m-60 1h0m-142 1h0m-168 2h0m187 0h0m-177 2h0m67 0h0m307 0h0m-362 3h0m105 1h0m29 3h0m119 0h0m-129 1h0m-48 1h0m164 2h0m-233 2h0m119 0h0"/><path stroke="#0022de" d="M1950 814h0m214 0h0m-152 1h0m-122 4h0m251 4h0m-326 1h0m291 0h0m-14 5h0m51 3h0m-364 1h0m129 0h0m117 5h0m-335 2h0m20 2h0m450 3h0m-445 5h0m182 2h0m267 0h0m-399 3h0m286 0h0m93 0h0m-270 1h0m83 0h0m-115 8h0m7 0h0m-72 5h0m43 0h0m14 0h0m28 0h0m-28 4h0m207 0h0m36 0h0"/><path stroke="#070cd4" d="M2101 815h0m-362 4h0m-3 6h0m11 7h0m-58 18h0m297 1h0m118 4h0m-322 4h0m32 0h0m10 0h0m54 0h0m182 0h0m-214 1h0m52 0h0m176 0h0m-182 1h0m-66 2h0m-13 1h0m-17 1h0m14 3h0m222 0h0m-181 1h0m36 1h0m4 3h0m10 0h0"/><path stroke="#2d12c9" d="M1998 850h0m-125 9h0m60 2h0m145 2h0m-193 1h0m181 1h0m-255 7h0"/><path stroke="#2d12c9" d="M2086 823h0m76 18h0m-71 11h0m-225 9h0m-12 11h0m-48 1h0"/><path stroke="#070cd4" d="M1841 823h0m312 2h0m-362 12h0m64 1h0m-76 4h0m268 0h0m70 9h0m40 0h0m-354 8h0m47 0h0m12 0h0m68 0h0m-48 1h0m113 3h0m-131 2h0m6 0h0m19 0h0m60 3h0m-56 1h0m118 0h0m-161 3h0m122 0h0m-133 1h0"/><path stroke="#0022de" d="M1696 814h0m169 0h0m241 2h0m30 0h0m-330 3h0m291 1h0m-272 3h0m238 6h0m-160 2h0m-69 1h0m-69 5h0m278 4h0m-66 5h0m-250 5h0m40 0h0m23 8h0m46 0h0m21 0h0m151 0h0m-120 1h0m153 3h0m-203 1h0m-47 1h0m11 0h0m57 0h0m47 0h0m12 3h0m17 0h0m-64 1h0m194 0h0m5 0h0m-287 1h0m284 2h0m-203 1h0"/><path stroke="#0064ea" d="M1770 819h0m380 0h0m-447 1h0m106 3h0m260 0h0m25 0h0m33 0h0m-94 1h0m116 4h0m-217 1h0m149 7h0m6 0h0m-248 1h0m12 5h0m260 0h0m37 0h0m-416 1h0m154 2h0m-189 1h0m37 0h0m363 0h0m-218 1h0m85 0h0m147 3h0m10 0h0m-175 4h0m177 0h0m-362 2h0m175 0h0m132 0h0m-154 4h0m66 0h0m53 0h0m-215 4h0m16 0h0m107 0h0m94 0h0m-189 4h0m9 0h0m195 0h0m-256 1h0m20 0h0m98 0h0m148 0h0m-149 4h0m89 0h0"/><path stroke="#00b6ef" d="M1731 814h0m80 4h0m298 1h0m4 0h0m53 0h0m-339 1h0m191 3h0m6 5h0m-118 1h0m10 0h0m-148 3h0m176 0h0m16 0h0m36 0h0m-165 2h0m325 2h0m-418 1h0m278 1h0m-124 2h0m-150 2h0m128 4h0m46 0h0m-84 1h0m45 3h0m-36 1h0m73 0h0m-123 4h0m271 0h0m-78 1h0m-199 7h0m151 0h0m136 0h0m-124 1h0m66 0h0m31 0h0m-49 4h0m-155 1h0m125 0h0m-13 3h0"/><path stroke="#00e5cf" d="M1913 814h0m86 4h0m-30 1h0m67 1h0m-252 3h0m149 0h0m-24 1h0m-40 4h0m52 0h0m99 0h0m47 0h0m22 1h0m-133 3h0m159 0h0m23 0h0m-120 1h0m113 1h0m-350 3h0m88 1h0m-33 3h0m244 0h0m61 1h0m-385 5h0m-46 3h0m280 0h0m148 0h0m-235 1h0m-38 3h0m217 1h0m-343 1h0m236 4h0m10 0h0m85 0h0m9 0h0m-140 1h0m34 2h0m-95 5h0m67 2h0m46 0h0"/><path stroke="#00e481" d="M2132 814h0m-299 5h0m311 0h0m-290 1h0m77 0h0m29 3h0m37 1h0m51 0h0m-81 3h0m-15 1h0m119 1h0m-70 3h0m-168 4h0m-46 2h0m125 0h0m-138 3h0m-60 4h0m15 2h0m329 3h0m69 0h0m-395 1h0m58 0h0m65 0h0m184 0h0m36 0h0m-55 4h0m-189 4h0m92 1h0m37 0h0m-179 3h0m99 1h0m37 1h0m45 0h0m-53 3h0m133 1h0m-74 4h0"/><path stroke="#00e138" d="M2017 813h0m-47 1h0m-120 1h0m95 0h0m148 5h0m31 0h0m-263 4h0m42 0h0m53 0h0m-76 4h0m-165 5h0m291 1h0m7 0h0m-238 3h0m50 4h0m146 0h0m131 1h0m-358 3h0m193 1h0m-73 1h0m-158 3h0m289 5h0m58 4h0m-65 5h0m-11 5h0m-6 1h0m-185 2h0"/><path stroke="#02de00" d="M1707 814h0m135 0h0m202 0h0m51 2h0m-48 2h0m-245 1h0m141 0h0m-243 4h0m432 0h0m-411 1h0m294 3h0m-244 1h0m260 1h0m-185 4h0m140 0h0m82 0h0m77 3h0m-283 5h0m42 0h0m-109 1h0m-77 3h0m287 1h0m146 0h0m-219 10h0m82 0h0m-33 12h0"/><path stroke="#0be000" d="M1961 816h0m201 6h0m-467 2h0m35 0h0m211 4h0m6 0h0m-140 9h0m282 5h0m-287 4h0m56 0h0m34 4h0m207 1h0m-264 1h0m50 3h0m145 0h0m-32 4h0m-71 6h0m-152 8h0"/><path stroke="#15e200" d="M1741 813h0m193 1h0m-87 1h0m66 8h0m233 0h0m-171 2h0m-189 2h0m124 1h0m235 1h0m-336 3h0m190 6h0m73 0h0m-177 8h0m-156 1h0m413 3h0m-213 19h0m-159 3h0"/><path stroke="#1ee400" d="M2079 815h0m-383 4h0m38 0h0m138 4h0m20 1h0m-38 4h0m120 0h0m-169 5h0m160 0h0m-206 3h0m37 0h0m94 2h0m-168 3h0m123 1h0m95 0h0m-126 1h0m183 0h0m-91 3h0m170 1h0m-252 3h0m81 5h0m-93 1h0m10 0h0"/><path stroke="#96eb00" d="M1710 814h0m5 1h0m267 3h0m-65 1h0m102 0h0m-11 1h0m17 0h0m63 0h0m-224 8h0m-14 4h0m-128 1h0m136 4h0m101 4h0m94 0h0m-329 5h0m121 5h0m296 0h0m-53 3h0"/><path stroke="#fae500" d="M2086 813h0m-54 1h0m-228 1h0m260 0h0m79 0h0m-59 4h0m-43 8h0m5 1h0m-234 1h0m237 3h0m-278 4h0m291 0h0m-198 1h0m-130 1h0m19 4h0m78 0h0m162 5h0m-39 4h0m-10 8h0m118 14h0"/><path stroke="#fda800" d="M1998 814h0m-142 1h0m-12 3h0m30 2h0m-80 4h0m214 3h0m-217 1h0m167 1h0m145 8h0m-95 4h0m-209 1h0m6 0h0m-46 4h0m27 0h0m332 0h0m-61 1h0m-354 8h0m42 0h0m165 0h0m90 1h0m-181 4h0"/><path stroke="#ff6600" d="M1787 819h0m274 0h0m-234 8h0m59 0h0m98 2h0m-72 3h0m38 0h0m-74 2h0m45 3h0m156 0h0m-354 1h0m191 5h0m38 2h0m36 0h0m-293 6h0m384 0h0m-360 4h0m62 0h0m236 4h0m5 9h0"/><path stroke="#ff1c00" d="M2030 818h0m-144 5h0m115 0h0m78 1h0m45 4h0m-39 5h0m-170 3h0m-88 1h0m79 0h0m12 4h0m-160 1h0m30 0h0m283 3h0m-10 1h0m-352 1h0m309 5h0m-191 4h0"/><path stroke="#ff1500" d="M1721 814h0m56 0h0m37 0h0m151 0h0m10 0h0m5 0h0m12 0h0m57 0h0m71 0h0m-249 1h0m23 0h0m3 0h0m173 0h0m57 0h0m-401 1h0m110 0h0m59 3h0m-30 1h0m35 0h0m105 0h0m63 0h0m-87 2h0m10 0h0m-302 1h0m168 0h0m21 0h0m62 0h0m4 0h0m62 0h0m47 0h0m-349 1h0m12 0h0m130 0h0m83 0h0m115 0h0m-266 1h0m21 0h0m212 0h0m-309 2h0m158 0h0m217 0h0m26 0h0m32 0h0m-412 1h0m10 0h0m157 0h0m162 0h0m87 0h0m-445 1h0m45 0h0m16 0h0m180 2h0m193 0h0m-423 1h0m235 0h0m31 0h0m-246 1h0m27 0h0m67 0h0m162 0h0m130 0h0m-321 1h0m109 0h0m24 0h0m53 0h0m129 0h0m-96 2h0m-186 1h0m52 0h0m5 0h0m71 0h0m6 0h0m32 0h0m42 0h0m103 0h0m-172 1h0m12 0h0m93 0h0m62 0h0m-424 3h0m152 0h0m167 0h0m91 0h0m18 0h0m-386 1h0m36 0h0m57 0h0m141 0h0m6 0h0m41 0h0m42 0h0m-199 1h0m146 0h0m42 0h0m47 0h0m-330 2h0m198 0h0m56 0h0m10 0h0m-338 1h0m47 0h0m74 0h0m161 0h0m52 0h0m-271 1h0m42 0h0m244 0h0m114 0h0m-428 3h0m5 0h0m36 0h0m150 0h0m7 0h0m45 0h0m31 0h0m-40 1h0m63 0h0m-235 1h0m8 2h0m162 0h0m8 0h0m63 0h0m126 0h0m-192 1h0m-282 1h0m208 0h0m41 0h0m64 0h0m21 0h0m-35 3h0m47 0h0m-73 1h0m-58 1h0m110 9h0"/></g><circle cx="57.9" cy="437" r="1.1" fill="#1030d0"/><circle cx="72.1" cy="437" r="1.1" fill="#1080e0"/><circle cx="254.5" cy="437" r="1.1" fill="#1030d0"/><circle cx="269.5" cy="437" r="1.1" fill="#1030d0"/><circle cx="591.8" cy="437" r="0.9" fill="#2040e0"/><circle cx="796.7" cy="437" r="0.9" fill="#2040e0"/><circle cx="820.6" cy="437" r="0.9" fill="#2040e0"/><circle cx="825.2" cy="437" r="0.9" fill="#2040e0"/><circle cx="843.8" cy="439.3" r="0.9" fill="#00d0d0"/><circle cx="717.2" cy="208" r="1.1" fill="#00c8e8"/><circle cx="704" cy="236.6" r="0.9" fill="#2040d0"/><circle cx="971.3" cy="438.4" r="1.5" fill="#00d060"/><circle cx="974.2" cy="438.4" r="1.5" fill="#00c8d8"/><circle cx="977.2" cy="438.4" r="1.5" fill="#20d820"/><circle cx="980.2" cy="438.4" r="1.5" fill="#00b0e0"/><g stroke="#fff" stroke-linecap="round" stroke-dasharray="2.5 1.2 1.5 0.8 3 1.6" opacity="0.92" fill="none"><path d="M187.5 119L189.5 124" stroke-width="1.2"/><path d="M182 147L184 150.5" stroke-width="1.1"/><path d="M154 299L156 304.5" stroke-width="1.3"/><path d="M150.5 282L152 287" stroke-width="1"/><path d="M216 236L218 239" stroke-width="0.9"/><path d="M424.8 264L421.5 283" stroke-width="1.3"/><path d="M421.5 283L418.6 304" stroke-width="2.3"/><path d="M465.4 252.5L474 266" stroke-width="1.2"/><path d="M474 266L485 282" stroke-width="1.5"/><path d="M479.5 176L481 182" stroke-width="1.3"/><path d="M400.8 157.7L406.5 165.7" stroke-width="1"/><path d="M443.5 160L444.3 165" stroke-width="1.2"/><path d="M501.6 164.5L517.4 153.2" stroke-width="0.8"/><path d="M397 236L399 240" stroke-width="1"/><path d="M354 193L358 195" stroke-width="0.9"/><path d="M715.7 134L713.5 147" stroke-width="1.8"/><path d="M713.5 147L711.3 159" stroke-width="1.3"/><path d="M748.5 179.2L760 171.5" stroke-width="1.2"/><path d="M760 171.5L770.5 164.8" stroke-width="1"/><path d="M669 166.5L672 169.5" stroke-width="1.2"/><path d="M621.5 195L624 197.5" stroke-width="1"/><path d="M735 262.5L739 265.5" stroke-width="1.3"/><path d="M685.2 296L682.8 306.5" stroke-width="1.2"/><path d="M650 152L652 155" stroke-width="0.9"/><path d="M1006.2 181.5L1022 170" stroke-width="1.1"/><path d="M1022 170L1037 159.5" stroke-width="0.9"/><path d="M975.8 141.5L974.5 152.5" stroke-width="1.1"/><path d="M925.5 157.5L928.5 160.5" stroke-width="1"/><path d="M910 130.5L912.5 133" stroke-width="1"/><path d="M988 249.4L995 258.8" stroke-width="1.1"/><path d="M949.8 297L949.2 302" stroke-width="1.1"/><path d="M893 196L895 198" stroke-width="0.9"/><path d="M489.3 294.5l1.8-4.2 3.2 1.2-.6 4z" fill="#fff" stroke="none"/></g></g>
<svg x="0" y="585" width="569.5" height="340" viewBox="0 585 569.5 340"><rect x="158.3" y="600" width="406.8" height="286" fill="none" stroke="#cbcbcb" stroke-width="1.2"/><path d="M226.1 886v-4M226.1 600v4M293.9 886v-4M293.9 600v4M361.7 886v-4M361.7 600v4M429.5 886v-4M429.5 600v4M497.3 886v-4M497.3 600v4M158.3 743h4M565.1 743h-4" stroke="#cbcbcb" stroke-width="1.1" fill="none"/><text x="157.8" y="903.2" text-anchor="middle" font-size="14" font-family="'Liberation Serif',serif" font-weight="bold">20</text><text x="225.6" y="903.2" text-anchor="middle" font-size="14" font-family="'Liberation Serif',serif" font-weight="bold">30</text><text x="293.4" y="903.2" text-anchor="middle" font-size="14" font-family="'Liberation Serif',serif" font-weight="bold">40</text><text x="361.2" y="903.2" text-anchor="middle" font-size="14" font-family="'Liberation Serif',serif" font-weight="bold">50</text><text x="429" y="903.2" text-anchor="middle" font-size="14" font-family="'Liberation Serif',serif" font-weight="bold">60</text><text x="496.8" y="903.2" text-anchor="middle" font-size="14" font-family="'Liberation Serif',serif" font-weight="bold">70</text><text x="564.6" y="903.2" text-anchor="middle" font-size="14" font-family="'Liberation Serif',serif" font-weight="bold">80</text><text x="154.3" y="890.7" text-anchor="end" font-size="14" font-family="'Liberation Serif',serif" font-weight="bold">0.005</text><text x="154.3" y="747.7" text-anchor="end" font-size="14" font-family="'Liberation Serif',serif" font-weight="bold">0.01</text><text x="154.3" y="604.7" text-anchor="end" font-size="14" font-family="'Liberation Serif',serif" font-weight="bold">0.015</text><text x="361.2" y="920.8" text-anchor="middle" font-size="15.4" font-family="'Liberation Serif',serif" font-weight="bold">Turret speed [RPM]</text><text transform="translate(118.8 743.3) rotate(-90)" text-anchor="middle" font-size="15.2" font-family="'Liberation Serif',serif" font-weight="bold">Shear work [J]</text><polyline points="158.3,785.9 293.9,823.1 429.5,843.1 565.1,860.3" fill="none" stroke="#101010" stroke-width="1.15"/><circle cx="158.3" cy="785.9" r="3.4" fill="none" stroke="#101010" stroke-width="1.2"/><circle cx="293.9" cy="823.1" r="3.4" fill="none" stroke="#101010" stroke-width="1.2"/><circle cx="429.5" cy="843.1" r="3.4" fill="none" stroke="#101010" stroke-width="1.2"/><circle cx="565.1" cy="860.3" r="3.4" fill="none" stroke="#101010" stroke-width="1.2"/><polyline points="158.3,700.1 293.9,743.0 429.5,760.2 565.1,780.2" fill="none" stroke="#ff2020" stroke-width="1.15"/><circle cx="158.3" cy="700.1" r="3.4" fill="none" stroke="#ff2020" stroke-width="1.2"/><circle cx="293.9" cy="743.0" r="3.4" fill="none" stroke="#ff2020" stroke-width="1.2"/><circle cx="429.5" cy="760.2" r="3.4" fill="none" stroke="#ff2020" stroke-width="1.2"/><circle cx="565.1" cy="780.2" r="3.4" fill="none" stroke="#ff2020" stroke-width="1.2"/><polyline points="158.3,662.9 293.9,700.1 429.5,717.3 565.1,731.6" fill="none" stroke="#2222ff" stroke-width="1.15"/><circle cx="158.3" cy="662.9" r="3.4" fill="none" stroke="#2222ff" stroke-width="1.2"/><circle cx="293.9" cy="700.1" r="3.4" fill="none" stroke="#2222ff" stroke-width="1.2"/><circle cx="429.5" cy="717.3" r="3.4" fill="none" stroke="#2222ff" stroke-width="1.2"/><circle cx="565.1" cy="731.6" r="3.4" fill="none" stroke="#2222ff" stroke-width="1.2"/><polyline points="158.3,620.0 293.9,665.8 429.5,685.8 565.1,694.4" fill="none" stroke="#00ee00" stroke-width="1.15"/><circle cx="158.3" cy="620.0" r="3.4" fill="none" stroke="#00ee00" stroke-width="1.2"/><circle cx="293.9" cy="665.8" r="3.4" fill="none" stroke="#00ee00" stroke-width="1.2"/><circle cx="429.5" cy="685.8" r="3.4" fill="none" stroke="#00ee00" stroke-width="1.2"/><circle cx="565.1" cy="694.4" r="3.4" fill="none" stroke="#00ee00" stroke-width="1.2"/><rect x="411.7" y="604.8" width="149" height="59.4" fill="#fff" stroke="#c4c4c4" stroke-width="1"/><path d="M413.6 612.9h15.6" stroke="#101010" stroke-width="1.3"/><circle cx="421.5" cy="612.9" r="3.4" fill="none" stroke="#101010" stroke-width="1.2"/><text x="431.5" y="617.2" font-size="12.5" font-family="'Liberation Serif',serif" font-weight="bold">Paddle speed = 20 RPM</text><path d="M413.6 627.5h15.6" stroke="#ff2020" stroke-width="1.3"/><circle cx="421.5" cy="627.5" r="3.4" fill="none" stroke="#ff2020" stroke-width="1.2"/><text x="431.5" y="631.8" font-size="12.5" font-family="'Liberation Serif',serif" font-weight="bold">Paddle speed = 40 RPM</text><path d="M413.6 642.1h15.6" stroke="#2222ff" stroke-width="1.3"/><circle cx="421.5" cy="642.1" r="3.4" fill="none" stroke="#2222ff" stroke-width="1.2"/><text x="431.5" y="646.4" font-size="12.5" font-family="'Liberation Serif',serif" font-weight="bold">Paddle speed = 60 RPM</text><path d="M413.6 656.7h15.6" stroke="#00ee00" stroke-width="1.3"/><circle cx="421.5" cy="656.7" r="3.4" fill="none" stroke="#00ee00" stroke-width="1.2"/><text x="431.5" y="661" font-size="12.5" font-family="'Liberation Serif',serif" font-weight="bold">Paddle speed = 80 RPM</text></svg>
<rect x="637.8" y="600" width="406.8" height="286" fill="none" stroke="#cbcbcb" stroke-width="1.2"/><path d="M705.6 886v-4M705.6 600v4M773.4 886v-4M773.4 600v4M841.2 886v-4M841.2 600v4M909 886v-4M909 600v4M976.8 886v-4M976.8 600v4M637.8 743h4M1044.6 743h-4" stroke="#cbcbcb" stroke-width="1.1" fill="none"/><text x="637.3" y="903.2" text-anchor="middle" font-size="14" font-family="'Liberation Serif',serif" font-weight="bold">20</text><text x="705.1" y="903.2" text-anchor="middle" font-size="14" font-family="'Liberation Serif',serif" font-weight="bold">30</text><text x="772.9" y="903.2" text-anchor="middle" font-size="14" font-family="'Liberation Serif',serif" font-weight="bold">40</text><text x="840.7" y="903.2" text-anchor="middle" font-size="14" font-family="'Liberation Serif',serif" font-weight="bold">50</text><text x="908.5" y="903.2" text-anchor="middle" font-size="14" font-family="'Liberation Serif',serif" font-weight="bold">60</text><text x="976.3" y="903.2" text-anchor="middle" font-size="14" font-family="'Liberation Serif',serif" font-weight="bold">70</text><text x="1044.1" y="903.2" text-anchor="middle" font-size="14" font-family="'Liberation Serif',serif" font-weight="bold">80</text><text x="633.8" y="890.7" text-anchor="end" font-size="14" font-family="'Liberation Serif',serif" font-weight="bold">0.005</text><text x="633.8" y="747.7" text-anchor="end" font-size="14" font-family="'Liberation Serif',serif" font-weight="bold">0.01</text><text x="633.8" y="604.7" text-anchor="end" font-size="14" font-family="'Liberation Serif',serif" font-weight="bold">0.015</text><text x="840.7" y="920.8" text-anchor="middle" font-size="15.4" font-family="'Liberation Serif',serif" font-weight="bold">Paddle speed [RPM]</text><text transform="translate(598.3 743.3) rotate(-90)" text-anchor="middle" font-size="15.2" font-family="'Liberation Serif',serif" font-weight="bold">Shear work [J]</text><polyline points="637.8,785.9 773.4,700.1 909.0,662.9 1044.6,620.0" fill="none" stroke="#101010" stroke-width="1.15"/><circle cx="637.8" cy="785.9" r="3.4" fill="none" stroke="#101010" stroke-width="1.2"/><circle cx="773.4" cy="700.1" r="3.4" fill="none" stroke="#101010" stroke-width="1.2"/><circle cx="909.0" cy="662.9" r="3.4" fill="none" stroke="#101010" stroke-width="1.2"/><circle cx="1044.6" cy="620.0" r="3.4" fill="none" stroke="#101010" stroke-width="1.2"/><polyline points="637.8,823.1 773.4,743.0 909.0,700.1 1044.6,665.8" fill="none" stroke="#ff2020" stroke-width="1.15"/><circle cx="637.8" cy="823.1" r="3.4" fill="none" stroke="#ff2020" stroke-width="1.2"/><circle cx="773.4" cy="743.0" r="3.4" fill="none" stroke="#ff2020" stroke-width="1.2"/><circle cx="909.0" cy="700.1" r="3.4" fill="none" stroke="#ff2020" stroke-width="1.2"/><circle cx="1044.6" cy="665.8" r="3.4" fill="none" stroke="#ff2020" stroke-width="1.2"/><polyline points="637.8,843.1 773.4,760.2 909.0,717.3 1044.6,685.8" fill="none" stroke="#2222ff" stroke-width="1.15"/><circle cx="637.8" cy="843.1" r="3.4" fill="none" stroke="#2222ff" stroke-width="1.2"/><circle cx="773.4" cy="760.2" r="3.4" fill="none" stroke="#2222ff" stroke-width="1.2"/><circle cx="909.0" cy="717.3" r="3.4" fill="none" stroke="#2222ff" stroke-width="1.2"/><circle cx="1044.6" cy="685.8" r="3.4" fill="none" stroke="#2222ff" stroke-width="1.2"/><polyline points="637.8,860.3 773.4,780.2 909.0,731.6 1044.6,694.4" fill="none" stroke="#00ee00" stroke-width="1.15"/><circle cx="637.8" cy="860.3" r="3.4" fill="none" stroke="#00ee00" stroke-width="1.2"/><circle cx="773.4" cy="780.2" r="3.4" fill="none" stroke="#00ee00" stroke-width="1.2"/><circle cx="909.0" cy="731.6" r="3.4" fill="none" stroke="#00ee00" stroke-width="1.2"/><circle cx="1044.6" cy="694.4" r="3.4" fill="none" stroke="#00ee00" stroke-width="1.2"/><rect x="642.3" y="604.8" width="149" height="59.4" fill="#fff" stroke="#c4c4c4" stroke-width="1"/><path d="M644.2 612.9h15.6" stroke="#101010" stroke-width="1.3"/><circle cx="652.1" cy="612.9" r="3.4" fill="none" stroke="#101010" stroke-width="1.2"/><text x="662.1" y="617.2" font-size="12.5" font-family="'Liberation Serif',serif" font-weight="bold">Turret speed = 20 RPM</text><path d="M644.2 627.5h15.6" stroke="#ff2020" stroke-width="1.3"/><circle cx="652.1" cy="627.5" r="3.4" fill="none" stroke="#ff2020" stroke-width="1.2"/><text x="662.1" y="631.8" font-size="12.5" font-family="'Liberation Serif',serif" font-weight="bold">Turret speed = 40 RPM</text><path d="M644.2 642.1h15.6" stroke="#2222ff" stroke-width="1.3"/><circle cx="652.1" cy="642.1" r="3.4" fill="none" stroke="#2222ff" stroke-width="1.2"/><text x="662.1" y="646.4" font-size="12.5" font-family="'Liberation Serif',serif" font-weight="bold">Turret speed = 60 RPM</text><path d="M644.2 656.7h15.6" stroke="#00ee00" stroke-width="1.3"/><circle cx="652.1" cy="656.7" r="3.4" fill="none" stroke="#00ee00" stroke-width="1.2"/><text x="662.1" y="661" font-size="12.5" font-family="'Liberation Serif',serif" font-weight="bold">Turret speed = 80 RPM</text>
<text transform="translate(147.5 494.3) scale(1.108 1)" text-anchor="middle" font-family="'Liberation Serif',serif" font-size="25">(<tspan font-weight="bold">a</tspan>) Paddle speed = 20</text><text transform="translate(147.5 528.5) scale(1.108 1)" text-anchor="middle" font-family="'Liberation Serif',serif" font-size="25">RPM, Turret speed = 20</text><text transform="translate(147.5 562.7) scale(1.108 1)" text-anchor="middle" font-family="'Liberation Serif',serif" font-size="25">RPM</text><text transform="translate(437.3 494.3) scale(1.108 1)" text-anchor="middle" font-family="'Liberation Serif',serif" font-size="25">(<tspan font-weight="bold">b</tspan>) Paddle speed = 20</text><text transform="translate(437.3 528.5) scale(1.108 1)" text-anchor="middle" font-family="'Liberation Serif',serif" font-size="25">RPM, Turret speed = 80</text><text transform="translate(437.3 562.7) scale(1.108 1)" text-anchor="middle" font-family="'Liberation Serif',serif" font-size="25">RPM</text><text transform="translate(718.2 494.3) scale(1.108 1)" text-anchor="middle" font-family="'Liberation Serif',serif" font-size="25">(<tspan font-weight="bold">c</tspan>) Paddle speed = 80</text><text transform="translate(718.2 528.5) scale(1.108 1)" text-anchor="middle" font-family="'Liberation Serif',serif" font-size="25">RPM, Turret speed =</text><text transform="translate(718.2 562.7) scale(1.108 1)" text-anchor="middle" font-family="'Liberation Serif',serif" font-size="25">20 RPM</text><text transform="translate(990.3 494.3) scale(1.108 1)" text-anchor="middle" font-family="'Liberation Serif',serif" font-size="25">(<tspan font-weight="bold">d</tspan>) Paddle speed = 80</text><text transform="translate(990.3 528.5) scale(1.108 1)" text-anchor="middle" font-family="'Liberation Serif',serif" font-size="25">RPM, Turret speed = 80</text><text transform="translate(990.3 562.7) scale(1.108 1)" text-anchor="middle" font-family="'Liberation Serif',serif" font-size="25">RPM</text><text transform="translate(300.7 956.7) scale(1.108 1)" text-anchor="middle" font-family="'Liberation Serif',serif" font-size="25">(<tspan font-weight="bold">e</tspan>)</text><text transform="translate(861.7 956.7) scale(1.108 1)" text-anchor="middle" font-family="'Liberation Serif',serif" font-size="25">(<tspan font-weight="bold">f</tspan>)</text><text x="85.5" y="33" word-spacing="1.9" font-family="'Liberation Serif',serif" font-size="19">Shear work (J)</text><text x="256.3" y="33" text-anchor="middle" font-family="'Liberation Serif',serif" font-size="18">0</text><text x="323.7" y="33" text-anchor="middle" font-family="'Liberation Serif',serif" font-size="18">0.005</text><text x="389" y="33" text-anchor="middle" font-family="'Liberation Serif',serif" font-size="18">0.010</text><text x="454.5" y="33" text-anchor="middle" font-family="'Liberation Serif',serif" font-size="18">0.015</text><text x="523" y="33" text-anchor="middle" font-family="'Liberation Serif',serif" font-size="18">0.020</text>
</svg></body></html>
